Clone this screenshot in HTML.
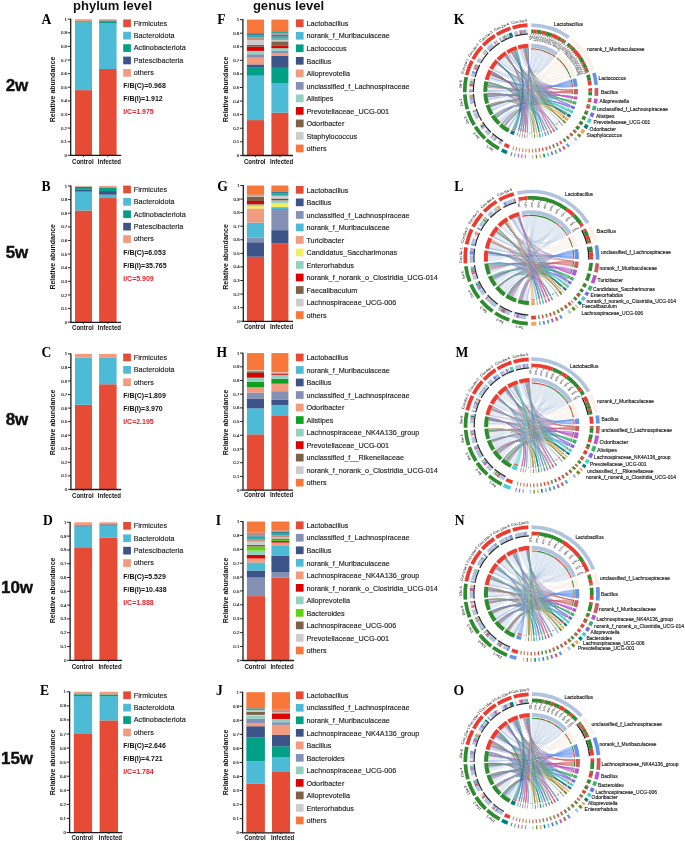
<!DOCTYPE html>
<html lang="en"><head><meta charset="utf-8"><title>Figure</title>
<style>html,body{margin:0;padding:0;background:#fff}svg{display:block;font-family:'Liberation Sans',Arial,sans-serif;fill:#111}text{white-space:pre}.s{font-family:'Liberation Serif','Times New Roman',serif}.t{font-size:2.9px;fill:#000}.k{stroke:#222;stroke-width:.14px}.w{stroke:#111;stroke-width:.4px}.rb path{fill-opacity:.5;stroke-opacity:.75;stroke-width:.2}.rb .c0{fill-opacity:.36;stroke-opacity:.6}.rb .c1{fill-opacity:.5;stroke-opacity:.7}.c0{fill:#B0C4DE;stroke:#B0C4DE}.c1{fill:#FAF0E6;stroke:#FAF0E6}.c2{fill:#6495ED;stroke:#6495ED}.c3{fill:#CD5C5C;stroke:#CD5C5C}.c4{fill:#BA55D3;stroke:#BA55D3}.c5{fill:#3CB371;stroke:#3CB371}.c6{fill:#7B68EE;stroke:#7B68EE}.c7{fill:#48D1CC;stroke:#48D1CC}.c8{fill:#008080;stroke:#008080}.c9{fill:#F4A460;stroke:#F4A460}.c10{fill:#6B8E23;stroke:#6B8E23}</style>
</head><body>
<svg width="685" height="841" viewBox="0 0 685 841">
<rect width="685" height="841" fill="#fff"/>
<text x="112.5" y="10.4" font-size="13" font-weight="bold" text-anchor="middle" textLength="79" lengthAdjust="spacingAndGlyphs">phylum level</text>
<text x="288.5" y="10.4" font-size="13" font-weight="bold" text-anchor="middle" textLength="71.2" lengthAdjust="spacingAndGlyphs">genus level</text>
<text x="17" y="91.1" font-size="17" class="w" font-weight="bold" text-anchor="middle">2w</text>
<text x="17" y="257.7" font-size="17" class="w" font-weight="bold" text-anchor="middle">5w</text>
<text x="17" y="425" font-size="17" class="w" font-weight="bold" text-anchor="middle">8w</text>
<text x="17" y="593" font-size="17" class="w" font-weight="bold" text-anchor="middle">10w</text>
<text x="17" y="763.5" font-size="17" class="w" font-weight="bold" text-anchor="middle">15w</text>
<text x="41.6" y="24.2" font-size="13.6" class="s" font-weight="bold" fill="#000">A</text>
<rect x="75" y="90.11" width="17" height="65.24" fill="#E64B35"/>
<rect x="75" y="22.47" width="17" height="67.69" fill="#4DBBD5"/>
<rect x="75" y="21.24" width="17" height="1.27" fill="#00A087"/>
<rect x="75" y="19.2" width="17" height="2.09" fill="#F39B7F"/>
<rect x="99.1" y="69.01" width="17.5" height="86.34" fill="#E64B35"/>
<rect x="99.1" y="23.42" width="17.5" height="45.64" fill="#4DBBD5"/>
<rect x="99.1" y="21.38" width="17.5" height="2.09" fill="#00A087"/>
<rect x="99.1" y="20.42" width="17.5" height="1" fill="#3C5488"/>
<rect x="99.1" y="19.2" width="17.5" height="1.27" fill="#F39B7F"/>
<path d="M70.7 18.8V155.4H121.2" fill="none" stroke="#1c1c1c" stroke-width="1.3"/>
<path d="M70.7 155.3h-3M70.7 141.69h-3M70.7 128.08h-3M70.7 114.47h-3M70.7 100.86h-3M70.7 87.25h-3M70.7 73.64h-3M70.7 60.03h-3M70.7 46.42h-3M70.7 32.81h-3M70.7 19.2h-3M83.5 155.3v1.6M107.85 155.3v1.6" fill="none" stroke="#1c1c1c" stroke-width="0.95"/>
<text x="67" y="156.85" font-size="4.3" class="k" fill="#222" text-anchor="end">0</text>
<text x="67" y="143.24" font-size="4.3" class="k" fill="#222" text-anchor="end">0.1</text>
<text x="67" y="129.63" font-size="4.3" class="k" fill="#222" text-anchor="end">0.2</text>
<text x="67" y="116.02" font-size="4.3" class="k" fill="#222" text-anchor="end">0.3</text>
<text x="67" y="102.41" font-size="4.3" class="k" fill="#222" text-anchor="end">0.4</text>
<text x="67" y="88.8" font-size="4.3" class="k" fill="#222" text-anchor="end">0.5</text>
<text x="67" y="75.19" font-size="4.3" class="k" fill="#222" text-anchor="end">0.6</text>
<text x="67" y="61.58" font-size="4.3" class="k" fill="#222" text-anchor="end">0.7</text>
<text x="67" y="47.97" font-size="4.3" class="k" fill="#222" text-anchor="end">0.8</text>
<text x="67" y="34.36" font-size="4.3" class="k" fill="#222" text-anchor="end">0.9</text>
<text x="67" y="20.75" font-size="4.3" class="k" fill="#222" text-anchor="end">1</text>
<text x="0" y="0" font-size="7" font-weight="bold" text-anchor="middle" textLength="65.6" lengthAdjust="spacingAndGlyphs" transform="translate(55.2 89.5) rotate(-90)">Relative abundance</text>
<text x="82.8" y="163.7" font-size="6.3" font-weight="bold" text-anchor="middle" textLength="21.6" lengthAdjust="spacingAndGlyphs">Control</text>
<text x="109.45" y="163.7" font-size="6.3" font-weight="bold" text-anchor="middle" textLength="23.2" lengthAdjust="spacingAndGlyphs">Infected</text>
<rect x="123.2" y="19.4" width="7.7" height="7.7" fill="#E64B35"/>
<text x="133.75" y="25.65" font-size="7.25" class="k" fill="#1a1a1a">Firmicutes</text>
<rect x="123.2" y="31.8" width="7.7" height="7.7" fill="#4DBBD5"/>
<text x="133.75" y="38.05" font-size="7.25" class="k" fill="#1a1a1a">Bacteroidota</text>
<rect x="123.2" y="44.2" width="7.7" height="7.7" fill="#00A087"/>
<text x="133.75" y="50.45" font-size="7.25" class="k" fill="#1a1a1a">Actinobacteriota</text>
<rect x="123.2" y="56.6" width="7.7" height="7.7" fill="#3C5488"/>
<text x="133.75" y="62.85" font-size="7.25" class="k" fill="#1a1a1a">Patescibacteria</text>
<rect x="123.2" y="69" width="7.7" height="7.7" fill="#F39B7F"/>
<text x="133.75" y="75.25" font-size="7.25" class="k" fill="#1a1a1a">others</text>
<text x="123.2" y="88.3" font-size="7" font-weight="bold">F/B(C)=0.968</text>
<text x="123.2" y="101.3" font-size="7" font-weight="bold">F/B(I)=1.912</text>
<text x="123.2" y="114.3" font-size="7" font-weight="bold" fill="#E8202A">I/C=1.975</text>
<text x="41.6" y="190.6" font-size="13.6" class="s" font-weight="bold" fill="#000">B</text>
<rect x="75" y="210.52" width="17" height="111.73" fill="#E64B35"/>
<rect x="75" y="191.58" width="17" height="18.98" fill="#4DBBD5"/>
<rect x="75" y="189.41" width="17" height="2.23" fill="#3C5488"/>
<rect x="75" y="186.6" width="17" height="2.86" fill="#00A087"/>
<rect x="75" y="186" width="17" height="0.65" fill="#F39B7F"/>
<rect x="99.1" y="198.05" width="17.5" height="124.2" fill="#E64B35"/>
<rect x="99.1" y="194.64" width="17.5" height="3.47" fill="#4DBBD5"/>
<rect x="99.1" y="191.04" width="17.5" height="3.65" fill="#3C5488"/>
<rect x="99.1" y="187.36" width="17.5" height="3.73" fill="#00A087"/>
<rect x="99.1" y="186" width="17.5" height="1.41" fill="#F39B7F"/>
<path d="M70.9 185.6V322.3H121.2" fill="none" stroke="#1c1c1c" stroke-width="1.3"/>
<path d="M70.9 322.2h-3M70.9 308.58h-3M70.9 294.96h-3M70.9 281.34h-3M70.9 267.72h-3M70.9 254.1h-3M70.9 240.48h-3M70.9 226.86h-3M70.9 213.24h-3M70.9 199.62h-3M70.9 186h-3M83.5 322.2v1.6M107.85 322.2v1.6" fill="none" stroke="#1c1c1c" stroke-width="0.95"/>
<text x="67.2" y="323.75" font-size="4.3" class="k" fill="#222" text-anchor="end">0</text>
<text x="67.2" y="310.13" font-size="4.3" class="k" fill="#222" text-anchor="end">0.1</text>
<text x="67.2" y="296.51" font-size="4.3" class="k" fill="#222" text-anchor="end">0.2</text>
<text x="67.2" y="282.89" font-size="4.3" class="k" fill="#222" text-anchor="end">0.3</text>
<text x="67.2" y="269.27" font-size="4.3" class="k" fill="#222" text-anchor="end">0.4</text>
<text x="67.2" y="255.65" font-size="4.3" class="k" fill="#222" text-anchor="end">0.5</text>
<text x="67.2" y="242.03" font-size="4.3" class="k" fill="#222" text-anchor="end">0.6</text>
<text x="67.2" y="228.41" font-size="4.3" class="k" fill="#222" text-anchor="end">0.7</text>
<text x="67.2" y="214.79" font-size="4.3" class="k" fill="#222" text-anchor="end">0.8</text>
<text x="67.2" y="201.17" font-size="4.3" class="k" fill="#222" text-anchor="end">0.9</text>
<text x="67.2" y="187.55" font-size="4.3" class="k" fill="#222" text-anchor="end">1</text>
<text x="0" y="0" font-size="7" font-weight="bold" text-anchor="middle" textLength="65.6" lengthAdjust="spacingAndGlyphs" transform="translate(55.2 256.8) rotate(-90)">Relative abundance</text>
<text x="82.8" y="329.6" font-size="6.3" font-weight="bold" text-anchor="middle" textLength="21.6" lengthAdjust="spacingAndGlyphs">Control</text>
<text x="109.45" y="329.6" font-size="6.3" font-weight="bold" text-anchor="middle" textLength="23.2" lengthAdjust="spacingAndGlyphs">Infected</text>
<rect x="123.2" y="185.6" width="7.7" height="7.7" fill="#E64B35"/>
<text x="133.75" y="191.85" font-size="7.25" class="k" fill="#1a1a1a">Firmicutes</text>
<rect x="123.2" y="198" width="7.7" height="7.7" fill="#4DBBD5"/>
<text x="133.75" y="204.25" font-size="7.25" class="k" fill="#1a1a1a">Bacteroidota</text>
<rect x="123.2" y="210.4" width="7.7" height="7.7" fill="#00A087"/>
<text x="133.75" y="216.65" font-size="7.25" class="k" fill="#1a1a1a">Actinobacteriota</text>
<rect x="123.2" y="222.8" width="7.7" height="7.7" fill="#3C5488"/>
<text x="133.75" y="229.05" font-size="7.25" class="k" fill="#1a1a1a">Patescibacteria</text>
<rect x="123.2" y="235.2" width="7.7" height="7.7" fill="#F39B7F"/>
<text x="133.75" y="241.45" font-size="7.25" class="k" fill="#1a1a1a">others</text>
<text x="123.2" y="254.5" font-size="7" font-weight="bold">F/B(C)=6.053</text>
<text x="123.2" y="267.5" font-size="7" font-weight="bold">F/B(I)=35.765</text>
<text x="123.2" y="280.5" font-size="7" font-weight="bold" fill="#E8202A">I/C=5.909</text>
<text x="41.6" y="357" font-size="13.6" class="s" font-weight="bold" fill="#000">C</text>
<rect x="75" y="404.71" width="17" height="84.74" fill="#E64B35"/>
<rect x="75" y="357.69" width="17" height="47.07" fill="#4DBBD5"/>
<rect x="75" y="353.9" width="17" height="3.84" fill="#F39B7F"/>
<rect x="99.1" y="384.25" width="17.5" height="105.2" fill="#E64B35"/>
<rect x="99.1" y="357.29" width="17.5" height="27.01" fill="#4DBBD5"/>
<rect x="99.1" y="353.9" width="17.5" height="3.44" fill="#F39B7F"/>
<path d="M70.9 353.5V489.5H121.2" fill="none" stroke="#1c1c1c" stroke-width="1.3"/>
<path d="M70.9 489.4h-3M70.9 475.85h-3M70.9 462.3h-3M70.9 448.75h-3M70.9 435.2h-3M70.9 421.65h-3M70.9 408.1h-3M70.9 394.55h-3M70.9 381h-3M70.9 367.45h-3M70.9 353.9h-3M83.5 489.4v1.6M107.85 489.4v1.6" fill="none" stroke="#1c1c1c" stroke-width="0.95"/>
<text x="67.2" y="490.95" font-size="4.3" class="k" fill="#222" text-anchor="end">0</text>
<text x="67.2" y="477.4" font-size="4.3" class="k" fill="#222" text-anchor="end">0.1</text>
<text x="67.2" y="463.85" font-size="4.3" class="k" fill="#222" text-anchor="end">0.2</text>
<text x="67.2" y="450.3" font-size="4.3" class="k" fill="#222" text-anchor="end">0.3</text>
<text x="67.2" y="436.75" font-size="4.3" class="k" fill="#222" text-anchor="end">0.4</text>
<text x="67.2" y="423.2" font-size="4.3" class="k" fill="#222" text-anchor="end">0.5</text>
<text x="67.2" y="409.65" font-size="4.3" class="k" fill="#222" text-anchor="end">0.6</text>
<text x="67.2" y="396.1" font-size="4.3" class="k" fill="#222" text-anchor="end">0.7</text>
<text x="67.2" y="382.55" font-size="4.3" class="k" fill="#222" text-anchor="end">0.8</text>
<text x="67.2" y="369" font-size="4.3" class="k" fill="#222" text-anchor="end">0.9</text>
<text x="67.2" y="355.45" font-size="4.3" class="k" fill="#222" text-anchor="end">1</text>
<text x="0" y="0" font-size="7" font-weight="bold" text-anchor="middle" textLength="65.6" lengthAdjust="spacingAndGlyphs" transform="translate(55.2 422.5) rotate(-90)">Relative abundance</text>
<text x="82.8" y="497.6" font-size="6.3" font-weight="bold" text-anchor="middle" textLength="21.6" lengthAdjust="spacingAndGlyphs">Control</text>
<text x="109.45" y="497.6" font-size="6.3" font-weight="bold" text-anchor="middle" textLength="23.2" lengthAdjust="spacingAndGlyphs">Infected</text>
<rect x="123.2" y="353.6" width="7.7" height="7.7" fill="#E64B35"/>
<text x="133.75" y="359.85" font-size="7.25" class="k" fill="#1a1a1a">Firmicutes</text>
<rect x="123.2" y="366" width="7.7" height="7.7" fill="#4DBBD5"/>
<text x="133.75" y="372.25" font-size="7.25" class="k" fill="#1a1a1a">Bacteroidota</text>
<rect x="123.2" y="378.4" width="7.7" height="7.7" fill="#F39B7F"/>
<text x="133.75" y="384.65" font-size="7.25" class="k" fill="#1a1a1a">others</text>
<text x="123.2" y="397.7" font-size="7" font-weight="bold">F/B(C)=1.809</text>
<text x="123.2" y="410.7" font-size="7" font-weight="bold">F/B(I)=3.970</text>
<text x="123.2" y="423.7" font-size="7" font-weight="bold" fill="#E8202A">I/C=2.195</text>
<text x="42.9" y="524.7" font-size="13.6" class="s" font-weight="bold" fill="#000">D</text>
<rect x="74.3" y="547.28" width="17.8" height="113.07" fill="#E64B35"/>
<rect x="74.3" y="526.3" width="17.8" height="21.03" fill="#4DBBD5"/>
<rect x="74.3" y="525.34" width="17.8" height="1.02" fill="#3C5488"/>
<rect x="74.3" y="522.3" width="17.8" height="3.09" fill="#F39B7F"/>
<rect x="99.4" y="537.76" width="18" height="122.59" fill="#E64B35"/>
<rect x="99.4" y="525.34" width="18" height="12.47" fill="#4DBBD5"/>
<rect x="99.4" y="524.3" width="18" height="1.09" fill="#3C5488"/>
<rect x="99.4" y="522.3" width="18" height="2.05" fill="#F39B7F"/>
<path d="M70.1 521.9V660.4H122" fill="none" stroke="#1c1c1c" stroke-width="1.3"/>
<path d="M70.1 660.3h-3M70.1 646.5h-3M70.1 632.7h-3M70.1 618.9h-3M70.1 605.1h-3M70.1 591.3h-3M70.1 577.5h-3M70.1 563.7h-3M70.1 549.9h-3M70.1 536.1h-3M70.1 522.3h-3M83.2 660.3v1.6M108.4 660.3v1.6" fill="none" stroke="#1c1c1c" stroke-width="0.95"/>
<text x="66.4" y="661.85" font-size="4.3" class="k" fill="#222" text-anchor="end">0</text>
<text x="66.4" y="648.05" font-size="4.3" class="k" fill="#222" text-anchor="end">0.1</text>
<text x="66.4" y="634.25" font-size="4.3" class="k" fill="#222" text-anchor="end">0.2</text>
<text x="66.4" y="620.45" font-size="4.3" class="k" fill="#222" text-anchor="end">0.3</text>
<text x="66.4" y="606.65" font-size="4.3" class="k" fill="#222" text-anchor="end">0.4</text>
<text x="66.4" y="592.85" font-size="4.3" class="k" fill="#222" text-anchor="end">0.5</text>
<text x="66.4" y="579.05" font-size="4.3" class="k" fill="#222" text-anchor="end">0.6</text>
<text x="66.4" y="565.25" font-size="4.3" class="k" fill="#222" text-anchor="end">0.7</text>
<text x="66.4" y="551.45" font-size="4.3" class="k" fill="#222" text-anchor="end">0.8</text>
<text x="66.4" y="537.65" font-size="4.3" class="k" fill="#222" text-anchor="end">0.9</text>
<text x="66.4" y="523.85" font-size="4.3" class="k" fill="#222" text-anchor="end">1</text>
<text x="0" y="0" font-size="7" font-weight="bold" text-anchor="middle" textLength="65.6" lengthAdjust="spacingAndGlyphs" transform="translate(55.2 590.4) rotate(-90)">Relative abundance</text>
<text x="82.5" y="668.7" font-size="6.3" font-weight="bold" text-anchor="middle" textLength="21.6" lengthAdjust="spacingAndGlyphs">Control</text>
<text x="110" y="668.7" font-size="6.3" font-weight="bold" text-anchor="middle" textLength="23.2" lengthAdjust="spacingAndGlyphs">Infected</text>
<rect x="123.2" y="522" width="7.7" height="7.7" fill="#E64B35"/>
<text x="133.75" y="528.25" font-size="7.25" class="k" fill="#1a1a1a">Firmicutes</text>
<rect x="123.2" y="534.4" width="7.7" height="7.7" fill="#4DBBD5"/>
<text x="133.75" y="540.65" font-size="7.25" class="k" fill="#1a1a1a">Bacteroidota</text>
<rect x="123.2" y="546.8" width="7.7" height="7.7" fill="#3C5488"/>
<text x="133.75" y="553.05" font-size="7.25" class="k" fill="#1a1a1a">Patescibacteria</text>
<rect x="123.2" y="559.2" width="7.7" height="7.7" fill="#F39B7F"/>
<text x="133.75" y="565.45" font-size="7.25" class="k" fill="#1a1a1a">others</text>
<text x="123.2" y="578.5" font-size="7" font-weight="bold">F/B(C)=5.529</text>
<text x="123.2" y="591.5" font-size="7" font-weight="bold">F/B(I)=10.438</text>
<text x="123.2" y="604.5" font-size="7" font-weight="bold" fill="#E8202A">I/C=1.888</text>
<text x="40" y="695.3" font-size="13.6" class="s" font-weight="bold" fill="#000">E</text>
<rect x="73.8" y="733.31" width="18.3" height="99.24" fill="#E64B35"/>
<rect x="73.8" y="696.02" width="18.3" height="37.34" fill="#4DBBD5"/>
<rect x="73.8" y="694.19" width="18.3" height="1.88" fill="#00A087"/>
<rect x="73.8" y="691.8" width="18.3" height="2.44" fill="#F39B7F"/>
<rect x="99.6" y="720.36" width="18.4" height="112.19" fill="#E64B35"/>
<rect x="99.6" y="696.44" width="18.4" height="23.97" fill="#4DBBD5"/>
<rect x="99.6" y="694.39" width="18.4" height="2.1" fill="#00A087"/>
<rect x="99.6" y="691.8" width="18.4" height="2.64" fill="#F39B7F"/>
<path d="M69.6 691.4V832.6H122.6" fill="none" stroke="#1c1c1c" stroke-width="1.3"/>
<path d="M69.6 832.5h-3M69.6 818.43h-3M69.6 804.36h-3M69.6 790.29h-3M69.6 776.22h-3M69.6 762.15h-3M69.6 748.08h-3M69.6 734.01h-3M69.6 719.94h-3M69.6 705.87h-3M69.6 691.8h-3M82.95 832.5v1.6M108.8 832.5v1.6" fill="none" stroke="#1c1c1c" stroke-width="0.95"/>
<text x="65.9" y="834.05" font-size="4.3" class="k" fill="#222" text-anchor="end">0</text>
<text x="65.9" y="819.98" font-size="4.3" class="k" fill="#222" text-anchor="end">0.1</text>
<text x="65.9" y="805.91" font-size="4.3" class="k" fill="#222" text-anchor="end">0.2</text>
<text x="65.9" y="791.84" font-size="4.3" class="k" fill="#222" text-anchor="end">0.3</text>
<text x="65.9" y="777.77" font-size="4.3" class="k" fill="#222" text-anchor="end">0.4</text>
<text x="65.9" y="763.7" font-size="4.3" class="k" fill="#222" text-anchor="end">0.5</text>
<text x="65.9" y="749.63" font-size="4.3" class="k" fill="#222" text-anchor="end">0.6</text>
<text x="65.9" y="735.56" font-size="4.3" class="k" fill="#222" text-anchor="end">0.7</text>
<text x="65.9" y="721.49" font-size="4.3" class="k" fill="#222" text-anchor="end">0.8</text>
<text x="65.9" y="707.42" font-size="4.3" class="k" fill="#222" text-anchor="end">0.9</text>
<text x="65.9" y="693.35" font-size="4.3" class="k" fill="#222" text-anchor="end">1</text>
<text x="0" y="0" font-size="7" font-weight="bold" text-anchor="middle" textLength="65.6" lengthAdjust="spacingAndGlyphs" transform="translate(55.2 762.5) rotate(-90)">Relative abundance</text>
<text x="82.25" y="839.8" font-size="6.3" font-weight="bold" text-anchor="middle" textLength="21.6" lengthAdjust="spacingAndGlyphs">Control</text>
<text x="110.4" y="839.8" font-size="6.3" font-weight="bold" text-anchor="middle" textLength="23.2" lengthAdjust="spacingAndGlyphs">Infected</text>
<rect x="123.2" y="691.4" width="7.7" height="7.7" fill="#E64B35"/>
<text x="133.75" y="697.65" font-size="7.25" class="k" fill="#1a1a1a">Firmicutes</text>
<rect x="123.2" y="703.8" width="7.7" height="7.7" fill="#4DBBD5"/>
<text x="133.75" y="710.05" font-size="7.25" class="k" fill="#1a1a1a">Bacteroidota</text>
<rect x="123.2" y="716.2" width="7.7" height="7.7" fill="#00A087"/>
<text x="133.75" y="722.45" font-size="7.25" class="k" fill="#1a1a1a">Actinobacteriota</text>
<rect x="123.2" y="728.6" width="7.7" height="7.7" fill="#F39B7F"/>
<text x="133.75" y="734.85" font-size="7.25" class="k" fill="#1a1a1a">others</text>
<text x="123.2" y="747.9" font-size="7" font-weight="bold">F/B(C)=2.646</text>
<text x="123.2" y="760.9" font-size="7" font-weight="bold">F/B(I)=4.721</text>
<text x="123.2" y="773.9" font-size="7" font-weight="bold" fill="#E8202A">I/C=1.784</text>
<text x="217.3" y="24.3" font-size="13.6" class="s" font-weight="bold" fill="#000">F</text>
<rect x="246.9" y="120.09" width="17.1" height="35.36" fill="#E64B35"/>
<rect x="246.9" y="75.69" width="17.1" height="44.46" fill="#4DBBD5"/>
<rect x="246.9" y="67.13" width="17.1" height="8.61" fill="#00A087"/>
<rect x="246.9" y="64.41" width="17.1" height="2.77" fill="#3C5488"/>
<rect x="246.9" y="57.62" width="17.1" height="6.84" fill="#F39B7F"/>
<rect x="246.9" y="54.23" width="17.1" height="3.44" fill="#8491B4"/>
<rect x="246.9" y="50.83" width="17.1" height="3.45" fill="#91D1C2"/>
<rect x="246.9" y="46.76" width="17.1" height="4.12" fill="#DC0000"/>
<rect x="246.9" y="44.72" width="17.1" height="2.09" fill="#7E6148"/>
<rect x="246.9" y="39.97" width="17.1" height="4.8" fill="#CCCCCC"/>
<rect x="246.9" y="37.53" width="17.1" height="2.49" fill="#C98F80"/>
<rect x="246.9" y="35.22" width="17.1" height="2.36" fill="#2FA9A4"/>
<rect x="246.9" y="33.18" width="17.1" height="2.09" fill="#2E7F98"/>
<rect x="246.9" y="19.6" width="17.1" height="13.63" fill="#F8773B"/>
<rect x="271.4" y="112.62" width="17" height="42.83" fill="#E64B35"/>
<rect x="271.4" y="83.43" width="17" height="29.25" fill="#4DBBD5"/>
<rect x="271.4" y="67.81" width="17" height="15.67" fill="#00A087"/>
<rect x="271.4" y="55.59" width="17" height="12.27" fill="#3C5488"/>
<rect x="271.4" y="53.55" width="17" height="2.09" fill="#F39B7F"/>
<rect x="271.4" y="50.83" width="17" height="2.77" fill="#8491B4"/>
<rect x="271.4" y="48.12" width="17" height="2.77" fill="#91D1C2"/>
<rect x="271.4" y="45.4" width="17" height="2.77" fill="#DC0000"/>
<rect x="271.4" y="41.33" width="17" height="4.12" fill="#7E6148"/>
<rect x="271.4" y="39.97" width="17" height="1.41" fill="#CCCCCC"/>
<rect x="271.4" y="38.61" width="17" height="1.41" fill="#C98F80"/>
<rect x="271.4" y="36.57" width="17" height="2.09" fill="#2FA9A4"/>
<rect x="271.4" y="34.81" width="17" height="1.82" fill="#2E7F98"/>
<rect x="271.4" y="33.18" width="17" height="1.68" fill="#B08A96"/>
<rect x="271.4" y="31.14" width="17" height="2.09" fill="#2FA9A4"/>
<rect x="271.4" y="19.6" width="17" height="11.59" fill="#F8773B"/>
<path d="M242.9 19.2V155.5H293" fill="none" stroke="#1c1c1c" stroke-width="1.3"/>
<path d="M242.9 155.4h-3M242.9 141.82h-3M242.9 128.24h-3M242.9 114.66h-3M242.9 101.08h-3M242.9 87.5h-3M242.9 73.92h-3M242.9 60.34h-3M242.9 46.76h-3M242.9 33.18h-3M242.9 19.6h-3M255.45 155.4v1.6M279.9 155.4v1.6" fill="none" stroke="#1c1c1c" stroke-width="0.95"/>
<text x="239.2" y="156.95" font-size="4.3" class="k" fill="#222" text-anchor="end">0</text>
<text x="239.2" y="143.37" font-size="4.3" class="k" fill="#222" text-anchor="end">0.1</text>
<text x="239.2" y="129.79" font-size="4.3" class="k" fill="#222" text-anchor="end">0.2</text>
<text x="239.2" y="116.21" font-size="4.3" class="k" fill="#222" text-anchor="end">0.3</text>
<text x="239.2" y="102.63" font-size="4.3" class="k" fill="#222" text-anchor="end">0.4</text>
<text x="239.2" y="89.05" font-size="4.3" class="k" fill="#222" text-anchor="end">0.5</text>
<text x="239.2" y="75.47" font-size="4.3" class="k" fill="#222" text-anchor="end">0.6</text>
<text x="239.2" y="61.89" font-size="4.3" class="k" fill="#222" text-anchor="end">0.7</text>
<text x="239.2" y="48.31" font-size="4.3" class="k" fill="#222" text-anchor="end">0.8</text>
<text x="239.2" y="34.73" font-size="4.3" class="k" fill="#222" text-anchor="end">0.9</text>
<text x="239.2" y="21.15" font-size="4.3" class="k" fill="#222" text-anchor="end">1</text>
<text x="0" y="0" font-size="7" font-weight="bold" text-anchor="middle" textLength="65.6" lengthAdjust="spacingAndGlyphs" transform="translate(228 89.5) rotate(-90)">Relative abundance</text>
<text x="254.75" y="163.8" font-size="6.3" font-weight="bold" text-anchor="middle" textLength="21.6" lengthAdjust="spacingAndGlyphs">Control</text>
<text x="281.5" y="163.8" font-size="6.3" font-weight="bold" text-anchor="middle" textLength="23.2" lengthAdjust="spacingAndGlyphs">Infected</text>
<rect x="295.9" y="19.4" width="7.7" height="7.7" fill="#E64B35"/>
<text x="306.45" y="25.95" font-size="7.25" class="k" fill="#1a1a1a">Lactobacillus</text>
<rect x="295.9" y="31.92" width="7.7" height="7.7" fill="#4DBBD5"/>
<text x="306.45" y="38.47" font-size="7.25" class="k" fill="#1a1a1a">norank_f_Muribaculaceae</text>
<rect x="295.9" y="44.44" width="7.7" height="7.7" fill="#00A087"/>
<text x="306.45" y="50.99" font-size="7.25" class="k" fill="#1a1a1a">Lactococcus</text>
<rect x="295.9" y="56.96" width="7.7" height="7.7" fill="#3C5488"/>
<text x="306.45" y="63.51" font-size="7.25" class="k" fill="#1a1a1a">Bacillus</text>
<rect x="295.9" y="69.48" width="7.7" height="7.7" fill="#F39B7F"/>
<text x="306.45" y="76.03" font-size="7.25" class="k" fill="#1a1a1a">Alloprevotella</text>
<rect x="295.9" y="82" width="7.7" height="7.7" fill="#8491B4"/>
<text x="306.45" y="88.55" font-size="7.25" class="k" fill="#1a1a1a">unclassified_f_Lachnospiraceae</text>
<rect x="295.9" y="94.52" width="7.7" height="7.7" fill="#91D1C2"/>
<text x="306.45" y="101.07" font-size="7.25" class="k" fill="#1a1a1a">Alistipes</text>
<rect x="295.9" y="107.04" width="7.7" height="7.7" fill="#DC0000"/>
<text x="306.45" y="113.59" font-size="7.25" class="k" fill="#1a1a1a">Prevotellaceae_UCG-001</text>
<rect x="295.9" y="119.56" width="7.7" height="7.7" fill="#7E6148"/>
<text x="306.45" y="126.11" font-size="7.25" class="k" fill="#1a1a1a">Odoribacter</text>
<rect x="295.9" y="132.08" width="7.7" height="7.7" fill="#CCCCCC"/>
<text x="306.45" y="138.63" font-size="7.25" class="k" fill="#1a1a1a">Staphylococcus</text>
<rect x="295.9" y="144.6" width="7.7" height="7.7" fill="#F8773B"/>
<text x="306.45" y="151.15" font-size="7.25" class="k" fill="#1a1a1a">others</text>
<text x="217.3" y="190.6" font-size="13.6" class="s" font-weight="bold" fill="#000">G</text>
<rect x="246.9" y="256.66" width="17.1" height="64.59" fill="#E64B35"/>
<rect x="246.9" y="242.22" width="17.1" height="14.49" fill="#3C5488"/>
<rect x="246.9" y="237.74" width="17.1" height="4.53" fill="#8491B4"/>
<rect x="246.9" y="222.55" width="17.1" height="15.25" fill="#4DBBD5"/>
<rect x="246.9" y="208.43" width="17.1" height="14.16" fill="#F39B7F"/>
<rect x="246.9" y="205.99" width="17.1" height="2.49" fill="#F2EE5E"/>
<rect x="246.9" y="204.23" width="17.1" height="1.81" fill="#91D1C2"/>
<rect x="246.9" y="200.97" width="17.1" height="3.31" fill="#DC0000"/>
<rect x="246.9" y="196.49" width="17.1" height="4.53" fill="#7E6148"/>
<rect x="246.9" y="195.54" width="17.1" height="1" fill="#CCCCCC"/>
<rect x="246.9" y="194.73" width="17.1" height="0.86" fill="#2FA9A4"/>
<rect x="246.9" y="185.5" width="17.1" height="9.28" fill="#F8773B"/>
<rect x="271.4" y="243.44" width="17" height="77.81" fill="#E64B35"/>
<rect x="271.4" y="230.15" width="17" height="13.35" fill="#3C5488"/>
<rect x="271.4" y="208.98" width="17" height="21.22" fill="#8491B4"/>
<rect x="271.4" y="207.08" width="17" height="1.95" fill="#4DBBD5"/>
<rect x="271.4" y="203.01" width="17" height="4.12" fill="#F2EE5E"/>
<rect x="271.4" y="200.16" width="17" height="2.9" fill="#91D1C2"/>
<rect x="271.4" y="199.07" width="17" height="1.14" fill="#DC0000"/>
<rect x="271.4" y="198.53" width="17" height="0.59" fill="#7E6148"/>
<rect x="271.4" y="195.95" width="17" height="2.63" fill="#CCCCCC"/>
<rect x="271.4" y="195" width="17" height="1" fill="#C98F80"/>
<rect x="271.4" y="192.96" width="17" height="2.09" fill="#2FA9A4"/>
<rect x="271.4" y="191.34" width="17" height="1.68" fill="#2E7F98"/>
<rect x="271.4" y="185.5" width="17" height="5.89" fill="#F8773B"/>
<path d="M243.3 185.1V321.3H293" fill="none" stroke="#1c1c1c" stroke-width="1.3"/>
<path d="M243.3 321.2h-3M243.3 307.63h-3M243.3 294.06h-3M243.3 280.49h-3M243.3 266.92h-3M243.3 253.35h-3M243.3 239.78h-3M243.3 226.21h-3M243.3 212.64h-3M243.3 199.07h-3M243.3 185.5h-3M255.45 321.2v1.6M279.9 321.2v1.6" fill="none" stroke="#1c1c1c" stroke-width="0.95"/>
<text x="239.6" y="322.75" font-size="4.3" class="k" fill="#222" text-anchor="end">0</text>
<text x="239.6" y="309.18" font-size="4.3" class="k" fill="#222" text-anchor="end">0.1</text>
<text x="239.6" y="295.61" font-size="4.3" class="k" fill="#222" text-anchor="end">0.2</text>
<text x="239.6" y="282.04" font-size="4.3" class="k" fill="#222" text-anchor="end">0.3</text>
<text x="239.6" y="268.47" font-size="4.3" class="k" fill="#222" text-anchor="end">0.4</text>
<text x="239.6" y="254.9" font-size="4.3" class="k" fill="#222" text-anchor="end">0.5</text>
<text x="239.6" y="241.33" font-size="4.3" class="k" fill="#222" text-anchor="end">0.6</text>
<text x="239.6" y="227.76" font-size="4.3" class="k" fill="#222" text-anchor="end">0.7</text>
<text x="239.6" y="214.19" font-size="4.3" class="k" fill="#222" text-anchor="end">0.8</text>
<text x="239.6" y="200.62" font-size="4.3" class="k" fill="#222" text-anchor="end">0.9</text>
<text x="239.6" y="187.05" font-size="4.3" class="k" fill="#222" text-anchor="end">1</text>
<text x="0" y="0" font-size="7" font-weight="bold" text-anchor="middle" textLength="65.6" lengthAdjust="spacingAndGlyphs" transform="translate(228 257) rotate(-90)">Relative abundance</text>
<text x="254.75" y="329.4" font-size="6.3" font-weight="bold" text-anchor="middle" textLength="21.6" lengthAdjust="spacingAndGlyphs">Control</text>
<text x="281.5" y="329.4" font-size="6.3" font-weight="bold" text-anchor="middle" textLength="23.2" lengthAdjust="spacingAndGlyphs">Infected</text>
<rect x="295.9" y="186" width="7.7" height="7.7" fill="#E64B35"/>
<text x="306.45" y="192.55" font-size="7.25" class="k" fill="#1a1a1a">Lactobacillus</text>
<rect x="295.9" y="198.52" width="7.7" height="7.7" fill="#3C5488"/>
<text x="306.45" y="205.07" font-size="7.25" class="k" fill="#1a1a1a">Bacillus</text>
<rect x="295.9" y="211.04" width="7.7" height="7.7" fill="#8491B4"/>
<text x="306.45" y="217.59" font-size="7.25" class="k" fill="#1a1a1a">unclassified_f_Lachnospiraceae</text>
<rect x="295.9" y="223.56" width="7.7" height="7.7" fill="#4DBBD5"/>
<text x="306.45" y="230.11" font-size="7.25" class="k" fill="#1a1a1a">norank_f_Muribaculaceae</text>
<rect x="295.9" y="236.08" width="7.7" height="7.7" fill="#F39B7F"/>
<text x="306.45" y="242.63" font-size="7.25" class="k" fill="#1a1a1a">Turicibacter</text>
<rect x="295.9" y="248.6" width="7.7" height="7.7" fill="#F2EE5E"/>
<text x="306.45" y="255.15" font-size="7.25" class="k" fill="#1a1a1a">Candidatus_Saccharimonas</text>
<rect x="295.9" y="261.12" width="7.7" height="7.7" fill="#91D1C2"/>
<text x="306.45" y="267.67" font-size="7.25" class="k" fill="#1a1a1a">Enterorhabdus</text>
<rect x="295.9" y="273.64" width="7.7" height="7.7" fill="#DC0000"/>
<text x="306.45" y="280.19" font-size="7.25" class="k" fill="#1a1a1a">norank_f_norank_o_Clostridia_UCG-014</text>
<rect x="295.9" y="286.16" width="7.7" height="7.7" fill="#7E6148"/>
<text x="306.45" y="292.71" font-size="7.25" class="k" fill="#1a1a1a">Faecalibaculum</text>
<rect x="295.9" y="298.68" width="7.7" height="7.7" fill="#CCCCCC"/>
<text x="306.45" y="305.23" font-size="7.25" class="k" fill="#1a1a1a">Lachnospiraceae_UCG-006</text>
<rect x="295.9" y="311.2" width="7.7" height="7.7" fill="#F8773B"/>
<text x="306.45" y="317.75" font-size="7.25" class="k" fill="#1a1a1a">others</text>
<text x="216.6" y="357" font-size="13.6" class="s" font-weight="bold" fill="#000">H</text>
<rect x="246.9" y="434.34" width="17.1" height="55.81" fill="#E64B35"/>
<rect x="246.9" y="408.31" width="17.1" height="26.08" fill="#4DBBD5"/>
<rect x="246.9" y="398.86" width="17.1" height="9.5" fill="#3C5488"/>
<rect x="246.9" y="392.56" width="17.1" height="6.35" fill="#8491B4"/>
<rect x="246.9" y="387.21" width="17.1" height="5.39" fill="#F39B7F"/>
<rect x="246.9" y="381.6" width="17.1" height="5.67" fill="#10A020"/>
<rect x="246.9" y="377.62" width="17.1" height="4.02" fill="#91D1C2"/>
<rect x="246.9" y="372.83" width="17.1" height="4.85" fill="#DC0000"/>
<rect x="246.9" y="371.18" width="17.1" height="1.69" fill="#7E6148"/>
<rect x="246.9" y="370.09" width="17.1" height="1.15" fill="#CCCCCC"/>
<rect x="246.9" y="353.1" width="17.1" height="17.04" fill="#F8773B"/>
<rect x="271.4" y="415.3" width="17" height="74.85" fill="#E64B35"/>
<rect x="271.4" y="404.89" width="17" height="10.46" fill="#4DBBD5"/>
<rect x="271.4" y="399.82" width="17" height="5.12" fill="#3C5488"/>
<rect x="271.4" y="391.19" width="17" height="8.68" fill="#8491B4"/>
<rect x="271.4" y="383.65" width="17" height="7.59" fill="#F39B7F"/>
<rect x="271.4" y="378.72" width="17" height="4.98" fill="#10A020"/>
<rect x="271.4" y="374.75" width="17" height="4.02" fill="#91D1C2"/>
<rect x="271.4" y="373.79" width="17" height="1.01" fill="#DC0000"/>
<rect x="271.4" y="373.24" width="17" height="0.6" fill="#7E6148"/>
<rect x="271.4" y="372.14" width="17" height="1.15" fill="#CCCCCC"/>
<rect x="271.4" y="353.1" width="17" height="19.09" fill="#F8773B"/>
<path d="M243 352.7V490.2H293" fill="none" stroke="#1c1c1c" stroke-width="1.3"/>
<path d="M243 490.1h-3M243 476.4h-3M243 462.7h-3M243 449h-3M243 435.3h-3M243 421.6h-3M243 407.9h-3M243 394.2h-3M243 380.5h-3M243 366.8h-3M243 353.1h-3M255.45 490.1v1.6M279.9 490.1v1.6" fill="none" stroke="#1c1c1c" stroke-width="0.95"/>
<text x="239.3" y="491.65" font-size="4.3" class="k" fill="#222" text-anchor="end">0</text>
<text x="239.3" y="477.95" font-size="4.3" class="k" fill="#222" text-anchor="end">0.1</text>
<text x="239.3" y="464.25" font-size="4.3" class="k" fill="#222" text-anchor="end">0.2</text>
<text x="239.3" y="450.55" font-size="4.3" class="k" fill="#222" text-anchor="end">0.3</text>
<text x="239.3" y="436.85" font-size="4.3" class="k" fill="#222" text-anchor="end">0.4</text>
<text x="239.3" y="423.15" font-size="4.3" class="k" fill="#222" text-anchor="end">0.5</text>
<text x="239.3" y="409.45" font-size="4.3" class="k" fill="#222" text-anchor="end">0.6</text>
<text x="239.3" y="395.75" font-size="4.3" class="k" fill="#222" text-anchor="end">0.7</text>
<text x="239.3" y="382.05" font-size="4.3" class="k" fill="#222" text-anchor="end">0.8</text>
<text x="239.3" y="368.35" font-size="4.3" class="k" fill="#222" text-anchor="end">0.9</text>
<text x="239.3" y="354.65" font-size="4.3" class="k" fill="#222" text-anchor="end">1</text>
<text x="0" y="0" font-size="7" font-weight="bold" text-anchor="middle" textLength="65.6" lengthAdjust="spacingAndGlyphs" transform="translate(228 422.5) rotate(-90)">Relative abundance</text>
<text x="254.75" y="497.4" font-size="6.3" font-weight="bold" text-anchor="middle" textLength="21.6" lengthAdjust="spacingAndGlyphs">Control</text>
<text x="281.5" y="497.4" font-size="6.3" font-weight="bold" text-anchor="middle" textLength="23.2" lengthAdjust="spacingAndGlyphs">Infected</text>
<rect x="295.9" y="353.6" width="7.7" height="7.7" fill="#E64B35"/>
<text x="306.45" y="360.15" font-size="7.25" class="k" fill="#1a1a1a">Lactobacillus</text>
<rect x="295.9" y="366.12" width="7.7" height="7.7" fill="#4DBBD5"/>
<text x="306.45" y="372.67" font-size="7.25" class="k" fill="#1a1a1a">norank_f_Muribaculaceae</text>
<rect x="295.9" y="378.64" width="7.7" height="7.7" fill="#3C5488"/>
<text x="306.45" y="385.19" font-size="7.25" class="k" fill="#1a1a1a">Bacillus</text>
<rect x="295.9" y="391.16" width="7.7" height="7.7" fill="#8491B4"/>
<text x="306.45" y="397.71" font-size="7.25" class="k" fill="#1a1a1a">unclassified_f_Lachnospiraceae</text>
<rect x="295.9" y="403.68" width="7.7" height="7.7" fill="#F39B7F"/>
<text x="306.45" y="410.23" font-size="7.25" class="k" fill="#1a1a1a">Odoribacter</text>
<rect x="295.9" y="416.2" width="7.7" height="7.7" fill="#10A020"/>
<text x="306.45" y="422.75" font-size="7.25" class="k" fill="#1a1a1a">Alistipes</text>
<rect x="295.9" y="428.72" width="7.7" height="7.7" fill="#91D1C2"/>
<text x="306.45" y="435.27" font-size="7.25" class="k" fill="#1a1a1a">Lachnospiraceae_NK4A136_group</text>
<rect x="295.9" y="441.24" width="7.7" height="7.7" fill="#DC0000"/>
<text x="306.45" y="447.79" font-size="7.25" class="k" fill="#1a1a1a">Prevotellaceae_UCG-001</text>
<rect x="295.9" y="453.76" width="7.7" height="7.7" fill="#7E6148"/>
<text x="306.45" y="460.31" font-size="7.25" class="k" fill="#1a1a1a">unclassified_f__Rikenellaceae</text>
<rect x="295.9" y="466.28" width="7.7" height="7.7" fill="#CCCCCC"/>
<text x="306.45" y="472.83" font-size="7.25" class="k" fill="#1a1a1a">norank_f_norank_o_Clostridia_UCG-014</text>
<rect x="295.9" y="478.8" width="7.7" height="7.7" fill="#F8773B"/>
<text x="306.45" y="485.35" font-size="7.25" class="k" fill="#1a1a1a">others</text>
<text x="215.8" y="525" font-size="13.6" class="s" font-weight="bold" fill="#000">I</text>
<rect x="246.9" y="596.09" width="18.1" height="64.36" fill="#E64B35"/>
<rect x="246.9" y="577.48" width="18.1" height="18.66" fill="#8491B4"/>
<rect x="246.9" y="570.53" width="18.1" height="6.99" fill="#3C5488"/>
<rect x="246.9" y="562.48" width="18.1" height="8.11" fill="#4DBBD5"/>
<rect x="246.9" y="558.45" width="18.1" height="4.08" fill="#F39B7F"/>
<rect x="246.9" y="554.84" width="18.1" height="3.66" fill="#DC0000"/>
<rect x="246.9" y="550.53" width="18.1" height="4.36" fill="#91D1C2"/>
<rect x="246.9" y="546.5" width="18.1" height="4.08" fill="#5FD40A"/>
<rect x="246.9" y="544.84" width="18.1" height="1.72" fill="#7E6148"/>
<rect x="246.9" y="541.5" width="18.1" height="3.38" fill="#CCCCCC"/>
<rect x="246.9" y="539.56" width="18.1" height="1.99" fill="#C98F80"/>
<rect x="246.9" y="536.5" width="18.1" height="3.11" fill="#2FA9A4"/>
<rect x="246.9" y="535.39" width="18.1" height="1.16" fill="#2E7F98"/>
<rect x="246.9" y="532.61" width="18.1" height="2.83" fill="#B08A96"/>
<rect x="246.9" y="521.5" width="18.1" height="11.16" fill="#F8773B"/>
<rect x="271.4" y="577.48" width="18" height="82.97" fill="#E64B35"/>
<rect x="271.4" y="572.06" width="18" height="5.47" fill="#8491B4"/>
<rect x="271.4" y="555.53" width="18" height="16.58" fill="#3C5488"/>
<rect x="271.4" y="545.95" width="18" height="9.63" fill="#4DBBD5"/>
<rect x="271.4" y="542.47" width="18" height="3.52" fill="#F39B7F"/>
<rect x="271.4" y="540.95" width="18" height="1.58" fill="#DC0000"/>
<rect x="271.4" y="539.83" width="18" height="1.16" fill="#5FD40A"/>
<rect x="271.4" y="538.45" width="18" height="1.44" fill="#7E6148"/>
<rect x="271.4" y="537.47" width="18" height="1.02" fill="#CCCCCC"/>
<rect x="271.4" y="535.39" width="18" height="2.13" fill="#C98F80"/>
<rect x="271.4" y="533.03" width="18" height="2.41" fill="#2FA9A4"/>
<rect x="271.4" y="531.5" width="18" height="1.58" fill="#2E7F98"/>
<rect x="271.4" y="530.53" width="18" height="1.02" fill="#B08A96"/>
<rect x="271.4" y="521.5" width="18" height="9.08" fill="#F8773B"/>
<path d="M243 521.1V660.5H294" fill="none" stroke="#1c1c1c" stroke-width="1.3"/>
<path d="M243 660.4h-3M243 646.51h-3M243 632.62h-3M243 618.73h-3M243 604.84h-3M243 590.95h-3M243 577.06h-3M243 563.17h-3M243 549.28h-3M243 535.39h-3M243 521.5h-3M255.95 660.4v1.6M280.4 660.4v1.6" fill="none" stroke="#1c1c1c" stroke-width="0.95"/>
<text x="239.3" y="661.95" font-size="4.3" class="k" fill="#222" text-anchor="end">0</text>
<text x="239.3" y="648.06" font-size="4.3" class="k" fill="#222" text-anchor="end">0.1</text>
<text x="239.3" y="634.17" font-size="4.3" class="k" fill="#222" text-anchor="end">0.2</text>
<text x="239.3" y="620.28" font-size="4.3" class="k" fill="#222" text-anchor="end">0.3</text>
<text x="239.3" y="606.39" font-size="4.3" class="k" fill="#222" text-anchor="end">0.4</text>
<text x="239.3" y="592.5" font-size="4.3" class="k" fill="#222" text-anchor="end">0.5</text>
<text x="239.3" y="578.61" font-size="4.3" class="k" fill="#222" text-anchor="end">0.6</text>
<text x="239.3" y="564.72" font-size="4.3" class="k" fill="#222" text-anchor="end">0.7</text>
<text x="239.3" y="550.83" font-size="4.3" class="k" fill="#222" text-anchor="end">0.8</text>
<text x="239.3" y="536.94" font-size="4.3" class="k" fill="#222" text-anchor="end">0.9</text>
<text x="239.3" y="523.05" font-size="4.3" class="k" fill="#222" text-anchor="end">1</text>
<text x="0" y="0" font-size="7" font-weight="bold" text-anchor="middle" textLength="65.6" lengthAdjust="spacingAndGlyphs" transform="translate(228 590.5) rotate(-90)">Relative abundance</text>
<text x="255.25" y="668.9" font-size="6.3" font-weight="bold" text-anchor="middle" textLength="21.6" lengthAdjust="spacingAndGlyphs">Control</text>
<text x="282" y="668.9" font-size="6.3" font-weight="bold" text-anchor="middle" textLength="23.2" lengthAdjust="spacingAndGlyphs">Infected</text>
<rect x="295.9" y="521.4" width="7.7" height="7.7" fill="#E64B35"/>
<text x="306.45" y="527.95" font-size="7.25" class="k" fill="#1a1a1a">Lactobacillus</text>
<rect x="295.9" y="533.92" width="7.7" height="7.7" fill="#8491B4"/>
<text x="306.45" y="540.47" font-size="7.25" class="k" fill="#1a1a1a">unclassified_f_Lachnospiraceae</text>
<rect x="295.9" y="546.44" width="7.7" height="7.7" fill="#3C5488"/>
<text x="306.45" y="552.99" font-size="7.25" class="k" fill="#1a1a1a">Bacillus</text>
<rect x="295.9" y="558.96" width="7.7" height="7.7" fill="#4DBBD5"/>
<text x="306.45" y="565.51" font-size="7.25" class="k" fill="#1a1a1a">norank_f_Muribaculaceae</text>
<rect x="295.9" y="571.48" width="7.7" height="7.7" fill="#F39B7F"/>
<text x="306.45" y="578.03" font-size="7.25" class="k" fill="#1a1a1a">Lachnospiraceae_NK4A136_group</text>
<rect x="295.9" y="584" width="7.7" height="7.7" fill="#DC0000"/>
<text x="306.45" y="590.55" font-size="7.25" class="k" fill="#1a1a1a">norank_f_norank_o_Clostridia_UCG-014</text>
<rect x="295.9" y="596.52" width="7.7" height="7.7" fill="#91D1C2"/>
<text x="306.45" y="603.07" font-size="7.25" class="k" fill="#1a1a1a">Alloprevotella</text>
<rect x="295.9" y="609.04" width="7.7" height="7.7" fill="#5FD40A"/>
<text x="306.45" y="615.59" font-size="7.25" class="k" fill="#1a1a1a">Bacteroides</text>
<rect x="295.9" y="621.56" width="7.7" height="7.7" fill="#7E6148"/>
<text x="306.45" y="628.11" font-size="7.25" class="k" fill="#1a1a1a">Lachnospiraceae_UCG-006</text>
<rect x="295.9" y="634.08" width="7.7" height="7.7" fill="#CCCCCC"/>
<text x="306.45" y="640.63" font-size="7.25" class="k" fill="#1a1a1a">Prevotellaceae_UCG-001</text>
<rect x="295.9" y="646.6" width="7.7" height="7.7" fill="#F8773B"/>
<text x="306.45" y="653.15" font-size="7.25" class="k" fill="#1a1a1a">others</text>
<text x="216" y="694.7" font-size="13.6" class="s" font-weight="bold" fill="#000">J</text>
<rect x="246.35" y="783.67" width="18.55" height="49.08" fill="#E64B35"/>
<rect x="246.35" y="761.26" width="18.55" height="22.46" fill="#4DBBD5"/>
<rect x="246.35" y="737.3" width="18.55" height="24.01" fill="#00A087"/>
<rect x="246.35" y="726.2" width="18.55" height="11.15" fill="#3C5488"/>
<rect x="246.35" y="723.25" width="18.55" height="3" fill="#F39B7F"/>
<rect x="246.35" y="718.61" width="18.55" height="4.69" fill="#8491B4"/>
<rect x="246.35" y="715.66" width="18.55" height="3" fill="#91D1C2"/>
<rect x="246.35" y="714.82" width="18.55" height="0.89" fill="#CCCCCC"/>
<rect x="246.35" y="711.59" width="18.55" height="3.28" fill="#7E6148"/>
<rect x="246.35" y="710.18" width="18.55" height="1.45" fill="#CCCCCC"/>
<rect x="246.35" y="708.22" width="18.55" height="2.02" fill="#2FA9A4"/>
<rect x="246.35" y="692.2" width="18.55" height="16.07" fill="#F8773B"/>
<rect x="272" y="771.3" width="18" height="61.45" fill="#E64B35"/>
<rect x="272" y="757.25" width="18" height="14.1" fill="#4DBBD5"/>
<rect x="272" y="746.29" width="18" height="11.01" fill="#00A087"/>
<rect x="272" y="734.77" width="18" height="11.57" fill="#3C5488"/>
<rect x="272" y="724.8" width="18" height="10.03" fill="#F39B7F"/>
<rect x="272" y="722.27" width="18" height="2.58" fill="#8491B4"/>
<rect x="272" y="718.89" width="18" height="3.42" fill="#91D1C2"/>
<rect x="272" y="713.28" width="18" height="5.67" fill="#DC0000"/>
<rect x="272" y="712.29" width="18" height="1.03" fill="#CCCCCC"/>
<rect x="272" y="709.2" width="18" height="3.14" fill="#C98F80"/>
<rect x="272" y="692.2" width="18" height="17.05" fill="#F8773B"/>
<path d="M242.6 691.8V832.8H294.6" fill="none" stroke="#1c1c1c" stroke-width="1.3"/>
<path d="M242.6 832.7h-3M242.6 818.65h-3M242.6 804.6h-3M242.6 790.55h-3M242.6 776.5h-3M242.6 762.45h-3M242.6 748.4h-3M242.6 734.35h-3M242.6 720.3h-3M242.6 706.25h-3M242.6 692.2h-3M255.62 832.7v1.6M281 832.7v1.6" fill="none" stroke="#1c1c1c" stroke-width="0.95"/>
<text x="238.9" y="834.25" font-size="4.3" class="k" fill="#222" text-anchor="end">0</text>
<text x="238.9" y="820.2" font-size="4.3" class="k" fill="#222" text-anchor="end">0.1</text>
<text x="238.9" y="806.15" font-size="4.3" class="k" fill="#222" text-anchor="end">0.2</text>
<text x="238.9" y="792.1" font-size="4.3" class="k" fill="#222" text-anchor="end">0.3</text>
<text x="238.9" y="778.05" font-size="4.3" class="k" fill="#222" text-anchor="end">0.4</text>
<text x="238.9" y="764" font-size="4.3" class="k" fill="#222" text-anchor="end">0.5</text>
<text x="238.9" y="749.95" font-size="4.3" class="k" fill="#222" text-anchor="end">0.6</text>
<text x="238.9" y="735.9" font-size="4.3" class="k" fill="#222" text-anchor="end">0.7</text>
<text x="238.9" y="721.85" font-size="4.3" class="k" fill="#222" text-anchor="end">0.8</text>
<text x="238.9" y="707.8" font-size="4.3" class="k" fill="#222" text-anchor="end">0.9</text>
<text x="238.9" y="693.75" font-size="4.3" class="k" fill="#222" text-anchor="end">1</text>
<text x="0" y="0" font-size="7" font-weight="bold" text-anchor="middle" textLength="65.6" lengthAdjust="spacingAndGlyphs" transform="translate(228 762.5) rotate(-90)">Relative abundance</text>
<text x="254.93" y="839.7" font-size="6.3" font-weight="bold" text-anchor="middle" textLength="21.6" lengthAdjust="spacingAndGlyphs">Control</text>
<text x="282.6" y="839.7" font-size="6.3" font-weight="bold" text-anchor="middle" textLength="23.2" lengthAdjust="spacingAndGlyphs">Infected</text>
<rect x="295.9" y="691.4" width="7.7" height="7.7" fill="#E64B35"/>
<text x="306.45" y="697.95" font-size="7.25" class="k" fill="#1a1a1a">Lactobacillus</text>
<rect x="295.9" y="703.92" width="7.7" height="7.7" fill="#4DBBD5"/>
<text x="306.45" y="710.47" font-size="7.25" class="k" fill="#1a1a1a">unclassified_f_Lachnospiraceae</text>
<rect x="295.9" y="716.44" width="7.7" height="7.7" fill="#00A087"/>
<text x="306.45" y="722.99" font-size="7.25" class="k" fill="#1a1a1a">norank_f_Muribaculaceae</text>
<rect x="295.9" y="728.96" width="7.7" height="7.7" fill="#3C5488"/>
<text x="306.45" y="735.51" font-size="7.25" class="k" fill="#1a1a1a">Lachnospiraceae_NK4A136_group</text>
<rect x="295.9" y="741.48" width="7.7" height="7.7" fill="#F39B7F"/>
<text x="306.45" y="748.03" font-size="7.25" class="k" fill="#1a1a1a">Bacillus</text>
<rect x="295.9" y="754" width="7.7" height="7.7" fill="#8491B4"/>
<text x="306.45" y="760.55" font-size="7.25" class="k" fill="#1a1a1a">Bacteroides</text>
<rect x="295.9" y="766.52" width="7.7" height="7.7" fill="#91D1C2"/>
<text x="306.45" y="773.07" font-size="7.25" class="k" fill="#1a1a1a">Lachnospiraceae_UCG-006</text>
<rect x="295.9" y="779.04" width="7.7" height="7.7" fill="#DC0000"/>
<text x="306.45" y="785.59" font-size="7.25" class="k" fill="#1a1a1a">Odoribacter</text>
<rect x="295.9" y="791.56" width="7.7" height="7.7" fill="#7E6148"/>
<text x="306.45" y="798.11" font-size="7.25" class="k" fill="#1a1a1a">Alloprevotella</text>
<rect x="295.9" y="804.08" width="7.7" height="7.7" fill="#CCCCCC"/>
<text x="306.45" y="810.63" font-size="7.25" class="k" fill="#1a1a1a">Enterorhabdus</text>
<rect x="295.9" y="816.6" width="7.7" height="7.7" fill="#F8773B"/>
<text x="306.45" y="823.15" font-size="7.25" class="k" fill="#1a1a1a">others</text>
<text x="453.8" y="24.1" font-size="13.6" class="s" font-weight="bold" fill="#000">K</text>
<g transform="translate(530.6 91)">
<g class="rb">
<path class="c0" d="M0.4 -41.4A41.4 41.4 0 0 1 1.7 -41.4Q0 0 -20.8 37.8A43.1 43.1 0 0 1 -22 37Q0 0 0.4 -41.4Z"/>
<path class="c0" d="M4.2 -41.2A41.4 41.4 0 0 1 7.4 -40.7Q0 0 -30.3 30.7A43.1 43.1 0 0 1 -32.4 28.4Q0 0 4.2 -41.2Z"/>
<path class="c0" d="M10.6 -40A41.4 41.4 0 0 1 14.9 -38.6Q0 0 -38.6 19.1A43.1 43.1 0 0 1 -40.1 15.9Q0 0 10.6 -40Z"/>
<path class="c0" d="M19.2 -36.7A41.4 41.4 0 0 1 20.9 -35.7Q0 0 -42.3 8.2A43.1 43.1 0 0 1 -42.6 6.2Q0 0 19.2 -36.7Z"/>
<path class="c0" d="M22 -35.1A41.4 41.4 0 0 1 23.1 -34.4Q0 0 -43.1 -0.4A43.1 43.1 0 0 1 -43.1 -1.7Q0 0 22 -35.1Z"/>
<path class="c0" d="M1.7 -41.4A41.4 41.4 0 0 1 4.2 -41.2Q0 0 -41.8 -10.4A43.1 43.1 0 0 1 -41.1 -12.9Q0 0 1.7 -41.4Z"/>
<path class="c0" d="M7.4 -40.7A41.4 41.4 0 0 1 10.6 -40Q0 0 -37.5 -21.3A43.1 43.1 0 0 1 -36.3 -23.2Q0 0 7.4 -40.7Z"/>
<path class="c0" d="M14.9 -38.6A41.4 41.4 0 0 1 19.2 -36.7Q0 0 -30.8 -30.1A43.1 43.1 0 0 1 -27.2 -33.5Q0 0 14.9 -38.6Z"/>
<path class="c0" d="M20.9 -35.7A41.4 41.4 0 0 1 22 -35.1Q0 0 -20.5 -37.9A43.1 43.1 0 0 1 -19.4 -38.5Q0 0 20.9 -35.7Z"/>
<path class="c0" d="M23.1 -34.4A41.4 41.4 0 0 1 24.1 -33.7Q0 0 -11.8 -41.4A43.1 43.1 0 0 1 -9.8 -42Q0 0 23.1 -34.4Z"/>
<path class="c1" d="M25.6 -32.5A41.4 41.4 0 0 1 27.5 -31Q0 0 -22.8 36.6A43.1 43.1 0 0 1 -25.1 35.1Q0 0 25.6 -32.5Z"/>
<path class="c1" d="M28.5 -30A41.4 41.4 0 0 1 30 -28.5Q0 0 -32.4 28.4A43.1 43.1 0 0 1 -33.7 26.8Q0 0 28.5 -30Z"/>
<path class="c1" d="M34.3 -23.2A41.4 41.4 0 0 1 36.3 -19.9Q0 0 -36.9 22.3A43.1 43.1 0 0 1 -38.4 19.6Q0 0 34.3 -23.2Z"/>
<path class="c1" d="M37 -18.7A41.4 41.4 0 0 1 38.1 -16.1Q0 0 -41.4 12A43.1 43.1 0 0 1 -42.1 9.1Q0 0 37 -18.7Z"/>
<path class="c1" d="M38.5 -15.1A41.4 41.4 0 0 1 39.1 -13.6Q0 0 -43.1 -1.7A43.1 43.1 0 0 1 -43 -3.3Q0 0 38.5 -15.1Z"/>
<path class="c1" d="M27.5 -31A41.4 41.4 0 0 1 28.5 -30Q0 0 -40.7 -14.1A43.1 43.1 0 0 1 -40.2 -15.5Q0 0 27.5 -31Z"/>
<path class="c1" d="M30 -28.5A41.4 41.4 0 0 1 34.3 -23.2Q0 0 -36.3 -23.2A43.1 43.1 0 0 1 -33.7 -26.9Q0 0 30 -28.5Z"/>
<path class="c1" d="M36.3 -19.9A41.4 41.4 0 0 1 37 -18.7Q0 0 -27.2 -33.5A43.1 43.1 0 0 1 -26 -34.4Q0 0 36.3 -19.9Z"/>
<path class="c1" d="M38.1 -16.1A41.4 41.4 0 0 1 38.5 -15.1Q0 0 -21.4 -37.4A43.1 43.1 0 0 1 -20.5 -37.9Q0 0 38.1 -16.1Z"/>
<path class="c1" d="M39.1 -13.6A41.4 41.4 0 0 1 39.4 -12.8Q0 0 -9.4 -42.1A43.1 43.1 0 0 1 -8 -42.4Q0 0 39.1 -13.6Z"/>
<path class="c2" d="M39.8 -11.3A41.4 41.4 0 0 1 40.1 -10.5Q0 0 -22 37A43.1 43.1 0 0 1 -22.8 36.6Q0 0 39.8 -11.3Z"/>
<path class="c2" d="M40.1 -10.5A41.4 41.4 0 0 1 40.2 -9.9Q0 0 -29.8 31.1A43.1 43.1 0 0 1 -30.3 30.7Q0 0 40.1 -10.5Z"/>
<path class="c2" d="M40.2 -9.9A41.4 41.4 0 0 1 40.4 -9.2Q0 0 -38.4 19.6A43.1 43.1 0 0 1 -38.6 19.1Q0 0 40.2 -9.9Z"/>
<path class="c2" d="M40.4 -9.2A41.4 41.4 0 0 1 40.6 -8.3Q0 0 -42.1 9.1A43.1 43.1 0 0 1 -42.3 8.2Q0 0 40.4 -9.2Z"/>
<path class="c2" d="M40.6 -8.3A41.4 41.4 0 0 1 40.8 -7.2Q0 0 -43.1 0.8A43.1 43.1 0 0 1 -43.1 -0.4Q0 0 40.6 -8.3Z"/>
<path class="c2" d="M40.8 -7.2A41.4 41.4 0 0 1 41 -6.1Q0 0 -41.1 -12.9A43.1 43.1 0 0 1 -40.7 -14.1Q0 0 40.8 -7.2Z"/>
<path class="c2" d="M41 -6.1A41.4 41.4 0 0 1 41.1 -5.4Q0 0 -37.7 -20.9A43.1 43.1 0 0 1 -37.5 -21.3Q0 0 41 -6.1Z"/>
<path class="c2" d="M41.1 -5.4A41.4 41.4 0 0 1 41.1 -5.1Q0 0 -31 -29.9A43.1 43.1 0 0 1 -30.8 -30.1Q0 0 41.1 -5.4Z"/>
<path class="c2" d="M41.1 -5.1A41.4 41.4 0 0 1 41.2 -4.2Q0 0 -22.2 -37A43.1 43.1 0 0 1 -21.4 -37.4Q0 0 41.1 -5.1Z"/>
<path class="c2" d="M41.2 -4.2A41.4 41.4 0 0 1 41.2 -3.9Q0 0 -9.8 -42A43.1 43.1 0 0 1 -9.4 -42.1Q0 0 41.2 -4.2Z"/>
<path class="c3" d="M41.4 0.3L41.4 0.4Q0 0 -25.1 35.1L-25.2 35Q0 0 41.4 0.3Z"/>
<path class="c3" d="M41.4 0.4A41.4 41.4 0 0 1 41.4 0.7Q0 0 -33.7 26.8A43.1 43.1 0 0 1 -33.9 26.6Q0 0 41.4 0.4Z"/>
<path class="c3" d="M41.4 0.7L41.4 0.9Q0 0 -40.1 15.9L-40.1 15.7Q0 0 41.4 0.7Z"/>
<path class="c3" d="M41.4 0.9A41.4 41.4 0 0 1 41.4 1.2Q0 0 -42.6 6.2A43.1 43.1 0 0 1 -42.7 5.9Q0 0 41.4 0.9Z"/>
<path class="c3" d="M41.4 1.2A41.4 41.4 0 0 1 41.3 3Q0 0 -43 -3.3A43.1 43.1 0 0 1 -42.8 -5.2Q0 0 41.4 1.2Z"/>
<path class="c3" d="M41.4 -1.8A41.4 41.4 0 0 1 41.4 -1.4Q0 0 -40.2 -15.5A43.1 43.1 0 0 1 -40.1 -15.9Q0 0 41.4 -1.8Z"/>
<path class="c3" d="M41.4 -1.4A41.4 41.4 0 0 1 41.4 -0.8Q0 0 -33.7 -26.9A43.1 43.1 0 0 1 -33.4 -27.3Q0 0 41.4 -1.4Z"/>
<path class="c3" d="M41.4 -0.8L41.4 -0.6Q0 0 -26 -34.4L-25.8 -34.5Q0 0 41.4 -0.8Z"/>
<path class="c3" d="M41.4 -0.6A41.4 41.4 0 0 1 41.4 -0.3Q0 0 -19.4 -38.5A43.1 43.1 0 0 1 -19.1 -38.6Q0 0 41.4 -0.6Z"/>
<path class="c3" d="M41.4 -0.3A41.4 41.4 0 0 1 41.4 0.3Q0 0 -8 -42.4A43.1 43.1 0 0 1 -7 -42.5Q0 0 41.4 -0.3Z"/>
<path class="c4" d="M41.1 4.9A41.4 41.4 0 0 1 41.1 5.2Q0 0 -25.2 35A43.1 43.1 0 0 1 -25.4 34.8Q0 0 41.1 4.9Z"/>
<path class="c4" d="M41.1 5.2A41.4 41.4 0 0 1 41.1 5.4Q0 0 -33.9 26.6A43.1 43.1 0 0 1 -34 26.4Q0 0 41.1 5.2Z"/>
<path class="c4" d="M41.1 5.4L41 5.5Q0 0 -40.1 15.7L-40.2 15.6Q0 0 41.1 5.4Z"/>
<path class="c4" d="M41 5.5A41.4 41.4 0 0 1 41 5.8Q0 0 -42.7 5.9A43.1 43.1 0 0 1 -42.7 5.6Q0 0 41 5.5Z"/>
<path class="c4" d="M41 5.8L41 5.9Q0 0 -42.8 -5.2L-42.8 -5.3Q0 0 41 5.8Z"/>
<path class="c4" d="M41 5.9A41.4 41.4 0 0 1 40.9 6.6Q0 0 -40.1 -15.9A43.1 43.1 0 0 1 -39.8 -16.6Q0 0 41 5.9Z"/>
<path class="c4" d="M40.9 6.6L40.8 6.8Q0 0 -33.4 -27.3L-33.3 -27.4Q0 0 40.9 6.6Z"/>
<path class="c4" d="M40.8 6.8A41.4 41.4 0 0 1 40.8 7.1Q0 0 -25.8 -34.5A43.1 43.1 0 0 1 -25.5 -34.7Q0 0 40.8 6.8Z"/>
<path class="c4" d="M40.8 7.1A41.4 41.4 0 0 1 40.7 7.4Q0 0 -19.1 -38.6A43.1 43.1 0 0 1 -18.9 -38.7Q0 0 40.8 7.1Z"/>
<path class="c4" d="M40.7 7.4A41.4 41.4 0 0 1 40.7 7.8Q0 0 -7 -42.5A43.1 43.1 0 0 1 -6.4 -42.6Q0 0 40.7 7.4Z"/>
<path class="c5" d="M40.3 9.3L40.3 9.5Q0 0 -25.4 34.8L-25.6 34.7Q0 0 40.3 9.3Z"/>
<path class="c5" d="M40.3 9.5L40.3 9.6Q0 0 -34 26.4L-34.1 26.4Q0 0 40.3 9.5Z"/>
<path class="c5" d="M40.3 9.6A41.4 41.4 0 0 1 40.2 9.8Q0 0 -40.2 15.6A43.1 43.1 0 0 1 -40.2 15.5Q0 0 40.3 9.6Z"/>
<path class="c5" d="M40.2 9.8L40.2 9.9Q0 0 -42.7 5.6L-42.8 5.5Q0 0 40.2 9.8Z"/>
<path class="c5" d="M40.2 9.9L40.2 10.1Q0 0 -42.8 -5.3L-42.8 -5.4Q0 0 40.2 9.9Z"/>
<path class="c5" d="M40.2 10.1A41.4 41.4 0 0 1 40.1 10.3Q0 0 -39.8 -16.6A43.1 43.1 0 0 1 -39.7 -16.8Q0 0 40.2 10.1Z"/>
<path class="c5" d="M40.1 10.3A41.4 41.4 0 0 1 40 10.7Q0 0 -33.3 -27.4A43.1 43.1 0 0 1 -33.1 -27.6Q0 0 40.1 10.3Z"/>
<path class="c5" d="M40 10.7A41.4 41.4 0 0 1 39.9 11.1Q0 0 -25.5 -34.7A43.1 43.1 0 0 1 -25.2 -35Q0 0 40 10.7Z"/>
<path class="c5" d="M39.9 11.1A41.4 41.4 0 0 1 39.7 11.9Q0 0 -18.9 -38.7A43.1 43.1 0 0 1 -18.3 -39Q0 0 39.9 11.1Z"/>
<path class="c5" d="M39.7 11.9A41.4 41.4 0 0 1 39.6 12.1Q0 0 -6.4 -42.6A43.1 43.1 0 0 1 -6 -42.7Q0 0 39.7 11.9Z"/>
<path class="c6" d="M38.8 14.5A41.4 41.4 0 0 1 38.6 14.9Q0 0 -25.6 34.7A43.1 43.1 0 0 1 -26 34.4Q0 0 38.8 14.5Z"/>
<path class="c6" d="M38.6 14.9A41.4 41.4 0 0 1 38.5 15.3Q0 0 -34.1 26.4A43.1 43.1 0 0 1 -34.3 26.1Q0 0 38.6 14.9Z"/>
<path class="c6" d="M38.5 15.3A41.4 41.4 0 0 1 38.3 15.6Q0 0 -40.2 15.5A43.1 43.1 0 0 1 -40.3 15.2Q0 0 38.5 15.3Z"/>
<path class="c6" d="M38.3 15.6A41.4 41.4 0 0 1 38.2 16Q0 0 -42.8 5.5A43.1 43.1 0 0 1 -42.8 5.1Q0 0 38.3 15.6Z"/>
<path class="c6" d="M38.2 16A41.4 41.4 0 0 1 38.1 16.2Q0 0 -42.8 -5.4A43.1 43.1 0 0 1 -42.7 -5.7Q0 0 38.2 16Z"/>
<path class="c6" d="M39.1 13.7L39 13.8Q0 0 -39.7 -16.8L-39.7 -16.9Q0 0 39.1 13.7Z"/>
<path class="c6" d="M39 13.8L39 13.8Q0 0 -33.1 -27.6L-33.1 -27.7Q0 0 39 13.8Z"/>
<path class="c6" d="M39 13.8L39 14Q0 0 -25.2 -35L-25 -35.1Q0 0 39 13.8Z"/>
<path class="c6" d="M39 14A41.4 41.4 0 0 1 38.9 14.3Q0 0 -18.3 -39A43.1 43.1 0 0 1 -18 -39.1Q0 0 39 14Z"/>
<path class="c6" d="M38.9 14.3A41.4 41.4 0 0 1 38.8 14.5Q0 0 -6 -42.7A43.1 43.1 0 0 1 -5.6 -42.7Q0 0 38.9 14.3Z"/>
<path class="c7" d="M37.5 17.5A41.4 41.4 0 0 1 37.3 17.9Q0 0 -26 34.4A43.1 43.1 0 0 1 -26.4 34.1Q0 0 37.5 17.5Z"/>
<path class="c7" d="M37.3 17.9A41.4 41.4 0 0 1 37.1 18.3Q0 0 -34.3 26.1A43.1 43.1 0 0 1 -34.6 25.7Q0 0 37.3 17.9Z"/>
<path class="c7" d="M37.1 18.3A41.4 41.4 0 0 1 37 18.6Q0 0 -40.3 15.2A43.1 43.1 0 0 1 -40.4 15Q0 0 37.1 18.3Z"/>
<path class="c7" d="M37 18.6A41.4 41.4 0 0 1 36.8 19Q0 0 -42.8 5.1A43.1 43.1 0 0 1 -42.9 4.6Q0 0 37 18.6Z"/>
<path class="c7" d="M36.8 19A41.4 41.4 0 0 1 36.4 19.7Q0 0 -42.7 -5.7A43.1 43.1 0 0 1 -42.6 -6.5Q0 0 36.8 19Z"/>
<path class="c7" d="M36.4 19.7L36.4 19.7Q0 0 -39.7 -16.9L-39.6 -16.9Q0 0 36.4 19.7Z"/>
<path class="c7" d="M36.4 19.7L36.4 19.7Q0 0 -33.1 -27.7L-33 -27.7Q0 0 36.4 19.7Z"/>
<path class="c7" d="M36.4 19.7L36.3 19.8Q0 0 -25 -35.1L-24.9 -35.2Q0 0 36.4 19.7Z"/>
<path class="c7" d="M36.3 19.8L36.3 19.9Q0 0 -18 -39.1L-18 -39.2Q0 0 36.3 19.8Z"/>
<path class="c7" d="M36.3 19.9L36.3 19.9Q0 0 -5.6 -42.7L-5.5 -42.7Q0 0 36.3 19.9Z"/>
<path class="c8" d="M35.6 21.2L35.5 21.3Q0 0 -26.4 34.1L-26.5 34Q0 0 35.6 21.2Z"/>
<path class="c8" d="M35.5 21.3A41.4 41.4 0 0 1 35 22.1Q0 0 -34.6 25.7A43.1 43.1 0 0 1 -35.1 25Q0 0 35.5 21.3Z"/>
<path class="c8" d="M35 22.1A41.4 41.4 0 0 1 34.7 22.6Q0 0 -40.4 15A43.1 43.1 0 0 1 -40.6 14.5Q0 0 35 22.1Z"/>
<path class="c8" d="M34.7 22.6A41.4 41.4 0 0 1 34.6 22.8Q0 0 -42.9 4.6A43.1 43.1 0 0 1 -42.9 4.3Q0 0 34.7 22.6Z"/>
<path class="c8" d="M34.6 22.8A41.4 41.4 0 0 1 34.4 23.1Q0 0 -42.6 -6.5A43.1 43.1 0 0 1 -42.6 -6.9Q0 0 34.6 22.8Z"/>
<path class="c8" d="M34.4 23.1L34.3 23.1Q0 0 -39.6 -16.9L-39.6 -17Q0 0 34.4 23.1Z"/>
<path class="c8" d="M34.3 23.1L34.3 23.2Q0 0 -33 -27.7L-33 -27.7Q0 0 34.3 23.1Z"/>
<path class="c8" d="M34.3 23.2L34.3 23.2Q0 0 -24.9 -35.2L-24.9 -35.2Q0 0 34.3 23.2Z"/>
<path class="c8" d="M34.3 23.2L34.3 23.3Q0 0 -18 -39.2L-17.9 -39.2Q0 0 34.3 23.2Z"/>
<path class="c8" d="M34.3 23.3L34.2 23.3Q0 0 -5.5 -42.7L-5.4 -42.8Q0 0 34.3 23.3Z"/>
<path class="c9" d="M33.3 24.6A41.4 41.4 0 0 1 33.1 24.9Q0 0 -26.5 34A43.1 43.1 0 0 1 -26.8 33.8Q0 0 33.3 24.6Z"/>
<path class="c9" d="M33.1 24.9A41.4 41.4 0 0 1 32.7 25.4Q0 0 -35.1 25A43.1 43.1 0 0 1 -35.5 24.5Q0 0 33.1 24.9Z"/>
<path class="c9" d="M32.7 25.4L32.6 25.6Q0 0 -40.6 14.5L-40.6 14.4Q0 0 32.7 25.4Z"/>
<path class="c9" d="M32.6 25.6A41.4 41.4 0 0 1 32.3 25.9Q0 0 -42.9 4.3A43.1 43.1 0 0 1 -42.9 3.8Q0 0 32.6 25.6Z"/>
<path class="c9" d="M32.3 25.9A41.4 41.4 0 0 1 31.9 26.4Q0 0 -42.6 -6.9A43.1 43.1 0 0 1 -42.5 -7.5Q0 0 32.3 25.9Z"/>
<path class="c9" d="M33.5 24.3L33.4 24.4Q0 0 -39.6 -17L-39.6 -17Q0 0 33.5 24.3Z"/>
<path class="c9" d="M33.4 24.4L33.4 24.4Q0 0 -33 -27.7L-33 -27.7Q0 0 33.4 24.4Z"/>
<path class="c9" d="M33.4 24.4L33.4 24.5Q0 0 -24.9 -35.2L-24.8 -35.2Q0 0 33.4 24.4Z"/>
<path class="c9" d="M33.4 24.5L33.3 24.5Q0 0 -17.9 -39.2L-17.9 -39.2Q0 0 33.4 24.5Z"/>
<path class="c9" d="M33.3 24.5L33.3 24.6Q0 0 -5.4 -42.8L-5.2 -42.8Q0 0 33.3 24.5Z"/>
<path class="c10" d="M31.1 27.3A41.4 41.4 0 0 1 31 27.5Q0 0 -35.5 24.5A43.1 43.1 0 0 1 -35.6 24.3Q0 0 31.1 27.3Z"/>
<path class="c10" d="M31 27.5A41.4 41.4 0 0 1 30.7 27.8Q0 0 -42.9 3.8A43.1 43.1 0 0 1 -43 3.5Q0 0 31 27.5Z"/>
<path class="c10" d="M30.7 27.8A41.4 41.4 0 0 1 30.5 28Q0 0 -39.6 -17A43.1 43.1 0 0 1 -39.5 -17.3Q0 0 30.7 27.8Z"/>
<path class="c10" d="M30.5 28A41.4 41.4 0 0 1 30.2 28.3Q0 0 -17.9 -39.2A43.1 43.1 0 0 1 -17.5 -39.4Q0 0 30.5 28Z"/>
<path class="c10" d="M30.2 28.3A41.4 41.4 0 0 1 30 28.6Q0 0 -5.2 -42.8A43.1 43.1 0 0 1 -4.6 -42.9Q0 0 30.2 28.3Z"/>
<path class="c0" d="M28.9 29.7A41.4 41.4 0 0 1 28.4 30.1Q0 0 -26.8 33.8A43.1 43.1 0 0 1 -27.3 33.4Q0 0 28.9 29.7Z"/>
<path class="c0" d="M28.4 30.1A41.4 41.4 0 0 1 28.2 30.3Q0 0 -35.6 24.3A43.1 43.1 0 0 1 -35.8 24Q0 0 28.4 30.1Z"/>
<path class="c0" d="M28.2 30.3A41.4 41.4 0 0 1 28 30.5Q0 0 -33 -27.7A43.1 43.1 0 0 1 -32.9 -27.8Q0 0 28.2 30.3Z"/>
<path class="c0" d="M28 30.5A41.4 41.4 0 0 1 27.7 30.8Q0 0 -17.5 -39.4A43.1 43.1 0 0 1 -17.1 -39.6Q0 0 28 30.5Z"/>
<path class="c1" d="M25.8 32.3A41.4 41.4 0 0 1 25.7 32.5Q0 0 -27.3 33.4A43.1 43.1 0 0 1 -27.5 33.2Q0 0 25.8 32.3Z"/>
<path class="c1" d="M25.7 32.5L25.6 32.6Q0 0 -35.8 24L-35.9 23.9Q0 0 25.7 32.5Z"/>
<path class="c1" d="M25.6 32.6A41.4 41.4 0 0 1 25.3 32.8Q0 0 -42.5 -7.5A43.1 43.1 0 0 1 -42.4 -7.8Q0 0 25.6 32.6Z"/>
<path class="c1" d="M26.5 31.8L26.3 32Q0 0 -32.9 -27.8L-32.8 -27.9Q0 0 26.5 31.8Z"/>
<path class="c1" d="M26.3 32A41.4 41.4 0 0 1 26.1 32.1Q0 0 -24.8 -35.2A43.1 43.1 0 0 1 -24.6 -35.4Q0 0 26.3 32Z"/>
<path class="c1" d="M26.1 32.1A41.4 41.4 0 0 1 25.8 32.3Q0 0 -17.1 -39.6A43.1 43.1 0 0 1 -16.8 -39.7Q0 0 26.1 32.1Z"/>
<path class="c2" d="M24 33.7A41.4 41.4 0 0 1 23.8 33.9Q0 0 -27.5 33.2A43.1 43.1 0 0 1 -27.7 33.1Q0 0 24 33.7Z"/>
<path class="c2" d="M23.8 33.9L23.7 34Q0 0 -35.9 23.9L-36 23.7Q0 0 23.8 33.9Z"/>
<path class="c2" d="M23.7 34A41.4 41.4 0 0 1 23.4 34.1Q0 0 -43 3.5A43.1 43.1 0 0 1 -43 3.2Q0 0 23.7 34Z"/>
<path class="c2" d="M23.4 34.1A41.4 41.4 0 0 1 23.2 34.3Q0 0 -42.4 -7.8A43.1 43.1 0 0 1 -42.3 -8Q0 0 23.4 34.1Z"/>
<path class="c2" d="M23.2 34.3A41.4 41.4 0 0 1 22.8 34.5Q0 0 -32.8 -27.9A43.1 43.1 0 0 1 -32.6 -28.1Q0 0 23.2 34.3Z"/>
<path class="c3" d="M21.5 35.4A41.4 41.4 0 0 1 21.2 35.6Q0 0 -40.6 14.4A43.1 43.1 0 0 1 -40.7 14.1Q0 0 21.5 35.4Z"/>
<path class="c3" d="M21.2 35.6A41.4 41.4 0 0 1 20.9 35.8Q0 0 -39.5 -17.3A43.1 43.1 0 0 1 -39.3 -17.7Q0 0 21.2 35.6Z"/>
<path class="c3" d="M20.9 35.8A41.4 41.4 0 0 1 20.6 35.9Q0 0 -24.6 -35.4A43.1 43.1 0 0 1 -24.3 -35.6Q0 0 20.9 35.8Z"/>
<path class="c3" d="M20.6 35.9L20.4 36Q0 0 -16.8 -39.7L-16.6 -39.8Q0 0 20.6 35.9Z"/>
<path class="c4" d="M18.2 37.2A41.4 41.4 0 0 1 17.9 37.3Q0 0 -27.7 33.1A43.1 43.1 0 0 1 -27.9 32.8Q0 0 18.2 37.2Z"/>
<path class="c4" d="M19 36.8A41.4 41.4 0 0 1 18.6 37Q0 0 -39.3 -17.7A43.1 43.1 0 0 1 -39.1 -18.1Q0 0 19 36.8Z"/>
<path class="c4" d="M18.6 37A41.4 41.4 0 0 1 18.4 37.1Q0 0 -24.3 -35.6A43.1 43.1 0 0 1 -24.1 -35.7Q0 0 18.6 37Z"/>
<path class="c4" d="M18.4 37.1A41.4 41.4 0 0 1 18.2 37.2Q0 0 -16.6 -39.8A43.1 43.1 0 0 1 -16.4 -39.8Q0 0 18.4 37.1Z"/>
<path class="c5" d="M16.4 38A41.4 41.4 0 0 1 16.1 38.1Q0 0 -27.9 32.8A43.1 43.1 0 0 1 -28.2 32.6Q0 0 16.4 38Z"/>
<path class="c5" d="M16.1 38.1A41.4 41.4 0 0 1 15.8 38.3Q0 0 -40.7 14.1A43.1 43.1 0 0 1 -40.8 13.8Q0 0 16.1 38.1Z"/>
<path class="c5" d="M15.8 38.3L15.7 38.3Q0 0 -42.3 -8L-42.3 -8.2Q0 0 15.8 38.3Z"/>
<path class="c5" d="M15.7 38.3A41.4 41.4 0 0 1 15.4 38.4Q0 0 -39.1 -18.1A43.1 43.1 0 0 1 -39 -18.4Q0 0 15.7 38.3Z"/>
<path class="c6" d="M13.9 39L13.8 39Q0 0 -36 23.7L-36 23.6Q0 0 13.9 39Z"/>
<path class="c6" d="M13.8 39A41.4 41.4 0 0 1 13.6 39.1Q0 0 -43 3.2A43.1 43.1 0 0 1 -43 2.9Q0 0 13.8 39Z"/>
<path class="c6" d="M13.6 39.1A41.4 41.4 0 0 1 13.3 39.2Q0 0 -39 -18.4A43.1 43.1 0 0 1 -38.9 -18.6Q0 0 13.6 39.1Z"/>
<path class="c6" d="M13.3 39.2A41.4 41.4 0 0 1 13.1 39.3Q0 0 -16.4 -39.8A43.1 43.1 0 0 1 -16.2 -39.9Q0 0 13.3 39.2Z"/>
<path class="c6" d="M13.1 39.3A41.4 41.4 0 0 1 12.9 39.3Q0 0 -4.6 -42.9A43.1 43.1 0 0 1 -4.2 -42.9Q0 0 13.1 39.3Z"/>
<path class="c7" d="M10.7 40A41.4 41.4 0 0 1 10.5 40.1Q0 0 -42.3 -8.2A43.1 43.1 0 0 1 -42.3 -8.5Q0 0 10.7 40Z"/>
<path class="c7" d="M11.4 39.8A41.4 41.4 0 0 1 11.2 39.9Q0 0 -32.6 -28.1A43.1 43.1 0 0 1 -32.5 -28.3Q0 0 11.4 39.8Z"/>
<path class="c7" d="M11.2 39.9A41.4 41.4 0 0 1 10.9 39.9Q0 0 -16.2 -39.9A43.1 43.1 0 0 1 -16 -40Q0 0 11.2 39.9Z"/>
<path class="c7" d="M10.9 39.9A41.4 41.4 0 0 1 10.7 40Q0 0 -4.2 -42.9A43.1 43.1 0 0 1 -3.8 -42.9Q0 0 10.9 39.9Z"/>
<path class="c8" d="M8.9 40.4L8.8 40.5Q0 0 -42.3 -8.5L-42.2 -8.6Q0 0 8.9 40.4Z"/>
<path class="c8" d="M8.8 40.5L8.6 40.5Q0 0 -38.9 -18.6L-38.8 -18.8Q0 0 8.8 40.5Z"/>
<path class="c8" d="M8.6 40.5L8.5 40.5Q0 0 -32.5 -28.3L-32.5 -28.3Q0 0 8.6 40.5Z"/>
<path class="c8" d="M8.5 40.5L8.3 40.6Q0 0 -24.1 -35.7L-24 -35.8Q0 0 8.5 40.5Z"/>
<path class="c8" d="M8.3 40.6L8.2 40.6Q0 0 -16 -40L-15.9 -40.1Q0 0 8.3 40.6Z"/>
<path class="c8" d="M8.2 40.6A41.4 41.4 0 0 1 8 40.6Q0 0 -3.8 -42.9A43.1 43.1 0 0 1 -3.6 -43Q0 0 8.2 40.6Z"/>
<path class="c9" d="M6.5 40.9A41.4 41.4 0 0 1 6.2 40.9Q0 0 -28.2 32.6A43.1 43.1 0 0 1 -28.5 32.4Q0 0 6.5 40.9Z"/>
<path class="c9" d="M6.2 40.9A41.4 41.4 0 0 1 6 41Q0 0 -43 2.9A43.1 43.1 0 0 1 -43 2.7Q0 0 6.2 40.9Z"/>
<path class="c9" d="M6 41A41.4 41.4 0 0 1 5.7 41Q0 0 -38.8 -18.8A43.1 43.1 0 0 1 -38.7 -19Q0 0 6 41Z"/>
<path class="c9" d="M5.7 41L5.6 41Q0 0 -24 -35.8L-23.9 -35.9Q0 0 5.7 41Z"/>
<path class="c10" d="M3.7 41.2A41.4 41.4 0 0 1 3.4 41.3Q0 0 -40.8 13.8A43.1 43.1 0 0 1 -40.9 13.6Q0 0 3.7 41.2Z"/>
<path class="c10" d="M3.4 41.3L3.3 41.3Q0 0 -42.2 -8.6L-42.2 -8.8Q0 0 3.4 41.3Z"/>
<path class="c10" d="M4 41.2A41.4 41.4 0 0 1 3.8 41.2Q0 0 -38.7 -19A43.1 43.1 0 0 1 -38.6 -19.2Q0 0 4 41.2Z"/>
<path class="c10" d="M3.8 41.2A41.4 41.4 0 0 1 3.7 41.2Q0 0 -3.6 -43A43.1 43.1 0 0 1 -3.3 -43Q0 0 3.8 41.2Z"/>
<path class="c0" d="M1.7 41.4L1.5 41.4Q0 0 -36 23.6L-36.1 23.5Q0 0 1.7 41.4Z"/>
<path class="c0" d="M1.5 41.4L1.5 41.4Q0 0 -40.9 13.6L-40.9 13.6Q0 0 1.5 41.4Z"/>
<path class="c0" d="M1.5 41.4L1.3 41.4Q0 0 -43 2.7L-43 2.5Q0 0 1.5 41.4Z"/>
<path class="c0" d="M1.3 41.4L1.2 41.4Q0 0 -38.6 -19.2L-38.5 -19.3Q0 0 1.3 41.4Z"/>
<path class="c0" d="M1.2 41.4L1.1 41.4Q0 0 -23.9 -35.9L-23.8 -36Q0 0 1.2 41.4Z"/>
<path class="c0" d="M1.1 41.4L1 41.4Q0 0 -15.9 -40.1L-15.8 -40.1Q0 0 1.1 41.4Z"/>
<path class="c0" d="M1 41.4L0.9 41.4Q0 0 -3.3 -43L-3.2 -43Q0 0 1 41.4Z"/>
<path class="c1" d="M-0.6 41.4L-0.8 41.4Q0 0 -28.5 32.4L-28.6 32.3Q0 0 -0.6 41.4Z"/>
<path class="c1" d="M-0.8 41.4L-0.9 41.4Q0 0 -40.9 13.6L-40.9 13.5Q0 0 -0.8 41.4Z"/>
<path class="c1" d="M-0.9 41.4L-1 41.4Q0 0 -23.8 -36L-23.7 -36Q0 0 -0.9 41.4Z"/>
<path class="c1" d="M-1 41.4L-1.1 41.4Q0 0 -15.8 -40.1L-15.7 -40.1Q0 0 -1 41.4Z"/>
<path class="c1" d="M-1.1 41.4A41.4 41.4 0 0 1 -1.3 41.4Q0 0 -3.2 -43A43.1 43.1 0 0 1 -2.9 -43Q0 0 -1.1 41.4Z"/>
<path class="c2" d="M-3.4 41.3L-3.5 41.3Q0 0 -43 2.5L-43 2.4Q0 0 -3.4 41.3Z"/>
<path class="c2" d="M-3.5 41.3L-3.6 41.2Q0 0 -42.2 -8.8L-42.2 -8.9Q0 0 -3.5 41.3Z"/>
<path class="c2" d="M-2.9 41.3L-3 41.3Q0 0 -38.5 -19.3L-38.5 -19.4Q0 0 -2.9 41.3Z"/>
<path class="c2" d="M-3 41.3L-3.1 41.3Q0 0 -32.5 -28.3L-32.4 -28.4Q0 0 -3 41.3Z"/>
<path class="c2" d="M-3.1 41.3L-3.3 41.3Q0 0 -15.7 -40.1L-15.6 -40.2Q0 0 -3.1 41.3Z"/>
<path class="c2" d="M-3.3 41.3L-3.4 41.3Q0 0 -2.9 -43L-2.7 -43Q0 0 -3.3 41.3Z"/>
<path class="c3" d="M-5.1 41.1L-5.3 41.1Q0 0 -28.6 32.3L-28.7 32.2Q0 0 -5.1 41.1Z"/>
<path class="c3" d="M-5.3 41.1L-5.3 41.1Q0 0 -40.9 13.5L-41 13.4Q0 0 -5.3 41.1Z"/>
<path class="c3" d="M-5.3 41.1L-5.4 41Q0 0 -42.2 -8.9L-42.1 -9Q0 0 -5.3 41.1Z"/>
<path class="c3" d="M-5.4 41L-5.6 41Q0 0 -38.5 -19.4L-38.4 -19.5Q0 0 -5.4 41Z"/>
<path class="c3" d="M-5.6 41L-5.7 41Q0 0 -23.7 -36L-23.6 -36.1Q0 0 -5.6 41Z"/>
<path class="c3" d="M-5.7 41L-5.8 41Q0 0 -2.7 -43L-2.5 -43Q0 0 -5.7 41Z"/>
<path class="c4" d="M-7.4 40.7L-7.5 40.7Q0 0 -28.7 32.2L-28.8 32.1Q0 0 -7.4 40.7Z"/>
<path class="c4" d="M-7.5 40.7L-7.6 40.7Q0 0 -41 13.4L-41 13.3Q0 0 -7.5 40.7Z"/>
<path class="c4" d="M-7.6 40.7L-7.7 40.7Q0 0 -43 2.4L-43 2.3Q0 0 -7.6 40.7Z"/>
<path class="c4" d="M-7.7 40.7L-7.8 40.7Q0 0 -38.4 -19.5L-38.4 -19.6Q0 0 -7.7 40.7Z"/>
<path class="c4" d="M-7.8 40.7L-7.9 40.6Q0 0 -23.6 -36.1L-23.5 -36.1Q0 0 -7.8 40.7Z"/>
<path class="c4" d="M-7.9 40.6L-8 40.6Q0 0 -2.5 -43L-2.3 -43Q0 0 -7.9 40.6Z"/>
<path class="c5" d="M-9.9 40.2L-10 40.2Q0 0 -28.8 32.1L-28.9 32Q0 0 -9.9 40.2Z"/>
<path class="c5" d="M-10 40.2L-10 40.2Q0 0 -41 13.3L-41 13.3Q0 0 -10 40.2Z"/>
<path class="c5" d="M-10 40.2L-10.1 40.1Q0 0 -43 2.3L-43 2.2Q0 0 -10 40.2Z"/>
<path class="c5" d="M-10.1 40.1L-10.2 40.1Q0 0 -42.1 -9L-42.1 -9.1Q0 0 -10.1 40.1Z"/>
<path class="c5" d="M-9.5 40.3L-9.7 40.3Q0 0 -32.4 -28.4L-32.4 -28.4Q0 0 -9.5 40.3Z"/>
<path class="c5" d="M-9.7 40.3L-9.8 40.2Q0 0 -23.5 -36.1L-23.4 -36.2Q0 0 -9.7 40.3Z"/>
<path class="c5" d="M-9.8 40.2L-9.9 40.2Q0 0 -2.3 -43L-2.2 -43Q0 0 -9.8 40.2Z"/>
<path class="c6" d="M-11.7 39.7L-11.8 39.7Q0 0 -36.1 23.5L-36.2 23.4Q0 0 -11.7 39.7Z"/>
<path class="c6" d="M-11.8 39.7L-11.9 39.7Q0 0 -43 2.2L-43 2.2Q0 0 -11.8 39.7Z"/>
<path class="c6" d="M-11.9 39.7L-11.9 39.6Q0 0 -38.4 -19.6L-38.3 -19.7Q0 0 -11.9 39.7Z"/>
<path class="c6" d="M-11.9 39.6L-12 39.6Q0 0 -32.4 -28.4L-32.3 -28.5Q0 0 -11.9 39.6Z"/>
<path class="c6" d="M-12 39.6L-12.1 39.6Q0 0 -23.4 -36.2L-23.3 -36.2Q0 0 -12 39.6Z"/>
<path class="c6" d="M-12.1 39.6L-12.3 39.5Q0 0 -15.6 -40.2L-15.5 -40.2Q0 0 -12.1 39.6Z"/>
<path class="c6" d="M-12.3 39.5L-12.3 39.5Q0 0 -2.2 -43L-2 -43.1Q0 0 -12.3 39.5Z"/>
<path class="c8" d="M-14.8 38.7A41.4 41.4 0 0 1 -15.7 38.3Q0 0 -32.3 -28.5A43.1 43.1 0 0 1 -31.9 -29Q0 0 -14.8 38.7Z"/>
<path class="c8" d="M-15.7 38.3A41.4 41.4 0 0 1 -18.1 37.2Q0 0 -15.5 -40.2A43.1 43.1 0 0 1 -13.1 -41.1Q0 0 -15.7 38.3Z"/>
</g>
<g fill="none">
<path d="M-31.72 57.7A65.85 65.85 0 0 1 -44.09 48.91M-45.6 47.5A65.85 65.85 0 0 1 -55.26 35.81M-56.36 34.05A65.85 65.85 0 0 1 -62.66 20.25M-63.26 18.27A65.85 65.85 0 0 1 -65.77 3.31M-65.84 1.24A65.85 65.85 0 0 1 -64.37 -13.86M0.62 -59.65A59.65 59.65 0 0 1 2.52 -59.6M6.1 -59.34A59.65 59.65 0 0 1 10.62 -58.7M15.34 -57.64A59.65 59.65 0 0 1 21.45 -55.66M27.64 -52.86A59.65 59.65 0 0 1 30.09 -51.5M31.72 -50.52A59.65 59.65 0 0 1 33.22 -49.54M36.89 -46.88A59.65 59.65 0 0 1 39.58 -44.62M41.09 -43.24A59.65 59.65 0 0 1 43.28 -41.05M49.41 -33.42A59.65 59.65 0 0 1 52.29 -28.7M53.24 -26.9A59.65 59.65 0 0 1 54.96 -23.19M55.54 -21.75A59.65 59.65 0 0 1 56.32 -19.64M57.4 -16.24A59.65 59.65 0 0 1 57.71 -15.1M57.71 -15.1A59.65 59.65 0 0 1 57.93 -14.23M57.93 -14.23A59.65 59.65 0 0 1 58.17 -13.2M58.17 -13.2A59.65 59.65 0 0 1 58.44 -11.96M58.44 -11.96A59.65 59.65 0 0 1 58.74 -10.39M59.65 0.45A59.65 59.65 0 0 1 59.65 0.63M59.65 0.63A59.65 59.65 0 0 1 59.64 1.05M59.64 1.05A59.65 59.65 0 0 1 59.64 1.32M59.64 1.32A59.65 59.65 0 0 1 59.62 1.8M59.62 1.8A59.65 59.65 0 0 1 59.49 4.37M59.23 7.06A59.65 59.65 0 0 1 59.19 7.43M59.19 7.43A59.65 59.65 0 0 1 59.15 7.74M59.15 7.74A59.65 59.65 0 0 1 59.12 7.91M59.12 7.91A59.65 59.65 0 0 1 59.07 8.31M59.07 8.31A59.65 59.65 0 0 1 59.04 8.5M58.12 13.42A59.65 59.65 0 0 1 58.06 13.68M58.06 13.68A59.65 59.65 0 0 1 58.03 13.82M58.03 13.82A59.65 59.65 0 0 1 57.96 14.12M57.96 14.12A59.65 59.65 0 0 1 57.9 14.33M57.9 14.33A59.65 59.65 0 0 1 57.86 14.49M55.89 20.85A59.65 59.65 0 0 1 55.66 21.45M55.66 21.45A59.65 59.65 0 0 1 55.45 21.98M55.45 21.98A59.65 59.65 0 0 1 55.25 22.49M55.25 22.49A59.65 59.65 0 0 1 55.04 22.98M55.04 22.98A59.65 59.65 0 0 1 54.91 23.31M54.06 25.21A59.65 59.65 0 0 1 53.78 25.79M53.78 25.79A59.65 59.65 0 0 1 53.51 26.35M53.51 26.35A59.65 59.65 0 0 1 53.31 26.77M53.31 26.77A59.65 59.65 0 0 1 53.01 27.34M53.01 27.34A59.65 59.65 0 0 1 52.49 28.33M51.24 30.54A59.65 59.65 0 0 1 51.14 30.7M51.14 30.7A59.65 59.65 0 0 1 50.47 31.79M50.47 31.79A59.65 59.65 0 0 1 49.99 32.55M49.99 32.55A59.65 59.65 0 0 1 49.78 32.86M49.78 32.86A59.65 59.65 0 0 1 49.5 33.28M47.94 35.49A59.65 59.65 0 0 1 47.66 35.86M47.66 35.86A59.65 59.65 0 0 1 47.09 36.61M47.09 36.61A59.65 59.65 0 0 1 46.91 36.84M46.91 36.84A59.65 59.65 0 0 1 46.48 37.38M46.48 37.38A59.65 59.65 0 0 1 45.96 38.02M44.88 39.29A59.65 59.65 0 0 1 44.6 39.61M44.6 39.61A59.65 59.65 0 0 1 44.26 39.99M41.57 42.78A59.65 59.65 0 0 1 40.95 43.38M40.95 43.38A59.65 59.65 0 0 1 40.63 43.68M37.24 46.6A59.65 59.65 0 0 1 37 46.78M37 46.78A59.65 59.65 0 0 1 36.81 46.93M36.81 46.93A59.65 59.65 0 0 1 36.43 47.23M34.59 48.6A59.65 59.65 0 0 1 34.32 48.79M34.32 48.79A59.65 59.65 0 0 1 34.12 48.93M34.12 48.93A59.65 59.65 0 0 1 33.75 49.19M33.75 49.19A59.65 59.65 0 0 1 33.46 49.38M30.99 50.97A59.65 59.65 0 0 1 30.51 51.25M26.2 53.59A59.65 59.65 0 0 1 25.78 53.79M23.7 54.74A59.65 59.65 0 0 1 23.2 54.95M23.2 54.95A59.65 59.65 0 0 1 22.77 55.13M22.77 55.13A59.65 59.65 0 0 1 22.56 55.22M20.05 56.18A59.65 59.65 0 0 1 19.84 56.25M19.84 56.25A59.65 59.65 0 0 1 19.54 56.36M15.44 57.62A59.65 59.65 0 0 1 15.07 57.72M12.84 58.25A59.65 59.65 0 0 1 12.66 58.29M9.31 58.92A59.65 59.65 0 0 1 8.92 58.98M8.92 58.98A59.65 59.65 0 0 1 8.58 59.03M5.3 59.41A59.65 59.65 0 0 1 4.97 59.44M4.97 59.44A59.65 59.65 0 0 1 4.7 59.46M2.41 59.6A59.65 59.65 0 0 1 2.2 59.61M2.2 59.61A59.65 59.65 0 0 1 2.1 59.61M2.1 59.61A59.65 59.65 0 0 1 1.91 59.62M-0.93 59.64A59.65 59.65 0 0 1 -1.12 59.64M-1.12 59.64A59.65 59.65 0 0 1 -1.35 59.63M-4.87 59.45A59.65 59.65 0 0 1 -5.02 59.44M-5.02 59.44A59.65 59.65 0 0 1 -5.13 59.43M-7.41 59.19A59.65 59.65 0 0 1 -7.57 59.17M-7.57 59.17A59.65 59.65 0 0 1 -7.67 59.15M-7.67 59.15A59.65 59.65 0 0 1 -7.84 59.13M-10.6 58.7A59.65 59.65 0 0 1 -10.81 58.66M-10.81 58.66A59.65 59.65 0 0 1 -11.01 58.63M-11.01 58.63A59.65 59.65 0 0 1 -11.12 58.6M-14.23 57.93A59.65 59.65 0 0 1 -14.34 57.9M-14.34 57.9A59.65 59.65 0 0 1 -14.45 57.87M-14.45 57.87A59.65 59.65 0 0 1 -14.58 57.84M-14.58 57.84A59.65 59.65 0 0 1 -14.67 57.82M-16.88 57.21A59.65 59.65 0 0 1 -17 57.18M-17 57.18A59.65 59.65 0 0 1 -17.11 57.14" stroke="#2E8B2E" stroke-width="3.7"/>
<path d="M-21.82 39.7A45.3 45.3 0 0 1 -30.33 33.65M-31.37 32.68A45.3 45.3 0 0 1 -38.02 24.63M-38.77 23.43A45.3 45.3 0 0 1 -43.1 13.93M-43.52 12.57A45.3 45.3 0 0 1 -45.24 2.28M-45.29 0.85A45.3 45.3 0 0 1 -44.29 -9.53" stroke="#2E8B2E" stroke-width="4"/>
<path d="M-28.74 52.27A59.65 59.65 0 0 1 -30.49 51.27M-37.03 46.77A59.65 59.65 0 0 1 -37.75 46.18M-41.91 42.44A59.65 59.65 0 0 1 -44.84 39.34M-49.3 33.58A59.65 59.65 0 0 1 -49.53 33.24M-53.47 26.44A59.65 59.65 0 0 1 -55.46 21.97M-58.56 11.37A59.65 59.65 0 0 1 -59.02 8.62M-59.65 -0.49A59.65 59.65 0 0 1 -59.61 -2.3M-57.89 -14.38A59.65 59.65 0 0 1 -56.9 -17.91M-51.86 -29.48A59.65 59.65 0 0 1 -50.25 -32.14M-42.66 -41.69A59.65 59.65 0 0 1 -37.59 -46.31M-28.41 -52.45A59.65 59.65 0 0 1 -26.88 -53.25M-24.24 -54.5A59.65 59.65 0 0 1 -23.65 -54.76M-16.37 -57.36A59.65 59.65 0 0 1 -13.61 -58.08M0.69 -65.85A65.85 65.85 0 0 1 38.33 -53.54M45.89 47.22A65.85 65.85 0 0 1 44.01 48.99M2.66 65.8A65.85 65.85 0 0 1 1.5 65.83" stroke="#B0C4DE" stroke-width="3.7"/>
<path d="M-30.49 51.27A59.65 59.65 0 0 1 -31.57 50.61M-38 45.98A59.65 59.65 0 0 1 -38.27 45.76M-41.31 43.03A59.65 59.65 0 0 1 -41.91 42.44M-53.11 27.16A59.65 59.65 0 0 1 -53.47 26.44M-58.3 12.61A59.65 59.65 0 0 1 -58.56 11.37M-59.45 4.83A59.65 59.65 0 0 1 -59.49 4.37M-59.64 1.12A59.65 59.65 0 0 1 -59.65 -0.49M-58.66 -10.8A59.65 59.65 0 0 1 -58.6 -11.14M-56.9 -17.91A59.65 59.65 0 0 1 -56.36 -19.54M-52.18 -28.9A59.65 59.65 0 0 1 -51.86 -29.48M-45.46 -38.62A59.65 59.65 0 0 1 -45.19 -38.94M-42.9 -41.44A59.65 59.65 0 0 1 -42.66 -41.69M-30.69 -51.15A59.65 59.65 0 0 1 -29.63 -51.77M-13.61 -58.08A59.65 59.65 0 0 1 -12.97 -58.22M-3.99 -59.52A59.65 59.65 0 0 1 -3.72 -59.53M63.36 -17.93A65.85 65.85 0 0 1 65.56 -6.2M38.18 53.65A65.85 65.85 0 0 1 36.34 54.91M-4.64 65.69A65.85 65.85 0 0 1 -5.67 65.61" stroke="#6495ED" stroke-width="3.7"/>
<path d="M-31.57 50.61A59.65 59.65 0 0 1 -34.69 48.53M-37.75 46.18A59.65 59.65 0 0 1 -38 45.98M-44.84 39.34A59.65 59.65 0 0 1 -46.69 37.13M-51.05 30.85A59.65 59.65 0 0 1 -53.11 27.16M-57.31 16.55A59.65 59.65 0 0 1 -58.3 12.61M-59.61 -2.3A59.65 59.65 0 0 1 -59.47 -4.57M-58.75 -10.31A59.65 59.65 0 0 1 -58.66 -10.8M-56.36 -19.54A59.65 59.65 0 0 1 -55.64 -21.51M-50.25 -32.14A59.65 59.65 0 0 1 -46.58 -37.27M-37.59 -46.31A59.65 59.65 0 0 1 -35.98 -47.58M-34.39 -48.74A59.65 59.65 0 0 1 -34.05 -48.98M-29.63 -51.77A59.65 59.65 0 0 1 -28.41 -52.45M-23.65 -54.76A59.65 59.65 0 0 1 -23.25 -54.93M-12.97 -58.22A59.65 59.65 0 0 1 -11.01 -58.62M-4.43 -59.49A59.65 59.65 0 0 1 -3.99 -59.52M40.72 -51.75A65.85 65.85 0 0 1 62.63 -20.35M42.09 50.64A65.85 65.85 0 0 1 40.22 52.14M-1.03 65.84A65.85 65.85 0 0 1 -2.11 65.82" stroke="#FAF0E6" stroke-width="3.7"/>
<path d="M-34.85 48.41A59.65 59.65 0 0 1 -35.16 48.18M-38.27 45.76A59.65 59.65 0 0 1 -38.65 45.43M-46.93 36.82A59.65 59.65 0 0 1 -47.11 36.59M-59.09 8.16A59.65 59.65 0 0 1 -59.14 7.76M-55.43 -22.04A59.65 59.65 0 0 1 -55.05 -22.97M-54.38 -24.51A59.65 59.65 0 0 1 -54.11 -25.1M-35.76 -47.75A59.65 59.65 0 0 1 -35.34 -48.06M-33.63 -49.27A59.65 59.65 0 0 1 -33.37 -49.44M-26.49 -53.44A59.65 59.65 0 0 1 -26.2 -53.59M-23.01 -55.03A59.65 59.65 0 0 1 -22.73 -55.15M-9.75 -58.85A59.65 59.65 0 0 1 -8.83 -58.99M65.39 7.8A65.85 65.85 0 0 1 64.68 12.34M30.19 58.52A65.85 65.85 0 0 1 28.46 59.38M-11.7 64.8A65.85 65.85 0 0 1 -12.72 64.61" stroke="#BA55D3" stroke-width="3.7"/>
<path d="M-35.16 48.18A59.65 59.65 0 0 1 -35.39 48.02M-38.65 45.43A59.65 59.65 0 0 1 -39.09 45.06M-56.38 19.47A59.65 59.65 0 0 1 -56.5 19.13M-55.05 -22.97A59.65 59.65 0 0 1 -54.93 -23.25M-54.11 -25.1A59.65 59.65 0 0 1 -53.94 -25.47M-46.1 -37.85A59.65 59.65 0 0 1 -45.82 -38.2M-35.34 -48.06A59.65 59.65 0 0 1 -34.86 -48.4M-26.2 -53.59A59.65 59.65 0 0 1 -25.29 -54.02M-8.83 -58.99A59.65 59.65 0 0 1 -8.26 -59.08M64.16 14.81A65.85 65.85 0 0 1 62.97 19.25M26.16 60.43A65.85 65.85 0 0 1 24.5 61.12M-15.19 64.07A65.85 65.85 0 0 1 -16.19 63.83" stroke="#3CB371" stroke-width="3.7"/>
<path d="M-35.39 48.02A59.65 59.65 0 0 1 -35.94 47.61M-47.19 36.48A59.65 59.65 0 0 1 -47.52 36.06M-55.67 21.44A59.65 59.65 0 0 1 -55.81 21.05M-59.17 7.55A59.65 59.65 0 0 1 -59.24 7.02M-59.49 4.37A59.65 59.65 0 0 1 -59.51 4.05M-59.17 -7.52A59.65 59.65 0 0 1 -59.13 -7.87M-53.94 -25.47A59.65 59.65 0 0 1 -53.79 -25.78M-25.29 -54.02A59.65 59.65 0 0 1 -24.95 -54.18M-22.73 -55.15A59.65 59.65 0 0 1 -22.47 -55.26M-8.26 -59.08A59.65 59.65 0 0 1 -7.78 -59.14M-6.31 -59.31A59.65 59.65 0 0 1 -5.8 -59.37M62.15 21.76A65.85 65.85 0 0 1 60.62 25.73M22.13 62.02A65.85 65.85 0 0 1 20.55 62.56M-18.63 63.16A65.85 65.85 0 0 1 -19.62 62.86" stroke="#7B68EE" stroke-width="3.7"/>
<path d="M-35.94 47.61A59.65 59.65 0 0 1 -36.49 47.19M-47.52 36.06A59.65 59.65 0 0 1 -47.86 35.6M-55.81 21.05A59.65 59.65 0 0 1 -55.94 20.72M-59.24 7.02A59.65 59.65 0 0 1 -59.31 6.38M-59.13 -7.87A59.65 59.65 0 0 1 -58.97 -8.98M-58.56 -11.36A59.65 59.65 0 0 1 -58.48 -11.73M-22.47 -55.26A59.65 59.65 0 0 1 -22.17 -55.38M-5.8 -59.37A59.65 59.65 0 0 1 -5.31 -59.41M59.68 27.83A65.85 65.85 0 0 1 57.7 31.72M18.14 63.3A65.85 65.85 0 0 1 16.64 63.71" stroke="#48D1CC" stroke-width="3.7"/>
<path d="M-36.64 47.07A59.65 59.65 0 0 1 -37.03 46.77M-39.09 45.06A59.65 59.65 0 0 1 -39.4 44.79M-48.57 34.63A59.65 59.65 0 0 1 -49.07 33.91M-59.35 6.01A59.65 59.65 0 0 1 -59.41 5.33M-59.51 4.05A59.65 59.65 0 0 1 -59.53 3.7M-58.89 -9.49A59.65 59.65 0 0 1 -58.75 -10.31M-53.7 -25.98A59.65 59.65 0 0 1 -53.56 -26.25M-7.42 -59.19A59.65 59.65 0 0 1 -7.16 -59.22M53.27 38.71A65.85 65.85 0 0 1 50.74 41.97M10.27 65.04A65.85 65.85 0 0 1 8.94 65.24" stroke="#F4A460" stroke-width="3.7"/>
<path d="M-27.56 50.12A57.2 57.2 0 0 1 -38.3 42.49M-39.61 41.26A57.2 57.2 0 0 1 -48 31.1M-48.96 29.58A57.2 57.2 0 0 1 -54.43 17.59M-54.95 15.87A57.2 57.2 0 0 1 -57.13 2.87M-57.19 1.08A57.2 57.2 0 0 1 -55.92 -12.04M-55.51 -13.79A57.2 57.2 0 0 1 -50.88 -26.13M-50.04 -27.71A57.2 57.2 0 0 1 -42.37 -38.43M-41.14 -39.74A57.2 57.2 0 0 1 -30.95 -48.1M-29.43 -49.05A57.2 57.2 0 0 1 -17.42 -54.48M-15.7 -55A57.2 57.2 0 0 1 -2.69 -57.14" stroke="#2a2a2a" stroke-width="1.2"/>
<path d="M-46.69 37.13A59.65 59.65 0 0 1 -46.93 36.82M-56.25 19.86A59.65 59.65 0 0 1 -56.38 19.47M-59.02 8.62A59.65 59.65 0 0 1 -59.09 8.16M-59.47 -4.57A59.65 59.65 0 0 1 -59.22 -7.16M-55.64 -21.51A59.65 59.65 0 0 1 -55.43 -22.04M-54.61 -24.01A59.65 59.65 0 0 1 -54.38 -24.51M-46.58 -37.27A59.65 59.65 0 0 1 -46.21 -37.72M-35.98 -47.58A59.65 59.65 0 0 1 -35.76 -47.75M-34.05 -48.98A59.65 59.65 0 0 1 -33.63 -49.27M-26.88 -53.25A59.65 59.65 0 0 1 -26.49 -53.44M-23.25 -54.93A59.65 59.65 0 0 1 -23.01 -55.03M-11.01 -58.62A59.65 59.65 0 0 1 -9.75 -58.85M-3.72 -59.53A59.65 59.65 0 0 1 -3.45 -59.55M65.79 -2.87A65.85 65.85 0 0 1 65.67 4.82M34.21 56.27A65.85 65.85 0 0 1 32.41 57.32M-8.18 65.34A65.85 65.85 0 0 1 -9.21 65.2" stroke="#CD5C5C" stroke-width="3.7"/>
<path d="M-47.86 35.6A59.65 59.65 0 0 1 -48.57 34.63M-55.94 20.72A59.65 59.65 0 0 1 -56.17 20.07M-59.31 6.38A59.65 59.65 0 0 1 -59.35 6.01M-58.97 -8.98A59.65 59.65 0 0 1 -58.89 -9.49M-44.74 -39.45A59.65 59.65 0 0 1 -44.18 -40.08M-21.49 -55.64A59.65 59.65 0 0 1 -18.17 -56.82M-5.31 -59.41A59.65 59.65 0 0 1 -4.95 -59.44M56.56 33.72A65.85 65.85 0 0 1 54.4 37.11M14.18 64.31A65.85 65.85 0 0 1 12.76 64.6M-23.6 61.48A65.85 65.85 0 0 1 -28.87 59.19" stroke="#008080" stroke-width="3.7"/>
<path d="M-49.07 33.91A59.65 59.65 0 0 1 -49.3 33.58M-59.41 5.33A59.65 59.65 0 0 1 -59.45 4.83M-58.45 -11.91A59.65 59.65 0 0 1 -58.39 -12.18M-54.8 -23.56A59.65 59.65 0 0 1 -54.61 -24.01M-53.56 -26.25A59.65 59.65 0 0 1 -53.43 -26.53M-24.71 -54.29A59.65 59.65 0 0 1 -24.24 -54.5M-7.16 -59.22A59.65 59.65 0 0 1 -6.31 -59.31M-4.95 -59.44A59.65 59.65 0 0 1 -4.6 -59.47M49.55 43.37A65.85 65.85 0 0 1 47.67 45.43M6.43 65.54A65.85 65.85 0 0 1 5.19 65.65" stroke="#6B8E23" stroke-width="3.7"/>
<path d="M-63.91 -15.87A65.85 65.85 0 0 1 -58.58 -30.08M-57.6 -31.9A65.85 65.85 0 0 1 -48.77 -44.24M-47.36 -45.75A65.85 65.85 0 0 1 -35.63 -55.38M-33.88 -56.47A65.85 65.85 0 0 1 -20.05 -62.72M-18.07 -63.32A65.85 65.85 0 0 1 -3.1 -65.78M2.52 -59.6A59.65 59.65 0 0 1 6.1 -59.34M10.62 -58.7A59.65 59.65 0 0 1 15.34 -57.64M21.45 -55.66A59.65 59.65 0 0 1 27.64 -52.86M30.09 -51.5A59.65 59.65 0 0 1 31.72 -50.52M33.22 -49.54A59.65 59.65 0 0 1 34.72 -48.5M39.58 -44.62A59.65 59.65 0 0 1 41.09 -43.24M43.28 -41.05A59.65 59.65 0 0 1 49.41 -33.42M52.29 -28.7A59.65 59.65 0 0 1 53.24 -26.9M54.96 -23.19A59.65 59.65 0 0 1 55.54 -21.75M56.32 -19.64A59.65 59.65 0 0 1 56.73 -18.43M58.74 -10.39A59.65 59.65 0 0 1 59.01 -8.74M59.01 -8.74A59.65 59.65 0 0 1 59.15 -7.72M59.15 -7.72A59.65 59.65 0 0 1 59.19 -7.37M59.19 -7.37A59.65 59.65 0 0 1 59.34 -6.03M59.34 -6.03A59.65 59.65 0 0 1 59.39 -5.61M59.59 -2.6A59.65 59.65 0 0 1 59.61 -2.05M59.61 -2.05A59.65 59.65 0 0 1 59.64 -1.14M59.64 -1.14A59.65 59.65 0 0 1 59.64 -0.86M59.64 -0.86A59.65 59.65 0 0 1 59.65 -0.38M59.65 -0.38A59.65 59.65 0 0 1 59.65 0.45M59.04 8.5A59.65 59.65 0 0 1 58.89 9.48M58.89 9.48A59.65 59.65 0 0 1 58.85 9.74M58.85 9.74A59.65 59.65 0 0 1 58.76 10.25M58.76 10.25A59.65 59.65 0 0 1 58.7 10.59M58.7 10.59A59.65 59.65 0 0 1 58.59 11.18M57.86 14.49A59.65 59.65 0 0 1 57.79 14.77M57.79 14.77A59.65 59.65 0 0 1 57.62 15.44M57.62 15.44A59.65 59.65 0 0 1 57.46 16.01M57.46 16.01A59.65 59.65 0 0 1 57.15 17.09M57.15 17.09A59.65 59.65 0 0 1 57.04 17.44M56.3 19.72A59.65 59.65 0 0 1 56.26 19.81M56.26 19.81A59.65 59.65 0 0 1 56.22 19.95M56.22 19.95A59.65 59.65 0 0 1 56.13 20.18M56.13 20.18A59.65 59.65 0 0 1 55.99 20.57M55.99 20.57A59.65 59.65 0 0 1 55.89 20.85M52.49 28.33A59.65 59.65 0 0 1 52.47 28.38M52.47 28.38A59.65 59.65 0 0 1 52.45 28.41M52.45 28.41A59.65 59.65 0 0 1 52.36 28.58M52.36 28.58A59.65 59.65 0 0 1 52.32 28.64M52.32 28.64A59.65 59.65 0 0 1 52.27 28.74M49.5 33.28A59.65 59.65 0 0 1 49.46 33.35M49.46 33.35A59.65 59.65 0 0 1 49.43 33.38M49.43 33.38A59.65 59.65 0 0 1 49.4 33.44M49.4 33.44A59.65 59.65 0 0 1 49.35 33.51M49.35 33.51A59.65 59.65 0 0 1 49.28 33.61M48.26 35.06A59.65 59.65 0 0 1 48.2 35.15M48.2 35.15A59.65 59.65 0 0 1 48.17 35.18M48.17 35.18A59.65 59.65 0 0 1 48.12 35.25M48.12 35.25A59.65 59.65 0 0 1 48.04 35.36M48.04 35.36A59.65 59.65 0 0 1 47.94 35.49M44.26 39.99A59.65 59.65 0 0 1 43.94 40.34M43.94 40.34A59.65 59.65 0 0 1 43.56 40.76M43.56 40.76A59.65 59.65 0 0 1 43.18 41.15M40.63 43.68A59.65 59.65 0 0 1 40.39 43.89M40.39 43.89A59.65 59.65 0 0 1 39.86 44.38M38.13 45.87A59.65 59.65 0 0 1 37.93 46.04M37.93 46.04A59.65 59.65 0 0 1 37.61 46.3M37.61 46.3A59.65 59.65 0 0 1 37.24 46.6M33.46 49.38A59.65 59.65 0 0 1 32.92 49.74M30.51 51.25A59.65 59.65 0 0 1 30.05 51.53M30.05 51.53A59.65 59.65 0 0 1 29.62 51.78M29.62 51.78A59.65 59.65 0 0 1 29.36 51.92M27.35 53.01A59.65 59.65 0 0 1 26.78 53.3M26.78 53.3A59.65 59.65 0 0 1 26.5 53.44M26.5 53.44A59.65 59.65 0 0 1 26.2 53.59M22.56 55.22A59.65 59.65 0 0 1 22.19 55.37M19.54 56.36A59.65 59.65 0 0 1 19.22 56.47M19.22 56.47A59.65 59.65 0 0 1 18.93 56.57M18.93 56.57A59.65 59.65 0 0 1 18.62 56.67M16.43 57.34A59.65 59.65 0 0 1 16.09 57.44M16.09 57.44A59.65 59.65 0 0 1 15.74 57.54M15.74 57.54A59.65 59.65 0 0 1 15.44 57.62M12.66 58.29A59.65 59.65 0 0 1 12.45 58.34M12.45 58.34A59.65 59.65 0 0 1 12.24 58.38M12.24 58.38A59.65 59.65 0 0 1 12.02 58.43M12.02 58.43A59.65 59.65 0 0 1 11.79 58.47M11.79 58.47A59.65 59.65 0 0 1 11.56 58.52M8.58 59.03A59.65 59.65 0 0 1 8.28 59.07M8.28 59.07A59.65 59.65 0 0 1 8.1 59.1M5.83 59.36A59.65 59.65 0 0 1 5.53 59.39M5.53 59.39A59.65 59.65 0 0 1 5.3 59.41M1.91 59.62A59.65 59.65 0 0 1 1.73 59.62M1.73 59.62A59.65 59.65 0 0 1 1.56 59.63M1.56 59.63A59.65 59.65 0 0 1 1.46 59.63M1.46 59.63A59.65 59.65 0 0 1 1.36 59.63M-1.35 59.63A59.65 59.65 0 0 1 -1.5 59.63M-1.5 59.63A59.65 59.65 0 0 1 -1.63 59.63M-1.63 59.63A59.65 59.65 0 0 1 -1.91 59.62M-4.2 59.5A59.65 59.65 0 0 1 -4.35 59.49M-4.35 59.49A59.65 59.65 0 0 1 -4.51 59.48M-4.51 59.48A59.65 59.65 0 0 1 -4.69 59.47M-4.69 59.47A59.65 59.65 0 0 1 -4.87 59.45M-7.84 59.13A59.65 59.65 0 0 1 -8.03 59.11M-8.03 59.11A59.65 59.65 0 0 1 -8.17 59.09M-8.17 59.09A59.65 59.65 0 0 1 -8.34 59.06M-11.12 58.6A59.65 59.65 0 0 1 -11.28 58.57M-11.28 58.57A59.65 59.65 0 0 1 -11.39 58.55M-11.39 58.55A59.65 59.65 0 0 1 -11.52 58.53M-13.76 58.04A59.65 59.65 0 0 1 -13.92 58M-13.92 58A59.65 59.65 0 0 1 -14.08 57.96M-14.08 57.96A59.65 59.65 0 0 1 -14.23 57.93M-17.11 57.14A59.65 59.65 0 0 1 -17.21 57.11M-17.21 57.11A59.65 59.65 0 0 1 -17.36 57.07M-17.36 57.07A59.65 59.65 0 0 1 -17.5 57.02M-17.5 57.02A59.65 59.65 0 0 1 -17.66 56.98M-17.66 56.98A59.65 59.65 0 0 1 -17.78 56.94M-21.38 55.69A59.65 59.65 0 0 1 -22.59 55.21M-22.59 55.21A59.65 59.65 0 0 1 -26.15 53.61" stroke="#EE3B2F" stroke-width="3.7"/>
<path d="M-43.96 -10.92A45.3 45.3 0 0 1 -40.3 -20.69M-39.63 -21.95A45.3 45.3 0 0 1 -33.55 -30.43M-32.58 -31.47A45.3 45.3 0 0 1 -24.51 -38.09M-23.3 -38.85A45.3 45.3 0 0 1 -13.8 -43.15M-12.43 -43.56A45.3 45.3 0 0 1 -2.13 -45.25" stroke="#EE3B2F" stroke-width="4"/>
<path d="M0.47 -45.3A45.3 45.3 0 0 1 26.37 -36.83M31.57 32.49A45.3 45.3 0 0 1 30.27 33.7M1.83 45.26A45.3 45.3 0 0 1 1.03 45.29" stroke="#B0C4DE" stroke-width="4"/>
<path d="M0.44 -42.15A42.15 42.15 0 0 1 1.78 -42.11M4.31 -41.93A42.15 42.15 0 0 1 7.51 -41.48M10.84 -40.73A42.15 42.15 0 0 1 15.16 -39.33M19.53 -37.35A42.15 42.15 0 0 1 21.26 -36.39M22.42 -35.7A42.15 42.15 0 0 1 23.48 -35.01M26.07 -33.12A42.15 42.15 0 0 1 27.97 -31.53M29.04 -30.55A42.15 42.15 0 0 1 30.58 -29.01M34.91 -23.62A42.15 42.15 0 0 1 36.95 -20.28M37.62 -19.01A42.15 42.15 0 0 1 38.84 -16.38M39.25 -15.37A42.15 42.15 0 0 1 39.8 -13.88M40.56 -11.48A42.15 42.15 0 0 1 40.78 -10.67M40.78 -10.67A42.15 42.15 0 0 1 40.93 -10.05M40.93 -10.05A42.15 42.15 0 0 1 41.1 -9.33M41.1 -9.33A42.15 42.15 0 0 1 41.29 -8.45M41.29 -8.45A42.15 42.15 0 0 1 41.51 -7.34M42.15 0.31A42.15 42.15 0 0 1 42.15 0.45M42.15 0.45A42.15 42.15 0 0 1 42.14 0.74M42.14 0.74A42.15 42.15 0 0 1 42.14 0.94M42.14 0.94A42.15 42.15 0 0 1 42.13 1.27M42.13 1.27A42.15 42.15 0 0 1 42.04 3.09M41.85 4.99A42.15 42.15 0 0 1 41.82 5.25M41.82 5.25A42.15 42.15 0 0 1 41.79 5.47M41.79 5.47A42.15 42.15 0 0 1 41.78 5.59M41.78 5.59A42.15 42.15 0 0 1 41.74 5.87M41.74 5.87A42.15 42.15 0 0 1 41.72 6.01M41.07 9.48A42.15 42.15 0 0 1 41.03 9.66M41.03 9.66A42.15 42.15 0 0 1 41 9.76M41 9.76A42.15 42.15 0 0 1 40.95 9.97M40.95 9.97A42.15 42.15 0 0 1 40.92 10.12M40.92 10.12A42.15 42.15 0 0 1 40.89 10.24M39.49 14.74A42.15 42.15 0 0 1 39.33 15.16M39.33 15.16A42.15 42.15 0 0 1 39.18 15.53M39.18 15.53A42.15 42.15 0 0 1 39.04 15.89M39.04 15.89A42.15 42.15 0 0 1 38.9 16.24M38.9 16.24A42.15 42.15 0 0 1 38.8 16.47M38.2 17.81A42.15 42.15 0 0 1 38.01 18.23M38.01 18.23A42.15 42.15 0 0 1 37.81 18.62M37.81 18.62A42.15 42.15 0 0 1 37.67 18.91M37.67 18.91A42.15 42.15 0 0 1 37.46 19.32M37.46 19.32A42.15 42.15 0 0 1 37.09 20.02M36.21 21.58A42.15 42.15 0 0 1 36.14 21.69M36.14 21.69A42.15 42.15 0 0 1 35.66 22.47M35.66 22.47A42.15 42.15 0 0 1 35.32 23M35.32 23A42.15 42.15 0 0 1 35.18 23.22M35.18 23.22A42.15 42.15 0 0 1 34.98 23.52M33.88 25.08A42.15 42.15 0 0 1 33.68 25.34M33.68 25.34A42.15 42.15 0 0 1 33.28 25.87M33.28 25.87A42.15 42.15 0 0 1 33.15 26.03M33.15 26.03A42.15 42.15 0 0 1 32.84 26.42M32.84 26.42A42.15 42.15 0 0 1 32.48 26.87M31.71 27.76A42.15 42.15 0 0 1 31.51 27.99M31.51 27.99A42.15 42.15 0 0 1 31.28 28.26M29.38 30.23A42.15 42.15 0 0 1 28.93 30.65M28.93 30.65A42.15 42.15 0 0 1 28.71 30.86M26.31 32.93A42.15 42.15 0 0 1 26.15 33.06M26.15 33.06A42.15 42.15 0 0 1 26.01 33.17M26.01 33.17A42.15 42.15 0 0 1 25.74 33.38M24.44 34.34A42.15 42.15 0 0 1 24.25 34.47M24.25 34.47A42.15 42.15 0 0 1 24.11 34.57M24.11 34.57A42.15 42.15 0 0 1 23.85 34.76M23.85 34.76A42.15 42.15 0 0 1 23.64 34.89M21.9 36.02A42.15 42.15 0 0 1 21.56 36.22M18.52 37.87A42.15 42.15 0 0 1 18.22 38.01M16.74 38.68A42.15 42.15 0 0 1 16.4 38.83M16.4 38.83A42.15 42.15 0 0 1 16.09 38.96M16.09 38.96A42.15 42.15 0 0 1 15.94 39.02M14.17 39.7A42.15 42.15 0 0 1 14.02 39.75M14.02 39.75A42.15 42.15 0 0 1 13.81 39.83M10.91 40.71A42.15 42.15 0 0 1 10.65 40.78M9.08 41.16A42.15 42.15 0 0 1 8.95 41.19M6.58 41.63A42.15 42.15 0 0 1 6.31 41.68M6.31 41.68A42.15 42.15 0 0 1 6.06 41.71M3.75 41.98A42.15 42.15 0 0 1 3.51 42M3.51 42A42.15 42.15 0 0 1 3.32 42.02M1.7 42.12A42.15 42.15 0 0 1 1.56 42.12M1.56 42.12A42.15 42.15 0 0 1 1.48 42.12M1.48 42.12A42.15 42.15 0 0 1 1.35 42.13M-0.66 42.14A42.15 42.15 0 0 1 -0.79 42.14M-0.79 42.14A42.15 42.15 0 0 1 -0.95 42.14M-3.44 42.01A42.15 42.15 0 0 1 -3.55 42M-3.55 42A42.15 42.15 0 0 1 -3.63 41.99M-5.24 41.82A42.15 42.15 0 0 1 -5.35 41.81M-5.35 41.81A42.15 42.15 0 0 1 -5.42 41.8M-5.42 41.8A42.15 42.15 0 0 1 -5.54 41.78M-7.49 41.48A42.15 42.15 0 0 1 -7.64 41.45M-7.64 41.45A42.15 42.15 0 0 1 -7.78 41.43M-7.78 41.43A42.15 42.15 0 0 1 -7.86 41.41M-10.06 40.93A42.15 42.15 0 0 1 -10.14 40.91M-10.14 40.91A42.15 42.15 0 0 1 -10.21 40.9M-10.21 40.9A42.15 42.15 0 0 1 -10.3 40.87M-10.3 40.87A42.15 42.15 0 0 1 -10.37 40.86M-11.93 40.43A42.15 42.15 0 0 1 -12.01 40.4M-12.01 40.4A42.15 42.15 0 0 1 -12.09 40.38" stroke="#2E8B2E" stroke-width="1.1"/>
<path d="M1.78 -42.11A42.15 42.15 0 0 1 4.31 -41.93M7.51 -41.48A42.15 42.15 0 0 1 10.84 -40.73M15.16 -39.33A42.15 42.15 0 0 1 19.53 -37.35M21.26 -36.39A42.15 42.15 0 0 1 22.42 -35.7M23.48 -35.01A42.15 42.15 0 0 1 24.54 -34.27M27.97 -31.53A42.15 42.15 0 0 1 29.04 -30.55M30.58 -29.01A42.15 42.15 0 0 1 34.91 -23.62M36.95 -20.28A42.15 42.15 0 0 1 37.62 -19.01M38.84 -16.38A42.15 42.15 0 0 1 39.25 -15.37M39.8 -13.88A42.15 42.15 0 0 1 40.09 -13.03M41.51 -7.34A42.15 42.15 0 0 1 41.7 -6.17M41.7 -6.17A42.15 42.15 0 0 1 41.8 -5.45M41.8 -5.45A42.15 42.15 0 0 1 41.83 -5.21M41.83 -5.21A42.15 42.15 0 0 1 41.93 -4.26M41.93 -4.26A42.15 42.15 0 0 1 41.96 -3.97M42.11 -1.84A42.15 42.15 0 0 1 42.13 -1.45M42.13 -1.45A42.15 42.15 0 0 1 42.14 -0.81M42.14 -0.81A42.15 42.15 0 0 1 42.15 -0.61M42.15 -0.61A42.15 42.15 0 0 1 42.15 -0.27M42.15 -0.27A42.15 42.15 0 0 1 42.15 0.31M41.72 6.01A42.15 42.15 0 0 1 41.61 6.7M41.61 6.7A42.15 42.15 0 0 1 41.58 6.88M41.58 6.88A42.15 42.15 0 0 1 41.52 7.24M41.52 7.24A42.15 42.15 0 0 1 41.48 7.48M41.48 7.48A42.15 42.15 0 0 1 41.4 7.9M40.89 10.24A42.15 42.15 0 0 1 40.84 10.44M40.84 10.44A42.15 42.15 0 0 1 40.71 10.91M40.71 10.91A42.15 42.15 0 0 1 40.6 11.31M40.6 11.31A42.15 42.15 0 0 1 40.38 12.07M40.38 12.07A42.15 42.15 0 0 1 40.31 12.32M39.78 13.93A42.15 42.15 0 0 1 39.76 14M39.76 14A42.15 42.15 0 0 1 39.72 14.1M39.72 14.1A42.15 42.15 0 0 1 39.66 14.26M39.66 14.26A42.15 42.15 0 0 1 39.57 14.53M39.57 14.53A42.15 42.15 0 0 1 39.49 14.74M37.09 20.02A42.15 42.15 0 0 1 37.07 20.05M37.07 20.05A42.15 42.15 0 0 1 37.06 20.08M37.06 20.08A42.15 42.15 0 0 1 37 20.19M37 20.19A42.15 42.15 0 0 1 36.97 20.24M36.97 20.24A42.15 42.15 0 0 1 36.94 20.31M34.98 23.52A42.15 42.15 0 0 1 34.95 23.56M34.95 23.56A42.15 42.15 0 0 1 34.93 23.59M34.93 23.59A42.15 42.15 0 0 1 34.91 23.63M34.91 23.63A42.15 42.15 0 0 1 34.87 23.68M34.87 23.68A42.15 42.15 0 0 1 34.82 23.75M34.1 24.78A42.15 42.15 0 0 1 34.06 24.84M34.06 24.84A42.15 42.15 0 0 1 34.04 24.86M34.04 24.86A42.15 42.15 0 0 1 34 24.91M34 24.91A42.15 42.15 0 0 1 33.95 24.99M33.95 24.99A42.15 42.15 0 0 1 33.88 25.08M31.28 28.26A42.15 42.15 0 0 1 31.05 28.5M31.05 28.5A42.15 42.15 0 0 1 30.78 28.8M30.78 28.8A42.15 42.15 0 0 1 30.51 29.08M28.71 30.86A42.15 42.15 0 0 1 28.54 31.02M28.54 31.02A42.15 42.15 0 0 1 28.17 31.36M26.94 32.41A42.15 42.15 0 0 1 26.8 32.53M26.8 32.53A42.15 42.15 0 0 1 26.57 32.72M26.57 32.72A42.15 42.15 0 0 1 26.31 32.93M23.64 34.89A42.15 42.15 0 0 1 23.26 35.15M21.56 36.22A42.15 42.15 0 0 1 21.24 36.41M21.24 36.41A42.15 42.15 0 0 1 20.93 36.59M20.93 36.59A42.15 42.15 0 0 1 20.75 36.69M19.32 37.46A42.15 42.15 0 0 1 18.92 37.66M18.92 37.66A42.15 42.15 0 0 1 18.73 37.76M18.73 37.76A42.15 42.15 0 0 1 18.52 37.87M15.94 39.02A42.15 42.15 0 0 1 15.68 39.12M13.81 39.83A42.15 42.15 0 0 1 13.58 39.9M13.58 39.9A42.15 42.15 0 0 1 13.38 39.97M13.38 39.97A42.15 42.15 0 0 1 13.16 40.04M11.61 40.52A42.15 42.15 0 0 1 11.37 40.59M11.37 40.59A42.15 42.15 0 0 1 11.12 40.66M11.12 40.66A42.15 42.15 0 0 1 10.91 40.71M8.95 41.19A42.15 42.15 0 0 1 8.8 41.22M8.8 41.22A42.15 42.15 0 0 1 8.65 41.25M8.65 41.25A42.15 42.15 0 0 1 8.49 41.29M8.49 41.29A42.15 42.15 0 0 1 8.33 41.32M8.33 41.32A42.15 42.15 0 0 1 8.17 41.35M6.06 41.71A42.15 42.15 0 0 1 5.85 41.74M5.85 41.74A42.15 42.15 0 0 1 5.72 41.76M4.12 41.95A42.15 42.15 0 0 1 3.91 41.97M3.91 41.97A42.15 42.15 0 0 1 3.75 41.98M1.35 42.13A42.15 42.15 0 0 1 1.22 42.13M1.22 42.13A42.15 42.15 0 0 1 1.1 42.14M1.1 42.14A42.15 42.15 0 0 1 1.03 42.14M1.03 42.14A42.15 42.15 0 0 1 0.96 42.14M-0.95 42.14A42.15 42.15 0 0 1 -1.06 42.14M-1.06 42.14A42.15 42.15 0 0 1 -1.15 42.13M-1.15 42.13A42.15 42.15 0 0 1 -1.35 42.13M-2.97 42.05A42.15 42.15 0 0 1 -3.07 42.04M-3.07 42.04A42.15 42.15 0 0 1 -3.19 42.03M-3.19 42.03A42.15 42.15 0 0 1 -3.31 42.02M-3.31 42.02A42.15 42.15 0 0 1 -3.44 42.01M-5.54 41.78A42.15 42.15 0 0 1 -5.68 41.77M-5.68 41.77A42.15 42.15 0 0 1 -5.77 41.75M-5.77 41.75A42.15 42.15 0 0 1 -5.89 41.74M-7.86 41.41A42.15 42.15 0 0 1 -7.97 41.39M-7.97 41.39A42.15 42.15 0 0 1 -8.05 41.37M-8.05 41.37A42.15 42.15 0 0 1 -8.14 41.36M-9.72 41.01A42.15 42.15 0 0 1 -9.83 40.99M-9.83 40.99A42.15 42.15 0 0 1 -9.95 40.96M-9.95 40.96A42.15 42.15 0 0 1 -10.06 40.93M-12.09 40.38A42.15 42.15 0 0 1 -12.16 40.36M-12.16 40.36A42.15 42.15 0 0 1 -12.27 40.33M-12.27 40.33A42.15 42.15 0 0 1 -12.37 40.29M-12.37 40.29A42.15 42.15 0 0 1 -12.48 40.26M-12.48 40.26A42.15 42.15 0 0 1 -12.56 40.24M-15.11 39.35A42.15 42.15 0 0 1 -15.96 39.01M-15.96 39.01A42.15 42.15 0 0 1 -18.48 37.88" stroke="#EE3B2F" stroke-width="1.1"/>
<path d="M28.01 -35.6A45.3 45.3 0 0 1 43.08 -14M28.96 34.84A45.3 45.3 0 0 1 27.67 35.87M-0.71 45.29A45.3 45.3 0 0 1 -1.45 45.28" stroke="#FAF0E6" stroke-width="4"/>
<path d="M43.59 -12.33A45.3 45.3 0 0 1 45.1 -4.26M26.27 36.91A45.3 45.3 0 0 1 25 37.78M-3.19 45.19A45.3 45.3 0 0 1 -3.9 45.13" stroke="#6495ED" stroke-width="4"/>
<path d="M45.26 -1.98A45.3 45.3 0 0 1 45.18 3.32M23.53 38.71A45.3 45.3 0 0 1 22.3 39.43M-5.63 44.95A45.3 45.3 0 0 1 -6.33 44.86" stroke="#CD5C5C" stroke-width="4"/>
<path d="M44.98 5.36A45.3 45.3 0 0 1 44.5 8.49M20.77 40.26A45.3 45.3 0 0 1 19.58 40.85M-8.05 44.58A45.3 45.3 0 0 1 -8.75 44.45" stroke="#BA55D3" stroke-width="4"/>
<path d="M44.14 10.19A45.3 45.3 0 0 1 43.32 13.24M18 41.57A45.3 45.3 0 0 1 16.85 42.05M-10.45 44.08A45.3 45.3 0 0 1 -11.14 43.91" stroke="#3CB371" stroke-width="4"/>
<path d="M42.75 14.97A45.3 45.3 0 0 1 41.7 17.7M15.23 42.66A45.3 45.3 0 0 1 14.14 43.04M-12.82 43.45A45.3 45.3 0 0 1 -13.5 43.24" stroke="#7B68EE" stroke-width="4"/>
<path d="M41.06 19.14A45.3 45.3 0 0 1 39.7 21.82M12.48 43.55A45.3 45.3 0 0 1 11.44 43.83" stroke="#48D1CC" stroke-width="4"/>
<path d="M38.91 23.2A45.3 45.3 0 0 1 37.42 25.53M9.75 44.24A45.3 45.3 0 0 1 8.78 44.44M-16.23 42.29A45.3 45.3 0 0 1 -19.86 40.72" stroke="#008080" stroke-width="4"/>
<path d="M36.65 26.63A45.3 45.3 0 0 1 34.9 28.88M7.07 44.75A45.3 45.3 0 0 1 6.15 44.88" stroke="#F4A460" stroke-width="4"/>
<path d="M34.08 29.84A45.3 45.3 0 0 1 32.8 31.25M4.42 45.08A45.3 45.3 0 0 1 3.57 45.16" stroke="#6B8E23" stroke-width="4"/>
<path d="M0.6 -57.6L0.6 -56.5M2.9 -57.5L2.9 -56.4M5.3 -57.4L5.2 -56.3M7.6 -57.1L7.5 -56M9.9 -56.7L9.7 -55.7M12.2 -56.3L12 -55.2M14.5 -55.7L14.2 -54.7M16.8 -55.1L16.5 -54.1M19 -54.4L18.6 -53.3M21.2 -53.6L20.8 -52.5M23.4 -52.6L22.9 -51.6M25.5 -51.7L25 -50.7M27.6 -50.6L27 -49.6M29.6 -49.4L29 -48.5M31.6 -48.2L31 -47.2M33.5 -46.8L32.9 -45.9M35.6 -45.3L34.9 -44.4M37.4 -43.8L36.7 -43M39.1 -42.3L38.3 -41.5M40.7 -40.8L39.9 -40M42.3 -39.1L41.5 -38.4M43.8 -37.4L42.9 -36.7M45.2 -35.7L44.4 -35M46.6 -33.9L45.7 -33.2M47.9 -32L47 -31.4M49.1 -30.1L48.2 -29.5M50.2 -28.2L49.3 -27.6M51.3 -26.2L50.3 -25.7M52.3 -24.1L51.3 -23.7M53.2 -22L52.2 -21.6M54 -19.9L53 -19.6M54.8 -17.8L53.7 -17.5" stroke="#111" stroke-width="0.7"/>
</g>
<g class="t">
<text text-anchor="end" transform="translate(0.6 -55.8) rotate(-89.4)">0%</text>
<text text-anchor="end" transform="translate(2.9 -55.7) rotate(-87.1)">7%</text>
<text text-anchor="end" transform="translate(5.1 -55.6) rotate(-84.7)">13%</text>
<text text-anchor="end" transform="translate(7.4 -55.3) rotate(-82.4)">20%</text>
<text text-anchor="end" transform="translate(9.6 -55) rotate(-80.1)">27%</text>
<text text-anchor="end" transform="translate(11.9 -54.5) rotate(-77.7)">33%</text>
<text text-anchor="end" transform="translate(14.1 -54) rotate(-75.4)">40%</text>
<text text-anchor="end" transform="translate(16.3 -53.4) rotate(-73.1)">47%</text>
<text text-anchor="end" transform="translate(18.4 -52.7) rotate(-70.7)">53%</text>
<text text-anchor="end" transform="translate(20.5 -51.9) rotate(-68.4)">60%</text>
<text text-anchor="end" transform="translate(22.6 -51) rotate(-66.1)">67%</text>
<text text-anchor="end" transform="translate(24.7 -50) rotate(-63.7)">73%</text>
<text text-anchor="end" transform="translate(26.7 -49) rotate(-61.4)">80%</text>
<text text-anchor="end" transform="translate(28.7 -47.9) rotate(-59.1)">87%</text>
<text text-anchor="end" transform="translate(30.6 -46.7) rotate(-56.7)">93%</text>
<text text-anchor="end" transform="translate(32.5 -45.4) rotate(-54.4)">100%</text>
<text text-anchor="end" transform="translate(34.5 -43.9) rotate(-51.8)">0%</text>
<text text-anchor="end" transform="translate(36.2 -42.5) rotate(-49.5)">7%</text>
<text text-anchor="end" transform="translate(37.8 -41) rotate(-47.3)">13%</text>
<text text-anchor="end" transform="translate(39.4 -39.5) rotate(-45)">20%</text>
<text text-anchor="end" transform="translate(41 -37.9) rotate(-42.8)">27%</text>
<text text-anchor="end" transform="translate(42.4 -36.3) rotate(-40.5)">33%</text>
<text text-anchor="end" transform="translate(43.8 -34.6) rotate(-38.3)">40%</text>
<text text-anchor="end" transform="translate(45.1 -32.8) rotate(-36)">47%</text>
<text text-anchor="end" transform="translate(46.4 -31) rotate(-33.8)">53%</text>
<text text-anchor="end" transform="translate(47.6 -29.2) rotate(-31.5)">60%</text>
<text text-anchor="end" transform="translate(48.7 -27.3) rotate(-29.3)">67%</text>
<text text-anchor="end" transform="translate(49.7 -25.3) rotate(-27)">73%</text>
<text text-anchor="end" transform="translate(50.7 -23.4) rotate(-24.8)">80%</text>
<text text-anchor="end" transform="translate(51.5 -21.4) rotate(-22.5)">87%</text>
<text text-anchor="end" transform="translate(52.3 -19.3) rotate(-20.3)">93%</text>
<text text-anchor="end" transform="translate(53.1 -17.2) rotate(-18)">100%</text>
<text text-anchor="middle" font-size="3.7" transform="translate(-40 56.3) rotate(-144.6)">2w-1</text>
<text text-anchor="middle" font-size="3.7" transform="translate(-53.3 44) rotate(-129.6)">2w-2</text>
<text text-anchor="middle" font-size="3.7" transform="translate(-62.9 28.7) rotate(-114.5)">2w-3</text>
<text text-anchor="middle" font-size="3.7" transform="translate(-68.2 11.4) rotate(-99.5)">2w-4</text>
<text text-anchor="middle" font-size="3.7" transform="translate(-68.8 -6.7) rotate(-84.5)">2w-5</text>
<text text-anchor="middle" font-size="3.7" transform="translate(-64.7 -24.3) rotate(-69.4)">Con-2w-1</text>
<text text-anchor="middle" font-size="3.7" transform="translate(-56.2 -40.2) rotate(-54.4)">Con-2w-2</text>
<text text-anchor="middle" font-size="3.7" transform="translate(-43.8 -53.4) rotate(-39.4)">Con-2w-3</text>
<text text-anchor="middle" font-size="3.7" transform="translate(-28.5 -63) rotate(-24.3)">Con-2w-4</text>
<text text-anchor="middle" font-size="3.7" transform="translate(-11.2 -68.2) rotate(-9.3)">Con-2w-5</text>
</g>
</g>
<text x="554" y="26.01" font-size="5.02" class="k" textLength="29" lengthAdjust="spacingAndGlyphs">Lactobacillus</text>
<text x="587" y="51.2" font-size="5.01" class="k" textLength="57.6" lengthAdjust="spacingAndGlyphs">norank_f_Muribaculaceae</text>
<text x="598.4" y="79.79" font-size="4.97" class="k" textLength="27.6" lengthAdjust="spacingAndGlyphs">Lactococcus</text>
<text x="601" y="94.18" font-size="4.93" class="k" textLength="17" lengthAdjust="spacingAndGlyphs">Bacillus</text>
<text x="599.4" y="103.38" font-size="4.93" class="k" textLength="29.6" lengthAdjust="spacingAndGlyphs">Alloprevotella</text>
<text x="597" y="110.6" font-size="4.99" class="k" textLength="71" lengthAdjust="spacingAndGlyphs">unclassified_f_Lachnospiraceae</text>
<text x="596" y="117.8" font-size="5" class="k" textLength="18.6" lengthAdjust="spacingAndGlyphs">Alistipes</text>
<text x="593.6" y="123.79" font-size="4.98" class="k" textLength="56.8" lengthAdjust="spacingAndGlyphs">Prevotellaceae_UCG-001</text>
<text x="589.6" y="130.82" font-size="5.05" class="k" textLength="26.4" lengthAdjust="spacingAndGlyphs">Odoribacter</text>
<text x="586.6" y="137.42" font-size="5.05" class="k" textLength="35.4" lengthAdjust="spacingAndGlyphs">Staphylococcus</text>
<text x="454.2" y="190.9" font-size="13.6" class="s" font-weight="bold" fill="#000">L</text>
<g transform="translate(531.4 257.7)">
<g class="rb">
<path class="c0" d="M-2.7 -41.5A41.6 41.6 0 0 1 1.4 -41.6Q0 0 -5 43A43.3 43.3 0 0 1 -8.8 42.4Q0 0 -2.7 -41.5Z"/>
<path class="c0" d="M1.4 -41.6A41.6 41.6 0 0 1 4.2 -41.4Q0 0 -15.6 40.4A43.3 43.3 0 0 1 -18.4 39.2Q0 0 1.4 -41.6Z"/>
<path class="c0" d="M4.2 -41.4A41.6 41.6 0 0 1 24.6 -33.5Q0 0 -25.6 34.9A43.3 43.3 0 0 1 -31.9 29.3Q0 0 4.2 -41.4Z"/>
<path class="c0" d="M29.3 -29.5A41.6 41.6 0 0 1 32 -26.5Q0 0 -34.3 26.5A43.3 43.3 0 0 1 -36.6 23.1Q0 0 29.3 -29.5Z"/>
<path class="c0" d="M32 -26.5A41.6 41.6 0 0 1 34.1 -23.8Q0 0 -40.3 15.7A43.3 43.3 0 0 1 -41.3 12.9Q0 0 32 -26.5Z"/>
<path class="c0" d="M-8.9 -40.6A41.6 41.6 0 0 1 -5 -41.3Q0 0 -43.1 3.7A43.3 43.3 0 0 1 -43.2 -1.7Q0 0 -8.9 -40.6Z"/>
<path class="c0" d="M-5 -41.3A41.6 41.6 0 0 1 -2.7 -41.5Q0 0 -42.1 -10A43.3 43.3 0 0 1 -41.1 -13.6Q0 0 -5 -41.3Z"/>
<path class="c0" d="M24.6 -33.5A41.6 41.6 0 0 1 26.2 -32.3Q0 0 -36.8 -22.8A43.3 43.3 0 0 1 -35 -25.5Q0 0 24.6 -33.5Z"/>
<path class="c0" d="M26.2 -32.3A41.6 41.6 0 0 1 29.3 -29.5Q0 0 -30.9 -30.3A43.3 43.3 0 0 1 -28.2 -32.9Q0 0 26.2 -32.3Z"/>
<path class="c0" d="M34.1 -23.8A41.6 41.6 0 0 1 35.4 -21.8Q0 0 -18.1 -39.3A43.3 43.3 0 0 1 -13.7 -41Q0 0 34.1 -23.8Z"/>
<path class="c1" d="M37.3 -18.4A41.6 41.6 0 0 1 38.1 -16.6Q0 0 -2.3 43.2A43.3 43.3 0 0 1 -4.2 43.1Q0 0 37.3 -18.4Z"/>
<path class="c1" d="M38.1 -16.6A41.6 41.6 0 0 1 38.6 -15.6Q0 0 -14.5 40.8A43.3 43.3 0 0 1 -15.6 40.4Q0 0 38.1 -16.6Z"/>
<path class="c1" d="M38.6 -15.6A41.6 41.6 0 0 1 38.7 -15.1Q0 0 -25.5 35A43.3 43.3 0 0 1 -25.6 34.9Q0 0 38.6 -15.6Z"/>
<path class="c1" d="M39.8 -12.1A41.6 41.6 0 0 1 39.9 -11.5Q0 0 -36.6 23.1A43.3 43.3 0 0 1 -36.9 22.6Q0 0 39.8 -12.1Z"/>
<path class="c1" d="M39.9 -11.5A41.6 41.6 0 0 1 40.1 -10.8Q0 0 -41.4 12.5A43.3 43.3 0 0 1 -41.6 11.9Q0 0 39.9 -11.5Z"/>
<path class="c1" d="M36.5 -19.8A41.6 41.6 0 0 1 36.7 -19.5Q0 0 -43.2 -1.7A43.3 43.3 0 0 1 -43.2 -2.2Q0 0 36.5 -19.8Z"/>
<path class="c1" d="M36.7 -19.5A41.6 41.6 0 0 1 37.3 -18.4Q0 0 -41.1 -13.6A43.3 43.3 0 0 1 -40.4 -15.4Q0 0 36.7 -19.5Z"/>
<path class="c1" d="M38.7 -15.1A41.6 41.6 0 0 1 39.1 -14.2Q0 0 -37.6 -21.4A43.3 43.3 0 0 1 -36.8 -22.8Q0 0 38.7 -15.1Z"/>
<path class="c1" d="M39.1 -14.2A41.6 41.6 0 0 1 39.8 -12.1Q0 0 -28.2 -32.9A43.3 43.3 0 0 1 -26.6 -34.1Q0 0 39.1 -14.2Z"/>
<path class="c1" d="M40.1 -10.8A41.6 41.6 0 0 1 40.3 -10.1Q0 0 -21.1 -37.8A43.3 43.3 0 0 1 -19.8 -38.5Q0 0 40.1 -10.8Z"/>
<path class="c2" d="M40.9 -7.7A41.6 41.6 0 0 1 41 -6.9Q0 0 -4.2 43.1A43.3 43.3 0 0 1 -5 43Q0 0 40.9 -7.7Z"/>
<path class="c2" d="M41 -6.9A41.6 41.6 0 0 1 41.2 -5.9Q0 0 -18.4 39.2A43.3 43.3 0 0 1 -19.4 38.7Q0 0 41 -6.9Z"/>
<path class="c2" d="M41.2 -5.9A41.6 41.6 0 0 1 41.2 -5.6Q0 0 -25.4 35.1A43.3 43.3 0 0 1 -25.5 35Q0 0 41.2 -5.9Z"/>
<path class="c2" d="M41.2 -5.6A41.6 41.6 0 0 1 41.4 -4.1Q0 0 -36.9 22.6A43.3 43.3 0 0 1 -37.7 21.2Q0 0 41.2 -5.6Z"/>
<path class="c2" d="M41.4 -4.1A41.6 41.6 0 0 1 41.4 -3.6Q0 0 -41.3 12.9A43.3 43.3 0 0 1 -41.4 12.5Q0 0 41.4 -4.1Z"/>
<path class="c2" d="M41.4 -3.6A41.6 41.6 0 0 1 41.5 -1.7Q0 0 -43.2 -2.2A43.3 43.3 0 0 1 -43 -4.8Q0 0 41.4 -3.6Z"/>
<path class="c2" d="M41.5 -1.7A41.6 41.6 0 0 1 41.6 -0.9Q0 0 -42.4 -8.7A43.3 43.3 0 0 1 -42.1 -10Q0 0 41.5 -1.7Z"/>
<path class="c2" d="M41.6 -0.9A41.6 41.6 0 0 1 41.6 -0.1Q0 0 -38.2 -20.3A43.3 43.3 0 0 1 -37.6 -21.4Q0 0 41.6 -0.9Z"/>
<path class="c2" d="M41.6 -0.1A41.6 41.6 0 0 1 41.6 0.3Q0 0 -26.6 -34.1A43.3 43.3 0 0 1 -26.3 -34.4Q0 0 41.6 -0.1Z"/>
<path class="c2" d="M41.6 0.3A41.6 41.6 0 0 1 41.6 1.2Q0 0 -19.8 -38.5A43.3 43.3 0 0 1 -18.1 -39.3Q0 0 41.6 0.3Z"/>
<path class="c3" d="M41.4 3.5A41.6 41.6 0 0 1 41.4 4Q0 0 -8.8 42.4A43.3 43.3 0 0 1 -9.3 42.3Q0 0 41.4 3.5Z"/>
<path class="c3" d="M41.4 4A41.6 41.6 0 0 1 41.2 5.7Q0 0 -19.4 38.7A43.3 43.3 0 0 1 -21.1 37.8Q0 0 41.4 4Z"/>
<path class="c3" d="M41.2 5.7A41.6 41.6 0 0 1 40.9 7.3Q0 0 -31.9 29.3A43.3 43.3 0 0 1 -32.3 28.8Q0 0 41.2 5.7Z"/>
<path class="c3" d="M40.9 7.3A41.6 41.6 0 0 1 40.8 7.8Q0 0 -37.7 21.2A43.3 43.3 0 0 1 -38 20.7Q0 0 40.9 7.3Z"/>
<path class="c3" d="M40.8 7.8A41.6 41.6 0 0 1 40.6 9.1Q0 0 -41.6 11.9A43.3 43.3 0 0 1 -41.9 10.7Q0 0 40.8 7.8Z"/>
<path class="c3" d="M41.4 3.5L41.4 3.5Q0 0 -43 -4.8L-43 -4.8Q0 0 41.4 3.5Z"/>
<path class="c3" d="M41.4 3.5L41.4 3.5Q0 0 -40.4 -15.4L-40.4 -15.4Q0 0 41.4 3.5Z"/>
<path class="c3" d="M41.4 3.5L41.4 3.5Q0 0 -35 -25.5L-35 -25.5Q0 0 41.4 3.5Z"/>
<path class="c3" d="M41.4 3.5L41.4 3.5Q0 0 -26.3 -34.4L-26.3 -34.4Q0 0 41.4 3.5Z"/>
<path class="c3" d="M41.4 3.5L41.4 3.5Q0 0 -13.7 -41L-13.7 -41.1Q0 0 41.4 3.5Z"/>
<path class="c4" d="M40.1 11A41.6 41.6 0 0 1 39.7 12.3Q0 0 -9.3 42.3A43.3 43.3 0 0 1 -10.5 42Q0 0 40.1 11Z"/>
<path class="c4" d="M39.7 12.3A41.6 41.6 0 0 1 39.5 12.8Q0 0 -21.1 37.8A43.3 43.3 0 0 1 -21.6 37.5Q0 0 39.7 12.3Z"/>
<path class="c4" d="M39.5 12.8A41.6 41.6 0 0 1 39.2 13.8Q0 0 -32.3 28.8A43.3 43.3 0 0 1 -32.6 28.5Q0 0 39.5 12.8Z"/>
<path class="c4" d="M39.2 13.8A41.6 41.6 0 0 1 39 14.3Q0 0 -38 20.7A43.3 43.3 0 0 1 -38.2 20.3Q0 0 39.2 13.8Z"/>
<path class="c4" d="M39 14.3A41.6 41.6 0 0 1 38.4 15.9Q0 0 -41.9 10.7A43.3 43.3 0 0 1 -42.3 9.3Q0 0 39 14.3Z"/>
<path class="c4" d="M38.4 15.9L38.4 15.9Q0 0 -43 -4.8L-43 -4.9Q0 0 38.4 15.9Z"/>
<path class="c4" d="M38.4 15.9L38.4 15.9Q0 0 -40.4 -15.4L-40.4 -15.4Q0 0 38.4 15.9Z"/>
<path class="c4" d="M38.4 15.9L38.4 15.9Q0 0 -35 -25.5L-35 -25.5Q0 0 38.4 15.9Z"/>
<path class="c4" d="M38.4 15.9L38.4 16Q0 0 -26.3 -34.4L-26.3 -34.4Q0 0 38.4 15.9Z"/>
<path class="c4" d="M38.4 16L38.4 16Q0 0 -13.7 -41.1L-13.7 -41.1Q0 0 38.4 16Z"/>
<path class="c5" d="M37.6 17.8L37.5 18Q0 0 -10.5 42L-10.7 41.9Q0 0 37.6 17.8Z"/>
<path class="c5" d="M37.5 18A41.6 41.6 0 0 1 37.3 18.3Q0 0 -21.6 37.5A43.3 43.3 0 0 1 -21.9 37.3Q0 0 37.5 18Z"/>
<path class="c5" d="M37.3 18.3A41.6 41.6 0 0 1 37.2 18.5Q0 0 -32.6 28.5A43.3 43.3 0 0 1 -32.6 28.5Q0 0 37.3 18.3Z"/>
<path class="c5" d="M37.2 18.5L37.1 18.7Q0 0 -38.2 20.3L-38.3 20.1Q0 0 37.2 18.5Z"/>
<path class="c5" d="M37.1 18.7A41.6 41.6 0 0 1 36.3 20.2Q0 0 -42.3 9.3A43.3 43.3 0 0 1 -42.6 7.8Q0 0 37.1 18.7Z"/>
<path class="c5" d="M36.3 20.2L36.3 20.3Q0 0 -43 -4.9L-43 -5Q0 0 36.3 20.2Z"/>
<path class="c5" d="M36.3 20.3L36.3 20.3Q0 0 -40.4 -15.4L-40.4 -15.5Q0 0 36.3 20.3Z"/>
<path class="c5" d="M36.3 20.3L36.2 20.4Q0 0 -35 -25.5L-34.9 -25.6Q0 0 36.3 20.3Z"/>
<path class="c5" d="M36.2 20.4L36.2 20.4Q0 0 -26.3 -34.4L-26.3 -34.4Q0 0 36.2 20.4Z"/>
<path class="c5" d="M36.2 20.4L36.2 20.5Q0 0 -13.7 -41.1L-13.5 -41.1Q0 0 36.2 20.4Z"/>
<path class="c6" d="M35.3 21.9A41.6 41.6 0 0 1 35.2 22.2Q0 0 -10.7 41.9A43.3 43.3 0 0 1 -11 41.9Q0 0 35.3 21.9Z"/>
<path class="c6" d="M35.2 22.2A41.6 41.6 0 0 1 35 22.5Q0 0 -21.9 37.3A43.3 43.3 0 0 1 -22.2 37.2Q0 0 35.2 22.2Z"/>
<path class="c6" d="M35 22.5A41.6 41.6 0 0 1 34.7 22.9Q0 0 -32.6 28.5A43.3 43.3 0 0 1 -32.7 28.3Q0 0 35 22.5Z"/>
<path class="c6" d="M34.7 22.9A41.6 41.6 0 0 1 34.4 23.3Q0 0 -38.3 20.1A43.3 43.3 0 0 1 -38.6 19.6Q0 0 34.7 22.9Z"/>
<path class="c6" d="M34.4 23.3A41.6 41.6 0 0 1 34.2 23.6Q0 0 -42.6 7.8A43.3 43.3 0 0 1 -42.6 7.5Q0 0 34.4 23.3Z"/>
<path class="c6" d="M35.5 21.7L35.5 21.7Q0 0 -43 -5L-43 -5.1Q0 0 35.5 21.7Z"/>
<path class="c6" d="M35.5 21.7L35.4 21.7Q0 0 -40.4 -15.5L-40.4 -15.5Q0 0 35.5 21.7Z"/>
<path class="c6" d="M35.4 21.7L35.4 21.8Q0 0 -34.9 -25.6L-34.9 -25.6Q0 0 35.4 21.7Z"/>
<path class="c6" d="M35.4 21.8L35.4 21.8Q0 0 -26.3 -34.4L-26.2 -34.5Q0 0 35.4 21.8Z"/>
<path class="c6" d="M35.4 21.8L35.3 21.9Q0 0 -13.5 -41.1L-13.4 -41.1Q0 0 35.4 21.8Z"/>
<path class="c7" d="M33.4 24.7L33.3 24.8Q0 0 -11 41.9L-11.1 41.8Q0 0 33.4 24.7Z"/>
<path class="c7" d="M33.3 24.8A41.6 41.6 0 0 1 33.2 25.1Q0 0 -22.2 37.2A43.3 43.3 0 0 1 -22.5 37Q0 0 33.3 24.8Z"/>
<path class="c7" d="M33.2 25.1A41.6 41.6 0 0 1 33 25.3Q0 0 -32.7 28.3A43.3 43.3 0 0 1 -32.8 28.2Q0 0 33.2 25.1Z"/>
<path class="c7" d="M33 25.3A41.6 41.6 0 0 1 32.8 25.5Q0 0 -38.6 19.6A43.3 43.3 0 0 1 -38.7 19.4Q0 0 33 25.3Z"/>
<path class="c7" d="M32.8 25.5A41.6 41.6 0 0 1 32.6 25.7Q0 0 -42.6 7.5A43.3 43.3 0 0 1 -42.7 7.2Q0 0 32.8 25.5Z"/>
<path class="c7" d="M32.6 25.7A41.6 41.6 0 0 1 32.5 25.9Q0 0 -43 -5.1A43.3 43.3 0 0 1 -43 -5.3Q0 0 32.6 25.7Z"/>
<path class="c7" d="M32.5 25.9L32.5 26Q0 0 -40.4 -15.5L-40.3 -15.7Q0 0 32.5 25.9Z"/>
<path class="c7" d="M32.5 26A41.6 41.6 0 0 1 32.2 26.3Q0 0 -34.9 -25.6A43.3 43.3 0 0 1 -34.5 -26.1Q0 0 32.5 26Z"/>
<path class="c7" d="M32.2 26.3A41.6 41.6 0 0 1 32 26.5Q0 0 -26.2 -34.5A43.3 43.3 0 0 1 -25.9 -34.7Q0 0 32.2 26.3Z"/>
<path class="c7" d="M32 26.5A41.6 41.6 0 0 1 31.9 26.7Q0 0 -13.4 -41.1A43.3 43.3 0 0 1 -13.1 -41.2Q0 0 32 26.5Z"/>
<path class="c8" d="M31 27.7L30.9 27.8Q0 0 -11.1 41.8L-11.3 41.8Q0 0 31 27.7Z"/>
<path class="c8" d="M30.9 27.8L30.8 27.9Q0 0 -22.5 37L-22.6 36.9Q0 0 30.9 27.8Z"/>
<path class="c8" d="M30.8 27.9A41.6 41.6 0 0 1 30.7 28.1Q0 0 -32.8 28.2A43.3 43.3 0 0 1 -32.9 28.2Q0 0 30.8 27.9Z"/>
<path class="c8" d="M30.7 28.1A41.6 41.6 0 0 1 30.2 28.6Q0 0 -38.7 19.4A43.3 43.3 0 0 1 -39 18.7Q0 0 30.7 28.1Z"/>
<path class="c8" d="M30.2 28.6A41.6 41.6 0 0 1 30 28.8Q0 0 -42.7 7.2A43.3 43.3 0 0 1 -42.7 7Q0 0 30.2 28.6Z"/>
<path class="c8" d="M30 28.8L29.9 28.8Q0 0 -43 -5.3L-42.9 -5.4Q0 0 30 28.8Z"/>
<path class="c8" d="M29.9 28.8L29.9 28.9Q0 0 -40.3 -15.7L-40.3 -15.8Q0 0 29.9 28.8Z"/>
<path class="c8" d="M29.9 28.9L29.8 29Q0 0 -34.5 -26.1L-34.5 -26.2Q0 0 29.9 28.9Z"/>
<path class="c8" d="M29.8 29L29.8 29Q0 0 -25.9 -34.7L-25.9 -34.7Q0 0 29.8 29Z"/>
<path class="c8" d="M29.8 29A41.6 41.6 0 0 1 29.7 29.1Q0 0 -13.1 -41.2A43.3 43.3 0 0 1 -12.9 -41.3Q0 0 29.8 29Z"/>
<path class="c9" d="M28 30.7L28 30.7Q0 0 -11.3 41.8L-11.3 41.8Q0 0 28 30.7Z"/>
<path class="c9" d="M28 30.7L28 30.7Q0 0 -22.6 36.9L-22.6 36.9Q0 0 28 30.7Z"/>
<path class="c9" d="M28 30.7L28 30.7Q0 0 -32.9 28.2L-32.9 28.2Q0 0 28 30.7Z"/>
<path class="c9" d="M28 30.7L28 30.7Q0 0 -39 18.7L-39 18.7Q0 0 28 30.7Z"/>
<path class="c9" d="M28 30.7L28 30.7Q0 0 -42.7 7L-42.7 7Q0 0 28 30.7Z"/>
<path class="c9" d="M28.6 30.2L28.5 30.3Q0 0 -42.9 -5.4L-42.9 -5.5Q0 0 28.6 30.2Z"/>
<path class="c9" d="M28.5 30.3A41.6 41.6 0 0 1 28.4 30.4Q0 0 -40.3 -15.8A43.3 43.3 0 0 1 -40.2 -16.1Q0 0 28.5 30.3Z"/>
<path class="c9" d="M28.4 30.4A41.6 41.6 0 0 1 28.2 30.5Q0 0 -34.5 -26.2A43.3 43.3 0 0 1 -34.2 -26.5Q0 0 28.4 30.4Z"/>
<path class="c9" d="M28.2 30.5L28.1 30.6Q0 0 -25.9 -34.7L-25.8 -34.7Q0 0 28.2 30.5Z"/>
<path class="c9" d="M28.1 30.6A41.6 41.6 0 0 1 28 30.7Q0 0 -12.9 -41.3A43.3 43.3 0 0 1 -12.6 -41.4Q0 0 28.1 30.6Z"/>
<path class="c10" d="M27.2 31.5A41.6 41.6 0 0 1 26.9 31.7Q0 0 -22.6 36.9A43.3 43.3 0 0 1 -22.9 36.7Q0 0 27.2 31.5Z"/>
<path class="c10" d="M26.9 31.7A41.6 41.6 0 0 1 26.6 31.9Q0 0 -39 18.7A43.3 43.3 0 0 1 -39.2 18.4Q0 0 26.9 31.7Z"/>
<path class="c10" d="M26.6 31.9A41.6 41.6 0 0 1 26.4 32.2Q0 0 -42.9 -5.5A43.3 43.3 0 0 1 -42.9 -6Q0 0 26.6 31.9Z"/>
<path class="c10" d="M26.4 32.2A41.6 41.6 0 0 1 25.8 32.6Q0 0 -34.2 -26.5A43.3 43.3 0 0 1 -33.5 -27.4Q0 0 26.4 32.2Z"/>
<path class="c0" d="M24.5 33.6A41.6 41.6 0 0 1 24.3 33.8Q0 0 -11.3 41.8A43.3 43.3 0 0 1 -11.6 41.7Q0 0 24.5 33.6Z"/>
<path class="c0" d="M24.3 33.8A41.6 41.6 0 0 1 24.1 33.9Q0 0 -22.9 36.7A43.3 43.3 0 0 1 -23.1 36.6Q0 0 24.3 33.8Z"/>
<path class="c0" d="M24.1 33.9A41.6 41.6 0 0 1 23.8 34.1Q0 0 -39.2 18.4A43.3 43.3 0 0 1 -39.3 18.1Q0 0 24.1 33.9Z"/>
<path class="c0" d="M23.8 34.1A41.6 41.6 0 0 1 23.6 34.2Q0 0 -42.7 7A43.3 43.3 0 0 1 -42.8 6.7Q0 0 23.8 34.1Z"/>
<path class="c0" d="M23.6 34.2A41.6 41.6 0 0 1 23.2 34.5Q0 0 -25.8 -34.7A43.3 43.3 0 0 1 -25.5 -35Q0 0 23.6 34.2Z"/>
<path class="c1" d="M21.3 35.7L21.2 35.8Q0 0 -11.6 41.7L-11.8 41.6Q0 0 21.3 35.7Z"/>
<path class="c1" d="M21.2 35.8A41.6 41.6 0 0 1 20.9 35.9Q0 0 -39.3 18.1A43.3 43.3 0 0 1 -39.4 17.8Q0 0 21.2 35.8Z"/>
<path class="c1" d="M20.9 35.9A41.6 41.6 0 0 1 20.6 36.1Q0 0 -42.8 6.7A43.3 43.3 0 0 1 -42.8 6.4Q0 0 20.9 35.9Z"/>
<path class="c1" d="M21.9 35.4A41.6 41.6 0 0 1 21.6 35.5Q0 0 -40.2 -16.1A43.3 43.3 0 0 1 -40 -16.6Q0 0 21.9 35.4Z"/>
<path class="c1" d="M21.6 35.5A41.6 41.6 0 0 1 21.3 35.7Q0 0 -33.5 -27.4A43.3 43.3 0 0 1 -33.2 -27.7Q0 0 21.6 35.5Z"/>
<path class="c2" d="M19.2 36.9L19 37Q0 0 -11.8 41.6L-11.9 41.6Q0 0 19.2 36.9Z"/>
<path class="c2" d="M19 37A41.6 41.6 0 0 1 18.7 37.1Q0 0 -23.1 36.6A43.3 43.3 0 0 1 -23.4 36.4Q0 0 19 37Z"/>
<path class="c2" d="M18.7 37.1L18.6 37.2Q0 0 -32.9 28.2L-32.9 28.1Q0 0 18.7 37.1Z"/>
<path class="c2" d="M18.6 37.2L18.5 37.2Q0 0 -39.4 17.8L-39.5 17.7Q0 0 18.6 37.2Z"/>
<path class="c2" d="M18.5 37.2A41.6 41.6 0 0 1 18.3 37.3Q0 0 -42.8 6.4A43.3 43.3 0 0 1 -42.8 6.2Q0 0 18.5 37.2Z"/>
<path class="c2" d="M18.3 37.3L18.2 37.4Q0 0 -42.9 -6L-42.8 -6.2Q0 0 18.3 37.3Z"/>
<path class="c2" d="M18.2 37.4A41.6 41.6 0 0 1 17.9 37.5Q0 0 -33.2 -27.7A43.3 43.3 0 0 1 -32.9 -28.1Q0 0 18.2 37.4Z"/>
<path class="c3" d="M16.4 38.2A41.6 41.6 0 0 1 16.2 38.3Q0 0 -11.9 41.6A43.3 43.3 0 0 1 -12.2 41.5Q0 0 16.4 38.2Z"/>
<path class="c3" d="M16.2 38.3L16.1 38.3Q0 0 -23.4 36.4L-23.5 36.4Q0 0 16.2 38.3Z"/>
<path class="c3" d="M16.1 38.3L16 38.4Q0 0 -32.9 28.1L-32.9 28.1Q0 0 16.1 38.3Z"/>
<path class="c3" d="M16 38.4A41.6 41.6 0 0 1 15.7 38.5Q0 0 -32.9 -28.1A43.3 43.3 0 0 1 -32.6 -28.5Q0 0 16 38.4Z"/>
<path class="c3" d="M15.7 38.5A41.6 41.6 0 0 1 15.5 38.6Q0 0 -25.5 -35A43.3 43.3 0 0 1 -25.3 -35.1Q0 0 15.7 38.5Z"/>
<path class="c3" d="M15.5 38.6A41.6 41.6 0 0 1 15.2 38.7Q0 0 -12.6 -41.4A43.3 43.3 0 0 1 -12.1 -41.6Q0 0 15.5 38.6Z"/>
<path class="c4" d="M12.9 39.5A41.6 41.6 0 0 1 12.7 39.6Q0 0 -12.2 41.5A43.3 43.3 0 0 1 -12.4 41.5Q0 0 12.9 39.5Z"/>
<path class="c4" d="M12.7 39.6L12.6 39.6Q0 0 -42.8 6.2L-42.9 6.1Q0 0 12.7 39.6Z"/>
<path class="c4" d="M13.7 39.2A41.6 41.6 0 0 1 13.6 39.3Q0 0 -42.8 -6.2A43.3 43.3 0 0 1 -42.8 -6.4Q0 0 13.7 39.2Z"/>
<path class="c4" d="M13.6 39.3A41.6 41.6 0 0 1 13.3 39.4Q0 0 -40 -16.6A43.3 43.3 0 0 1 -39.8 -17Q0 0 13.6 39.3Z"/>
<path class="c4" d="M13.3 39.4A41.6 41.6 0 0 1 13.1 39.5Q0 0 -25.3 -35.1A43.3 43.3 0 0 1 -25.1 -35.2Q0 0 13.3 39.4Z"/>
<path class="c4" d="M13.1 39.5A41.6 41.6 0 0 1 12.9 39.5Q0 0 -12.1 -41.6A43.3 43.3 0 0 1 -11.7 -41.7Q0 0 13.1 39.5Z"/>
<path class="c5" d="M11 40.1A41.6 41.6 0 0 1 10.8 40.1Q0 0 -23.5 36.4A43.3 43.3 0 0 1 -23.7 36.2Q0 0 11 40.1Z"/>
<path class="c5" d="M10.8 40.1L10.7 40.2Q0 0 -32.9 28.1L-33 28Q0 0 10.8 40.1Z"/>
<path class="c5" d="M10.7 40.2A41.6 41.6 0 0 1 10.5 40.2Q0 0 -39.5 17.7A43.3 43.3 0 0 1 -39.6 17.5Q0 0 10.7 40.2Z"/>
<path class="c5" d="M10.5 40.2L10.3 40.3Q0 0 -42.9 6.1L-42.9 5.9Q0 0 10.5 40.2Z"/>
<path class="c5" d="M10.3 40.3A41.6 41.6 0 0 1 10.1 40.3Q0 0 -32.6 -28.5A43.3 43.3 0 0 1 -32.4 -28.7Q0 0 10.3 40.3Z"/>
<path class="c5" d="M10.1 40.3L9.9 40.4Q0 0 -25.1 -35.2L-25 -35.3Q0 0 10.1 40.3Z"/>
<path class="c6" d="M8.4 40.7L8.3 40.7Q0 0 -23.7 36.2L-23.8 36.2Q0 0 8.4 40.7Z"/>
<path class="c6" d="M8.3 40.7L8.2 40.8Q0 0 -42.9 5.9L-42.9 5.8Q0 0 8.3 40.7Z"/>
<path class="c6" d="M8.2 40.8A41.6 41.6 0 0 1 8 40.8Q0 0 -42.8 -6.4A43.3 43.3 0 0 1 -42.8 -6.6Q0 0 8.2 40.8Z"/>
<path class="c6" d="M8 40.8A41.6 41.6 0 0 1 7.8 40.8Q0 0 -39.8 -17A43.3 43.3 0 0 1 -39.7 -17.3Q0 0 8 40.8Z"/>
<path class="c6" d="M7.8 40.8L7.7 40.9Q0 0 -32.4 -28.7L-32.3 -28.8Q0 0 7.8 40.8Z"/>
<path class="c6" d="M7.7 40.9L7.5 40.9Q0 0 -25 -35.3L-24.8 -35.4Q0 0 7.7 40.9Z"/>
<path class="c6" d="M7.5 40.9A41.6 41.6 0 0 1 7.4 40.9Q0 0 -11.7 -41.7A43.3 43.3 0 0 1 -11.5 -41.7Q0 0 7.5 40.9Z"/>
<path class="c7" d="M5.5 41.2A41.6 41.6 0 0 1 5.2 41.2Q0 0 -12.4 41.5A43.3 43.3 0 0 1 -12.6 41.4Q0 0 5.5 41.2Z"/>
<path class="c7" d="M5.2 41.2A41.6 41.6 0 0 1 5 41.3Q0 0 -33 28A43.3 43.3 0 0 1 -33 28Q0 0 5.2 41.2Z"/>
<path class="c7" d="M5 41.3L4.8 41.3Q0 0 -42.9 5.8L-42.9 5.6Q0 0 5 41.3Z"/>
<path class="c7" d="M5.8 41.2L5.7 41.2Q0 0 -42.8 -6.6L-42.8 -6.7Q0 0 5.8 41.2Z"/>
<path class="c7" d="M5.7 41.2A41.6 41.6 0 0 1 5.5 41.2Q0 0 -24.8 -35.4A43.3 43.3 0 0 1 -24.7 -35.6Q0 0 5.7 41.2Z"/>
<path class="c9" d="M3.1 41.5A41.6 41.6 0 0 1 2.3 41.5Q0 0 -39.7 -17.3A43.3 43.3 0 0 1 -39.1 -18.5Q0 0 3.1 41.5Z"/>
<path class="c9" d="M2.3 41.5A41.6 41.6 0 0 1 -0.1 41.6Q0 0 -24.7 -35.6A43.3 43.3 0 0 1 -22.8 -36.8Q0 0 2.3 41.5Z"/>
</g>
<g fill="none">
<path d="M-3.58 66.03A66.13 66.13 0 0 1 -19.23 63.27M-22.08 62.33A66.13 66.13 0 0 1 -36.32 55.26M-38.79 53.55A66.13 66.13 0 0 1 -50.46 42.74M-52.34 40.41A66.13 66.13 0 0 1 -60.48 26.75M-61.63 23.98A66.13 66.13 0 0 1 -65.57 8.57M-3.88 -59.78A59.9 59.9 0 0 1 2.02 -59.87M2.02 -59.87A59.9 59.9 0 0 1 6.09 -59.59M6.09 -59.59A59.9 59.9 0 0 1 35.4 -48.32M42.17 -42.54A59.9 59.9 0 0 1 46.17 -38.17M46.17 -38.17A59.9 59.9 0 0 1 49.15 -34.24M53.71 -26.53A59.9 59.9 0 0 1 54.92 -23.91M54.92 -23.91A59.9 59.9 0 0 1 55.54 -22.43M55.54 -22.43A59.9 59.9 0 0 1 55.78 -21.82M57.31 -17.44A59.9 59.9 0 0 1 57.55 -16.62M57.55 -16.62A59.9 59.9 0 0 1 57.85 -15.56M58.86 -11.12A59.9 59.9 0 0 1 59.08 -9.88M59.08 -9.88A59.9 59.9 0 0 1 59.29 -8.52M59.29 -8.52A59.9 59.9 0 0 1 59.36 -8.02M59.36 -8.02A59.9 59.9 0 0 1 59.61 -5.87M59.61 -5.87A59.9 59.9 0 0 1 59.67 -5.24M59.68 5.09A59.9 59.9 0 0 1 59.62 5.8M59.62 5.8A59.9 59.9 0 0 1 59.33 8.27M59.33 8.27A59.9 59.9 0 0 1 58.98 10.45M58.98 10.45A59.9 59.9 0 0 1 58.83 11.26M58.83 11.26A59.9 59.9 0 0 1 58.44 13.17M57.78 15.81A59.9 59.9 0 0 1 57.22 17.72M57.22 17.72A59.9 59.9 0 0 1 56.98 18.48M56.98 18.48A59.9 59.9 0 0 1 56.5 19.91M56.5 19.91A59.9 59.9 0 0 1 56.23 20.65M56.23 20.65A59.9 59.9 0 0 1 55.36 22.88M54.11 25.69A59.9 59.9 0 0 1 53.98 25.96M53.98 25.96A59.9 59.9 0 0 1 53.79 26.36M53.79 26.36A59.9 59.9 0 0 1 53.62 26.7M53.62 26.7A59.9 59.9 0 0 1 53.49 26.96M53.49 26.96A59.9 59.9 0 0 1 52.32 29.17M50.93 31.53A59.9 59.9 0 0 1 50.67 31.95M50.67 31.95A59.9 59.9 0 0 1 50.4 32.37M50.4 32.37A59.9 59.9 0 0 1 50.02 32.95M50.02 32.95A59.9 59.9 0 0 1 49.58 33.61M49.58 33.61A59.9 59.9 0 0 1 49.31 34.01M48.15 35.63A59.9 59.9 0 0 1 48.04 35.79M48.04 35.79A59.9 59.9 0 0 1 47.8 36.11M47.8 36.11A59.9 59.9 0 0 1 47.55 36.43M47.55 36.43A59.9 59.9 0 0 1 47.33 36.72M47.33 36.72A59.9 59.9 0 0 1 47.04 37.09M44.72 39.85A59.9 59.9 0 0 1 44.56 40.03M44.56 40.03A59.9 59.9 0 0 1 44.42 40.19M44.42 40.19A59.9 59.9 0 0 1 44.16 40.47M44.16 40.47A59.9 59.9 0 0 1 43.45 41.24M43.45 41.24A59.9 59.9 0 0 1 43.17 41.53M40.41 44.22A59.9 59.9 0 0 1 40.41 44.22M40.41 44.22A59.9 59.9 0 0 1 40.41 44.22M40.41 44.22A59.9 59.9 0 0 1 40.4 44.23M40.4 44.23A59.9 59.9 0 0 1 40.4 44.23M40.4 44.23A59.9 59.9 0 0 1 40.39 44.23M39.14 45.35A59.9 59.9 0 0 1 38.8 45.64M38.8 45.64A59.9 59.9 0 0 1 38.4 45.98M35.36 48.35A59.9 59.9 0 0 1 34.94 48.65M34.94 48.65A59.9 59.9 0 0 1 34.71 48.82M34.71 48.82A59.9 59.9 0 0 1 34.32 49.09M34.32 49.09A59.9 59.9 0 0 1 33.98 49.33M30.7 51.43A59.9 59.9 0 0 1 30.47 51.57M30.47 51.57A59.9 59.9 0 0 1 30.17 51.75M30.17 51.75A59.9 59.9 0 0 1 29.63 52.06M27.61 53.16A59.9 59.9 0 0 1 27.38 53.28M27.38 53.28A59.9 59.9 0 0 1 26.98 53.48M26.98 53.48A59.9 59.9 0 0 1 26.84 53.55M26.84 53.55A59.9 59.9 0 0 1 26.65 53.65M26.65 53.65A59.9 59.9 0 0 1 26.36 53.79M23.69 55.02A59.9 59.9 0 0 1 23.38 55.15M23.38 55.15A59.9 59.9 0 0 1 23.21 55.22M23.21 55.22A59.9 59.9 0 0 1 23.01 55.31M18.62 56.94A59.9 59.9 0 0 1 18.29 57.04M18.29 57.04A59.9 59.9 0 0 1 18.12 57.1M15.91 57.75A59.9 59.9 0 0 1 15.58 57.84M15.58 57.84A59.9 59.9 0 0 1 15.43 57.88M15.43 57.88A59.9 59.9 0 0 1 15.13 57.96M15.13 57.96A59.9 59.9 0 0 1 14.9 58.02M12.09 58.67A59.9 59.9 0 0 1 11.96 58.7M11.96 58.7A59.9 59.9 0 0 1 11.74 58.74M7.89 59.38A59.9 59.9 0 0 1 7.53 59.43M7.53 59.43A59.9 59.9 0 0 1 7.21 59.47M7.21 59.47A59.9 59.9 0 0 1 6.92 59.5" stroke="#2E8B2E" stroke-width="3.72"/>
<path d="M-2.46 45.42A45.49 45.49 0 0 1 -13.23 43.52M-15.19 42.88A45.49 45.49 0 0 1 -24.99 38.01M-26.69 36.84A45.49 45.49 0 0 1 -34.71 29.41M-36.01 27.8A45.49 45.49 0 0 1 -41.6 18.4M-42.4 16.5A45.49 45.49 0 0 1 -45.11 5.9" stroke="#2E8B2E" stroke-width="4.02"/>
<path d="M-3.24 59.81A59.9 59.9 0 0 1 -5.83 59.62M-20.01 56.46A59.9 59.9 0 0 1 -21.59 55.88M-50.7 31.91A59.9 59.9 0 0 1 -51.13 31.21M-54.44 25A59.9 59.9 0 0 1 -54.58 24.69M-57.35 17.31A59.9 59.9 0 0 1 -57.61 16.42M-59.17 9.33A59.9 59.9 0 0 1 -59.25 8.81M-59.86 -2.33A59.9 59.9 0 0 1 -59.82 -3.08M-56.89 -18.76A59.9 59.9 0 0 1 -55.98 -21.32M-55.6 -22.29A59.9 59.9 0 0 1 -55.31 -23.01M-52.1 -29.56A59.9 59.9 0 0 1 -50.9 -31.58M-46.4 -37.88A59.9 59.9 0 0 1 -45.97 -38.4M-38.98 -45.49A59.9 59.9 0 0 1 -36.86 -47.21M-29.23 -52.28A59.9 59.9 0 0 1 -27.36 -53.29M58.11 -31.55A66.13 66.13 0 0 1 64.16 -16M34.78 56.24A66.13 66.13 0 0 1 32.71 57.47" stroke="#FAF0E6" stroke-width="3.72"/>
<path d="M-5.83 59.62A59.9 59.9 0 0 1 -6.95 59.5M-25.52 54.19A59.9 59.9 0 0 1 -26.83 53.56M-31.93 50.68A59.9 59.9 0 0 1 -32.32 50.43M-51.13 31.21A59.9 59.9 0 0 1 -52.19 29.4M-57.19 17.81A59.9 59.9 0 0 1 -57.35 17.31M-59.25 8.81A59.9 59.9 0 0 1 -59.29 8.54M-59.82 -3.08A59.9 59.9 0 0 1 -59.53 -6.68M-59.33 -8.27A59.9 59.9 0 0 1 -59.29 -8.53M-58.69 -12A59.9 59.9 0 0 1 -58.29 -13.8M-52.9 -28.09A59.9 59.9 0 0 1 -52.1 -29.56M-45.97 -38.4A59.9 59.9 0 0 1 -45.54 -38.91M-36.86 -47.21A59.9 59.9 0 0 1 -36.39 -47.58M-27.36 -53.29A59.9 59.9 0 0 1 -25.11 -54.38M64.98 -12.28A66.13 66.13 0 0 1 66.1 1.96M30.47 58.69A66.13 66.13 0 0 1 28.47 59.69" stroke="#6495ED" stroke-width="3.72"/>
<path d="M-6.95 59.5A59.9 59.9 0 0 1 -12.19 58.65M-15.63 57.83A59.9 59.9 0 0 1 -16.08 57.7M-21.59 55.88A59.9 59.9 0 0 1 -25.52 54.19M-31.67 50.84A59.9 59.9 0 0 1 -31.93 50.68M-35.48 48.26A59.9 59.9 0 0 1 -44.14 40.49M-47.41 36.61A59.9 59.9 0 0 1 -50.7 31.91M-54.24 25.42A59.9 59.9 0 0 1 -54.44 25M-55.83 21.72A59.9 59.9 0 0 1 -57.19 17.81M-59.11 9.68A59.9 59.9 0 0 1 -59.17 9.33M-59.69 5.06A59.9 59.9 0 0 1 -59.86 -2.33M-58.29 -13.8A59.9 59.9 0 0 1 -56.89 -18.76M-50.9 -31.58A59.9 59.9 0 0 1 -48.41 -35.28M-42.81 -41.9A59.9 59.9 0 0 1 -38.98 -45.49M-35.73 -48.08A59.9 59.9 0 0 1 -35.27 -48.42M-25.11 -54.38A59.9 59.9 0 0 1 -19 -56.81M-14.09 -64.61A66.13 66.13 0 0 1 56.32 -34.65M39.04 53.37A66.13 66.13 0 0 1 36.91 54.87" stroke="#B0C4DE" stroke-width="3.72"/>
<path d="M-12.19 58.65A59.9 59.9 0 0 1 -12.81 58.52M-16.53 57.58A59.9 59.9 0 0 1 -16.82 57.49M-26.83 53.56A59.9 59.9 0 0 1 -29.14 52.34M-44.14 40.49A59.9 59.9 0 0 1 -44.68 39.89M-52.19 29.4A59.9 59.9 0 0 1 -52.58 28.71M-57.61 16.42A59.9 59.9 0 0 1 -58.04 14.83M-45.54 -38.91A59.9 59.9 0 0 1 -45.1 -39.42M-35.27 -48.42A59.9 59.9 0 0 1 -35.05 -48.58M-17.5 -57.29A59.9 59.9 0 0 1 -16.76 -57.51M65.9 5.53A66.13 66.13 0 0 1 64.51 14.54M26.15 60.74A66.13 66.13 0 0 1 24.22 61.53" stroke="#CD5C5C" stroke-width="3.72"/>
<path d="M-12.81 58.52A59.9 59.9 0 0 1 -14.56 58.11M-16.82 57.49A59.9 59.9 0 0 1 -17.12 57.4M-29.14 52.34A59.9 59.9 0 0 1 -29.87 51.92M-44.68 39.89A59.9 59.9 0 0 1 -45.05 39.48M-52.58 28.71A59.9 59.9 0 0 1 -52.94 28.04M-58.04 14.83A59.9 59.9 0 0 1 -58.5 12.87M-59.29 -8.53A59.9 59.9 0 0 1 -59.25 -8.83M-55.31 -23.01A59.9 59.9 0 0 1 -55.08 -23.54M-35.05 -48.58A59.9 59.9 0 0 1 -34.8 -48.76M-16.76 -57.51A59.9 59.9 0 0 1 -16.25 -57.66M63.78 17.45A66.13 66.13 0 0 1 61.05 25.41M21.84 62.42A66.13 66.13 0 0 1 20 63.03" stroke="#BA55D3" stroke-width="3.72"/>
<path d="M-14.56 58.11A59.9 59.9 0 0 1 -14.81 58.04M-29.87 51.92A59.9 59.9 0 0 1 -30.27 51.69M-32.49 50.32A59.9 59.9 0 0 1 -32.79 50.13M-52.94 28.04A59.9 59.9 0 0 1 -53.06 27.79M-54.66 24.51A59.9 59.9 0 0 1 -54.78 24.23M-58.5 12.87A59.9 59.9 0 0 1 -58.92 10.81M-45.1 -39.42A59.9 59.9 0 0 1 -44.79 -39.77M59.74 28.36A66.13 66.13 0 0 1 57.55 32.56M17.57 63.75A66.13 66.13 0 0 1 15.82 64.21" stroke="#3CB371" stroke-width="3.72"/>
<path d="M-14.81 58.04A59.9 59.9 0 0 1 -15.25 57.93M-30.27 51.69A59.9 59.9 0 0 1 -30.72 51.43M-53.06 27.79A59.9 59.9 0 0 1 -53.41 27.11M-58.92 10.81A59.9 59.9 0 0 1 -58.99 10.41M-59.25 -8.83A59.9 59.9 0 0 1 -59.2 -9.16M-55.08 -23.54A59.9 59.9 0 0 1 -54.89 -23.99M-16.25 -57.66A59.9 59.9 0 0 1 -15.91 -57.75M56.44 34.45A66.13 66.13 0 0 1 54.43 37.55M13.34 64.77A66.13 66.13 0 0 1 11.7 65.09" stroke="#7B68EE" stroke-width="3.72"/>
<path d="M-17.12 57.4A59.9 59.9 0 0 1 -17.42 57.31M-30.72 51.43A59.9 59.9 0 0 1 -31.08 51.21M-53.41 27.11A59.9 59.9 0 0 1 -53.58 26.79M-58.99 10.41A59.9 59.9 0 0 1 -59.06 10.02M-59.49 -7A59.9 59.9 0 0 1 -59.45 -7.35M-48.26 -35.48A59.9 59.9 0 0 1 -47.76 -36.15M-36.25 -47.69A59.9 59.9 0 0 1 -35.87 -47.98M-34.39 -49.05A59.9 59.9 0 0 1 -34.16 -49.21M-18.59 -56.95A59.9 59.9 0 0 1 -18.15 -57.08M53.16 39.33A66.13 66.13 0 0 1 50.73 42.42M9.19 65.49A66.13 66.13 0 0 1 7.64 65.69" stroke="#48D1CC" stroke-width="3.72"/>
<path d="M-3.11 57.36A57.44 57.44 0 0 1 -16.71 54.96M-19.18 54.14A57.44 57.44 0 0 1 -31.55 48M-33.7 46.52A57.44 57.44 0 0 1 -43.83 37.13M-45.47 35.1A57.44 57.44 0 0 1 -52.53 23.24M-53.53 20.83A57.44 57.44 0 0 1 -56.96 7.45M-57.24 4.86A57.44 57.44 0 0 1 -56.74 -8.95M-56.28 -11.51A57.44 57.44 0 0 1 -51.9 -24.61M-50.73 -26.94A57.44 57.44 0 0 1 -42.83 -38.27M-41.05 -40.18A57.44 57.44 0 0 1 -30.28 -48.81M-28.03 -50.14A57.44 57.44 0 0 1 -15.25 -55.38" stroke="#2a2a2a" stroke-width="1.2"/>
<path d="M-31.27 51.09A59.9 59.9 0 0 1 -31.67 50.84M-54.03 25.87A59.9 59.9 0 0 1 -54.24 25.42M-59.42 -7.56A59.9 59.9 0 0 1 -59.33 -8.27M-47.36 -36.68A59.9 59.9 0 0 1 -46.4 -37.88M43.21 50.06A66.13 66.13 0 0 1 41.06 51.84" stroke="#6B8E23" stroke-width="3.72"/>
<path d="M-53.58 26.79A59.9 59.9 0 0 1 -54.02 25.88M-59.06 10.02A59.9 59.9 0 0 1 -59.11 9.68M-18.15 -57.08A59.9 59.9 0 0 1 -17.86 -57.18M49.37 43.99A66.13 66.13 0 0 1 47.25 46.27" stroke="#008080" stroke-width="3.72"/>
<path d="M-65.89 5.59A66.13 66.13 0 0 1 -65.32 -10.3M-64.79 -13.25A66.13 66.13 0 0 1 -59.75 -28.33M-58.4 -31.01A66.13 66.13 0 0 1 -49.31 -44.06M-47.26 -46.25A66.13 66.13 0 0 1 -34.86 -56.2M-32.27 -57.72A66.13 66.13 0 0 1 -17.56 -63.75M-12.76 -58.53A59.9 59.9 0 0 1 -7.15 -59.47M-7.15 -59.47A59.9 59.9 0 0 1 -3.88 -59.78M35.4 -48.32A59.9 59.9 0 0 1 37.71 -46.54M37.71 -46.54A59.9 59.9 0 0 1 42.17 -42.54M49.15 -34.24A59.9 59.9 0 0 1 51.02 -31.39M52.64 -28.58A59.9 59.9 0 0 1 52.92 -28.07M52.92 -28.07A59.9 59.9 0 0 1 53.71 -26.53M55.78 -21.82A59.9 59.9 0 0 1 56.32 -20.39M56.32 -20.39A59.9 59.9 0 0 1 57.31 -17.44M57.85 -15.56A59.9 59.9 0 0 1 58.12 -14.49M59.67 -5.24A59.9 59.9 0 0 1 59.85 -2.47M59.85 -2.47A59.9 59.9 0 0 1 59.89 -1.29M59.89 -1.29A59.9 59.9 0 0 1 59.9 -0.2M59.9 -0.2A59.9 59.9 0 0 1 59.9 0.48M59.9 0.48A59.9 59.9 0 0 1 59.88 1.78M59.69 5.01A59.9 59.9 0 0 1 59.69 5.04M59.69 5.04A59.9 59.9 0 0 1 59.69 5.05M59.69 5.05A59.9 59.9 0 0 1 59.69 5.06M59.69 5.06A59.9 59.9 0 0 1 59.69 5.08M59.69 5.08A59.9 59.9 0 0 1 59.68 5.09M55.36 22.88A59.9 59.9 0 0 1 55.34 22.92M55.34 22.92A59.9 59.9 0 0 1 55.33 22.94M55.33 22.94A59.9 59.9 0 0 1 55.33 22.96M55.33 22.96A59.9 59.9 0 0 1 55.31 23M55.31 23A59.9 59.9 0 0 1 55.3 23.02M52.32 29.17A59.9 59.9 0 0 1 52.25 29.29M52.25 29.29A59.9 59.9 0 0 1 52.24 29.32M52.24 29.32A59.9 59.9 0 0 1 52.2 29.39M52.2 29.39A59.9 59.9 0 0 1 52.19 29.4M52.19 29.4A59.9 59.9 0 0 1 52.14 29.5M51.13 31.21A59.9 59.9 0 0 1 51.1 31.25M51.1 31.25A59.9 59.9 0 0 1 51.07 31.31M51.07 31.31A59.9 59.9 0 0 1 51.04 31.36M51.04 31.36A59.9 59.9 0 0 1 50.97 31.46M50.97 31.46A59.9 59.9 0 0 1 50.93 31.53M47.04 37.09A59.9 59.9 0 0 1 46.87 37.3M46.87 37.3A59.9 59.9 0 0 1 46.79 37.4M46.79 37.4A59.9 59.9 0 0 1 46.45 37.83M46.45 37.83A59.9 59.9 0 0 1 46.11 38.24M46.11 38.24A59.9 59.9 0 0 1 45.95 38.42M43.17 41.53A59.9 59.9 0 0 1 43.13 41.57M43.13 41.57A59.9 59.9 0 0 1 43.03 41.67M43.03 41.67A59.9 59.9 0 0 1 42.97 41.74M42.97 41.74A59.9 59.9 0 0 1 42.91 41.8M42.91 41.8A59.9 59.9 0 0 1 42.8 41.91M41.16 43.52A59.9 59.9 0 0 1 41.08 43.6M41.08 43.6A59.9 59.9 0 0 1 40.89 43.77M40.89 43.77A59.9 59.9 0 0 1 40.64 44.01M40.64 44.01A59.9 59.9 0 0 1 40.56 44.08M40.56 44.08A59.9 59.9 0 0 1 40.41 44.22M38.4 45.98A59.9 59.9 0 0 1 37.97 46.33M37.97 46.33A59.9 59.9 0 0 1 37.19 46.96M33.98 49.33A59.9 59.9 0 0 1 33.44 49.7M31.51 50.95A59.9 59.9 0 0 1 31.08 51.21M31.08 51.21A59.9 59.9 0 0 1 30.7 51.43M26.36 53.79A59.9 59.9 0 0 1 26.18 53.88M26.18 53.88A59.9 59.9 0 0 1 25.79 54.07M23.01 55.31A59.9 59.9 0 0 1 22.6 55.48M22.6 55.48A59.9 59.9 0 0 1 22.31 55.59M22.31 55.59A59.9 59.9 0 0 1 21.94 55.74M19.79 56.54A59.9 59.9 0 0 1 19.57 56.61M19.57 56.61A59.9 59.9 0 0 1 19.22 56.73M19.22 56.73A59.9 59.9 0 0 1 18.88 56.85M18.88 56.85A59.9 59.9 0 0 1 18.62 56.94M14.9 58.02A59.9 59.9 0 0 1 14.6 58.09M14.6 58.09A59.9 59.9 0 0 1 14.33 58.16M11.74 58.74A59.9 59.9 0 0 1 11.49 58.79M11.49 58.79A59.9 59.9 0 0 1 11.18 58.85M11.18 58.85A59.9 59.9 0 0 1 11.06 58.87M11.06 58.87A59.9 59.9 0 0 1 10.77 58.92M10.77 58.92A59.9 59.9 0 0 1 10.59 58.96M8.32 59.32A59.9 59.9 0 0 1 8.2 59.34M8.2 59.34A59.9 59.9 0 0 1 7.89 59.38M4.49 59.73A59.9 59.9 0 0 1 3.32 59.81M3.32 59.81A59.9 59.9 0 0 1 -0.21 59.9" stroke="#EE3B2F" stroke-width="3.72"/>
<path d="M-45.33 3.85A45.49 45.49 0 0 1 -44.94 -7.09M-44.57 -9.12A45.49 45.49 0 0 1 -41.1 -19.49M-40.18 -21.34A45.49 45.49 0 0 1 -33.92 -30.31M-32.51 -31.82A45.49 45.49 0 0 1 -23.98 -38.66M-22.2 -39.71A45.49 45.49 0 0 1 -12.08 -43.86" stroke="#EE3B2F" stroke-width="4.02"/>
<path d="M-55.74 -21.93A59.9 59.9 0 0 1 -55.6 -22.29M-54.89 -23.99A59.9 59.9 0 0 1 -54.12 -25.67M-47.68 -36.26A59.9 59.9 0 0 1 -47.36 -36.68M-34.16 -49.21A59.9 59.9 0 0 1 -31.57 -50.9M-17.86 -57.18A59.9 59.9 0 0 1 -17.5 -57.29M45.44 48.05A66.13 66.13 0 0 1 44.59 48.83M4.96 65.94A66.13 66.13 0 0 1 -0.23 66.13" stroke="#F4A460" stroke-width="3.72"/>
<path d="M-9.69 -44.45A45.49 45.49 0 0 1 38.75 -23.84M26.86 36.72A45.49 45.49 0 0 1 25.39 37.74" stroke="#B0C4DE" stroke-width="4.02"/>
<path d="M-9.02 -41.36A42.33 42.33 0 0 1 -5.05 -42.03M-5.05 -42.03A42.33 42.33 0 0 1 -2.74 -42.24M25.02 -34.14A42.33 42.33 0 0 1 26.65 -32.89M26.65 -32.89A42.33 42.33 0 0 1 29.8 -30.06M34.73 -24.2A42.33 42.33 0 0 1 36.05 -22.18M37.2 -20.2A42.33 42.33 0 0 1 37.39 -19.84M37.39 -19.84A42.33 42.33 0 0 1 37.95 -18.75M39.42 -15.42A42.33 42.33 0 0 1 39.8 -14.41M39.8 -14.41A42.33 42.33 0 0 1 40.49 -12.32M40.88 -10.99A42.33 42.33 0 0 1 41.07 -10.24M42.17 -3.7A42.33 42.33 0 0 1 42.29 -1.74M42.29 -1.74A42.33 42.33 0 0 1 42.32 -0.91M42.32 -0.91A42.33 42.33 0 0 1 42.33 -0.14M42.33 -0.14A42.33 42.33 0 0 1 42.33 0.34M42.33 0.34A42.33 42.33 0 0 1 42.31 1.26M42.18 3.54A42.33 42.33 0 0 1 42.18 3.56M42.18 3.56A42.33 42.33 0 0 1 42.18 3.57M42.18 3.57A42.33 42.33 0 0 1 42.18 3.57M42.18 3.57A42.33 42.33 0 0 1 42.18 3.59M42.18 3.59A42.33 42.33 0 0 1 42.17 3.6M39.12 16.17A42.33 42.33 0 0 1 39.11 16.2M39.11 16.2A42.33 42.33 0 0 1 39.1 16.21M39.1 16.21A42.33 42.33 0 0 1 39.1 16.22M39.1 16.22A42.33 42.33 0 0 1 39.08 16.25M39.08 16.25A42.33 42.33 0 0 1 39.08 16.27M36.97 20.61A42.33 42.33 0 0 1 36.92 20.69M36.92 20.69A42.33 42.33 0 0 1 36.91 20.72M36.91 20.72A42.33 42.33 0 0 1 36.88 20.77M36.88 20.77A42.33 42.33 0 0 1 36.88 20.78M36.88 20.78A42.33 42.33 0 0 1 36.84 20.84M36.13 22.05A42.33 42.33 0 0 1 36.11 22.08M36.11 22.08A42.33 42.33 0 0 1 36.09 22.12M36.09 22.12A42.33 42.33 0 0 1 36.06 22.16M36.06 22.16A42.33 42.33 0 0 1 36.02 22.23M36.02 22.23A42.33 42.33 0 0 1 35.99 22.28M33.24 26.21A42.33 42.33 0 0 1 33.12 26.36M33.12 26.36A42.33 42.33 0 0 1 33.06 26.43M33.06 26.43A42.33 42.33 0 0 1 32.82 26.73M32.82 26.73A42.33 42.33 0 0 1 32.58 27.02M32.58 27.02A42.33 42.33 0 0 1 32.47 27.15M30.51 29.34A42.33 42.33 0 0 1 30.48 29.37M30.48 29.37A42.33 42.33 0 0 1 30.41 29.45M30.41 29.45A42.33 42.33 0 0 1 30.36 29.49M30.36 29.49A42.33 42.33 0 0 1 30.32 29.54M30.32 29.54A42.33 42.33 0 0 1 30.24 29.62M29.08 30.75A42.33 42.33 0 0 1 29.02 30.81M29.02 30.81A42.33 42.33 0 0 1 28.9 30.93M28.9 30.93A42.33 42.33 0 0 1 28.72 31.1M28.72 31.1A42.33 42.33 0 0 1 28.66 31.15M28.66 31.15A42.33 42.33 0 0 1 28.56 31.24M27.13 32.49A42.33 42.33 0 0 1 26.83 32.74M26.83 32.74A42.33 42.33 0 0 1 26.28 33.18M24.01 34.86A42.33 42.33 0 0 1 23.63 35.12M22.26 36A42.33 42.33 0 0 1 21.96 36.18M21.96 36.18A42.33 42.33 0 0 1 21.7 36.34M18.63 38.01A42.33 42.33 0 0 1 18.5 38.07M18.5 38.07A42.33 42.33 0 0 1 18.22 38.21M16.26 39.08A42.33 42.33 0 0 1 15.97 39.2M15.97 39.2A42.33 42.33 0 0 1 15.77 39.28M15.77 39.28A42.33 42.33 0 0 1 15.51 39.39M13.98 39.95A42.33 42.33 0 0 1 13.83 40.01M13.83 40.01A42.33 42.33 0 0 1 13.58 40.09M13.58 40.09A42.33 42.33 0 0 1 13.34 40.17M13.34 40.17A42.33 42.33 0 0 1 13.16 40.23M10.53 41A42.33 42.33 0 0 1 10.32 41.05M10.32 41.05A42.33 42.33 0 0 1 10.13 41.1M8.3 41.51A42.33 42.33 0 0 1 8.12 41.54M8.12 41.54A42.33 42.33 0 0 1 7.9 41.58M7.9 41.58A42.33 42.33 0 0 1 7.82 41.6M7.82 41.6A42.33 42.33 0 0 1 7.61 41.64M7.61 41.64A42.33 42.33 0 0 1 7.49 41.66M5.88 41.92A42.33 42.33 0 0 1 5.79 41.93M5.79 41.93A42.33 42.33 0 0 1 5.57 41.96M3.17 42.21A42.33 42.33 0 0 1 2.34 42.26M2.34 42.26A42.33 42.33 0 0 1 -0.15 42.33" stroke="#EE3B2F" stroke-width="1.1"/>
<path d="M-2.74 -42.24A42.33 42.33 0 0 1 1.43 -42.3M1.43 -42.3A42.33 42.33 0 0 1 4.3 -42.11M4.3 -42.11A42.33 42.33 0 0 1 25.02 -34.14M29.8 -30.06A42.33 42.33 0 0 1 32.62 -26.97M32.62 -26.97A42.33 42.33 0 0 1 34.73 -24.2M37.95 -18.75A42.33 42.33 0 0 1 38.81 -16.89M38.81 -16.89A42.33 42.33 0 0 1 39.25 -15.85M39.25 -15.85A42.33 42.33 0 0 1 39.42 -15.42M40.49 -12.32A42.33 42.33 0 0 1 40.67 -11.75M40.67 -11.75A42.33 42.33 0 0 1 40.88 -10.99M41.59 -7.86A42.33 42.33 0 0 1 41.75 -6.98M41.75 -6.98A42.33 42.33 0 0 1 41.9 -6.02M41.9 -6.02A42.33 42.33 0 0 1 41.95 -5.67M41.95 -5.67A42.33 42.33 0 0 1 42.12 -4.15M42.12 -4.15A42.33 42.33 0 0 1 42.17 -3.7M42.17 3.6A42.33 42.33 0 0 1 42.13 4.1M42.13 4.1A42.33 42.33 0 0 1 41.92 5.84M41.92 5.84A42.33 42.33 0 0 1 41.68 7.38M41.68 7.38A42.33 42.33 0 0 1 41.57 7.95M41.57 7.95A42.33 42.33 0 0 1 41.29 9.31M40.83 11.17A42.33 42.33 0 0 1 40.43 12.52M40.43 12.52A42.33 42.33 0 0 1 40.26 13.06M40.26 13.06A42.33 42.33 0 0 1 39.92 14.07M39.92 14.07A42.33 42.33 0 0 1 39.73 14.59M39.73 14.59A42.33 42.33 0 0 1 39.12 16.17M38.24 18.16A42.33 42.33 0 0 1 38.15 18.34M38.15 18.34A42.33 42.33 0 0 1 38.01 18.63M38.01 18.63A42.33 42.33 0 0 1 37.89 18.87M37.89 18.87A42.33 42.33 0 0 1 37.8 19.05M37.8 19.05A42.33 42.33 0 0 1 36.97 20.61M35.99 22.28A42.33 42.33 0 0 1 35.8 22.58M35.8 22.58A42.33 42.33 0 0 1 35.62 22.87M35.62 22.87A42.33 42.33 0 0 1 35.35 23.29M35.35 23.29A42.33 42.33 0 0 1 35.04 23.75M35.04 23.75A42.33 42.33 0 0 1 34.84 24.04M34.03 25.18A42.33 42.33 0 0 1 33.94 25.29M33.94 25.29A42.33 42.33 0 0 1 33.77 25.51M33.77 25.51A42.33 42.33 0 0 1 33.6 25.74M33.6 25.74A42.33 42.33 0 0 1 33.44 25.95M33.44 25.95A42.33 42.33 0 0 1 33.24 26.21M31.6 28.16A42.33 42.33 0 0 1 31.49 28.29M31.49 28.29A42.33 42.33 0 0 1 31.39 28.4M31.39 28.4A42.33 42.33 0 0 1 31.21 28.6M31.21 28.6A42.33 42.33 0 0 1 30.7 29.14M30.7 29.14A42.33 42.33 0 0 1 30.51 29.34M28.56 31.24A42.33 42.33 0 0 1 28.56 31.24M28.56 31.24A42.33 42.33 0 0 1 28.55 31.25M28.55 31.25A42.33 42.33 0 0 1 28.55 31.25M28.55 31.25A42.33 42.33 0 0 1 28.54 31.26M28.54 31.26A42.33 42.33 0 0 1 28.54 31.26M27.66 32.04A42.33 42.33 0 0 1 27.42 32.25M27.42 32.25A42.33 42.33 0 0 1 27.13 32.49M24.99 34.16A42.33 42.33 0 0 1 24.69 34.38M24.69 34.38A42.33 42.33 0 0 1 24.53 34.5M24.53 34.5A42.33 42.33 0 0 1 24.25 34.69M24.25 34.69A42.33 42.33 0 0 1 24.01 34.86M21.7 36.34A42.33 42.33 0 0 1 21.53 36.44M21.53 36.44A42.33 42.33 0 0 1 21.32 36.57M21.32 36.57A42.33 42.33 0 0 1 20.93 36.79M19.51 37.57A42.33 42.33 0 0 1 19.35 37.65M19.35 37.65A42.33 42.33 0 0 1 19.07 37.79M19.07 37.79A42.33 42.33 0 0 1 18.97 37.84M18.97 37.84A42.33 42.33 0 0 1 18.83 37.91M18.83 37.91A42.33 42.33 0 0 1 18.63 38.01M16.74 38.88A42.33 42.33 0 0 1 16.52 38.97M16.52 38.97A42.33 42.33 0 0 1 16.4 39.02M16.4 39.02A42.33 42.33 0 0 1 16.26 39.08M13.16 40.23A42.33 42.33 0 0 1 12.92 40.31M12.92 40.31A42.33 42.33 0 0 1 12.8 40.35M11.24 40.81A42.33 42.33 0 0 1 11.01 40.87M11.01 40.87A42.33 42.33 0 0 1 10.9 40.9M10.9 40.9A42.33 42.33 0 0 1 10.69 40.96M10.69 40.96A42.33 42.33 0 0 1 10.53 41M8.54 41.46A42.33 42.33 0 0 1 8.45 41.48M8.45 41.48A42.33 42.33 0 0 1 8.3 41.51M5.57 41.96A42.33 42.33 0 0 1 5.32 41.99M5.32 41.99A42.33 42.33 0 0 1 5.1 42.02M5.1 42.02A42.33 42.33 0 0 1 4.89 42.04" stroke="#2E8B2E" stroke-width="1.1"/>
<path d="M39.98 -21.71A45.49 45.49 0 0 1 44.14 -11.01M23.93 38.69A45.49 45.49 0 0 1 22.5 39.54" stroke="#FAF0E6" stroke-width="4.02"/>
<path d="M44.7 -8.45A45.49 45.49 0 0 1 45.47 1.35M20.96 40.37A45.49 45.49 0 0 1 19.58 41.06" stroke="#6495ED" stroke-width="4.02"/>
<path d="M45.33 3.81A45.49 45.49 0 0 1 44.38 10M17.99 41.78A45.49 45.49 0 0 1 16.66 42.33" stroke="#CD5C5C" stroke-width="4.02"/>
<path d="M43.88 12A45.49 45.49 0 0 1 42 17.48M15.03 42.94A45.49 45.49 0 0 1 13.76 43.36" stroke="#BA55D3" stroke-width="4.02"/>
<path d="M41.09 19.51A45.49 45.49 0 0 1 39.59 22.4M12.09 43.86A45.49 45.49 0 0 1 10.88 44.17" stroke="#3CB371" stroke-width="4.02"/>
<path d="M38.83 23.7A45.49 45.49 0 0 1 37.45 25.83M9.18 44.56A45.49 45.49 0 0 1 8.05 44.77" stroke="#7B68EE" stroke-width="4.02"/>
<path d="M36.57 27.06A45.49 45.49 0 0 1 34.9 29.18M6.32 45.05A45.49 45.49 0 0 1 5.26 45.19" stroke="#48D1CC" stroke-width="4.02"/>
<path d="M33.97 30.26A45.49 45.49 0 0 1 32.5 31.83" stroke="#008080" stroke-width="4.02"/>
<path d="M31.26 33.05A45.49 45.49 0 0 1 30.67 33.59M3.41 45.36A45.49 45.49 0 0 1 -0.16 45.49" stroke="#F4A460" stroke-width="4.02"/>
<path d="M29.72 34.44A45.49 45.49 0 0 1 28.25 35.66" stroke="#6B8E23" stroke-width="4.02"/>
<path d="M50.39 -27.36A57.34 57.34 0 0 1 55.64 -13.87M56.34 -10.65A57.34 57.34 0 0 1 57.32 1.7" stroke="#222" stroke-width="1.21"/>
<path d="M-12.3 -56.5L-12.1 -55.4M-5.3 -57.6L-5.2 -56.5M1.9 -57.8L1.8 -56.7M9 -57.1L8.8 -56.1M15.9 -55.6L15.6 -54.5M22.6 -53.2L22.2 -52.2M29 -50L28.5 -49.1M35 -46.1L34.3 -45.2M40.4 -41.4L39.6 -40.6M45.2 -36.1L44.3 -35.5M49.3 -30.3L48.3 -29.7" stroke="#111" stroke-width="0.7"/>
</g>
<g class="t">
<text text-anchor="end" transform="translate(-11.9 -54.7) rotate(-102.3)">0%</text>
<text text-anchor="end" transform="translate(-5.1 -55.8) rotate(-95.2)">10%</text>
<text text-anchor="end" transform="translate(1.8 -56) rotate(-88.2)">20%</text>
<text text-anchor="end" transform="translate(8.7 -55.4) rotate(-81.1)">30%</text>
<text text-anchor="end" transform="translate(15.4 -53.9) rotate(-74)">40%</text>
<text text-anchor="end" transform="translate(21.9 -51.6) rotate(-67)">50%</text>
<text text-anchor="end" transform="translate(28.1 -48.5) rotate(-59.9)">60%</text>
<text text-anchor="end" transform="translate(33.9 -44.6) rotate(-52.8)">70%</text>
<text text-anchor="end" transform="translate(39.1 -40.1) rotate(-45.7)">80%</text>
<text text-anchor="end" transform="translate(43.8 -35) rotate(-38.7)">90%</text>
<text text-anchor="end" transform="translate(47.7 -29.4) rotate(-31.6)">100%</text>
<text text-anchor="end" font-size="0.9" transform="translate(50.8 -27.6) rotate(-28.5)">0%</text>
<text text-anchor="end" font-size="0.9" transform="translate(52.2 -25) rotate(-25.6)">20%</text>
<text text-anchor="end" font-size="0.9" transform="translate(53.4 -22.3) rotate(-22.7)">40%</text>
<text text-anchor="end" font-size="0.9" transform="translate(54.4 -19.6) rotate(-19.8)">60%</text>
<text text-anchor="end" font-size="0.9" transform="translate(55.3 -16.8) rotate(-16.9)">80%</text>
<text text-anchor="end" font-size="0.9" transform="translate(56.1 -14) rotate(-14)">100%</text>
<text text-anchor="end" font-size="0.9" transform="translate(56.8 -10.7) rotate(-10.7)">0%</text>
<text text-anchor="end" font-size="0.9" transform="translate(57.2 -8.3) rotate(-8.2)">20%</text>
<text text-anchor="end" font-size="0.9" transform="translate(57.6 -5.8) rotate(-5.7)">40%</text>
<text text-anchor="end" font-size="0.9" transform="translate(57.7 -3.3) rotate(-3.3)">60%</text>
<text text-anchor="end" font-size="0.9" transform="translate(57.8 -0.8) rotate(-0.8)">80%</text>
<text text-anchor="end" font-size="0.9" transform="translate(57.8 1.7) rotate(1.7)">100%</text>
<text text-anchor="middle" font-size="3.7" transform="translate(-12.1 68.3) rotate(-170)">5w-1</text>
<text text-anchor="middle" font-size="3.7" transform="translate(-30.9 62.1) rotate(-153.6)">5w-2</text>
<text text-anchor="middle" font-size="3.7" transform="translate(-47.2 50.9) rotate(-137.2)">5w-3</text>
<text text-anchor="middle" font-size="3.7" transform="translate(-59.6 35.5) rotate(-120.8)">5w-4</text>
<text text-anchor="middle" font-size="3.7" transform="translate(-67.2 17.2) rotate(-104.4)">5w-5</text>
<text text-anchor="middle" font-size="3.7" transform="translate(-69.3 -2.5) rotate(-87.9)">Con-5w-1</text>
<text text-anchor="middle" font-size="3.7" transform="translate(-65.8 -22) rotate(-71.5)">Con-5w-2</text>
<text text-anchor="middle" font-size="3.7" transform="translate(-56.9 -39.7) rotate(-55.1)">Con-5w-3</text>
<text text-anchor="middle" font-size="3.7" transform="translate(-43.4 -54.1) rotate(-38.7)">Con-5w-4</text>
<text text-anchor="middle" font-size="3.7" transform="translate(-26.3 -64.2) rotate(-22.3)">Con-5w-5</text>
</g>
</g>
<text x="565" y="196.34" font-size="4.84" class="k" textLength="28" lengthAdjust="spacingAndGlyphs">Lactobacillus</text>
<text x="596.6" y="232.63" font-size="5.63" class="k" textLength="19.4" lengthAdjust="spacingAndGlyphs">Bacillus</text>
<text x="601" y="254.37" font-size="4.92" class="k" textLength="70" lengthAdjust="spacingAndGlyphs">unclassified_f_Lachnospiraceae</text>
<text x="599.6" y="269.8" font-size="4.99" class="k" textLength="57.4" lengthAdjust="spacingAndGlyphs">norank_f_Muribaculaceae</text>
<text x="597.6" y="282.16" font-size="4.9" class="k" textLength="25.4" lengthAdjust="spacingAndGlyphs">Turicibacter</text>
<text x="593" y="291.18" font-size="4.96" class="k" textLength="62" lengthAdjust="spacingAndGlyphs">Candidatus_Saccharimonas</text>
<text x="590.4" y="297.19" font-size="4.97" class="k" textLength="32.6" lengthAdjust="spacingAndGlyphs">Enterorhabdus</text>
<text x="586.6" y="302.78" font-size="4.93" class="k" textLength="89.4" lengthAdjust="spacingAndGlyphs">norank_f_norank_o_Clostridia_UCG-014</text>
<text x="582" y="308.4" font-size="5" class="k" textLength="35" lengthAdjust="spacingAndGlyphs">Faecalibaculum</text>
<text x="581.6" y="314.78" font-size="4.95" class="k" textLength="61.4" lengthAdjust="spacingAndGlyphs">Lachnospiraceae_UCG-006</text>
<text x="455.5" y="356.8" font-size="13.6" class="s" font-weight="bold" fill="#000">M</text>
<g transform="translate(531.75 425.4)">
<g class="rb">
<path class="c0" d="M14.5 -39A41.6 41.6 0 0 1 17.2 -37.9Q0 0 -19.7 38.6A43.3 43.3 0 0 1 -22.7 36.9Q0 0 14.5 -39Z"/>
<path class="c0" d="M17.2 -37.9A41.6 41.6 0 0 1 21 -35.9Q0 0 -29.1 32.1A43.3 43.3 0 0 1 -32 29.3Q0 0 17.2 -37.9Z"/>
<path class="c0" d="M24.2 -33.9A41.6 41.6 0 0 1 29.6 -29.3Q0 0 -36.6 23.2A43.3 43.3 0 0 1 -39.5 17.8Q0 0 24.2 -33.9Z"/>
<path class="c0" d="M29.6 -29.3A41.6 41.6 0 0 1 32.2 -26.3Q0 0 -41.4 12.8A43.3 43.3 0 0 1 -42.5 8.5Q0 0 29.6 -29.3Z"/>
<path class="c0" d="M34.1 -23.8A41.6 41.6 0 0 1 35.8 -21.2Q0 0 -43.3 -1.5A43.3 43.3 0 0 1 -43.1 -4.8Q0 0 34.1 -23.8Z"/>
<path class="c0" d="M-0.3 -41.6A41.6 41.6 0 0 1 2 -41.6Q0 0 -41.6 -12A43.3 43.3 0 0 1 -40.5 -15.3Q0 0 -0.3 -41.6Z"/>
<path class="c0" d="M2 -41.6A41.6 41.6 0 0 1 9.9 -40.4Q0 0 -37.6 -21.6A43.3 43.3 0 0 1 -34.5 -26.2Q0 0 2 -41.6Z"/>
<path class="c0" d="M9.9 -40.4A41.6 41.6 0 0 1 14.5 -39Q0 0 -31.4 -29.9A43.3 43.3 0 0 1 -28.6 -32.5Q0 0 9.9 -40.4Z"/>
<path class="c0" d="M21 -35.9A41.6 41.6 0 0 1 24.2 -33.9Q0 0 -21.8 -37.4A43.3 43.3 0 0 1 -19.4 -38.7Q0 0 21 -35.9Z"/>
<path class="c0" d="M32.2 -26.3A41.6 41.6 0 0 1 34.1 -23.8Q0 0 -11.9 -41.7A43.3 43.3 0 0 1 -8.6 -42.5Q0 0 32.2 -26.3Z"/>
<path class="c1" d="M38.4 -16A41.6 41.6 0 0 1 38.5 -15.7Q0 0 -22.7 36.9A43.3 43.3 0 0 1 -23.1 36.7Q0 0 38.4 -16Z"/>
<path class="c1" d="M38.5 -15.7A41.6 41.6 0 0 1 39 -14.5Q0 0 -32 29.3A43.3 43.3 0 0 1 -32.8 28.3Q0 0 38.5 -15.7Z"/>
<path class="c1" d="M39.4 -13.5A41.6 41.6 0 0 1 39.6 -12.8Q0 0 -39.5 17.8A43.3 43.3 0 0 1 -39.8 17.2Q0 0 39.4 -13.5Z"/>
<path class="c1" d="M39.6 -12.8A41.6 41.6 0 0 1 40 -11.6Q0 0 -42.5 8.5A43.3 43.3 0 0 1 -42.7 7.2Q0 0 39.6 -12.8Z"/>
<path class="c1" d="M40.3 -10.3A41.6 41.6 0 0 1 40.9 -7.6Q0 0 -43.3 1.6A43.3 43.3 0 0 1 -43.3 -1.5Q0 0 40.3 -10.3Z"/>
<path class="c1" d="M36.6 -19.9A41.6 41.6 0 0 1 37.1 -19Q0 0 -42 -10.6A43.3 43.3 0 0 1 -41.6 -12Q0 0 36.6 -19.9Z"/>
<path class="c1" d="M37.1 -19A41.6 41.6 0 0 1 37.6 -17.9Q0 0 -38 -20.9A43.3 43.3 0 0 1 -37.6 -21.6Q0 0 37.1 -19Z"/>
<path class="c1" d="M37.6 -17.9A41.6 41.6 0 0 1 38.4 -16Q0 0 -28.6 -32.5A43.3 43.3 0 0 1 -27.3 -33.6Q0 0 37.6 -17.9Z"/>
<path class="c1" d="M39 -14.5A41.6 41.6 0 0 1 39.4 -13.5Q0 0 -19.4 -38.7A43.3 43.3 0 0 1 -18.7 -39.1Q0 0 39 -14.5Z"/>
<path class="c1" d="M40 -11.6A41.6 41.6 0 0 1 40.3 -10.3Q0 0 -8 -42.6A43.3 43.3 0 0 1 -6.6 -42.8Q0 0 40 -11.6Z"/>
<path class="c2" d="M41.2 -6.2L41.2 -6.2Q0 0 -23.1 36.7L-23.1 36.7Q0 0 41.2 -6.2Z"/>
<path class="c2" d="M41.2 -6.2L41.2 -6.2Q0 0 -32.8 28.3L-32.8 28.3Q0 0 41.2 -6.2Z"/>
<path class="c2" d="M41.2 -6.2L41.2 -6.1Q0 0 -36.5 23.3L-36.6 23.2Q0 0 41.2 -6.2Z"/>
<path class="c2" d="M41.2 -6.1L41.2 -6Q0 0 -41.4 12.9L-41.4 12.8Q0 0 41.2 -6.1Z"/>
<path class="c2" d="M41.2 -6L41.2 -5.9Q0 0 -43.3 -1.5L-43.3 -1.5Q0 0 41.2 -6Z"/>
<path class="c2" d="M41.2 -5.9A41.6 41.6 0 0 1 41.3 -5.4Q0 0 -42.2 -9.9A43.3 43.3 0 0 1 -42 -10.6Q0 0 41.2 -5.9Z"/>
<path class="c2" d="M41.3 -5.4A41.6 41.6 0 0 1 41.3 -5Q0 0 -38.1 -20.6A43.3 43.3 0 0 1 -38 -20.9Q0 0 41.3 -5.4Z"/>
<path class="c2" d="M41.3 -5A41.6 41.6 0 0 1 41.5 -2.6Q0 0 -27.3 -33.6A43.3 43.3 0 0 1 -25.9 -34.8Q0 0 41.3 -5Z"/>
<path class="c2" d="M41.5 -2.6A41.6 41.6 0 0 1 41.6 -1.7Q0 0 -22.4 -37.1A43.3 43.3 0 0 1 -21.8 -37.4Q0 0 41.5 -2.6Z"/>
<path class="c2" d="M41.6 -1.7A41.6 41.6 0 0 1 41.6 -1.2Q0 0 -8.6 -42.5A43.3 43.3 0 0 1 -8 -42.6Q0 0 41.6 -1.7Z"/>
<path class="c3" d="M41.6 1.6A41.6 41.6 0 0 1 41.5 2.7Q0 0 -23.1 36.7A43.3 43.3 0 0 1 -24.2 35.9Q0 0 41.6 1.6Z"/>
<path class="c3" d="M41.5 2.7A41.6 41.6 0 0 1 41.5 3Q0 0 -32.8 28.3A43.3 43.3 0 0 1 -33 28.1Q0 0 41.5 2.7Z"/>
<path class="c3" d="M41.5 3A41.6 41.6 0 0 1 41.4 3.8Q0 0 -39.8 17.2A43.3 43.3 0 0 1 -40 16.6Q0 0 41.5 3Z"/>
<path class="c3" d="M41.4 3.8A41.6 41.6 0 0 1 41.4 4.5Q0 0 -42.7 7.2A43.3 43.3 0 0 1 -42.9 6.3Q0 0 41.4 3.8Z"/>
<path class="c3" d="M41.4 4.5A41.6 41.6 0 0 1 41.3 5.1Q0 0 -43.1 -4.8A43.3 43.3 0 0 1 -43 -5.4Q0 0 41.4 4.5Z"/>
<path class="c3" d="M41.6 0.4A41.6 41.6 0 0 1 41.6 0.7Q0 0 -40.5 -15.3A43.3 43.3 0 0 1 -40.4 -15.6Q0 0 41.6 0.4Z"/>
<path class="c3" d="M41.6 0.7A41.6 41.6 0 0 1 41.6 1Q0 0 -34.5 -26.2A43.3 43.3 0 0 1 -34.4 -26.4Q0 0 41.6 0.7Z"/>
<path class="c3" d="M41.6 1L41.6 1.2Q0 0 -25.9 -34.8L-25.8 -34.8Q0 0 41.6 1Z"/>
<path class="c3" d="M41.6 1.2L41.6 1.3Q0 0 -18.7 -39.1L-18.6 -39.1Q0 0 41.6 1.2Z"/>
<path class="c3" d="M41.6 1.3A41.6 41.6 0 0 1 41.6 1.6Q0 0 -6.6 -42.8A43.3 43.3 0 0 1 -6.3 -42.9Q0 0 41.6 1.3Z"/>
<path class="c4" d="M41.1 6.4A41.6 41.6 0 0 1 41 6.9Q0 0 -24.2 35.9A43.3 43.3 0 0 1 -24.8 35.5Q0 0 41.1 6.4Z"/>
<path class="c4" d="M41 6.9A41.6 41.6 0 0 1 40.8 8.3Q0 0 -33 28.1A43.3 43.3 0 0 1 -33.8 27.1Q0 0 41 6.9Z"/>
<path class="c4" d="M40.8 8.3A41.6 41.6 0 0 1 40.7 8.9Q0 0 -40 16.6A43.3 43.3 0 0 1 -40.2 16.1Q0 0 40.8 8.3Z"/>
<path class="c4" d="M40.7 8.9A41.6 41.6 0 0 1 40.6 9.3Q0 0 -42.9 6.3A43.3 43.3 0 0 1 -42.9 5.8Q0 0 40.7 8.9Z"/>
<path class="c4" d="M40.6 9.3A41.6 41.6 0 0 1 40.5 9.5Q0 0 -43 -5.4A43.3 43.3 0 0 1 -43 -5.6Q0 0 40.6 9.3Z"/>
<path class="c4" d="M40.5 9.5A41.6 41.6 0 0 1 40.4 9.9Q0 0 -40.4 -15.6A43.3 43.3 0 0 1 -40.2 -16.2Q0 0 40.5 9.5Z"/>
<path class="c4" d="M40.4 9.9A41.6 41.6 0 0 1 40.3 10.3Q0 0 -34.4 -26.4A43.3 43.3 0 0 1 -34.2 -26.6Q0 0 40.4 9.9Z"/>
<path class="c4" d="M40.3 10.3A41.6 41.6 0 0 1 40.2 10.8Q0 0 -25.8 -34.8A43.3 43.3 0 0 1 -25.5 -35.1Q0 0 40.3 10.3Z"/>
<path class="c4" d="M40.2 10.8A41.6 41.6 0 0 1 40.1 11.2Q0 0 -18.6 -39.1A43.3 43.3 0 0 1 -18.3 -39.3Q0 0 40.2 10.8Z"/>
<path class="c4" d="M40.1 11.2A41.6 41.6 0 0 1 39.9 11.7Q0 0 -6.3 -42.9A43.3 43.3 0 0 1 -5.8 -42.9Q0 0 40.1 11.2Z"/>
<path class="c5" d="M39.5 13A41.6 41.6 0 0 1 39.4 13.5Q0 0 -24.8 35.5A43.3 43.3 0 0 1 -25.4 35.1Q0 0 39.5 13Z"/>
<path class="c5" d="M39.4 13.5A41.6 41.6 0 0 1 39.1 14.1Q0 0 -33.8 27.1A43.3 43.3 0 0 1 -34.2 26.6Q0 0 39.4 13.5Z"/>
<path class="c5" d="M39.1 14.1A41.6 41.6 0 0 1 39 14.5Q0 0 -40.2 16.1A43.3 43.3 0 0 1 -40.3 15.8Q0 0 39.1 14.1Z"/>
<path class="c5" d="M39 14.5A41.6 41.6 0 0 1 38.9 14.7Q0 0 -42.9 5.8A43.3 43.3 0 0 1 -43 5.5Q0 0 39 14.5Z"/>
<path class="c5" d="M38.9 14.7A41.6 41.6 0 0 1 38.8 15Q0 0 -43 -5.6A43.3 43.3 0 0 1 -42.9 -6Q0 0 38.9 14.7Z"/>
<path class="c5" d="M38.8 15A41.6 41.6 0 0 1 38.7 15.3Q0 0 -40.2 -16.2A43.3 43.3 0 0 1 -40 -16.6Q0 0 38.8 15Z"/>
<path class="c5" d="M38.7 15.3L38.7 15.4Q0 0 -34.2 -26.6L-34.2 -26.7Q0 0 38.7 15.3Z"/>
<path class="c5" d="M38.7 15.4A41.6 41.6 0 0 1 38.6 15.6Q0 0 -25.5 -35.1A43.3 43.3 0 0 1 -25.3 -35.2Q0 0 38.7 15.4Z"/>
<path class="c5" d="M38.6 15.6A41.6 41.6 0 0 1 38.5 15.9Q0 0 -18.3 -39.3A43.3 43.3 0 0 1 -18.2 -39.3Q0 0 38.6 15.6Z"/>
<path class="c5" d="M38.5 15.9A41.6 41.6 0 0 1 38.3 16.2Q0 0 -5.8 -42.9A43.3 43.3 0 0 1 -5.4 -43Q0 0 38.5 15.9Z"/>
<path class="c6" d="M36.6 19.8L36.5 19.9Q0 0 -25.4 35.1L-25.4 35.1Q0 0 36.6 19.8Z"/>
<path class="c6" d="M36.5 19.9L36.5 20Q0 0 -34.2 26.6L-34.3 26.5Q0 0 36.5 19.9Z"/>
<path class="c6" d="M36.5 20L36.5 20Q0 0 -40.3 15.8L-40.4 15.8Q0 0 36.5 20Z"/>
<path class="c6" d="M36.5 20L36.4 20.1Q0 0 -43 5.5L-43 5.4Q0 0 36.5 20Z"/>
<path class="c6" d="M36.4 20.1L36.4 20.2Q0 0 -42.9 -6L-42.9 -6Q0 0 36.4 20.1Z"/>
<path class="c6" d="M37.8 17.5A41.6 41.6 0 0 1 37.6 17.8Q0 0 -40 -16.6A43.3 43.3 0 0 1 -39.9 -17Q0 0 37.8 17.5Z"/>
<path class="c6" d="M37.6 17.8A41.6 41.6 0 0 1 37.5 18.1Q0 0 -34.2 -26.7A43.3 43.3 0 0 1 -34 -26.9Q0 0 37.6 17.8Z"/>
<path class="c6" d="M37.5 18.1A41.6 41.6 0 0 1 37.4 18.3Q0 0 -25.3 -35.2A43.3 43.3 0 0 1 -25.1 -35.3Q0 0 37.5 18.1Z"/>
<path class="c6" d="M37.4 18.3A41.6 41.6 0 0 1 36.8 19.5Q0 0 -18.2 -39.3A43.3 43.3 0 0 1 -17.3 -39.7Q0 0 37.4 18.3Z"/>
<path class="c6" d="M36.8 19.5A41.6 41.6 0 0 1 36.6 19.8Q0 0 -5.4 -43A43.3 43.3 0 0 1 -5 -43Q0 0 36.8 19.5Z"/>
<path class="c7" d="M35.6 21.6L35.5 21.7Q0 0 -25.4 35.1L-25.5 35Q0 0 35.6 21.6Z"/>
<path class="c7" d="M35.5 21.7L35.4 21.8Q0 0 -34.3 26.5L-34.4 26.4Q0 0 35.5 21.7Z"/>
<path class="c7" d="M35.4 21.8L35.3 22Q0 0 -40.4 15.8L-40.4 15.6Q0 0 35.4 21.8Z"/>
<path class="c7" d="M35.3 22L35.2 22.1Q0 0 -43 5.4L-43 5.2Q0 0 35.3 22Z"/>
<path class="c7" d="M35.2 22.1L35.2 22.2Q0 0 -42.9 -6L-42.9 -6.1Q0 0 35.2 22.1Z"/>
<path class="c7" d="M35.2 22.2A41.6 41.6 0 0 1 35.1 22.4Q0 0 -39.9 -17A43.3 43.3 0 0 1 -39.7 -17.3Q0 0 35.2 22.2Z"/>
<path class="c7" d="M35.1 22.4A41.6 41.6 0 0 1 34.9 22.6Q0 0 -34 -26.9A43.3 43.3 0 0 1 -33.9 -27Q0 0 35.1 22.4Z"/>
<path class="c7" d="M34.9 22.6A41.6 41.6 0 0 1 34.7 23Q0 0 -25.1 -35.3A43.3 43.3 0 0 1 -24.8 -35.5Q0 0 34.9 22.6Z"/>
<path class="c7" d="M34.7 23A41.6 41.6 0 0 1 34.5 23.3Q0 0 -17.3 -39.7A43.3 43.3 0 0 1 -17.1 -39.8Q0 0 34.7 23Z"/>
<path class="c7" d="M34.5 23.3A41.6 41.6 0 0 1 34.3 23.6Q0 0 -5 -43A43.3 43.3 0 0 1 -4.5 -43.1Q0 0 34.5 23.3Z"/>
<path class="c8" d="M33.5 24.6L33.5 24.8Q0 0 -25.5 35L-25.7 34.9Q0 0 33.5 24.6Z"/>
<path class="c8" d="M33.5 24.8A41.6 41.6 0 0 1 33.2 25.1Q0 0 -34.4 26.4A43.3 43.3 0 0 1 -34.6 26.1Q0 0 33.5 24.8Z"/>
<path class="c8" d="M33.2 25.1A41.6 41.6 0 0 1 33 25.4Q0 0 -40.4 15.6A43.3 43.3 0 0 1 -40.6 15.3Q0 0 33.2 25.1Z"/>
<path class="c8" d="M33 25.4L32.9 25.5Q0 0 -43 5.2L-43 5Q0 0 33 25.4Z"/>
<path class="c8" d="M32.9 25.5A41.6 41.6 0 0 1 32.4 26.1Q0 0 -42.9 -6.1A43.3 43.3 0 0 1 -42.8 -6.9Q0 0 32.9 25.5Z"/>
<path class="c8" d="M32.4 26.1L32.4 26.1Q0 0 -39.7 -17.3L-39.7 -17.3Q0 0 32.4 26.1Z"/>
<path class="c8" d="M32.4 26.1L32.4 26.1Q0 0 -33.9 -27L-33.9 -27Q0 0 32.4 26.1Z"/>
<path class="c8" d="M32.4 26.1L32.4 26.2Q0 0 -24.8 -35.5L-24.8 -35.5Q0 0 32.4 26.1Z"/>
<path class="c8" d="M32.4 26.2L32.4 26.2Q0 0 -17.1 -39.8L-17.1 -39.8Q0 0 32.4 26.2Z"/>
<path class="c8" d="M32.4 26.2L32.3 26.2Q0 0 -4.5 -43.1L-4.5 -43.1Q0 0 32.4 26.2Z"/>
<path class="c9" d="M30.8 28L30.8 28Q0 0 -25.7 34.9L-25.7 34.9Q0 0 30.8 28Z"/>
<path class="c9" d="M30.8 28L30.8 28Q0 0 -34.6 26.1L-34.6 26.1Q0 0 30.8 28Z"/>
<path class="c9" d="M30.8 28L30.7 28.1Q0 0 -40.6 15.3L-40.6 15.1Q0 0 30.8 28Z"/>
<path class="c9" d="M30.7 28.1L30.6 28.2Q0 0 -43 5L-43 5Q0 0 30.7 28.1Z"/>
<path class="c9" d="M30.6 28.2L30.6 28.2Q0 0 -42.8 -6.9L-42.8 -6.9Q0 0 30.6 28.2Z"/>
<path class="c9" d="M31.4 27.3A41.6 41.6 0 0 1 31.3 27.5Q0 0 -39.7 -17.3A43.3 43.3 0 0 1 -39.6 -17.6Q0 0 31.4 27.3Z"/>
<path class="c9" d="M31.3 27.5A41.6 41.6 0 0 1 31 27.8Q0 0 -33.9 -27A43.3 43.3 0 0 1 -33.7 -27.2Q0 0 31.3 27.5Z"/>
<path class="c9" d="M31 27.8L31 27.8Q0 0 -24.8 -35.5L-24.8 -35.6Q0 0 31 27.8Z"/>
<path class="c9" d="M31 27.8L30.9 27.9Q0 0 -17.1 -39.8L-17 -39.8Q0 0 31 27.8Z"/>
<path class="c9" d="M30.9 27.9L30.8 28Q0 0 -4.5 -43.1L-4.4 -43.1Q0 0 30.9 27.9Z"/>
<path class="c10" d="M29.8 29A41.6 41.6 0 0 1 29.4 29.4Q0 0 -25.7 34.9A43.3 43.3 0 0 1 -26.3 34.5Q0 0 29.8 29Z"/>
<path class="c10" d="M29.4 29.4A41.6 41.6 0 0 1 29 29.9Q0 0 -43 5A43.3 43.3 0 0 1 -43.1 4.3Q0 0 29.4 29.4Z"/>
<path class="c10" d="M29 29.9A41.6 41.6 0 0 1 28.8 30.1Q0 0 -24.8 -35.6A43.3 43.3 0 0 1 -24.6 -35.7Q0 0 29 29.9Z"/>
<path class="c10" d="M28.8 30.1A41.6 41.6 0 0 1 28.6 30.2Q0 0 -4.4 -43.1A43.3 43.3 0 0 1 -4.1 -43.1Q0 0 28.8 30.1Z"/>
<path class="c0" d="M27.4 31.3A41.6 41.6 0 0 1 27.1 31.6Q0 0 -26.3 34.5A43.3 43.3 0 0 1 -26.7 34.2Q0 0 27.4 31.3Z"/>
<path class="c0" d="M27.1 31.6A41.6 41.6 0 0 1 26.8 31.9Q0 0 -34.6 26.1A43.3 43.3 0 0 1 -34.8 25.8Q0 0 27.1 31.6Z"/>
<path class="c0" d="M26.8 31.9A41.6 41.6 0 0 1 26.5 32.1Q0 0 -43.1 4.3A43.3 43.3 0 0 1 -43.1 3.9Q0 0 26.8 31.9Z"/>
<path class="c0" d="M26.5 32.1A41.6 41.6 0 0 1 26.4 32.2Q0 0 -39.6 -17.6A43.3 43.3 0 0 1 -39.5 -17.8Q0 0 26.5 32.1Z"/>
<path class="c0" d="M26.4 32.2A41.6 41.6 0 0 1 26.2 32.4Q0 0 -17 -39.8A43.3 43.3 0 0 1 -16.8 -39.9Q0 0 26.4 32.2Z"/>
<path class="c1" d="M24.2 33.8A41.6 41.6 0 0 1 24 34Q0 0 -26.7 34.2A43.3 43.3 0 0 1 -26.9 34Q0 0 24.2 33.8Z"/>
<path class="c1" d="M24 34L23.9 34.1Q0 0 -34.8 25.8L-34.9 25.7Q0 0 24 34Z"/>
<path class="c1" d="M23.9 34.1L23.8 34.1Q0 0 -40.6 15.1L-40.6 15Q0 0 23.9 34.1Z"/>
<path class="c1" d="M23.8 34.1L23.7 34.2Q0 0 -43.1 3.9L-43.2 3.7Q0 0 23.8 34.1Z"/>
<path class="c1" d="M24.9 33.4A41.6 41.6 0 0 1 24.7 33.5Q0 0 -39.5 -17.8A43.3 43.3 0 0 1 -39.3 -18.2Q0 0 24.9 33.4Z"/>
<path class="c1" d="M24.7 33.5A41.6 41.6 0 0 1 24.5 33.7Q0 0 -16.8 -39.9A43.3 43.3 0 0 1 -16.6 -40Q0 0 24.7 33.5Z"/>
<path class="c1" d="M24.5 33.7A41.6 41.6 0 0 1 24.2 33.8Q0 0 -4.1 -43.1A43.3 43.3 0 0 1 -3.8 -43.2Q0 0 24.5 33.7Z"/>
<path class="c2" d="M22.3 35.1A41.6 41.6 0 0 1 22.1 35.3Q0 0 -26.9 34A43.3 43.3 0 0 1 -27.2 33.7Q0 0 22.3 35.1Z"/>
<path class="c2" d="M22.1 35.3A41.6 41.6 0 0 1 21.7 35.5Q0 0 -33.7 -27.2A43.3 43.3 0 0 1 -33.5 -27.5Q0 0 22.1 35.3Z"/>
<path class="c2" d="M21.7 35.5A41.6 41.6 0 0 1 21.4 35.7Q0 0 -24.6 -35.7A43.3 43.3 0 0 1 -24.3 -35.8Q0 0 21.7 35.5Z"/>
<path class="c2" d="M21.4 35.7A41.6 41.6 0 0 1 21.1 35.9Q0 0 -3.8 -43.2A43.3 43.3 0 0 1 -3.5 -43.2Q0 0 21.4 35.7Z"/>
<path class="c3" d="M19.7 36.6A41.6 41.6 0 0 1 19.4 36.8Q0 0 -39.3 -18.2A43.3 43.3 0 0 1 -39.1 -18.7Q0 0 19.7 36.6Z"/>
<path class="c3" d="M19.4 36.8A41.6 41.6 0 0 1 19.1 37Q0 0 -33.5 -27.5A43.3 43.3 0 0 1 -33.4 -27.6Q0 0 19.4 36.8Z"/>
<path class="c3" d="M19.1 37A41.6 41.6 0 0 1 18.8 37.1Q0 0 -24.3 -35.8A43.3 43.3 0 0 1 -24.2 -36Q0 0 19.1 37Z"/>
<path class="c3" d="M18.8 37.1A41.6 41.6 0 0 1 18.6 37.3Q0 0 -16.6 -40A43.3 43.3 0 0 1 -16.4 -40.1Q0 0 18.8 37.1Z"/>
<path class="c4" d="M16.9 38A41.6 41.6 0 0 1 16.6 38.2Q0 0 -34.9 25.7A43.3 43.3 0 0 1 -35.1 25.4Q0 0 16.9 38Z"/>
<path class="c4" d="M16.6 38.2A41.6 41.6 0 0 1 16.4 38.3Q0 0 -40.6 15A43.3 43.3 0 0 1 -40.7 14.8Q0 0 16.6 38.2Z"/>
<path class="c4" d="M16.4 38.3A41.6 41.6 0 0 1 16.1 38.4Q0 0 -43.2 3.7A43.3 43.3 0 0 1 -43.2 3.5Q0 0 16.4 38.3Z"/>
<path class="c4" d="M16.1 38.4L16 38.4Q0 0 -42.8 -6.9L-42.7 -7.1Q0 0 16.1 38.4Z"/>
<path class="c4" d="M17.1 37.9A41.6 41.6 0 0 1 16.9 38Q0 0 -3.5 -43.2A43.3 43.3 0 0 1 -3.2 -43.2Q0 0 17.1 37.9Z"/>
<path class="c5" d="M14.5 39A41.6 41.6 0 0 1 14.3 39.1Q0 0 -27.2 33.7A43.3 43.3 0 0 1 -27.4 33.6Q0 0 14.5 39Z"/>
<path class="c5" d="M14.3 39.1A41.6 41.6 0 0 1 14 39.2Q0 0 -35.1 25.4A43.3 43.3 0 0 1 -35.3 25.2Q0 0 14.3 39.1Z"/>
<path class="c5" d="M14 39.2L13.8 39.3Q0 0 -24.2 -36L-24 -36Q0 0 14 39.2Z"/>
<path class="c5" d="M13.8 39.3L13.6 39.3Q0 0 -16.4 -40.1L-16.3 -40.2Q0 0 13.8 39.3Z"/>
<path class="c5" d="M13.6 39.3A41.6 41.6 0 0 1 13.4 39.4Q0 0 -3.2 -43.2A43.3 43.3 0 0 1 -3 -43.2Q0 0 13.6 39.3Z"/>
<path class="c6" d="M11.9 39.9L11.8 39.9Q0 0 -42.7 -7.1L-42.7 -7.3Q0 0 11.9 39.9Z"/>
<path class="c6" d="M11.8 39.9A41.6 41.6 0 0 1 11.5 40Q0 0 -33.4 -27.6A43.3 43.3 0 0 1 -33.3 -27.8Q0 0 11.8 39.9Z"/>
<path class="c6" d="M11.5 40A41.6 41.6 0 0 1 11.3 40.1Q0 0 -24 -36A43.3 43.3 0 0 1 -23.9 -36.2Q0 0 11.5 40Z"/>
<path class="c6" d="M11.3 40.1A41.6 41.6 0 0 1 10.9 40.2Q0 0 -3 -43.2A43.3 43.3 0 0 1 -2.5 -43.3Q0 0 11.3 40.1Z"/>
<path class="c7" d="M8.5 40.7L8.4 40.8Q0 0 -27.4 33.6L-27.5 33.5Q0 0 8.5 40.7Z"/>
<path class="c7" d="M9.4 40.6A41.6 41.6 0 0 1 9.1 40.6Q0 0 -39.1 -18.7A43.3 43.3 0 0 1 -38.9 -19.1Q0 0 9.4 40.6Z"/>
<path class="c7" d="M9.1 40.6A41.6 41.6 0 0 1 8.8 40.7Q0 0 -33.3 -27.8A43.3 43.3 0 0 1 -33.2 -27.9Q0 0 9.1 40.6Z"/>
<path class="c7" d="M8.8 40.7L8.7 40.7Q0 0 -16.3 -40.2L-16.2 -40.2Q0 0 8.8 40.7Z"/>
<path class="c7" d="M8.7 40.7L8.5 40.7Q0 0 -2.5 -43.3L-2.4 -43.3Q0 0 8.7 40.7Z"/>
<path class="c8" d="M6.8 41.1L6.7 41.1Q0 0 -27.5 33.5L-27.6 33.4Q0 0 6.8 41.1Z"/>
<path class="c8" d="M6.7 41.1L6.6 41.1Q0 0 -35.3 25.2L-35.3 25.1Q0 0 6.7 41.1Z"/>
<path class="c8" d="M6.6 41.1L6.4 41.1Q0 0 -40.7 14.8L-40.7 14.7Q0 0 6.6 41.1Z"/>
<path class="c8" d="M6.4 41.1L6.3 41.1Q0 0 -43.2 3.5L-43.2 3.4Q0 0 6.4 41.1Z"/>
<path class="c8" d="M6.3 41.1L6.2 41.2Q0 0 -42.7 -7.3L-42.7 -7.4Q0 0 6.3 41.1Z"/>
<path class="c8" d="M6.2 41.2L6 41.2Q0 0 -16.2 -40.2L-16.1 -40.2Q0 0 6.2 41.2Z"/>
<path class="c8" d="M6 41.2L5.9 41.2Q0 0 -2.4 -43.3L-2.2 -43.3Q0 0 6 41.2Z"/>
<path class="c9" d="M4.3 41.4L4.2 41.4Q0 0 -35.3 25.1L-35.4 25Q0 0 4.3 41.4Z"/>
<path class="c9" d="M4.2 41.4L4.1 41.4Q0 0 -43.2 3.4L-43.2 3.2Q0 0 4.2 41.4Z"/>
<path class="c9" d="M4.1 41.4L4 41.4Q0 0 -42.7 -7.4L-42.7 -7.6Q0 0 4.1 41.4Z"/>
<path class="c9" d="M4 41.4L3.8 41.4Q0 0 -33.2 -27.9L-33.1 -28Q0 0 4 41.4Z"/>
<path class="c9" d="M3.8 41.4L3.6 41.5Q0 0 -16.1 -40.2L-16 -40.3Q0 0 3.8 41.4Z"/>
<path class="c9" d="M3.6 41.5L3.5 41.5Q0 0 -2.2 -43.3L-2.1 -43.3Q0 0 3.6 41.5Z"/>
<path class="c10" d="M1.8 41.6L1.7 41.6Q0 0 -27.6 33.4L-27.7 33.3Q0 0 1.8 41.6Z"/>
<path class="c10" d="M1.7 41.6A41.6 41.6 0 0 1 1.4 41.6Q0 0 -35.4 25A43.3 43.3 0 0 1 -35.5 24.8Q0 0 1.7 41.6Z"/>
<path class="c10" d="M1.4 41.6A41.6 41.6 0 0 1 1.2 41.6Q0 0 -40.7 14.7A43.3 43.3 0 0 1 -40.8 14.6Q0 0 1.4 41.6Z"/>
<path class="c10" d="M1.2 41.6L1.1 41.6Q0 0 -43.2 3.2L-43.2 3.1Q0 0 1.2 41.6Z"/>
<path class="c10" d="M1.9 41.6L1.8 41.6Q0 0 -16 -40.3L-15.9 -40.3Q0 0 1.9 41.6Z"/>
<path class="c0" d="M-0.5 41.6L-0.7 41.6Q0 0 -40.8 14.6L-40.9 14.4Q0 0 -0.5 41.6Z"/>
<path class="c0" d="M-0.7 41.6L-0.9 41.6Q0 0 -42.7 -7.6L-42.6 -7.8Q0 0 -0.7 41.6Z"/>
<path class="c0" d="M-0.9 41.6L-1 41.6Q0 0 -33.1 -28L-33 -28.1Q0 0 -0.9 41.6Z"/>
<path class="c0" d="M-1 41.6L-1.1 41.6Q0 0 -15.9 -40.3L-15.8 -40.3Q0 0 -1 41.6Z"/>
<path class="c0" d="M-1.1 41.6L-1.2 41.6Q0 0 -2.1 -43.3L-2 -43.3Q0 0 -1.1 41.6Z"/>
<path class="c1" d="M-2.8 41.5L-2.9 41.5Q0 0 -27.7 33.3L-27.8 33.2Q0 0 -2.8 41.5Z"/>
<path class="c1" d="M-2.9 41.5L-3 41.5Q0 0 -35.5 24.8L-35.6 24.7Q0 0 -2.9 41.5Z"/>
<path class="c1" d="M-3 41.5L-3.1 41.5Q0 0 -40.9 14.4L-40.9 14.3Q0 0 -3 41.5Z"/>
<path class="c1" d="M-3.1 41.5L-3.2 41.5Q0 0 -43.2 3.1L-43.2 3Q0 0 -3.1 41.5Z"/>
<path class="c1" d="M-3.2 41.5L-3.3 41.5Q0 0 -42.6 -7.8L-42.6 -7.9Q0 0 -3.2 41.5Z"/>
<path class="c1" d="M-3.3 41.5L-3.4 41.5Q0 0 -23.9 -36.2L-23.8 -36.2Q0 0 -3.3 41.5Z"/>
<path class="c1" d="M-3.4 41.5L-3.5 41.5Q0 0 -15.8 -40.3L-15.8 -40.4Q0 0 -3.4 41.5Z"/>
<path class="c2" d="M-5.4 41.3L-5.5 41.3Q0 0 -40.9 14.3L-40.9 14.3Q0 0 -5.4 41.3Z"/>
<path class="c2" d="M-5.5 41.3A41.6 41.6 0 0 1 -5.7 41.2Q0 0 -42.6 -7.9A43.3 43.3 0 0 1 -42.5 -8.2Q0 0 -5.5 41.3Z"/>
<path class="c2" d="M-5.1 41.3L-5.2 41.3Q0 0 -23.8 -36.2L-23.7 -36.3Q0 0 -5.1 41.3Z"/>
<path class="c2" d="M-5.2 41.3L-5.4 41.3Q0 0 -15.8 -40.4L-15.7 -40.4Q0 0 -5.2 41.3Z"/>
<path class="c3" d="M-7.3 41L-7.5 40.9Q0 0 -27.8 33.2L-27.9 33.1Q0 0 -7.3 41Z"/>
<path class="c3" d="M-7.5 40.9L-7.6 40.9Q0 0 -35.6 24.7L-35.7 24.6Q0 0 -7.5 40.9Z"/>
<path class="c3" d="M-7.6 40.9L-7.7 40.9Q0 0 -42.5 -8.2L-42.5 -8.3Q0 0 -7.6 40.9Z"/>
<path class="c3" d="M-7.7 40.9L-7.8 40.9Q0 0 -33 -28.1L-32.9 -28.1Q0 0 -7.7 40.9Z"/>
<path class="c3" d="M-7.8 40.9L-8 40.8Q0 0 -23.7 -36.3L-23.6 -36.3Q0 0 -7.8 40.9Z"/>
<path class="c4" d="M-9.5 40.5L-9.6 40.5Q0 0 -27.9 33.1L-28 33Q0 0 -9.5 40.5Z"/>
<path class="c4" d="M-9.6 40.5L-9.8 40.5Q0 0 -35.7 24.6L-35.7 24.5Q0 0 -9.6 40.5Z"/>
<path class="c4" d="M-9.8 40.5L-9.9 40.4Q0 0 -42.5 -8.3L-42.5 -8.5Q0 0 -9.8 40.5Z"/>
<path class="c4" d="M-9.9 40.4A41.6 41.6 0 0 1 -10.1 40.4Q0 0 -38.9 -19.1A43.3 43.3 0 0 1 -38.8 -19.3Q0 0 -9.9 40.4Z"/>
<path class="c4" d="M-10.1 40.4L-10.2 40.4Q0 0 -32.9 -28.1L-32.9 -28.2Q0 0 -10.1 40.4Z"/>
<path class="c7" d="M-13.3 39.4A41.6 41.6 0 0 1 -14.5 39Q0 0 -32.9 -28.2A43.3 43.3 0 0 1 -32.3 -28.8Q0 0 -13.3 39.4Z"/>
<path class="c7" d="M-14.5 39A41.6 41.6 0 0 1 -17.7 37.7Q0 0 -15.7 -40.4A43.3 43.3 0 0 1 -13.3 -41.2Q0 0 -14.5 39Z"/>
</g>
<g fill="none">
<path d="M-30.05 58.98A66.2 66.2 0 0 1 -42.84 50.46M-44.49 49.02A66.2 66.2 0 0 1 -54.59 37.44M-55.81 35.61A66.2 66.2 0 0 1 -62.51 21.78M-63.2 19.7A66.2 66.2 0 0 1 -66.04 4.59M-66.15 2.4A66.2 66.2 0 0 1 -64.93 -12.91M20.95 -56.18A59.96 59.96 0 0 1 24.85 -54.57M24.85 -54.57A59.96 59.96 0 0 1 30.27 -51.76M34.87 -48.78A59.96 59.96 0 0 1 42.64 -42.16M42.64 -42.16A59.96 59.96 0 0 1 46.44 -37.94M49.2 -34.28A59.96 59.96 0 0 1 51.56 -30.61M55.35 -23.07A59.96 59.96 0 0 1 55.52 -22.64M55.52 -22.64A59.96 59.96 0 0 1 56.2 -20.9M56.74 -19.39A59.96 59.96 0 0 1 57.08 -18.37M57.08 -18.37A59.96 59.96 0 0 1 57.59 -16.71M58.1 -14.84A59.96 59.96 0 0 1 58.96 -10.93M59.29 -8.97A59.96 59.96 0 0 1 59.3 -8.92M59.3 -8.92A59.96 59.96 0 0 1 59.3 -8.89M59.3 -8.89A59.96 59.96 0 0 1 59.32 -8.76M59.32 -8.76A59.96 59.96 0 0 1 59.34 -8.61M59.34 -8.61A59.96 59.96 0 0 1 59.35 -8.55M59.92 2.26A59.96 59.96 0 0 1 59.84 3.87M59.84 3.87A59.96 59.96 0 0 1 59.81 4.32M59.81 4.32A59.96 59.96 0 0 1 59.72 5.42M59.72 5.42A59.96 59.96 0 0 1 59.61 6.52M59.61 6.52A59.96 59.96 0 0 1 59.52 7.31M59.26 9.17A59.96 59.96 0 0 1 59.12 10.01M59.12 10.01A59.96 59.96 0 0 1 58.76 11.95M58.76 11.95A59.96 59.96 0 0 1 58.59 12.77M58.59 12.77A59.96 59.96 0 0 1 58.45 13.41M58.45 13.41A59.96 59.96 0 0 1 58.37 13.73M56.96 18.73A59.96 59.96 0 0 1 56.72 19.46M56.72 19.46A59.96 59.96 0 0 1 56.39 20.38M56.39 20.38A59.96 59.96 0 0 1 56.22 20.85M56.22 20.85A59.96 59.96 0 0 1 56.08 21.24M56.08 21.24A59.96 59.96 0 0 1 55.93 21.63M52.71 28.59A59.96 59.96 0 0 1 52.65 28.7M52.65 28.7A59.96 59.96 0 0 1 52.6 28.8M52.6 28.8A59.96 59.96 0 0 1 52.55 28.88M52.55 28.88A59.96 59.96 0 0 1 52.5 28.98M52.5 28.98A59.96 59.96 0 0 1 52.45 29.07M51.24 31.15A59.96 59.96 0 0 1 51.18 31.24M51.18 31.24A59.96 59.96 0 0 1 51.06 31.44M51.06 31.44A59.96 59.96 0 0 1 50.91 31.68M50.91 31.68A59.96 59.96 0 0 1 50.79 31.88M50.79 31.88A59.96 59.96 0 0 1 50.73 31.98M48.33 35.5A59.96 59.96 0 0 1 48.2 35.68M48.2 35.68A59.96 59.96 0 0 1 47.88 36.1M47.88 36.1A59.96 59.96 0 0 1 47.52 36.57M47.52 36.57A59.96 59.96 0 0 1 47.36 36.79M47.36 36.79A59.96 59.96 0 0 1 46.69 37.63M44.39 40.31A59.96 59.96 0 0 1 44.36 40.34M44.36 40.34A59.96 59.96 0 0 1 44.34 40.37M44.34 40.37A59.96 59.96 0 0 1 44.2 40.52M44.2 40.52A59.96 59.96 0 0 1 44.16 40.57M44.16 40.57A59.96 59.96 0 0 1 44.14 40.59M42.99 41.81A59.96 59.96 0 0 1 42.39 42.41M42.39 42.41A59.96 59.96 0 0 1 41.76 43.04M39.48 45.13A59.96 59.96 0 0 1 39.03 45.52M39.03 45.52A59.96 59.96 0 0 1 38.56 45.92M38.56 45.92A59.96 59.96 0 0 1 38.22 46.2M34.93 48.74A59.96 59.96 0 0 1 34.62 48.96M34.62 48.96A59.96 59.96 0 0 1 34.45 49.08M34.45 49.08A59.96 59.96 0 0 1 34.3 49.19M34.3 49.19A59.96 59.96 0 0 1 34.09 49.33M32.17 50.61A59.96 59.96 0 0 1 31.82 50.83M24.3 54.82A59.96 59.96 0 0 1 23.89 55M23.89 55A59.96 59.96 0 0 1 23.56 55.14M23.56 55.14A59.96 59.96 0 0 1 23.25 55.27M23.25 55.27A59.96 59.96 0 0 1 23.05 55.36M20.91 56.2A59.96 59.96 0 0 1 20.63 56.3M20.63 56.3A59.96 59.96 0 0 1 20.18 56.47M17.17 57.45A59.96 59.96 0 0 1 16.93 57.52M12.28 58.69A59.96 59.96 0 0 1 12.09 58.73M9.83 59.15A59.96 59.96 0 0 1 9.63 59.19M9.63 59.19A59.96 59.96 0 0 1 9.44 59.22M9.44 59.22A59.96 59.96 0 0 1 9.25 59.25M9.25 59.25A59.96 59.96 0 0 1 9.1 59.27M9.1 59.27A59.96 59.96 0 0 1 8.9 59.3M6.24 59.64A59.96 59.96 0 0 1 6.11 59.65M6.11 59.65A59.96 59.96 0 0 1 5.97 59.67M5.97 59.67A59.96 59.96 0 0 1 5.77 59.69M2.58 59.91A59.96 59.96 0 0 1 2.39 59.92M2.39 59.92A59.96 59.96 0 0 1 2.06 59.93M2.06 59.93A59.96 59.96 0 0 1 1.76 59.94M1.76 59.94A59.96 59.96 0 0 1 1.59 59.94M-0.72 59.96A59.96 59.96 0 0 1 -0.98 59.96M-0.98 59.96A59.96 59.96 0 0 1 -1.24 59.95M-4.07 59.83A59.96 59.96 0 0 1 -4.16 59.82M-4.16 59.82A59.96 59.96 0 0 1 -4.35 59.81M-4.35 59.81A59.96 59.96 0 0 1 -4.47 59.8M-4.47 59.8A59.96 59.96 0 0 1 -4.61 59.79M-4.61 59.79A59.96 59.96 0 0 1 -4.76 59.78M-7.77 59.46A59.96 59.96 0 0 1 -7.9 59.44M-7.9 59.44A59.96 59.96 0 0 1 -8.28 59.39M-10.55 59.03A59.96 59.96 0 0 1 -10.75 58.99M-10.75 58.99A59.96 59.96 0 0 1 -10.98 58.95M-10.98 58.95A59.96 59.96 0 0 1 -11.13 58.92M-13.73 58.37A59.96 59.96 0 0 1 -13.9 58.33M-13.9 58.33A59.96 59.96 0 0 1 -14.08 58.29M-14.08 58.29A59.96 59.96 0 0 1 -14.28 58.24" stroke="#2E8B2E" stroke-width="3.72"/>
<path d="M-20.67 40.58A45.54 45.54 0 0 1 -29.47 34.72M-30.61 33.72A45.54 45.54 0 0 1 -37.56 25.75M-38.39 24.49A45.54 45.54 0 0 1 -43 14.98M-43.48 13.55A45.54 45.54 0 0 1 -45.43 3.16M-45.51 1.65A45.54 45.54 0 0 1 -44.66 -8.88" stroke="#2E8B2E" stroke-width="4.02"/>
<path d="M-27.22 53.43A59.96 59.96 0 0 1 -31.48 51.03M-36.34 47.7A59.96 59.96 0 0 1 -36.88 47.28M-40.3 44.4A59.96 59.96 0 0 1 -44.24 40.48M-47.85 36.14A59.96 59.96 0 0 1 -48.19 35.69M-50.61 32.16A59.96 59.96 0 0 1 -54.69 24.6M-57.3 17.68A59.96 59.96 0 0 1 -58.8 11.75M-59.67 5.91A59.96 59.96 0 0 1 -59.72 5.44M-59.93 -2.09A59.96 59.96 0 0 1 -59.6 -6.65M-59.04 -10.52A59.96 59.96 0 0 1 -58.99 -10.78M-57.6 -16.67A59.96 59.96 0 0 1 -56.11 -21.16M-54.77 -24.41A59.96 59.96 0 0 1 -54.65 -24.68M-52.01 -29.84A59.96 59.96 0 0 1 -47.77 -36.25M-43.42 -41.36A59.96 59.96 0 0 1 -39.59 -45.04M-30.21 -51.8A59.96 59.96 0 0 1 -26.9 -53.59M-23.56 -55.14A59.96 59.96 0 0 1 -23.25 -55.27M-16.46 -57.66A59.96 59.96 0 0 1 -11.84 -58.78M-0.46 -66.2A66.2 66.2 0 0 1 56.92 -33.8M43.59 49.82A66.2 66.2 0 0 1 41.6 51.49M-0.79 66.19A66.2 66.2 0 0 1 -1.96 66.17" stroke="#B0C4DE" stroke-width="3.72"/>
<path d="M-31.48 51.03A59.96 59.96 0 0 1 -31.94 50.75M-36.88 47.28A59.96 59.96 0 0 1 -37.23 47.01M-44.24 40.48A59.96 59.96 0 0 1 -45.37 39.21M-54.69 24.6A59.96 59.96 0 0 1 -55.05 23.78M-58.8 11.75A59.96 59.96 0 0 1 -59.14 9.91M-59.72 5.44A59.96 59.96 0 0 1 -59.74 5.16M-59.93 2.18A59.96 59.96 0 0 1 -59.93 -2.02M-58.15 -14.64A59.96 59.96 0 0 1 -57.6 -16.67M-54.65 -24.68A59.96 59.96 0 0 1 -54.43 -25.16M-52.56 -28.87A59.96 59.96 0 0 1 -52.01 -29.84M-39.59 -45.04A59.96 59.96 0 0 1 -37.84 -46.51M-26.9 -53.59A59.96 59.96 0 0 1 -25.91 -54.08M-23.25 -55.27A59.96 59.96 0 0 1 -23 -55.38M-11.08 -58.93A59.96 59.96 0 0 1 -9.11 -59.27M-5.68 -59.7A59.96 59.96 0 0 1 -5.28 -59.73M58.18 -31.59A66.2 66.2 0 0 1 65.09 -12.06M39.59 53.05A66.2 66.2 0 0 1 37.63 54.46M-4.5 66.04A66.2 66.2 0 0 1 -5.58 65.96" stroke="#FAF0E6" stroke-width="3.72"/>
<path d="M-31.98 50.72A59.96 59.96 0 0 1 -33.56 49.7M-45.38 39.19A59.96 59.96 0 0 1 -45.65 38.88M-55.05 23.78A59.96 59.96 0 0 1 -55.41 22.92M-59.14 9.91A59.96 59.96 0 0 1 -59.32 8.75M-59.6 -6.65A59.96 59.96 0 0 1 -59.5 -7.47M-56.11 -21.16A59.96 59.96 0 0 1 -55.93 -21.63M-54.43 -25.16A59.96 59.96 0 0 1 -54.06 -25.95M-47.77 -36.25A59.96 59.96 0 0 1 -47.59 -36.49M-46.38 -38A59.96 59.96 0 0 1 -46.19 -38.24M-33.68 -49.61A59.96 59.96 0 0 1 -33.45 -49.77M-23 -55.38A59.96 59.96 0 0 1 -22.71 -55.5M-9.11 -59.27A59.96 59.96 0 0 1 -8.71 -59.33M66.19 0.69A66.2 66.2 0 0 1 65.7 8.07M31.38 58.29A66.2 66.2 0 0 1 29.52 59.25M-11.65 65.16A66.2 66.2 0 0 1 -12.67 64.97" stroke="#CD5C5C" stroke-width="3.72"/>
<path d="M-33.56 49.7A59.96 59.96 0 0 1 -34.36 49.14M-45.65 38.88A59.96 59.96 0 0 1 -46.8 37.5M-48.31 35.53A59.96 59.96 0 0 1 -48.55 35.2M-55.41 22.92A59.96 59.96 0 0 1 -55.68 22.27M-56.23 20.82A59.96 59.96 0 0 1 -56.34 20.54M-59.32 8.75A59.96 59.96 0 0 1 -59.42 8.05M-59.74 5.16A59.96 59.96 0 0 1 -59.77 4.81M-59.5 -7.47A59.96 59.96 0 0 1 -59.45 -7.82M-55.93 -21.63A59.96 59.96 0 0 1 -55.62 -22.41M-53.81 -26.46A59.96 59.96 0 0 1 -53.67 -26.74M-47.59 -36.49A59.96 59.96 0 0 1 -47.35 -36.8M-35.66 -48.21A59.96 59.96 0 0 1 -35.25 -48.51M-25.79 -54.14A59.96 59.96 0 0 1 -25.38 -54.33M-8.71 -59.33A59.96 59.96 0 0 1 -7.98 -59.43M-4.83 -59.77A59.96 59.96 0 0 1 -4.42 -59.8M65.42 10.13A66.2 66.2 0 0 1 63.54 18.58M27.23 60.34A66.2 66.2 0 0 1 25.45 61.11M-15.16 64.44A66.2 66.2 0 0 1 -16.17 64.19" stroke="#BA55D3" stroke-width="3.72"/>
<path d="M-34.36 49.14A59.96 59.96 0 0 1 -35.09 48.62M-37.61 46.7A59.96 59.96 0 0 1 -37.88 46.49M-46.8 37.5A59.96 59.96 0 0 1 -47.35 36.8M-48.55 35.2A59.96 59.96 0 0 1 -48.8 34.85M-55.68 22.27A59.96 59.96 0 0 1 -55.83 21.89M-59.42 8.05A59.96 59.96 0 0 1 -59.48 7.6M-59.45 -7.82A59.96 59.96 0 0 1 -59.39 -8.25M-55.62 -22.41A59.96 59.96 0 0 1 -55.37 -23.01M-25.38 -54.33A59.96 59.96 0 0 1 -25.14 -54.44M-7.98 -59.43A59.96 59.96 0 0 1 -7.46 -59.5M-4.42 -59.8A59.96 59.96 0 0 1 -4.1 -59.82M62.89 20.68A66.2 66.2 0 0 1 60.98 25.76M23.08 62.04A66.2 66.2 0 0 1 21.38 62.65" stroke="#3CB371" stroke-width="3.72"/>
<path d="M-35.55 48.29A59.96 59.96 0 0 1 -36.34 47.7M-48.97 34.61A59.96 59.96 0 0 1 -49.14 34.36M-59.57 6.87A59.96 59.96 0 0 1 -59.67 5.91M-34.26 -49.22A59.96 59.96 0 0 1 -34.02 -49.38M-6.1 -59.65A59.96 59.96 0 0 1 -5.68 -59.7M47.46 46.15A66.2 66.2 0 0 1 45.47 48.11M3.01 66.13A66.2 66.2 0 0 1 1.75 66.17" stroke="#6B8E23" stroke-width="3.72"/>
<path d="M-37.23 47.01A59.96 59.96 0 0 1 -37.61 46.7M-58.96 -10.93A59.96 59.96 0 0 1 -58.88 -11.33M-58.39 -13.64A59.96 59.96 0 0 1 -58.15 -14.64M-52.76 -28.5A59.96 59.96 0 0 1 -52.56 -28.87M-46.66 -37.67A59.96 59.96 0 0 1 -46.38 -38M-37.84 -46.51A59.96 59.96 0 0 1 -35.8 -48.11M-34.02 -49.38A59.96 59.96 0 0 1 -33.68 -49.61M-31.03 -51.31A59.96 59.96 0 0 1 -30.21 -51.8M-11.84 -58.78A59.96 59.96 0 0 1 -11.08 -58.93M-5.28 -59.73A59.96 59.96 0 0 1 -4.83 -59.77M65.45 -9.9A66.2 66.2 0 0 1 66.17 -1.85M35.51 55.87A66.2 66.2 0 0 1 33.59 57.04M-8.11 65.7A66.2 66.2 0 0 1 -9.14 65.56" stroke="#6495ED" stroke-width="3.72"/>
<path d="M-26.11 51.23A57.5 57.5 0 0 1 -37.21 43.84M-38.65 42.58A57.5 57.5 0 0 1 -47.42 32.52M-48.47 30.93A57.5 57.5 0 0 1 -54.3 18.92M-54.9 17.11A57.5 57.5 0 0 1 -57.36 3.99M-57.46 2.09A57.5 57.5 0 0 1 -56.4 -11.22M-55.99 -13.08A57.5 57.5 0 0 1 -51.47 -25.64M-50.59 -27.33A57.5 57.5 0 0 1 -42.93 -38.26M-41.63 -39.66A57.5 57.5 0 0 1 -31.37 -48.19M-29.75 -49.21A57.5 57.5 0 0 1 -17.61 -54.74M-15.78 -55.29A57.5 57.5 0 0 1 -2.61 -57.44" stroke="#2a2a2a" stroke-width="1.2"/>
<path d="M-47.54 36.55A59.96 59.96 0 0 1 -47.83 36.16M-55.94 21.6A59.96 59.96 0 0 1 -56.12 21.13M-59.53 7.22A59.96 59.96 0 0 1 -59.56 6.93M-59.36 -8.47A59.96 59.96 0 0 1 -59.19 -9.58M53.35 39.19A66.2 66.2 0 0 1 51.44 41.66M10.85 65.3A66.2 66.2 0 0 1 9.41 65.52" stroke="#008080" stroke-width="3.72"/>
<path d="M-59.15 -9.84A59.96 59.96 0 0 1 -59.11 -10.1M-55.37 -23.01A59.96 59.96 0 0 1 -55.17 -23.49M-47.28 -36.88A59.96 59.96 0 0 1 -47.05 -37.17M-35.05 -48.66A59.96 59.96 0 0 1 -34.8 -48.83M-33.27 -49.89A59.96 59.96 0 0 1 -33.04 -50.04M-25.14 -54.44A59.96 59.96 0 0 1 -23.98 -54.96M-7.46 -59.5A59.96 59.96 0 0 1 -6.86 -59.57M-4.1 -59.82A59.96 59.96 0 0 1 -3.51 -59.86M60.04 27.87A66.2 66.2 0 0 1 57.9 32.09M18.96 63.42A66.2 66.2 0 0 1 17.34 63.89" stroke="#7B68EE" stroke-width="3.72"/>
<path d="M-64.46 -15.06A66.2 66.2 0 0 1 -59.25 -29.52M-58.24 -31.46A66.2 66.2 0 0 1 -49.42 -44.05M-47.93 -45.66A66.2 66.2 0 0 1 -36.11 -55.48M-34.25 -56.65A66.2 66.2 0 0 1 -20.27 -63.02M-18.17 -63.66A66.2 66.2 0 0 1 -3 -66.13M-0.42 -59.96A59.96 59.96 0 0 1 2.9 -59.89M2.9 -59.89A59.96 59.96 0 0 1 14.23 -58.25M14.23 -58.25A59.96 59.96 0 0 1 20.95 -56.18M30.27 -51.76A59.96 59.96 0 0 1 34.87 -48.78M46.44 -37.94A59.96 59.96 0 0 1 49.2 -34.28M52.7 -28.61A59.96 59.96 0 0 1 53.38 -27.31M53.38 -27.31A59.96 59.96 0 0 1 54.12 -25.83M54.12 -25.83A59.96 59.96 0 0 1 55.35 -23.07M56.2 -20.9A59.96 59.96 0 0 1 56.74 -19.39M57.59 -16.71A59.96 59.96 0 0 1 58.1 -14.84M59.35 -8.55A59.96 59.96 0 0 1 59.45 -7.83M59.45 -7.83A59.96 59.96 0 0 1 59.53 -7.21M59.53 -7.21A59.96 59.96 0 0 1 59.84 -3.79M59.84 -3.79A59.96 59.96 0 0 1 59.92 -2.42M59.92 -2.42A59.96 59.96 0 0 1 59.94 -1.67M59.96 0.63A59.96 59.96 0 0 1 59.96 0.99M59.96 0.99A59.96 59.96 0 0 1 59.95 1.44M59.95 1.44A59.96 59.96 0 0 1 59.94 1.68M59.94 1.68A59.96 59.96 0 0 1 59.94 1.87M59.94 1.87A59.96 59.96 0 0 1 59.92 2.26M58.37 13.73A59.96 59.96 0 0 1 58.23 14.3M58.23 14.3A59.96 59.96 0 0 1 58.09 14.87M58.09 14.87A59.96 59.96 0 0 1 57.92 15.52M57.92 15.52A59.96 59.96 0 0 1 57.75 16.15M57.75 16.15A59.96 59.96 0 0 1 57.55 16.83M55.93 21.63A59.96 59.96 0 0 1 55.76 22.05M55.76 22.05A59.96 59.96 0 0 1 55.7 22.2M55.7 22.2A59.96 59.96 0 0 1 55.58 22.51M55.58 22.51A59.96 59.96 0 0 1 55.43 22.87M55.43 22.87A59.96 59.96 0 0 1 55.24 23.33M54.39 25.25A59.96 59.96 0 0 1 54.24 25.57M54.24 25.57A59.96 59.96 0 0 1 54 26.07M54 26.07A59.96 59.96 0 0 1 53.82 26.43M53.82 26.43A59.96 59.96 0 0 1 52.98 28.08M52.98 28.08A59.96 59.96 0 0 1 52.71 28.59M50.73 31.98A59.96 59.96 0 0 1 50.53 32.29M50.53 32.29A59.96 59.96 0 0 1 50.33 32.59M50.33 32.59A59.96 59.96 0 0 1 49.94 33.2M49.94 33.2A59.96 59.96 0 0 1 49.71 33.54M49.71 33.54A59.96 59.96 0 0 1 49.36 34.05M46.69 37.63A59.96 59.96 0 0 1 46.68 37.64M46.68 37.64A59.96 59.96 0 0 1 46.66 37.66M46.66 37.66A59.96 59.96 0 0 1 46.64 37.69M46.64 37.69A59.96 59.96 0 0 1 46.61 37.72M46.61 37.72A59.96 59.96 0 0 1 46.6 37.74M45.26 39.34A59.96 59.96 0 0 1 45.05 39.57M45.05 39.57A59.96 59.96 0 0 1 44.68 39.99M44.68 39.99A59.96 59.96 0 0 1 44.6 40.09M44.6 40.09A59.96 59.96 0 0 1 44.46 40.24M44.46 40.24A59.96 59.96 0 0 1 44.39 40.31M41.76 43.04A59.96 59.96 0 0 1 41.48 43.3M41.48 43.3A59.96 59.96 0 0 1 41.19 43.58M38.22 46.2A59.96 59.96 0 0 1 38.06 46.34M38.06 46.34A59.96 59.96 0 0 1 37.68 46.65M35.86 48.06A59.96 59.96 0 0 1 35.57 48.28M35.57 48.28A59.96 59.96 0 0 1 35.24 48.51M35.24 48.51A59.96 59.96 0 0 1 34.93 48.74M31.82 50.83A59.96 59.96 0 0 1 31.27 51.17M31.27 51.17A59.96 59.96 0 0 1 30.81 51.45M30.81 51.45A59.96 59.96 0 0 1 30.43 51.67M28.43 52.8A59.96 59.96 0 0 1 27.89 53.09M27.89 53.09A59.96 59.96 0 0 1 27.48 53.3M27.48 53.3A59.96 59.96 0 0 1 27.15 53.47M27.15 53.47A59.96 59.96 0 0 1 26.75 53.67M24.67 54.66A59.96 59.96 0 0 1 24.3 54.82M20.18 56.47A59.96 59.96 0 0 1 19.91 56.56M19.91 56.56A59.96 59.96 0 0 1 19.66 56.65M19.66 56.65A59.96 59.96 0 0 1 19.37 56.75M16.93 57.52A59.96 59.96 0 0 1 16.61 57.62M16.61 57.62A59.96 59.96 0 0 1 16.26 57.72M16.26 57.72A59.96 59.96 0 0 1 15.71 57.87M13.48 58.43A59.96 59.96 0 0 1 13.08 58.52M13.08 58.52A59.96 59.96 0 0 1 12.72 58.6M12.72 58.6A59.96 59.96 0 0 1 12.48 58.65M12.48 58.65A59.96 59.96 0 0 1 12.28 58.69M8.9 59.3A59.96 59.96 0 0 1 8.7 59.33M8.7 59.33A59.96 59.96 0 0 1 8.53 59.36M5.77 59.69A59.96 59.96 0 0 1 5.49 59.71M5.49 59.71A59.96 59.96 0 0 1 5.22 59.74M5.22 59.74A59.96 59.96 0 0 1 5.02 59.75M2.73 59.9A59.96 59.96 0 0 1 2.58 59.91M-1.24 59.95A59.96 59.96 0 0 1 -1.48 59.95M-1.48 59.95A59.96 59.96 0 0 1 -1.59 59.94M-1.59 59.94A59.96 59.96 0 0 1 -1.77 59.94M-4.76 59.78A59.96 59.96 0 0 1 -4.88 59.77M-4.88 59.77A59.96 59.96 0 0 1 -5.06 59.75M-7.35 59.51A59.96 59.96 0 0 1 -7.56 59.49M-7.56 59.49A59.96 59.96 0 0 1 -7.77 59.46M-11.13 58.92A59.96 59.96 0 0 1 -11.3 58.89M-11.3 58.89A59.96 59.96 0 0 1 -11.48 58.86M-14.28 58.24A59.96 59.96 0 0 1 -14.49 58.19M-14.49 58.19A59.96 59.96 0 0 1 -14.65 58.15M-19.23 56.8A59.96 59.96 0 0 1 -20.83 56.23M-20.83 56.23A59.96 59.96 0 0 1 -25.53 54.26" stroke="#EE3B2F" stroke-width="3.72"/>
<path d="M-44.34 -10.36A45.54 45.54 0 0 1 -40.76 -20.31M-40.07 -21.65A45.54 45.54 0 0 1 -34 -30.3M-32.97 -31.41A45.54 45.54 0 0 1 -24.84 -38.17M-23.56 -38.97A45.54 45.54 0 0 1 -13.94 -43.35M-12.5 -43.79A45.54 45.54 0 0 1 -2.07 -45.49" stroke="#EE3B2F" stroke-width="4.02"/>
<path d="M-55.17 -23.49A59.96 59.96 0 0 1 -54.96 -23.98M-54.06 -25.95A59.96 59.96 0 0 1 -53.81 -26.46M-45.52 -39.04A59.96 59.96 0 0 1 -44.76 -39.9M-34.8 -48.83A59.96 59.96 0 0 1 -34.35 -49.15M-23.98 -54.96A59.96 59.96 0 0 1 -23.73 -55.07M-21.67 -55.91A59.96 59.96 0 0 1 -18.36 -57.08M-6.86 -59.57A59.96 59.96 0 0 1 -6.22 -59.64M56.56 34.39A66.2 66.2 0 0 1 54.49 37.59M14.88 64.5A66.2 66.2 0 0 1 13.35 64.84M-21.22 62.7A66.2 66.2 0 0 1 -28.19 59.9" stroke="#48D1CC" stroke-width="3.72"/>
<path d="M-54.95 -24A59.96 59.96 0 0 1 -54.77 -24.41M-46.89 -37.38A59.96 59.96 0 0 1 -46.66 -37.67M49.96 43.43A66.2 66.2 0 0 1 48.73 44.81M6.89 65.84A66.2 66.2 0 0 1 5.55 65.96" stroke="#F4A460" stroke-width="3.72"/>
<path d="M-0.32 -45.54A45.54 45.54 0 0 1 39.16 -23.25M29.99 34.27A45.54 45.54 0 0 1 28.62 35.42M-0.54 45.54A45.54 45.54 0 0 1 -1.35 45.52" stroke="#B0C4DE" stroke-width="4.02"/>
<path d="M-0.3 -42.37A42.37 42.37 0 0 1 2.05 -42.32M2.05 -42.32A42.37 42.37 0 0 1 10.05 -41.16M10.05 -41.16A42.37 42.37 0 0 1 14.81 -39.7M21.39 -36.58A42.37 42.37 0 0 1 24.64 -34.47M32.82 -26.81A42.37 42.37 0 0 1 34.76 -24.22M37.24 -20.22A42.37 42.37 0 0 1 37.72 -19.3M37.72 -19.3A42.37 42.37 0 0 1 38.24 -18.25M38.24 -18.25A42.37 42.37 0 0 1 39.11 -16.3M39.71 -14.77A42.37 42.37 0 0 1 40.1 -13.7M40.69 -11.81A42.37 42.37 0 0 1 41.05 -10.49M41.94 -6.04A42.37 42.37 0 0 1 42.01 -5.53M42.01 -5.53A42.37 42.37 0 0 1 42.07 -5.09M42.07 -5.09A42.37 42.37 0 0 1 42.29 -2.68M42.29 -2.68A42.37 42.37 0 0 1 42.34 -1.71M42.34 -1.71A42.37 42.37 0 0 1 42.36 -1.18M42.37 0.44A42.37 42.37 0 0 1 42.37 0.7M42.37 0.7A42.37 42.37 0 0 1 42.36 1.02M42.36 1.02A42.37 42.37 0 0 1 42.36 1.18M42.36 1.18A42.37 42.37 0 0 1 42.35 1.32M42.35 1.32A42.37 42.37 0 0 1 42.34 1.59M41.25 9.7A42.37 42.37 0 0 1 41.15 10.11M41.15 10.11A42.37 42.37 0 0 1 41.05 10.51M41.05 10.51A42.37 42.37 0 0 1 40.93 10.96M40.93 10.96A42.37 42.37 0 0 1 40.81 11.41M40.81 11.41A42.37 42.37 0 0 1 40.67 11.89M39.52 15.28A42.37 42.37 0 0 1 39.4 15.58M39.4 15.58A42.37 42.37 0 0 1 39.36 15.69M39.36 15.69A42.37 42.37 0 0 1 39.27 15.91M39.27 15.91A42.37 42.37 0 0 1 39.17 16.16M39.17 16.16A42.37 42.37 0 0 1 39.03 16.49M38.43 17.84A42.37 42.37 0 0 1 38.33 18.07M38.33 18.07A42.37 42.37 0 0 1 38.16 18.42M38.16 18.42A42.37 42.37 0 0 1 38.03 18.68M38.03 18.68A42.37 42.37 0 0 1 37.44 19.84M37.44 19.84A42.37 42.37 0 0 1 37.25 20.2M35.84 22.6A42.37 42.37 0 0 1 35.7 22.82M35.7 22.82A42.37 42.37 0 0 1 35.57 23.03M35.57 23.03A42.37 42.37 0 0 1 35.29 23.46M35.29 23.46A42.37 42.37 0 0 1 35.12 23.7M35.12 23.7A42.37 42.37 0 0 1 34.88 24.06M32.99 26.59A42.37 42.37 0 0 1 32.98 26.6M32.98 26.6A42.37 42.37 0 0 1 32.97 26.61M32.97 26.61A42.37 42.37 0 0 1 32.96 26.63M32.96 26.63A42.37 42.37 0 0 1 32.94 26.66M32.94 26.66A42.37 42.37 0 0 1 32.93 26.67M31.98 27.8A42.37 42.37 0 0 1 31.83 27.96M31.83 27.96A42.37 42.37 0 0 1 31.57 28.26M31.57 28.26A42.37 42.37 0 0 1 31.51 28.33M31.51 28.33A42.37 42.37 0 0 1 31.41 28.43M31.41 28.43A42.37 42.37 0 0 1 31.37 28.49M29.51 30.41A42.37 42.37 0 0 1 29.31 30.6M29.31 30.6A42.37 42.37 0 0 1 29.1 30.8M27.01 32.65A42.37 42.37 0 0 1 26.89 32.74M26.89 32.74A42.37 42.37 0 0 1 26.63 32.96M25.34 33.96A42.37 42.37 0 0 1 25.13 34.11M25.13 34.11A42.37 42.37 0 0 1 24.9 34.28M24.9 34.28A42.37 42.37 0 0 1 24.68 34.44M22.48 35.92A42.37 42.37 0 0 1 22.1 36.16M22.1 36.16A42.37 42.37 0 0 1 21.77 36.35M21.77 36.35A42.37 42.37 0 0 1 21.5 36.51M20.09 37.31A42.37 42.37 0 0 1 19.7 37.51M19.7 37.51A42.37 42.37 0 0 1 19.42 37.66M19.42 37.66A42.37 42.37 0 0 1 19.18 37.78M19.18 37.78A42.37 42.37 0 0 1 18.9 37.92M17.43 38.62A42.37 42.37 0 0 1 17.17 38.74M14.26 39.9A42.37 42.37 0 0 1 14.07 39.97M14.07 39.97A42.37 42.37 0 0 1 13.89 40.03M13.89 40.03A42.37 42.37 0 0 1 13.68 40.1M11.96 40.65A42.37 42.37 0 0 1 11.74 40.71M11.74 40.71A42.37 42.37 0 0 1 11.49 40.79M11.49 40.79A42.37 42.37 0 0 1 11.1 40.89M9.52 41.29A42.37 42.37 0 0 1 9.24 41.35M9.24 41.35A42.37 42.37 0 0 1 8.99 41.41M8.99 41.41A42.37 42.37 0 0 1 8.82 41.44M8.82 41.44A42.37 42.37 0 0 1 8.68 41.47M6.29 41.9A42.37 42.37 0 0 1 6.15 41.92M6.15 41.92A42.37 42.37 0 0 1 6.03 41.94M4.08 42.18A42.37 42.37 0 0 1 3.88 42.19M3.88 42.19A42.37 42.37 0 0 1 3.69 42.21M3.69 42.21A42.37 42.37 0 0 1 3.55 42.22M1.93 42.33A42.37 42.37 0 0 1 1.82 42.33M-0.87 42.36A42.37 42.37 0 0 1 -1.05 42.36M-1.05 42.36A42.37 42.37 0 0 1 -1.12 42.36M-1.12 42.36A42.37 42.37 0 0 1 -1.25 42.35M-3.36 42.24A42.37 42.37 0 0 1 -3.44 42.23M-3.44 42.23A42.37 42.37 0 0 1 -3.57 42.22M-5.19 42.05A42.37 42.37 0 0 1 -5.34 42.03M-5.34 42.03A42.37 42.37 0 0 1 -5.49 42.02M-7.86 41.64A42.37 42.37 0 0 1 -7.98 41.61M-7.98 41.61A42.37 42.37 0 0 1 -8.11 41.59M-10.09 41.15A42.37 42.37 0 0 1 -10.24 41.12M-10.24 41.12A42.37 42.37 0 0 1 -10.35 41.09M-13.59 40.14A42.37 42.37 0 0 1 -14.72 39.73M-14.72 39.73A42.37 42.37 0 0 1 -18.04 38.34" stroke="#EE3B2F" stroke-width="1.11"/>
<path d="M14.81 -39.7A42.37 42.37 0 0 1 17.56 -38.56M17.56 -38.56A42.37 42.37 0 0 1 21.39 -36.58M24.64 -34.47A42.37 42.37 0 0 1 30.13 -29.79M30.13 -29.79A42.37 42.37 0 0 1 32.82 -26.81M34.76 -24.22A42.37 42.37 0 0 1 36.43 -21.63M39.11 -16.3A42.37 42.37 0 0 1 39.24 -16M39.24 -16A42.37 42.37 0 0 1 39.71 -14.77M40.1 -13.7A42.37 42.37 0 0 1 40.33 -12.98M40.33 -12.98A42.37 42.37 0 0 1 40.69 -11.81M41.05 -10.49A42.37 42.37 0 0 1 41.66 -7.72M41.9 -6.34A42.37 42.37 0 0 1 41.9 -6.3M41.9 -6.3A42.37 42.37 0 0 1 41.9 -6.28M41.9 -6.28A42.37 42.37 0 0 1 41.92 -6.19M41.92 -6.19A42.37 42.37 0 0 1 41.93 -6.08M41.93 -6.08A42.37 42.37 0 0 1 41.94 -6.04M42.34 1.59A42.37 42.37 0 0 1 42.28 2.74M42.28 2.74A42.37 42.37 0 0 1 42.26 3.05M42.26 3.05A42.37 42.37 0 0 1 42.2 3.83M42.2 3.83A42.37 42.37 0 0 1 42.12 4.6M42.12 4.6A42.37 42.37 0 0 1 42.06 5.16M41.87 6.48A42.37 42.37 0 0 1 41.78 7.07M41.78 7.07A42.37 42.37 0 0 1 41.52 8.45M41.52 8.45A42.37 42.37 0 0 1 41.4 9.02M41.4 9.02A42.37 42.37 0 0 1 41.3 9.48M41.3 9.48A42.37 42.37 0 0 1 41.25 9.7M40.25 13.23A42.37 42.37 0 0 1 40.08 13.75M40.08 13.75A42.37 42.37 0 0 1 39.85 14.4M39.85 14.4A42.37 42.37 0 0 1 39.73 14.73M39.73 14.73A42.37 42.37 0 0 1 39.63 15.01M39.63 15.01A42.37 42.37 0 0 1 39.52 15.28M37.25 20.2A42.37 42.37 0 0 1 37.21 20.28M37.21 20.28A42.37 42.37 0 0 1 37.17 20.35M37.17 20.35A42.37 42.37 0 0 1 37.14 20.4M37.14 20.4A42.37 42.37 0 0 1 37.1 20.48M37.1 20.48A42.37 42.37 0 0 1 37.06 20.54M36.21 22.01A42.37 42.37 0 0 1 36.17 22.08M36.17 22.08A42.37 42.37 0 0 1 36.08 22.22M36.08 22.22A42.37 42.37 0 0 1 35.98 22.39M35.98 22.39A42.37 42.37 0 0 1 35.89 22.53M35.89 22.53A42.37 42.37 0 0 1 35.84 22.6M34.15 25.08A42.37 42.37 0 0 1 34.06 25.21M34.06 25.21A42.37 42.37 0 0 1 33.83 25.51M33.83 25.51A42.37 42.37 0 0 1 33.58 25.84M33.58 25.84A42.37 42.37 0 0 1 33.46 25.99M33.46 25.99A42.37 42.37 0 0 1 32.99 26.59M31.37 28.49A42.37 42.37 0 0 1 31.35 28.51M31.35 28.51A42.37 42.37 0 0 1 31.33 28.53M31.33 28.53A42.37 42.37 0 0 1 31.23 28.63M31.23 28.63A42.37 42.37 0 0 1 31.2 28.67M31.2 28.67A42.37 42.37 0 0 1 31.19 28.68M30.38 29.54A42.37 42.37 0 0 1 29.95 29.97M29.95 29.97A42.37 42.37 0 0 1 29.51 30.41M27.9 31.89A42.37 42.37 0 0 1 27.58 32.17M27.58 32.17A42.37 42.37 0 0 1 27.25 32.45M27.25 32.45A42.37 42.37 0 0 1 27.01 32.65M24.68 34.44A42.37 42.37 0 0 1 24.46 34.6M24.46 34.6A42.37 42.37 0 0 1 24.34 34.68M24.34 34.68A42.37 42.37 0 0 1 24.24 34.76M24.24 34.76A42.37 42.37 0 0 1 24.09 34.86M22.73 35.76A42.37 42.37 0 0 1 22.48 35.92M17.17 38.74A42.37 42.37 0 0 1 16.88 38.86M16.88 38.86A42.37 42.37 0 0 1 16.65 38.97M16.65 38.97A42.37 42.37 0 0 1 16.43 39.06M16.43 39.06A42.37 42.37 0 0 1 16.29 39.12M14.77 39.71A42.37 42.37 0 0 1 14.58 39.79M14.58 39.79A42.37 42.37 0 0 1 14.26 39.9M12.13 40.6A42.37 42.37 0 0 1 11.96 40.65M8.68 41.47A42.37 42.37 0 0 1 8.54 41.5M6.95 41.8A42.37 42.37 0 0 1 6.81 41.82M6.81 41.82A42.37 42.37 0 0 1 6.67 41.84M6.67 41.84A42.37 42.37 0 0 1 6.54 41.87M6.54 41.87A42.37 42.37 0 0 1 6.43 41.88M6.43 41.88A42.37 42.37 0 0 1 6.29 41.9M4.41 42.14A42.37 42.37 0 0 1 4.32 42.15M4.32 42.15A42.37 42.37 0 0 1 4.22 42.16M4.22 42.16A42.37 42.37 0 0 1 4.08 42.18M1.82 42.33A42.37 42.37 0 0 1 1.69 42.34M1.69 42.34A42.37 42.37 0 0 1 1.46 42.35M1.46 42.35A42.37 42.37 0 0 1 1.24 42.35M1.24 42.35A42.37 42.37 0 0 1 1.12 42.36M-0.51 42.37A42.37 42.37 0 0 1 -0.7 42.37M-0.7 42.37A42.37 42.37 0 0 1 -0.87 42.36M-2.88 42.27A42.37 42.37 0 0 1 -2.94 42.27M-2.94 42.27A42.37 42.37 0 0 1 -3.07 42.26M-3.07 42.26A42.37 42.37 0 0 1 -3.16 42.25M-3.16 42.25A42.37 42.37 0 0 1 -3.25 42.25M-3.25 42.25A42.37 42.37 0 0 1 -3.36 42.24M-5.49 42.02A42.37 42.37 0 0 1 -5.58 42M-5.58 42A42.37 42.37 0 0 1 -5.85 41.97M-7.46 41.71A42.37 42.37 0 0 1 -7.6 41.69M-7.6 41.69A42.37 42.37 0 0 1 -7.76 41.66M-7.76 41.66A42.37 42.37 0 0 1 -7.86 41.64M-9.7 41.25A42.37 42.37 0 0 1 -9.82 41.22M-9.82 41.22A42.37 42.37 0 0 1 -9.95 41.19M-9.95 41.19A42.37 42.37 0 0 1 -10.09 41.15" stroke="#2E8B2E" stroke-width="1.11"/>
<path d="M40.02 -21.73A45.54 45.54 0 0 1 44.78 -8.3M27.24 36.5A45.54 45.54 0 0 1 25.89 37.47M-3.09 45.43A45.54 45.54 0 0 1 -3.84 45.38" stroke="#FAF0E6" stroke-width="4.02"/>
<path d="M45.03 -6.81A45.54 45.54 0 0 1 45.52 -1.27M24.43 38.43A45.54 45.54 0 0 1 23.11 39.24M-5.58 45.2A45.54 45.54 0 0 1 -6.29 45.1" stroke="#6495ED" stroke-width="4.02"/>
<path d="M45.54 0.48A45.54 45.54 0 0 1 45.2 5.55M21.59 40.1A45.54 45.54 0 0 1 20.31 40.76M-8.01 44.83A45.54 45.54 0 0 1 -8.72 44.7" stroke="#CD5C5C" stroke-width="4.02"/>
<path d="M45 6.97A45.54 45.54 0 0 1 43.71 12.78M18.73 41.51A45.54 45.54 0 0 1 17.5 42.04M-10.43 44.33A45.54 45.54 0 0 1 -11.12 44.16" stroke="#BA55D3" stroke-width="4.02"/>
<path d="M43.26 14.22A45.54 45.54 0 0 1 41.95 17.72M15.88 42.68A45.54 45.54 0 0 1 14.71 43.1" stroke="#3CB371" stroke-width="4.02"/>
<path d="M41.31 19.17A45.54 45.54 0 0 1 39.83 22.08M13.04 43.63A45.54 45.54 0 0 1 11.93 43.95" stroke="#7B68EE" stroke-width="4.02"/>
<path d="M38.91 23.66A45.54 45.54 0 0 1 37.48 25.86M10.23 44.37A45.54 45.54 0 0 1 9.18 44.6M-14.6 43.13A45.54 45.54 0 0 1 -19.39 41.2" stroke="#48D1CC" stroke-width="4.02"/>
<path d="M36.7 26.96A45.54 45.54 0 0 1 35.39 28.66M7.46 44.92A45.54 45.54 0 0 1 6.48 45.08" stroke="#008080" stroke-width="4.02"/>
<path d="M34.37 29.88A45.54 45.54 0 0 1 33.52 30.82M4.74 45.29A45.54 45.54 0 0 1 3.81 45.38" stroke="#F4A460" stroke-width="4.02"/>
<path d="M32.65 31.75A45.54 45.54 0 0 1 31.28 33.1M2.07 45.49A45.54 45.54 0 0 1 1.21 45.52" stroke="#6B8E23" stroke-width="4.02"/>
<path d="M50.45 -27.39A57.4 57.4 0 0 1 56.44 -10.46" stroke="#222" stroke-width="1.21"/>
<path d="M-0.4 -57.9L-0.4 -56.8M5.6 -57.6L5.5 -56.5M11.6 -56.7L11.4 -55.6M17.4 -55.2L17.1 -54.2M23.1 -53.1L22.6 -52.1M28.5 -50.4L27.9 -49.5M33.6 -47.2L32.9 -46.3M38.3 -43.4L37.6 -42.6M42.6 -39.2L41.8 -38.5M46.4 -34.6L45.6 -33.9M49.8 -29.6L48.8 -29" stroke="#111" stroke-width="0.7"/>
</g>
<g class="t">
<text text-anchor="end" transform="translate(-0.4 -56.1) rotate(-90.4)">0%</text>
<text text-anchor="end" transform="translate(5.4 -55.8) rotate(-84.4)">10%</text>
<text text-anchor="end" transform="translate(11.2 -55) rotate(-78.5)">20%</text>
<text text-anchor="end" transform="translate(16.9 -53.5) rotate(-72.5)">30%</text>
<text text-anchor="end" transform="translate(22.3 -51.4) rotate(-66.5)">40%</text>
<text text-anchor="end" transform="translate(27.6 -48.8) rotate(-60.5)">50%</text>
<text text-anchor="end" transform="translate(32.5 -45.7) rotate(-54.6)">60%</text>
<text text-anchor="end" transform="translate(37.1 -42.1) rotate(-48.6)">70%</text>
<text text-anchor="end" transform="translate(41.3 -38) rotate(-42.6)">80%</text>
<text text-anchor="end" transform="translate(45 -33.5) rotate(-36.7)">90%</text>
<text text-anchor="end" transform="translate(48.2 -28.6) rotate(-30.7)">100%</text>
<text text-anchor="end" font-size="0.9" transform="translate(50.9 -27.6) rotate(-28.5)">0%</text>
<text text-anchor="end" font-size="0.9" transform="translate(52.5 -24.4) rotate(-24.9)">20%</text>
<text text-anchor="end" font-size="0.9" transform="translate(53.9 -21) rotate(-21.3)">40%</text>
<text text-anchor="end" font-size="0.9" transform="translate(55.2 -17.6) rotate(-17.7)">60%</text>
<text text-anchor="end" font-size="0.9" transform="translate(56.2 -14.1) rotate(-14.1)">80%</text>
<text text-anchor="end" font-size="0.9" transform="translate(56.9 -10.6) rotate(-10.5)">100%</text>
<text text-anchor="middle" font-size="3.7" transform="translate(-38.5 57.8) rotate(-146.3)">8w-1</text>
<text text-anchor="middle" font-size="3.7" transform="translate(-52.3 45.7) rotate(-131.1)">8w-2</text>
<text text-anchor="middle" font-size="3.7" transform="translate(-62.5 30.3) rotate(-115.9)">8w-3</text>
<text text-anchor="middle" font-size="3.7" transform="translate(-68.3 12.8) rotate(-100.6)">8w-4</text>
<text text-anchor="middle" font-size="3.7" transform="translate(-69.2 -5.6) rotate(-85.4)">8w-5</text>
<text text-anchor="middle" font-size="3.7" transform="translate(-65.4 -23.5) rotate(-70.2)">Con-8w-1</text>
<text text-anchor="middle" font-size="3.7" transform="translate(-56.9 -39.9) rotate(-55)">Con-8w-2</text>
<text text-anchor="middle" font-size="3.7" transform="translate(-44.4 -53.4) rotate(-39.7)">Con-8w-3</text>
<text text-anchor="middle" font-size="3.7" transform="translate(-28.8 -63.2) rotate(-24.5)">Con-8w-4</text>
<text text-anchor="middle" font-size="3.7" transform="translate(-11.2 -68.6) rotate(-9.3)">Con-8w-5</text>
</g>
</g>
<text x="570" y="367.97" font-size="4.91" class="k" textLength="28.4" lengthAdjust="spacingAndGlyphs">Lactobacillus</text>
<text x="597" y="402.78" font-size="4.95" class="k" textLength="57" lengthAdjust="spacingAndGlyphs">norank_f_Muribaculaceae</text>
<text x="601.6" y="420.76" font-size="4.88" class="k" textLength="16.8" lengthAdjust="spacingAndGlyphs">Bacillus</text>
<text x="601.6" y="432.18" font-size="4.95" class="k" textLength="70.4" lengthAdjust="spacingAndGlyphs">unclassified_f_Lachnospiraceae</text>
<text x="599.6" y="443.98" font-size="5.51" class="k" textLength="28.8" lengthAdjust="spacingAndGlyphs">Odoribacter</text>
<text x="597" y="452.33" font-size="5.37" class="k" textLength="20" lengthAdjust="spacingAndGlyphs">Alistipes</text>
<text x="594" y="459.17" font-size="4.91" class="k" textLength="76.4" lengthAdjust="spacingAndGlyphs">Lachnospiraceae_NK4A136_group</text>
<text x="590" y="466.38" font-size="4.95" class="k" textLength="56.4" lengthAdjust="spacingAndGlyphs">Prevotellaceae_UCG-001</text>
<text x="587" y="472.78" font-size="4.95" class="k" textLength="66.6" lengthAdjust="spacingAndGlyphs">unclassified_f__Rikenellaceae</text>
<text x="586" y="479.19" font-size="4.97" class="k" textLength="90" lengthAdjust="spacingAndGlyphs">norank_f_norank_o_Clostridia_UCG-014</text>
<text x="454.8" y="524.5" font-size="13.6" class="s" font-weight="bold" fill="#000">N</text>
<g transform="translate(531.6 593.5)">
<g class="rb">
<path class="c0" d="M5 -41.5A41.8 41.8 0 0 1 7.4 -41.1Q0 0 -17.7 39.7A43.5 43.5 0 0 1 -20.3 38.4Q0 0 5 -41.5Z"/>
<path class="c0" d="M7.4 -41.1A41.8 41.8 0 0 1 13.5 -39.5Q0 0 -26.5 34.5A43.5 43.5 0 0 1 -30.3 31.2Q0 0 7.4 -41.1Z"/>
<path class="c0" d="M13.5 -39.5A41.8 41.8 0 0 1 18.5 -37.4Q0 0 -35.5 25.1A43.5 43.5 0 0 1 -38.3 20.6Q0 0 13.5 -39.5Z"/>
<path class="c0" d="M18.5 -37.4A41.8 41.8 0 0 1 21.5 -35.8Q0 0 -40.6 15.6A43.5 43.5 0 0 1 -41.9 11.5Q0 0 18.5 -37.4Z"/>
<path class="c0" d="M33 -25.6A41.8 41.8 0 0 1 35.5 -21.9Q0 0 -43.4 2.9A43.5 43.5 0 0 1 -43.4 -1.9Q0 0 33 -25.6Z"/>
<path class="c0" d="M0 -41.8A41.8 41.8 0 0 1 5 -41.5Q0 0 -42.5 -9.3A43.5 43.5 0 0 1 -41.1 -14.2Q0 0 0 -41.8Z"/>
<path class="c0" d="M21.5 -35.8A41.8 41.8 0 0 1 25.3 -33.2Q0 0 -38 -21.1A43.5 43.5 0 0 1 -35.7 -24.8Q0 0 21.5 -35.8Z"/>
<path class="c0" d="M25.3 -33.2A41.8 41.8 0 0 1 28.8 -30.2Q0 0 -31.3 -30.2A43.5 43.5 0 0 1 -26.9 -34.1Q0 0 25.3 -33.2Z"/>
<path class="c0" d="M28.8 -30.2A41.8 41.8 0 0 1 33 -25.6Q0 0 -23.2 -36.7A43.5 43.5 0 0 1 -19.6 -38.8Q0 0 28.8 -30.2Z"/>
<path class="c0" d="M35.5 -21.9A41.8 41.8 0 0 1 38.9 -15.2Q0 0 -12 -41.8A43.5 43.5 0 0 1 -5.5 -43.1Q0 0 35.5 -21.9Z"/>
<path class="c1" d="M39.8 -12.7A41.8 41.8 0 0 1 40.2 -11.3Q0 0 -20.3 38.4A43.5 43.5 0 0 1 -21.8 37.6Q0 0 39.8 -12.7Z"/>
<path class="c1" d="M40.2 -11.3A41.8 41.8 0 0 1 40.3 -10.8Q0 0 -30.3 31.2A43.5 43.5 0 0 1 -30.6 30.8Q0 0 40.2 -11.3Z"/>
<path class="c1" d="M40.3 -10.8A41.8 41.8 0 0 1 40.4 -10.4Q0 0 -38.3 20.6A43.5 43.5 0 0 1 -38.5 20.2Q0 0 40.3 -10.8Z"/>
<path class="c1" d="M40.4 -10.4A41.8 41.8 0 0 1 40.6 -9.5Q0 0 -41.9 11.5A43.5 43.5 0 0 1 -42.2 10.4Q0 0 40.4 -10.4Z"/>
<path class="c1" d="M41.2 -6.6A41.8 41.8 0 0 1 41.3 -6.1Q0 0 -43.3 4A43.5 43.5 0 0 1 -43.3 3.4Q0 0 41.2 -6.6Z"/>
<path class="c1" d="M39.7 -13A41.8 41.8 0 0 1 39.8 -12.7Q0 0 -42.5 -8.9A43.5 43.5 0 0 1 -42.5 -9.3Q0 0 39.7 -13Z"/>
<path class="c1" d="M40.6 -9.5A41.8 41.8 0 0 1 41 -8Q0 0 -39 -19.2A43.5 43.5 0 0 1 -38.3 -20.5Q0 0 40.6 -9.5Z"/>
<path class="c1" d="M41 -8A41.8 41.8 0 0 1 41.1 -7.1Q0 0 -32.3 -29.1A43.5 43.5 0 0 1 -31.5 -30Q0 0 41 -8Z"/>
<path class="c1" d="M41.1 -7.1A41.8 41.8 0 0 1 41.2 -6.6Q0 0 -19.6 -38.8A43.5 43.5 0 0 1 -19.3 -39Q0 0 41.1 -7.1Z"/>
<path class="c1" d="M41.3 -6.1A41.8 41.8 0 0 1 41.4 -5.6Q0 0 -12.4 -41.7A43.5 43.5 0 0 1 -12 -41.8Q0 0 41.3 -6.1Z"/>
<path class="c2" d="M41.6 -4A41.8 41.8 0 0 1 41.7 -2.6Q0 0 -16.1 40.4A43.5 43.5 0 0 1 -17.7 39.7Q0 0 41.6 -4Z"/>
<path class="c2" d="M41.7 -2.6A41.8 41.8 0 0 1 41.7 -1Q0 0 -30.6 30.8A43.5 43.5 0 0 1 -31.5 29.9Q0 0 41.7 -2.6Z"/>
<path class="c2" d="M41.7 -1A41.8 41.8 0 0 1 41.8 0.2Q0 0 -34.8 26A43.5 43.5 0 0 1 -35.5 25.1Q0 0 41.7 -1Z"/>
<path class="c2" d="M41.8 0.2A41.8 41.8 0 0 1 41.7 0.6Q0 0 -42.2 10.4A43.5 43.5 0 0 1 -42.3 9.8Q0 0 41.8 0.2Z"/>
<path class="c2" d="M41.7 0.6A41.8 41.8 0 0 1 41.7 1.1Q0 0 -43.3 3.4A43.5 43.5 0 0 1 -43.4 2.9Q0 0 41.7 0.6Z"/>
<path class="c2" d="M41.7 1.1A41.8 41.8 0 0 1 41.7 2.1Q0 0 -42.7 -7.9A43.5 43.5 0 0 1 -42.5 -8.9Q0 0 41.7 1.1Z"/>
<path class="c2" d="M41.7 2.1A41.8 41.8 0 0 1 41.7 2.8Q0 0 -38.3 -20.5A43.5 43.5 0 0 1 -38 -21.1Q0 0 41.7 2.1Z"/>
<path class="c2" d="M41.7 2.8A41.8 41.8 0 0 1 41.6 2.9Q0 0 -31.5 -30A43.5 43.5 0 0 1 -31.3 -30.2Q0 0 41.7 2.8Z"/>
<path class="c2" d="M41.6 2.9A41.8 41.8 0 0 1 41.6 3.7Q0 0 -19.3 -39A43.5 43.5 0 0 1 -18.8 -39.2Q0 0 41.6 2.9Z"/>
<path class="c2" d="M41.6 3.7A41.8 41.8 0 0 1 41.5 4.4Q0 0 -5.5 -43.1A43.5 43.5 0 0 1 -4.9 -43.2Q0 0 41.6 3.7Z"/>
<path class="c3" d="M41.1 7.4A41.8 41.8 0 0 1 40.9 8.6Q0 0 -21.8 37.6A43.5 43.5 0 0 1 -23.1 36.8Q0 0 41.1 7.4Z"/>
<path class="c3" d="M40.9 8.6A41.8 41.8 0 0 1 40.5 10Q0 0 -31.5 29.9A43.5 43.5 0 0 1 -32.3 29.1Q0 0 40.9 8.6Z"/>
<path class="c3" d="M40.5 10A41.8 41.8 0 0 1 40.3 10.8Q0 0 -38.5 20.2A43.5 43.5 0 0 1 -38.8 19.5Q0 0 40.5 10Z"/>
<path class="c3" d="M40.3 10.8A41.8 41.8 0 0 1 40.2 11.2Q0 0 -42.3 9.8A43.5 43.5 0 0 1 -42.5 9.2Q0 0 40.3 10.8Z"/>
<path class="c3" d="M40.2 11.2A41.8 41.8 0 0 1 39.9 12.3Q0 0 -43.4 -1.9A43.5 43.5 0 0 1 -43.4 -3.1Q0 0 40.2 11.2Z"/>
<path class="c3" d="M41.3 6.1A41.8 41.8 0 0 1 41.2 6.5Q0 0 -41.1 -14.2A43.5 43.5 0 0 1 -41 -14.6Q0 0 41.3 6.1Z"/>
<path class="c3" d="M41.2 6.5A41.8 41.8 0 0 1 41.2 6.7Q0 0 -35.7 -24.8A43.5 43.5 0 0 1 -35.5 -25Q0 0 41.2 6.5Z"/>
<path class="c3" d="M41.2 6.7L41.2 6.9Q0 0 -26.9 -34.1L-26.7 -34.3Q0 0 41.2 6.7Z"/>
<path class="c3" d="M41.2 6.9A41.8 41.8 0 0 1 41.1 7.1Q0 0 -18.8 -39.2A43.5 43.5 0 0 1 -18.7 -39.2Q0 0 41.2 6.9Z"/>
<path class="c3" d="M41.1 7.1A41.8 41.8 0 0 1 41.1 7.4Q0 0 -4.9 -43.2A43.5 43.5 0 0 1 -4.7 -43.2Q0 0 41.1 7.1Z"/>
<path class="c4" d="M39.5 13.7A41.8 41.8 0 0 1 39.4 13.9Q0 0 -23.1 36.8A43.5 43.5 0 0 1 -23.3 36.7Q0 0 39.5 13.7Z"/>
<path class="c4" d="M39.4 13.9A41.8 41.8 0 0 1 39.3 14.1Q0 0 -32.3 29.1A43.5 43.5 0 0 1 -32.5 28.9Q0 0 39.4 13.9Z"/>
<path class="c4" d="M39.3 14.1A41.8 41.8 0 0 1 39.2 14.4Q0 0 -38.8 19.5A43.5 43.5 0 0 1 -39 19.3Q0 0 39.3 14.1Z"/>
<path class="c4" d="M39.2 14.4A41.8 41.8 0 0 1 39 14.9Q0 0 -42.5 9.2A43.5 43.5 0 0 1 -42.6 8.6Q0 0 39.2 14.4Z"/>
<path class="c4" d="M39 14.9A41.8 41.8 0 0 1 38.7 15.6Q0 0 -43.4 -3.1A43.5 43.5 0 0 1 -43.3 -4Q0 0 39 14.9Z"/>
<path class="c4" d="M38.7 15.6L38.7 15.8Q0 0 -41 -14.6L-40.9 -14.7Q0 0 38.7 15.6Z"/>
<path class="c4" d="M38.7 15.8L38.6 15.8Q0 0 -35.5 -25L-35.5 -25.1Q0 0 38.7 15.8Z"/>
<path class="c4" d="M38.6 15.8L38.6 15.9Q0 0 -26.7 -34.3L-26.7 -34.3Q0 0 38.6 15.8Z"/>
<path class="c4" d="M38.6 15.9A41.8 41.8 0 0 1 38.5 16.2Q0 0 -18.7 -39.2A43.5 43.5 0 0 1 -18.5 -39.3Q0 0 38.6 15.9Z"/>
<path class="c4" d="M38.5 16.2L38.4 16.3Q0 0 -4.7 -43.2L-4.6 -43.2Q0 0 38.5 16.2Z"/>
<path class="c5" d="M37.8 17.6A41.8 41.8 0 0 1 37.7 17.8Q0 0 -23.3 36.7A43.5 43.5 0 0 1 -23.5 36.5Q0 0 37.8 17.6Z"/>
<path class="c5" d="M37.7 17.8A41.8 41.8 0 0 1 37.6 18.1Q0 0 -32.5 28.9A43.5 43.5 0 0 1 -32.6 28.8Q0 0 37.7 17.8Z"/>
<path class="c5" d="M37.6 18.1A41.8 41.8 0 0 1 37.4 18.5Q0 0 -39 19.3A43.5 43.5 0 0 1 -39.1 18.9Q0 0 37.6 18.1Z"/>
<path class="c5" d="M37.4 18.5A41.8 41.8 0 0 1 37.4 18.6Q0 0 -42.6 8.6A43.5 43.5 0 0 1 -42.7 8.4Q0 0 37.4 18.5Z"/>
<path class="c5" d="M37.4 18.6L37.3 18.7Q0 0 -43.3 -4L-43.3 -4.1Q0 0 37.4 18.6Z"/>
<path class="c5" d="M37.3 18.7L37.2 18.9Q0 0 -40.9 -14.7L-40.8 -14.9Q0 0 37.3 18.7Z"/>
<path class="c5" d="M37.2 18.9A41.8 41.8 0 0 1 37 19.3Q0 0 -35.5 -25.1A43.5 43.5 0 0 1 -35.3 -25.4Q0 0 37.2 18.9Z"/>
<path class="c5" d="M37 19.3A41.8 41.8 0 0 1 36.9 19.5Q0 0 -26.7 -34.3A43.5 43.5 0 0 1 -26.4 -34.5Q0 0 37 19.3Z"/>
<path class="c5" d="M36.9 19.5A41.8 41.8 0 0 1 36.8 19.8Q0 0 -18.5 -39.3A43.5 43.5 0 0 1 -18.3 -39.4Q0 0 36.9 19.5Z"/>
<path class="c5" d="M36.8 19.8A41.8 41.8 0 0 1 36.6 20.1Q0 0 -4.6 -43.2A43.5 43.5 0 0 1 -4.3 -43.3Q0 0 36.8 19.8Z"/>
<path class="c6" d="M34.7 23.2L34.6 23.3Q0 0 -23.5 36.5L-23.7 36.5Q0 0 34.7 23.2Z"/>
<path class="c6" d="M34.6 23.3L34.6 23.3Q0 0 -32.6 28.8L-32.6 28.7Q0 0 34.6 23.3Z"/>
<path class="c6" d="M34.6 23.3L34.6 23.4Q0 0 -39.1 18.9L-39.2 18.8Q0 0 34.6 23.3Z"/>
<path class="c6" d="M34.6 23.4L34.6 23.4Q0 0 -42.7 8.4L-42.7 8.3Q0 0 34.6 23.4Z"/>
<path class="c6" d="M34.6 23.4L34.5 23.5Q0 0 -43.3 -4.1L-43.3 -4.2Q0 0 34.6 23.4Z"/>
<path class="c6" d="M35.9 21.3A41.8 41.8 0 0 1 35.8 21.6Q0 0 -40.8 -14.9A43.5 43.5 0 0 1 -40.7 -15.1Q0 0 35.9 21.3Z"/>
<path class="c6" d="M35.8 21.6A41.8 41.8 0 0 1 35.6 21.8Q0 0 -35.3 -25.4A43.5 43.5 0 0 1 -35.1 -25.6Q0 0 35.8 21.6Z"/>
<path class="c6" d="M35.6 21.8A41.8 41.8 0 0 1 35.4 22.2Q0 0 -26.4 -34.5A43.5 43.5 0 0 1 -25.9 -34.9Q0 0 35.6 21.8Z"/>
<path class="c6" d="M35.4 22.2A41.8 41.8 0 0 1 35 22.8Q0 0 -18.3 -39.4A43.5 43.5 0 0 1 -17.9 -39.6Q0 0 35.4 22.2Z"/>
<path class="c6" d="M35 22.8A41.8 41.8 0 0 1 34.7 23.2Q0 0 -4.3 -43.3A43.5 43.5 0 0 1 -3.9 -43.3Q0 0 35 22.8Z"/>
<path class="c7" d="M33.6 24.7L33.6 24.7Q0 0 -23.7 36.5L-23.7 36.4Q0 0 33.6 24.7Z"/>
<path class="c7" d="M33.6 24.7L33.6 24.8Q0 0 -32.6 28.7L-32.7 28.7Q0 0 33.6 24.7Z"/>
<path class="c7" d="M33.6 24.8L33.6 24.8Q0 0 -39.2 18.8L-39.2 18.8Q0 0 33.6 24.8Z"/>
<path class="c7" d="M33.6 24.8L33.5 24.9Q0 0 -42.7 8.3L-42.7 8.3Q0 0 33.6 24.8Z"/>
<path class="c7" d="M33.5 24.9L33.5 24.9Q0 0 -43.3 -4.2L-43.3 -4.2Q0 0 33.5 24.9Z"/>
<path class="c7" d="M33.5 24.9A41.8 41.8 0 0 1 33.1 25.5Q0 0 -40.7 -15.1A43.5 43.5 0 0 1 -40.5 -15.9Q0 0 33.5 24.9Z"/>
<path class="c7" d="M33.1 25.5A41.8 41.8 0 0 1 32.9 25.7Q0 0 -35.1 -25.6A43.5 43.5 0 0 1 -35 -25.8Q0 0 33.1 25.5Z"/>
<path class="c7" d="M32.9 25.7A41.8 41.8 0 0 1 32.8 25.9Q0 0 -25.9 -34.9A43.5 43.5 0 0 1 -25.6 -35.1Q0 0 32.9 25.7Z"/>
<path class="c7" d="M32.8 25.9A41.8 41.8 0 0 1 32.4 26.3Q0 0 -17.9 -39.6A43.5 43.5 0 0 1 -17.6 -39.8Q0 0 32.8 25.9Z"/>
<path class="c7" d="M32.4 26.3L32.3 26.4Q0 0 -3.9 -43.3L-3.8 -43.3Q0 0 32.4 26.3Z"/>
<path class="c8" d="M31.4 27.5A41.8 41.8 0 0 1 31.1 27.9Q0 0 -23.7 36.4A43.5 43.5 0 0 1 -24.2 36.1Q0 0 31.4 27.5Z"/>
<path class="c8" d="M31.1 27.9L31 28Q0 0 -32.7 28.7L-32.7 28.6Q0 0 31.1 27.9Z"/>
<path class="c8" d="M31 28L30.9 28.1Q0 0 -39.2 18.8L-39.3 18.7Q0 0 31 28Z"/>
<path class="c8" d="M30.9 28.1L30.9 28.1Q0 0 -42.7 8.3L-42.7 8.2Q0 0 30.9 28.1Z"/>
<path class="c8" d="M30.9 28.1L30.8 28.2Q0 0 -43.3 -4.2L-43.2 -4.4Q0 0 30.9 28.1Z"/>
<path class="c8" d="M30.8 28.2L30.7 28.3Q0 0 -40.5 -15.9L-40.4 -16Q0 0 30.8 28.2Z"/>
<path class="c8" d="M30.7 28.3L30.5 28.5Q0 0 -35 -25.8L-34.8 -26Q0 0 30.7 28.3Z"/>
<path class="c8" d="M30.5 28.5A41.8 41.8 0 0 1 30.4 28.6Q0 0 -25.6 -35.1A43.5 43.5 0 0 1 -25.4 -35.2Q0 0 30.5 28.5Z"/>
<path class="c8" d="M30.4 28.6A41.8 41.8 0 0 1 30.2 28.8Q0 0 -17.6 -39.8A43.5 43.5 0 0 1 -17.4 -39.8Q0 0 30.4 28.6Z"/>
<path class="c8" d="M30.2 28.8A41.8 41.8 0 0 1 30 29Q0 0 -3.8 -43.3A43.5 43.5 0 0 1 -3.5 -43.3Q0 0 30.2 28.8Z"/>
<path class="c9" d="M28.8 30.2L28.8 30.2Q0 0 -24.2 36.1L-24.3 36.1Q0 0 28.8 30.2Z"/>
<path class="c9" d="M28.8 30.2L28.7 30.4Q0 0 -32.7 28.6L-32.8 28.5Q0 0 28.8 30.2Z"/>
<path class="c9" d="M28.7 30.4A41.8 41.8 0 0 1 28.4 30.6Q0 0 -39.3 18.7A43.5 43.5 0 0 1 -39.4 18.3Q0 0 28.7 30.4Z"/>
<path class="c9" d="M28.4 30.6A41.8 41.8 0 0 1 28.1 30.8Q0 0 -42.7 8.2A43.5 43.5 0 0 1 -42.8 7.8Q0 0 28.4 30.6Z"/>
<path class="c9" d="M28.1 30.8A41.8 41.8 0 0 1 27.7 31.2Q0 0 -43.2 -4.4A43.5 43.5 0 0 1 -43.2 -5Q0 0 28.1 30.8Z"/>
<path class="c9" d="M29 30L29 30.1Q0 0 -40.4 -16L-40.4 -16Q0 0 29 30Z"/>
<path class="c9" d="M29 30.1L28.9 30.1Q0 0 -34.8 -26L-34.8 -26Q0 0 29 30.1Z"/>
<path class="c9" d="M28.9 30.1L28.9 30.2Q0 0 -25.4 -35.2L-25.4 -35.3Q0 0 28.9 30.1Z"/>
<path class="c9" d="M28.9 30.2L28.9 30.2Q0 0 -17.4 -39.8L-17.4 -39.8Q0 0 28.9 30.2Z"/>
<path class="c9" d="M28.9 30.2L28.8 30.2Q0 0 -3.5 -43.3L-3.5 -43.3Q0 0 28.9 30.2Z"/>
<path class="c10" d="M26.8 32A41.8 41.8 0 0 1 26.4 32.3Q0 0 -39.4 18.3A43.5 43.5 0 0 1 -39.6 17.8Q0 0 26.8 32Z"/>
<path class="c10" d="M26.4 32.3A41.8 41.8 0 0 1 26.1 32.6Q0 0 -43.2 -5A43.5 43.5 0 0 1 -43.1 -5.5Q0 0 26.4 32.3Z"/>
<path class="c10" d="M26.1 32.6A41.8 41.8 0 0 1 25.7 32.9Q0 0 -40.4 -16A43.5 43.5 0 0 1 -40.2 -16.5Q0 0 26.1 32.6Z"/>
<path class="c10" d="M25.7 32.9A41.8 41.8 0 0 1 25.5 33.1Q0 0 -3.5 -43.3A43.5 43.5 0 0 1 -3.3 -43.3Q0 0 25.7 32.9Z"/>
<path class="c0" d="M24.2 34L24 34.2Q0 0 -32.8 28.5L-32.9 28.4Q0 0 24.2 34Z"/>
<path class="c0" d="M24 34.2A41.8 41.8 0 0 1 23.8 34.3Q0 0 -42.8 7.8A43.5 43.5 0 0 1 -42.8 7.5Q0 0 24 34.2Z"/>
<path class="c0" d="M23.8 34.3A41.8 41.8 0 0 1 23.6 34.4Q0 0 -43.1 -5.5A43.5 43.5 0 0 1 -43.1 -5.8Q0 0 23.8 34.3Z"/>
<path class="c0" d="M23.6 34.4A41.8 41.8 0 0 1 23.4 34.6Q0 0 -40.2 -16.5A43.5 43.5 0 0 1 -40.1 -16.8Q0 0 23.6 34.4Z"/>
<path class="c0" d="M23.4 34.6A41.8 41.8 0 0 1 23.2 34.7Q0 0 -34.8 -26A43.5 43.5 0 0 1 -34.6 -26.3Q0 0 23.4 34.6Z"/>
<path class="c0" d="M23.2 34.7L23 34.8Q0 0 -17.4 -39.8L-17.2 -39.9Q0 0 23.2 34.7Z"/>
<path class="c0" d="M23 34.8A41.8 41.8 0 0 1 22.8 35Q0 0 -3.3 -43.3A43.5 43.5 0 0 1 -3.1 -43.4Q0 0 23 34.8Z"/>
<path class="c1" d="M20.7 36.2A41.8 41.8 0 0 1 20.4 36.4Q0 0 -32.9 28.4A43.5 43.5 0 0 1 -33.1 28.2Q0 0 20.7 36.2Z"/>
<path class="c1" d="M20.4 36.4A41.8 41.8 0 0 1 20.1 36.6Q0 0 -42.8 7.5A43.5 43.5 0 0 1 -42.9 7.1Q0 0 20.4 36.4Z"/>
<path class="c1" d="M21.5 35.8A41.8 41.8 0 0 1 21.1 36Q0 0 -34.6 -26.3A43.5 43.5 0 0 1 -34.4 -26.5Q0 0 21.5 35.8Z"/>
<path class="c1" d="M21.1 36A41.8 41.8 0 0 1 20.7 36.2Q0 0 -17.2 -39.9A43.5 43.5 0 0 1 -17 -40Q0 0 21.1 36Z"/>
<path class="c2" d="M18.7 37.3A41.8 41.8 0 0 1 18.5 37.4Q0 0 -24.3 36.1A43.5 43.5 0 0 1 -24.5 35.9Q0 0 18.7 37.3Z"/>
<path class="c2" d="M18.5 37.4L18.4 37.5Q0 0 -39.6 17.8L-39.7 17.7Q0 0 18.5 37.4Z"/>
<path class="c2" d="M18.4 37.5A41.8 41.8 0 0 1 18.1 37.6Q0 0 -42.9 7.1A43.5 43.5 0 0 1 -42.9 6.8Q0 0 18.4 37.5Z"/>
<path class="c2" d="M18.1 37.6A41.8 41.8 0 0 1 17.8 37.8Q0 0 -40.1 -16.8A43.5 43.5 0 0 1 -40 -17.1Q0 0 18.1 37.6Z"/>
<path class="c2" d="M17.8 37.8A41.8 41.8 0 0 1 17.4 37.9Q0 0 -17 -40A43.5 43.5 0 0 1 -16.7 -40.1Q0 0 17.8 37.8Z"/>
<path class="c3" d="M16 38.6A41.8 41.8 0 0 1 15.6 38.7Q0 0 -33.1 28.2A43.5 43.5 0 0 1 -33.3 28Q0 0 16 38.6Z"/>
<path class="c3" d="M15.6 38.7A41.8 41.8 0 0 1 15.4 38.8Q0 0 -42.9 6.8A43.5 43.5 0 0 1 -43 6.4Q0 0 15.6 38.7Z"/>
<path class="c3" d="M15.4 38.8A41.8 41.8 0 0 1 14.9 39Q0 0 -16.7 -40.1A43.5 43.5 0 0 1 -16.4 -40.2Q0 0 15.4 38.8Z"/>
<path class="c3" d="M14.9 39L14.7 39.1Q0 0 -3.1 -43.4L-2.9 -43.4Q0 0 14.9 39Z"/>
<path class="c4" d="M12.8 39.8A41.8 41.8 0 0 1 12.5 39.8Q0 0 -33.3 28A43.5 43.5 0 0 1 -33.4 27.8Q0 0 12.8 39.8Z"/>
<path class="c4" d="M12.5 39.8A41.8 41.8 0 0 1 12.2 39.9Q0 0 -39.7 17.7A43.5 43.5 0 0 1 -39.8 17.4Q0 0 12.5 39.8Z"/>
<path class="c4" d="M12.2 39.9L12.1 40Q0 0 -43.1 -5.8L-43.1 -5.9Q0 0 12.2 39.9Z"/>
<path class="c4" d="M13.2 39.6L13.1 39.7Q0 0 -40 -17.1L-39.9 -17.3Q0 0 13.2 39.6Z"/>
<path class="c4" d="M13.1 39.7L12.9 39.7Q0 0 -34.4 -26.5L-34.3 -26.7Q0 0 13.1 39.7Z"/>
<path class="c4" d="M12.9 39.7L12.8 39.8Q0 0 -2.9 -43.4L-2.8 -43.4Q0 0 12.9 39.7Z"/>
<path class="c5" d="M10.5 40.4A41.8 41.8 0 0 1 10.2 40.5Q0 0 -33.4 27.8A43.5 43.5 0 0 1 -33.6 27.6Q0 0 10.5 40.4Z"/>
<path class="c5" d="M10.2 40.5A41.8 41.8 0 0 1 10 40.5Q0 0 -39.8 17.4A43.5 43.5 0 0 1 -39.9 17.2Q0 0 10.2 40.5Z"/>
<path class="c5" d="M10 40.5L9.8 40.6Q0 0 -34.3 -26.7L-34.2 -26.8Q0 0 10 40.5Z"/>
<path class="c5" d="M9.8 40.6A41.8 41.8 0 0 1 9.6 40.6Q0 0 -25.4 -35.3A43.5 43.5 0 0 1 -25.2 -35.4Q0 0 9.8 40.6Z"/>
<path class="c5" d="M9.6 40.6L9.4 40.7Q0 0 -2.8 -43.4L-2.6 -43.4Q0 0 9.6 40.6Z"/>
<path class="c6" d="M7.9 41L7.7 41Q0 0 -33.6 27.6L-33.7 27.5Q0 0 7.9 41Z"/>
<path class="c6" d="M7.7 41A41.8 41.8 0 0 1 7.5 41.1Q0 0 -39.9 17.2A43.5 43.5 0 0 1 -40 17Q0 0 7.7 41Z"/>
<path class="c6" d="M7.5 41.1A41.8 41.8 0 0 1 7.2 41.1Q0 0 -43 6.4A43.5 43.5 0 0 1 -43 6.1Q0 0 7.5 41.1Z"/>
<path class="c6" d="M7.2 41.1L7.1 41.1Q0 0 -43.1 -5.9L-43 -6Q0 0 7.2 41.1Z"/>
<path class="c6" d="M7.1 41.1L6.9 41.2Q0 0 -34.2 -26.8L-34.1 -26.9Q0 0 7.1 41.1Z"/>
<path class="c6" d="M6.9 41.2L6.8 41.2Q0 0 -16.4 -40.2L-16.3 -40.3Q0 0 6.9 41.2Z"/>
<path class="c7" d="M4.4 41.5L4.2 41.5Q0 0 -43 6.1L-43.1 5.9Q0 0 4.4 41.5Z"/>
<path class="c7" d="M5.2 41.4A41.8 41.8 0 0 1 5 41.5Q0 0 -39.9 -17.3A43.5 43.5 0 0 1 -39.8 -17.5Q0 0 5.2 41.4Z"/>
<path class="c7" d="M5 41.5L4.9 41.5Q0 0 -34.1 -26.9L-34 -27Q0 0 5 41.5Z"/>
<path class="c7" d="M4.9 41.5A41.8 41.8 0 0 1 4.7 41.5Q0 0 -25.2 -35.4A43.5 43.5 0 0 1 -24.9 -35.6Q0 0 4.9 41.5Z"/>
<path class="c7" d="M4.7 41.5L4.5 41.5Q0 0 -16.3 -40.3L-16.2 -40.3Q0 0 4.7 41.5Z"/>
<path class="c7" d="M4.5 41.5L4.4 41.5Q0 0 -2.6 -43.4L-2.5 -43.4Q0 0 4.5 41.5Z"/>
<path class="c8" d="M2.6 41.7L2.5 41.7Q0 0 -24.5 35.9L-24.6 35.8Q0 0 2.6 41.7Z"/>
<path class="c8" d="M2.5 41.7A41.8 41.8 0 0 1 2.3 41.7Q0 0 -33.7 27.5A43.5 43.5 0 0 1 -33.8 27.3Q0 0 2.5 41.7Z"/>
<path class="c8" d="M2.3 41.7A41.8 41.8 0 0 1 2.1 41.7Q0 0 -43.1 5.9A43.5 43.5 0 0 1 -43.1 5.7Q0 0 2.3 41.7Z"/>
<path class="c8" d="M2.1 41.7L1.9 41.7Q0 0 -39.8 -17.5L-39.7 -17.7Q0 0 2.1 41.7Z"/>
<path class="c8" d="M1.9 41.7L1.7 41.7Q0 0 -2.5 -43.4L-2.4 -43.4Q0 0 1.9 41.7Z"/>
<path class="c9" d="M0.1 41.8A41.8 41.8 0 0 1 -0.1 41.8Q0 0 -24.6 35.8A43.5 43.5 0 0 1 -24.8 35.7Q0 0 0.1 41.8Z"/>
<path class="c9" d="M-0.1 41.8L-0.2 41.8Q0 0 -43.1 5.7L-43.1 5.5Q0 0 -0.1 41.8Z"/>
<path class="c9" d="M-0.2 41.8A41.8 41.8 0 0 1 -0.5 41.7Q0 0 -43 -6A43.5 43.5 0 0 1 -43 -6.3Q0 0 -0.2 41.8Z"/>
<path class="c9" d="M-0.5 41.7A41.8 41.8 0 0 1 -0.7 41.7Q0 0 -16.2 -40.3A43.5 43.5 0 0 1 -16.1 -40.4Q0 0 -0.5 41.7Z"/>
<path class="c10" d="M-2.9 41.7L-3 41.6Q0 0 -24.8 35.7L-24.9 35.6Q0 0 -2.9 41.7Z"/>
<path class="c10" d="M-3 41.6L-3.1 41.6Q0 0 -43 -6.3L-43 -6.4Q0 0 -3 41.6Z"/>
<path class="c10" d="M-2.3 41.7L-2.5 41.7Q0 0 -34 -27L-34 -27.1Q0 0 -2.3 41.7Z"/>
<path class="c10" d="M-2.5 41.7L-2.6 41.7Q0 0 -24.9 -35.6L-24.8 -35.7Q0 0 -2.5 41.7Z"/>
<path class="c10" d="M-2.6 41.7L-2.7 41.7Q0 0 -16.1 -40.4L-16 -40.4Q0 0 -2.6 41.7Z"/>
<path class="c10" d="M-2.7 41.7L-2.9 41.7Q0 0 -2.4 -43.4L-2.3 -43.4Q0 0 -2.7 41.7Z"/>
<path class="c0" d="M-4.7 41.5L-4.9 41.5Q0 0 -24.9 35.6L-25.1 35.5Q0 0 -4.7 41.5Z"/>
<path class="c0" d="M-4.9 41.5L-5 41.5Q0 0 -39.7 -17.7L-39.7 -17.8Q0 0 -4.9 41.5Z"/>
<path class="c0" d="M-5 41.5L-5.1 41.4Q0 0 -24.8 -35.7L-24.7 -35.8Q0 0 -5 41.5Z"/>
<path class="c0" d="M-5.1 41.4L-5.3 41.4Q0 0 -16 -40.4L-15.9 -40.5Q0 0 -5.1 41.4Z"/>
<path class="c0" d="M-5.3 41.4L-5.4 41.4Q0 0 -2.3 -43.4L-2.1 -43.4Q0 0 -5.3 41.4Z"/>
<path class="c1" d="M-7 41.2L-7.2 41.1Q0 0 -25.1 35.5L-25.3 35.4Q0 0 -7 41.2Z"/>
<path class="c1" d="M-7.2 41.1L-7.4 41.1Q0 0 -33.8 27.3L-33.9 27.2Q0 0 -7.2 41.1Z"/>
<path class="c1" d="M-7.4 41.1L-7.5 41.1Q0 0 -39.7 -17.8L-39.6 -17.8Q0 0 -7.4 41.1Z"/>
<path class="c1" d="M-7.5 41.1A41.8 41.8 0 0 1 -7.7 41Q0 0 -24.7 -35.8A43.5 43.5 0 0 1 -24.5 -35.9Q0 0 -7.5 41.1Z"/>
<path class="c2" d="M-9.5 40.6A41.8 41.8 0 0 1 -10.6 40.4Q0 0 -34 -27.1A43.5 43.5 0 0 1 -33.3 -27.9Q0 0 -9.5 40.6Z"/>
<path class="c2" d="M-10.6 40.4A41.8 41.8 0 0 1 -13.7 39.4Q0 0 -15.9 -40.5A43.5 43.5 0 0 1 -13.8 -41.2Q0 0 -10.6 40.4Z"/>
</g>
<g fill="none">
<path d="M-24.66 61.66A66.41 66.41 0 0 1 -38.6 54.03M-40.46 52.65A66.41 66.41 0 0 1 -51.81 41.54M-53.23 39.7A66.41 66.41 0 0 1 -61.14 25.93M-62 23.78A66.41 66.41 0 0 1 -65.88 8.37M-66.13 6.06A66.41 66.41 0 0 1 -65.68 -9.82M7.16 -59.73A60.15 60.15 0 0 1 10.65 -59.2M10.65 -59.2A60.15 60.15 0 0 1 19.48 -56.91M19.48 -56.91A60.15 60.15 0 0 1 26.71 -53.9M26.71 -53.9A60.15 60.15 0 0 1 30.96 -51.57M47.54 -36.86A60.15 60.15 0 0 1 51.19 -31.59M57.31 -18.27A60.15 60.15 0 0 1 57.89 -16.33M57.89 -16.33A60.15 60.15 0 0 1 58.11 -15.54M58.11 -15.54A60.15 60.15 0 0 1 58.26 -14.98M58.26 -14.98A60.15 60.15 0 0 1 58.56 -13.74M59.4 -9.5A60.15 60.15 0 0 1 59.51 -8.78M59.88 -5.77A60.15 60.15 0 0 1 60.03 -3.77M60.03 -3.77A60.15 60.15 0 0 1 60.14 -1.45M60.14 -1.45A60.15 60.15 0 0 1 60.15 0.23M60.15 0.23A60.15 60.15 0 0 1 60.15 0.88M60.15 0.88A60.15 60.15 0 0 1 60.13 1.52M59.21 10.59A60.15 60.15 0 0 1 58.87 12.35M58.87 12.35A60.15 60.15 0 0 1 58.4 14.42M58.4 14.42A60.15 60.15 0 0 1 58.12 15.5M58.12 15.5A60.15 60.15 0 0 1 57.93 16.2M57.93 16.2A60.15 60.15 0 0 1 57.49 17.69M56.84 19.68A60.15 60.15 0 0 1 56.73 19.99M56.73 19.99A60.15 60.15 0 0 1 56.61 20.34M56.61 20.34A60.15 60.15 0 0 1 56.46 20.76M56.46 20.76A60.15 60.15 0 0 1 56.22 21.41M56.22 21.41A60.15 60.15 0 0 1 55.78 22.51M54.52 25.42A60.15 60.15 0 0 1 54.38 25.71M54.38 25.71A60.15 60.15 0 0 1 54.23 26.02M54.23 26.02A60.15 60.15 0 0 1 53.95 26.59M53.95 26.59A60.15 60.15 0 0 1 53.83 26.84M53.83 26.84A60.15 60.15 0 0 1 53.76 26.99M50.02 33.42A60.15 60.15 0 0 1 49.91 33.58M49.91 33.58A60.15 60.15 0 0 1 49.87 33.63M49.87 33.63A60.15 60.15 0 0 1 49.84 33.69M49.84 33.69A60.15 60.15 0 0 1 49.8 33.74M49.8 33.74A60.15 60.15 0 0 1 49.75 33.81M48.48 35.61A60.15 60.15 0 0 1 48.45 35.65M48.45 35.65A60.15 60.15 0 0 1 48.38 35.74M48.38 35.74A60.15 60.15 0 0 1 48.35 35.79M48.35 35.79A60.15 60.15 0 0 1 48.32 35.83M48.32 35.83A60.15 60.15 0 0 1 48.29 35.87M45.26 39.62A60.15 60.15 0 0 1 44.78 40.16M44.78 40.16A60.15 60.15 0 0 1 44.66 40.3M44.66 40.3A60.15 60.15 0 0 1 44.51 40.46M44.51 40.46A60.15 60.15 0 0 1 44.47 40.51M44.47 40.51A60.15 60.15 0 0 1 44.36 40.63M41.56 43.49A60.15 60.15 0 0 1 41.48 43.56M41.48 43.56A60.15 60.15 0 0 1 41.29 43.74M41.29 43.74A60.15 60.15 0 0 1 40.88 44.12M40.88 44.12A60.15 60.15 0 0 1 40.54 44.44M40.54 44.44A60.15 60.15 0 0 1 39.94 44.98M38.67 46.08A60.15 60.15 0 0 1 38.06 46.58M38.06 46.58A60.15 60.15 0 0 1 37.59 46.96M34.83 49.04A60.15 60.15 0 0 1 34.6 49.21M34.6 49.21A60.15 60.15 0 0 1 34.35 49.38M34.35 49.38A60.15 60.15 0 0 1 34 49.62M29.87 52.21A60.15 60.15 0 0 1 29.43 52.46M29.43 52.46A60.15 60.15 0 0 1 29.02 52.69M26.97 53.77A60.15 60.15 0 0 1 26.69 53.91M26.69 53.91A60.15 60.15 0 0 1 26.47 54.01M26.47 54.01A60.15 60.15 0 0 1 26.12 54.19M23.02 55.58A60.15 60.15 0 0 1 22.55 55.77M22.55 55.77A60.15 60.15 0 0 1 22.14 55.93M18.38 57.27A60.15 60.15 0 0 1 18.03 57.39M18.03 57.39A60.15 60.15 0 0 1 17.56 57.53M17.56 57.53A60.15 60.15 0 0 1 17.39 57.58M15.17 58.21A60.15 60.15 0 0 1 14.74 58.32M14.74 58.32A60.15 60.15 0 0 1 14.36 58.41M11.31 59.08A60.15 60.15 0 0 1 11.06 59.13M11.06 59.13A60.15 60.15 0 0 1 10.76 59.18M10.76 59.18A60.15 60.15 0 0 1 10.41 59.25M10.41 59.25A60.15 60.15 0 0 1 10.23 59.28M6.3 59.82A60.15 60.15 0 0 1 6.11 59.84M3.81 60.03A60.15 60.15 0 0 1 3.66 60.04M3.66 60.04A60.15 60.15 0 0 1 3.25 60.07M3.25 60.07A60.15 60.15 0 0 1 2.98 60.08M0.18 60.15A60.15 60.15 0 0 1 -0.08 60.15M-0.08 60.15A60.15 60.15 0 0 1 -0.3 60.15M-0.3 60.15A60.15 60.15 0 0 1 -0.68 60.15M-4.13 60.01A60.15 60.15 0 0 1 -4.35 60M-4.35 60A60.15 60.15 0 0 1 -4.49 59.99M-6.79 59.77A60.15 60.15 0 0 1 -7.03 59.74M-10.13 59.29A60.15 60.15 0 0 1 -10.38 59.25M-10.38 59.25A60.15 60.15 0 0 1 -10.67 59.2" stroke="#2E8B2E" stroke-width="3.73"/>
<path d="M-16.96 42.42A45.68 45.68 0 0 1 -26.55 37.17M-27.83 36.22A45.68 45.68 0 0 1 -35.64 28.57M-36.62 27.31A45.68 45.68 0 0 1 -42.06 17.83M-42.65 16.36A45.68 45.68 0 0 1 -45.32 5.76M-45.49 4.17A45.68 45.68 0 0 1 -45.18 -6.75" stroke="#2E8B2E" stroke-width="4.03"/>
<path d="M-22.34 55.85A60.15 60.15 0 0 1 -24.47 54.95M-33.6 49.89A60.15 60.15 0 0 1 -33.9 49.69M-42.39 42.68A60.15 60.15 0 0 1 -43.63 41.41M-48.22 35.97A60.15 60.15 0 0 1 -49.14 34.69M-58.41 14.38A60.15 60.15 0 0 1 -58.59 13.61M-59.34 9.85A60.15 60.15 0 0 1 -59.42 9.38M-59.97 4.73A60.15 60.15 0 0 1 -60.02 4.06M-59.15 -10.96A60.15 60.15 0 0 1 -58.86 -12.38M-55.51 -23.19A60.15 60.15 0 0 1 -55.31 -23.66M-53.02 -28.41A60.15 60.15 0 0 1 -52.6 -29.19M-47 -37.54A60.15 60.15 0 0 1 -46.09 -38.65M-43.54 -41.51A60.15 60.15 0 0 1 -43.32 -41.74M-26.68 -53.91A60.15 60.15 0 0 1 -26.08 -54.21M-23.46 -55.39A60.15 60.15 0 0 1 -23.13 -55.53M-21.97 -56A60.15 60.15 0 0 1 -19.13 -57.03M-7.67 -59.66A60.15 60.15 0 0 1 -6.83 -59.76M66.1 -6.36A66.41 66.41 0 0 1 66.04 6.94M29.78 59.36A66.41 66.41 0 0 1 27.75 60.33M-15.16 64.65A66.41 66.41 0 0 1 -21.84 62.71" stroke="#6495ED" stroke-width="3.73"/>
<path d="M-24.47 54.95A60.15 60.15 0 0 1 -28.14 53.17M-34.51 49.27A60.15 60.15 0 0 1 -34.73 49.12M-36.65 47.7A60.15 60.15 0 0 1 -41.94 43.12M-49.14 34.69A60.15 60.15 0 0 1 -53 28.45M-56.17 21.54A60.15 60.15 0 0 1 -58.01 15.9M-59.18 10.8A60.15 60.15 0 0 1 -59.24 10.43M-60.02 4.06A60.15 60.15 0 0 1 -60.09 -2.69M-59.68 -7.55A60.15 60.15 0 0 1 -59.62 -7.98M-58.75 -12.91A60.15 60.15 0 0 1 -56.85 -19.67M-55.65 -22.85A60.15 60.15 0 0 1 -55.51 -23.19M-52.6 -29.19A60.15 60.15 0 0 1 -49.39 -34.33M-48.16 -36.05A60.15 60.15 0 0 1 -47.94 -36.33M-43.32 -41.74A60.15 60.15 0 0 1 -37.22 -47.26M-32.13 -50.86A60.15 60.15 0 0 1 -27.08 -53.71M-16.55 -57.83A60.15 60.15 0 0 1 -7.67 -59.66M0 -66.41A66.41 66.41 0 0 1 61.87 -24.12M38.45 54.14A66.41 66.41 0 0 1 36.3 55.61M-7.5 65.98A66.41 66.41 0 0 1 -8.66 65.84" stroke="#B0C4DE" stroke-width="3.73"/>
<path d="M-28.14 53.17A60.15 60.15 0 0 1 -30.18 52.04M-34.73 49.12A60.15 60.15 0 0 1 -34.97 48.95M-41.94 43.12A60.15 60.15 0 0 1 -42.39 42.68M-45.56 39.28A60.15 60.15 0 0 1 -45.81 38.98M-53 28.45A60.15 60.15 0 0 1 -53.25 27.97M-58.01 15.9A60.15 60.15 0 0 1 -58.41 14.38M-59.24 10.43A60.15 60.15 0 0 1 -59.34 9.85M-59.9 5.49A60.15 60.15 0 0 1 -59.97 4.73M-58.86 -12.38A60.15 60.15 0 0 1 -58.75 -12.91M-53.95 -26.6A60.15 60.15 0 0 1 -53.02 -28.41M-47.94 -36.33A60.15 60.15 0 0 1 -47.65 -36.72M-44.72 -40.23A60.15 60.15 0 0 1 -43.54 -41.51M-34.2 -49.48A60.15 60.15 0 0 1 -33.88 -49.7M-27.08 -53.71A60.15 60.15 0 0 1 -26.68 -53.91M-23.86 -55.22A60.15 60.15 0 0 1 -23.46 -55.39M-17.12 -57.66A60.15 60.15 0 0 1 -16.55 -57.83M63.08 -20.74A66.41 66.41 0 0 1 65.81 -8.9M34.14 56.96A66.41 66.41 0 0 1 32.03 58.17M-11.18 65.46A66.41 66.41 0 0 1 -12.26 65.26" stroke="#FAF0E6" stroke-width="3.73"/>
<path d="M-30.18 52.04A60.15 60.15 0 0 1 -31.95 50.97M-43.63 41.41A60.15 60.15 0 0 1 -44.74 40.21M-45.81 38.98A60.15 60.15 0 0 1 -46.06 38.69M-53.25 27.97A60.15 60.15 0 0 1 -53.73 27.04M-58.59 13.61A60.15 60.15 0 0 1 -58.79 12.74M-59.42 9.38A60.15 60.15 0 0 1 -59.5 8.84M-60.09 -2.69A60.15 60.15 0 0 1 -60 -4.32M-56.85 -19.67A60.15 60.15 0 0 1 -56.68 -20.15M-49.39 -34.33A60.15 60.15 0 0 1 -49.19 -34.63M-23.13 -55.53A60.15 60.15 0 0 1 -22.72 -55.7M-6.83 -59.76A60.15 60.15 0 0 1 -6.56 -59.79M65.69 9.7A66.41 66.41 0 0 1 63.47 19.53M25.41 61.35A66.41 66.41 0 0 1 23.46 62.12" stroke="#CD5C5C" stroke-width="3.73"/>
<path d="M-31.95 50.97A60.15 60.15 0 0 1 -32.27 50.77M-44.74 40.21A60.15 60.15 0 0 1 -44.92 40M-46.06 38.69A60.15 60.15 0 0 1 -46.25 38.47M-53.73 27.04A60.15 60.15 0 0 1 -53.92 26.67M-54.94 24.5A60.15 60.15 0 0 1 -55.13 24.08M-58.79 12.74A60.15 60.15 0 0 1 -58.96 11.91M-60 -4.32A60.15 60.15 0 0 1 -59.9 -5.57M-25.87 -54.31A60.15 60.15 0 0 1 -25.61 -54.43M62.75 21.73A66.41 66.41 0 0 1 61.13 25.95M21.06 62.98A66.41 66.41 0 0 1 19.2 63.57" stroke="#BA55D3" stroke-width="3.73"/>
<path d="M-32.27 50.77A60.15 60.15 0 0 1 -32.58 50.57M-44.92 40A60.15 60.15 0 0 1 -45.1 39.8M-46.25 38.47A60.15 60.15 0 0 1 -46.46 38.2M-53.92 26.67A60.15 60.15 0 0 1 -54.18 26.13M-55.13 24.08A60.15 60.15 0 0 1 -55.27 23.75M-58.96 11.91A60.15 60.15 0 0 1 -59.03 11.58M-49.14 -34.69A60.15 60.15 0 0 1 -48.79 -35.19M-36.91 -47.5A60.15 60.15 0 0 1 -36.52 -47.8M-35.11 -48.84A60.15 60.15 0 0 1 -34.83 -49.05M-25.61 -54.43A60.15 60.15 0 0 1 -25.36 -54.55M-6.39 -59.81A60.15 60.15 0 0 1 -5.96 -59.86M60.18 28.06A66.41 66.41 0 0 1 58.19 31.99M16.75 64.26A66.41 66.41 0 0 1 14.99 64.69" stroke="#3CB371" stroke-width="3.73"/>
<path d="M-32.8 50.42A60.15 60.15 0 0 1 -33.5 49.96M-46.59 38.05A60.15 60.15 0 0 1 -46.79 37.81M-59.6 8.17A60.15 60.15 0 0 1 -59.64 7.85M-35.47 -48.58A60.15 60.15 0 0 1 -35.2 -48.78M-24.3 -55.03A60.15 60.15 0 0 1 -24.04 -55.14M-5.2 -59.93A60.15 60.15 0 0 1 -4.9 -59.95M49.96 43.74A66.41 66.41 0 0 1 47.77 46.13M4.21 66.27A66.41 66.41 0 0 1 2.75 66.35" stroke="#008080" stroke-width="3.73"/>
<path d="M-34.05 49.59A60.15 60.15 0 0 1 -34.3 49.41M-54.32 25.84A60.15 60.15 0 0 1 -54.54 25.37M-59.07 11.36A60.15 60.15 0 0 1 -59.18 10.8M-59.64 7.85A60.15 60.15 0 0 1 -59.67 7.58M-59.85 -6.06A60.15 60.15 0 0 1 -59.76 -6.91M-59.57 -8.35A60.15 60.15 0 0 1 -59.51 -8.74M46.13 47.77A66.41 66.41 0 0 1 44.09 49.66M0.2 66.41A66.41 66.41 0 0 1 -1.15 66.4" stroke="#F4A460" stroke-width="3.73"/>
<path d="M-21.42 53.56A57.68 57.68 0 0 1 -33.53 46.94M-35.15 45.74A57.68 57.68 0 0 1 -45 36.08M-46.24 34.49A57.68 57.68 0 0 1 -53.11 22.52M-53.86 20.65A57.68 57.68 0 0 1 -57.22 7.27M-57.44 5.27A57.68 57.68 0 0 1 -57.05 -8.53M-56.72 -10.51A57.68 57.68 0 0 1 -52.6 -23.68M-51.74 -25.5A57.68 57.68 0 0 1 -44.2 -37.06M-42.88 -38.58A57.68 57.68 0 0 1 -32.49 -47.66M-30.81 -48.77A57.68 57.68 0 0 1 -18.34 -54.69M-16.42 -55.3A57.68 57.68 0 0 1 -2.82 -57.61" stroke="#2a2a2a" stroke-width="1.2"/>
<path d="M-54.54 25.37A60.15 60.15 0 0 1 -54.85 24.7M-59.76 -6.91A60.15 60.15 0 0 1 -59.68 -7.55M-55.91 -22.2A60.15 60.15 0 0 1 -55.65 -22.85M-4.88 -59.95A60.15 60.15 0 0 1 -4.52 -59.98M42.68 50.87A66.41 66.41 0 0 1 40.5 52.63M-3.7 66.3A66.41 66.41 0 0 1 -4.96 66.22" stroke="#6B8E23" stroke-width="3.73"/>
<path d="M-55.27 23.75A60.15 60.15 0 0 1 -55.38 23.48M-59.5 8.84A60.15 60.15 0 0 1 -59.56 8.4M-56.52 -20.58A60.15 60.15 0 0 1 -56.39 -20.95M-48.79 -35.19A60.15 60.15 0 0 1 -48.57 -35.49M-36.52 -47.8A60.15 60.15 0 0 1 -35.84 -48.31M-25.36 -54.55A60.15 60.15 0 0 1 -24.78 -54.81M-5.96 -59.86A60.15 60.15 0 0 1 -5.36 -59.91M57.1 33.9A66.41 66.41 0 0 1 54.92 37.33M12.49 65.22A66.41 66.41 0 0 1 10.83 65.52" stroke="#7B68EE" stroke-width="3.73"/>
<path d="M-65.29 -12.1A66.41 66.41 0 0 1 -60.55 -27.26M-59.56 -29.36A66.41 66.41 0 0 1 -50.88 -42.67M-49.36 -44.42A66.41 66.41 0 0 1 -37.4 -54.87M-35.46 -56.14A66.41 66.41 0 0 1 -21.11 -62.96M-18.9 -63.66A66.41 66.41 0 0 1 -3.24 -66.33M0 -60.15A60.15 60.15 0 0 1 7.16 -59.73M30.96 -51.57A60.15 60.15 0 0 1 36.45 -47.85M36.45 -47.85A60.15 60.15 0 0 1 41.47 -43.57M41.47 -43.57A60.15 60.15 0 0 1 47.54 -36.86M51.19 -31.59A60.15 60.15 0 0 1 56.04 -21.85M57.14 -18.79A60.15 60.15 0 0 1 57.31 -18.27M58.56 -13.74A60.15 60.15 0 0 1 59.03 -11.56M59.03 -11.56A60.15 60.15 0 0 1 59.28 -10.2M59.28 -10.2A60.15 60.15 0 0 1 59.4 -9.5M59.51 -8.78A60.15 60.15 0 0 1 59.61 -8.06M60.13 1.52A60.15 60.15 0 0 1 60.08 3M60.08 3A60.15 60.15 0 0 1 60.02 3.98M60.02 3.98A60.15 60.15 0 0 1 60 4.24M60 4.24A60.15 60.15 0 0 1 59.92 5.27M59.92 5.27A60.15 60.15 0 0 1 59.82 6.29M59.51 8.79A60.15 60.15 0 0 1 59.43 9.3M59.43 9.3A60.15 60.15 0 0 1 59.37 9.7M59.37 9.7A60.15 60.15 0 0 1 59.33 9.9M59.33 9.9A60.15 60.15 0 0 1 59.27 10.27M59.27 10.27A60.15 60.15 0 0 1 59.21 10.59M55.78 22.51A60.15 60.15 0 0 1 55.69 22.73M55.69 22.73A60.15 60.15 0 0 1 55.66 22.81M55.66 22.81A60.15 60.15 0 0 1 55.62 22.91M55.62 22.91A60.15 60.15 0 0 1 55.45 23.31M55.45 23.31A60.15 60.15 0 0 1 55.37 23.5M53.76 26.99A60.15 60.15 0 0 1 53.65 27.2M53.65 27.2A60.15 60.15 0 0 1 53.35 27.79M53.35 27.79A60.15 60.15 0 0 1 53.16 28.14M53.16 28.14A60.15 60.15 0 0 1 52.96 28.53M52.96 28.53A60.15 60.15 0 0 1 52.71 28.98M51.72 30.71A60.15 60.15 0 0 1 51.52 31.05M51.52 31.05A60.15 60.15 0 0 1 51.31 31.4M51.31 31.4A60.15 60.15 0 0 1 50.95 31.98M50.95 31.98A60.15 60.15 0 0 1 50.41 32.82M50.41 32.82A60.15 60.15 0 0 1 50.02 33.42M48.29 35.87A60.15 60.15 0 0 1 47.64 36.73M47.64 36.73A60.15 60.15 0 0 1 47.41 37.02M47.41 37.02A60.15 60.15 0 0 1 47.19 37.31M47.19 37.31A60.15 60.15 0 0 1 46.67 37.95M46.67 37.95A60.15 60.15 0 0 1 46.55 38.1M44.36 40.63A60.15 60.15 0 0 1 44.19 40.81M44.19 40.81A60.15 60.15 0 0 1 44 41.01M44 41.01A60.15 60.15 0 0 1 43.82 41.21M43.82 41.21A60.15 60.15 0 0 1 43.52 41.53M43.52 41.53A60.15 60.15 0 0 1 43.27 41.79M41.79 43.27A60.15 60.15 0 0 1 41.75 43.31M41.75 43.31A60.15 60.15 0 0 1 41.67 43.39M41.67 43.39A60.15 60.15 0 0 1 41.6 43.45M41.6 43.45A60.15 60.15 0 0 1 41.58 43.47M41.58 43.47A60.15 60.15 0 0 1 41.56 43.49M37.59 46.96A60.15 60.15 0 0 1 37.03 47.4M37.03 47.4A60.15 60.15 0 0 1 36.69 47.67M34 49.62A60.15 60.15 0 0 1 33.69 49.83M33.69 49.83A60.15 60.15 0 0 1 33.37 50.05M33.37 50.05A60.15 60.15 0 0 1 33.14 50.2M33.14 50.2A60.15 60.15 0 0 1 32.88 50.37M30.92 51.6A60.15 60.15 0 0 1 30.46 51.87M30.46 51.87A60.15 60.15 0 0 1 29.87 52.21M26.12 54.19A60.15 60.15 0 0 1 25.65 54.41M25.65 54.41A60.15 60.15 0 0 1 25.13 54.65M22.14 55.93A60.15 60.15 0 0 1 21.5 56.18M21.5 56.18A60.15 60.15 0 0 1 21.25 56.27M19.08 57.05A60.15 60.15 0 0 1 18.83 57.13M18.83 57.13A60.15 60.15 0 0 1 18.6 57.2M18.6 57.2A60.15 60.15 0 0 1 18.38 57.27M14.36 58.41A60.15 60.15 0 0 1 14.09 58.48M14.09 58.48A60.15 60.15 0 0 1 13.82 58.55M13.82 58.55A60.15 60.15 0 0 1 13.57 58.6M10.23 59.28A60.15 60.15 0 0 1 9.99 59.32M9.99 59.32A60.15 60.15 0 0 1 9.81 59.35M7.53 59.68A60.15 60.15 0 0 1 7.18 59.72M7.18 59.72A60.15 60.15 0 0 1 7.01 59.74M7.01 59.74A60.15 60.15 0 0 1 6.71 59.78M6.71 59.78A60.15 60.15 0 0 1 6.45 59.81M6.45 59.81A60.15 60.15 0 0 1 6.3 59.82M2.98 60.08A60.15 60.15 0 0 1 2.71 60.09M2.71 60.09A60.15 60.15 0 0 1 2.49 60.1M-0.68 60.15A60.15 60.15 0 0 1 -1.04 60.14M-3.35 60.06A60.15 60.15 0 0 1 -3.55 60.05M-3.55 60.05A60.15 60.15 0 0 1 -3.69 60.04M-3.69 60.04A60.15 60.15 0 0 1 -3.94 60.02M-3.94 60.02A60.15 60.15 0 0 1 -4.13 60.01M-7.03 59.74A60.15 60.15 0 0 1 -7.19 59.72M-7.19 59.72A60.15 60.15 0 0 1 -7.37 59.7M-7.37 59.7A60.15 60.15 0 0 1 -7.58 59.67M-7.58 59.67A60.15 60.15 0 0 1 -7.85 59.64M-10.67 59.2A60.15 60.15 0 0 1 -10.79 59.18M-10.79 59.18A60.15 60.15 0 0 1 -11.1 59.12M-13.74 58.56A60.15 60.15 0 0 1 -15.26 58.18M-15.26 58.18A60.15 60.15 0 0 1 -19.78 56.81" stroke="#EE3B2F" stroke-width="3.73"/>
<path d="M-44.92 -8.32A45.68 45.68 0 0 1 -41.65 -18.76M-40.97 -20.2A45.68 45.68 0 0 1 -35 -29.35M-33.96 -30.56A45.68 45.68 0 0 1 -25.73 -37.75M-24.4 -38.62A45.68 45.68 0 0 1 -14.53 -43.31M-13.01 -43.79A45.68 45.68 0 0 1 -2.23 -45.63" stroke="#EE3B2F" stroke-width="4.03"/>
<path d="M-56.39 -20.95A60.15 60.15 0 0 1 -56.01 -21.94M-55.2 -23.89A60.15 60.15 0 0 1 -55.07 -24.2M-48.57 -35.49A60.15 60.15 0 0 1 -48.37 -35.76M-35.84 -48.31A60.15 60.15 0 0 1 -35.47 -48.58M-34.83 -49.05A60.15 60.15 0 0 1 -34.53 -49.26M-24.78 -54.81A60.15 60.15 0 0 1 -24.3 -55.03M53.52 39.31A66.41 66.41 0 0 1 51.39 42.06M8.31 65.88A66.41 66.41 0 0 1 6.75 66.06" stroke="#48D1CC" stroke-width="3.73"/>
<path d="M0 -45.68A45.68 45.68 0 0 1 42.56 -16.59M26.45 37.25A45.68 45.68 0 0 1 24.97 38.25M-5.16 45.39A45.68 45.68 0 0 1 -5.96 45.29" stroke="#B0C4DE" stroke-width="4.03"/>
<path d="M0 -42.51A42.51 42.51 0 0 1 5.06 -42.2M21.88 -36.44A42.51 42.51 0 0 1 25.76 -33.81M25.76 -33.81A42.51 42.51 0 0 1 29.3 -30.79M29.3 -30.79A42.51 42.51 0 0 1 33.59 -26.05M36.17 -22.32A42.51 42.51 0 0 1 39.6 -15.44M40.38 -13.28A42.51 42.51 0 0 1 40.5 -12.91M41.38 -9.71A42.51 42.51 0 0 1 41.71 -8.17M41.71 -8.17A42.51 42.51 0 0 1 41.89 -7.21M41.89 -7.21A42.51 42.51 0 0 1 41.97 -6.71M42.05 -6.2A42.51 42.51 0 0 1 42.12 -5.7M42.49 1.07A42.51 42.51 0 0 1 42.45 2.12M42.45 2.12A42.51 42.51 0 0 1 42.41 2.81M42.41 2.81A42.51 42.51 0 0 1 42.4 2.99M42.4 2.99A42.51 42.51 0 0 1 42.34 3.72M42.34 3.72A42.51 42.51 0 0 1 42.27 4.44M42.05 6.21A42.51 42.51 0 0 1 41.99 6.57M41.99 6.57A42.51 42.51 0 0 1 41.95 6.85M41.95 6.85A42.51 42.51 0 0 1 41.93 7M41.93 7A42.51 42.51 0 0 1 41.88 7.25M41.88 7.25A42.51 42.51 0 0 1 41.84 7.48M39.42 15.91A42.51 42.51 0 0 1 39.35 16.06M39.35 16.06A42.51 42.51 0 0 1 39.33 16.12M39.33 16.12A42.51 42.51 0 0 1 39.3 16.19M39.3 16.19A42.51 42.51 0 0 1 39.18 16.47M39.18 16.47A42.51 42.51 0 0 1 39.13 16.61M37.99 19.07A42.51 42.51 0 0 1 37.91 19.22M37.91 19.22A42.51 42.51 0 0 1 37.7 19.64M37.7 19.64A42.51 42.51 0 0 1 37.57 19.89M37.57 19.89A42.51 42.51 0 0 1 37.42 20.16M37.42 20.16A42.51 42.51 0 0 1 37.25 20.48M36.55 21.7A42.51 42.51 0 0 1 36.4 21.94M36.4 21.94A42.51 42.51 0 0 1 36.26 22.19M36.26 22.19A42.51 42.51 0 0 1 36 22.6M36 22.6A42.51 42.51 0 0 1 35.62 23.19M35.62 23.19A42.51 42.51 0 0 1 35.34 23.62M34.12 25.35A42.51 42.51 0 0 1 33.66 25.96M33.66 25.96A42.51 42.51 0 0 1 33.5 26.16M33.5 26.16A42.51 42.51 0 0 1 33.34 26.36M33.34 26.36A42.51 42.51 0 0 1 32.98 26.81M32.98 26.81A42.51 42.51 0 0 1 32.89 26.92M31.34 28.71A42.51 42.51 0 0 1 31.23 28.84M31.23 28.84A42.51 42.51 0 0 1 31.09 28.98M31.09 28.98A42.51 42.51 0 0 1 30.96 29.12M30.96 29.12A42.51 42.51 0 0 1 30.75 29.35M30.75 29.35A42.51 42.51 0 0 1 30.58 29.53M29.53 30.58A42.51 42.51 0 0 1 29.5 30.6M29.5 30.6A42.51 42.51 0 0 1 29.44 30.66M29.44 30.66A42.51 42.51 0 0 1 29.4 30.7M29.4 30.7A42.51 42.51 0 0 1 29.38 30.72M29.38 30.72A42.51 42.51 0 0 1 29.37 30.73M26.56 33.18A42.51 42.51 0 0 1 26.17 33.5M26.17 33.5A42.51 42.51 0 0 1 25.92 33.68M24.03 35.06A42.51 42.51 0 0 1 23.81 35.21M23.81 35.21A42.51 42.51 0 0 1 23.58 35.37M23.58 35.37A42.51 42.51 0 0 1 23.42 35.47M23.42 35.47A42.51 42.51 0 0 1 23.23 35.59M21.85 36.46A42.51 42.51 0 0 1 21.53 36.65M21.53 36.65A42.51 42.51 0 0 1 21.11 36.89M18.46 38.29A42.51 42.51 0 0 1 18.12 38.45M18.12 38.45A42.51 42.51 0 0 1 17.76 38.62M15.64 39.52A42.51 42.51 0 0 1 15.2 39.7M15.2 39.7A42.51 42.51 0 0 1 15.02 39.76M13.48 40.31A42.51 42.51 0 0 1 13.3 40.37M13.3 40.37A42.51 42.51 0 0 1 13.15 40.42M13.15 40.42A42.51 42.51 0 0 1 12.99 40.47M10.15 41.28A42.51 42.51 0 0 1 9.96 41.32M9.96 41.32A42.51 42.51 0 0 1 9.76 41.37M9.76 41.37A42.51 42.51 0 0 1 9.59 41.41M7.23 41.89A42.51 42.51 0 0 1 7.06 41.92M7.06 41.92A42.51 42.51 0 0 1 6.93 41.94M5.32 42.17A42.51 42.51 0 0 1 5.08 42.2M5.08 42.2A42.51 42.51 0 0 1 4.95 42.22M4.95 42.22A42.51 42.51 0 0 1 4.74 42.24M4.74 42.24A42.51 42.51 0 0 1 4.56 42.26M4.56 42.26A42.51 42.51 0 0 1 4.45 42.27M2.11 42.45A42.51 42.51 0 0 1 1.92 42.46M1.92 42.46A42.51 42.51 0 0 1 1.76 42.47M-0.48 42.5A42.51 42.51 0 0 1 -0.74 42.5M-2.37 42.44A42.51 42.51 0 0 1 -2.51 42.43M-2.51 42.43A42.51 42.51 0 0 1 -2.61 42.43M-2.61 42.43A42.51 42.51 0 0 1 -2.78 42.41M-2.78 42.41A42.51 42.51 0 0 1 -2.92 42.41M-4.96 42.21A42.51 42.51 0 0 1 -5.08 42.2M-5.08 42.2A42.51 42.51 0 0 1 -5.21 42.19M-5.21 42.19A42.51 42.51 0 0 1 -5.35 42.17M-5.35 42.17A42.51 42.51 0 0 1 -5.54 42.14M-7.54 41.83A42.51 42.51 0 0 1 -7.63 41.82M-7.63 41.82A42.51 42.51 0 0 1 -7.85 41.78M-9.71 41.38A42.51 42.51 0 0 1 -10.79 41.11M-10.79 41.11A42.51 42.51 0 0 1 -13.98 40.14" stroke="#EE3B2F" stroke-width="1.11"/>
<path d="M5.06 -42.2A42.51 42.51 0 0 1 7.52 -41.83M7.52 -41.83A42.51 42.51 0 0 1 13.76 -40.22M13.76 -40.22A42.51 42.51 0 0 1 18.88 -38.08M18.88 -38.08A42.51 42.51 0 0 1 21.88 -36.44M33.59 -26.05A42.51 42.51 0 0 1 36.17 -22.32M40.5 -12.91A42.51 42.51 0 0 1 40.91 -11.54M40.91 -11.54A42.51 42.51 0 0 1 41.06 -10.98M41.06 -10.98A42.51 42.51 0 0 1 41.17 -10.59M41.17 -10.59A42.51 42.51 0 0 1 41.38 -9.71M41.97 -6.71A42.51 42.51 0 0 1 42.05 -6.2M42.31 -4.07A42.51 42.51 0 0 1 42.42 -2.67M42.42 -2.67A42.51 42.51 0 0 1 42.49 -1.03M42.49 -1.03A42.51 42.51 0 0 1 42.51 0.16M42.51 0.16A42.51 42.51 0 0 1 42.5 0.62M42.5 0.62A42.51 42.51 0 0 1 42.49 1.07M41.84 7.48A42.51 42.51 0 0 1 41.6 8.72M41.6 8.72A42.51 42.51 0 0 1 41.27 10.19M41.27 10.19A42.51 42.51 0 0 1 41.07 10.95M41.07 10.95A42.51 42.51 0 0 1 40.94 11.45M40.94 11.45A42.51 42.51 0 0 1 40.63 12.5M40.17 13.91A42.51 42.51 0 0 1 40.09 14.13M40.09 14.13A42.51 42.51 0 0 1 40 14.37M40 14.37A42.51 42.51 0 0 1 39.89 14.67M39.89 14.67A42.51 42.51 0 0 1 39.72 15.13M39.72 15.13A42.51 42.51 0 0 1 39.42 15.91M38.52 17.96A42.51 42.51 0 0 1 38.43 18.16M38.43 18.16A42.51 42.51 0 0 1 38.32 18.39M38.32 18.39A42.51 42.51 0 0 1 38.13 18.79M38.13 18.79A42.51 42.51 0 0 1 38.04 18.97M38.04 18.97A42.51 42.51 0 0 1 37.99 19.07M35.34 23.62A42.51 42.51 0 0 1 35.27 23.73M35.27 23.73A42.51 42.51 0 0 1 35.24 23.76M35.24 23.76A42.51 42.51 0 0 1 35.21 23.8M35.21 23.8A42.51 42.51 0 0 1 35.19 23.84M35.19 23.84A42.51 42.51 0 0 1 35.16 23.89M34.26 25.16A42.51 42.51 0 0 1 34.24 25.19M34.24 25.19A42.51 42.51 0 0 1 34.19 25.26M34.19 25.26A42.51 42.51 0 0 1 34.17 25.29M34.17 25.29A42.51 42.51 0 0 1 34.14 25.32M34.14 25.32A42.51 42.51 0 0 1 34.12 25.35M31.98 28A42.51 42.51 0 0 1 31.64 28.38M31.64 28.38A42.51 42.51 0 0 1 31.56 28.47M31.56 28.47A42.51 42.51 0 0 1 31.45 28.59M31.45 28.59A42.51 42.51 0 0 1 31.42 28.62M31.42 28.62A42.51 42.51 0 0 1 31.34 28.71M29.37 30.73A42.51 42.51 0 0 1 29.31 30.78M29.31 30.78A42.51 42.51 0 0 1 29.18 30.91M29.18 30.91A42.51 42.51 0 0 1 28.89 31.18M28.89 31.18A42.51 42.51 0 0 1 28.65 31.4M28.65 31.4A42.51 42.51 0 0 1 28.22 31.79M27.32 32.56A42.51 42.51 0 0 1 26.9 32.91M26.9 32.91A42.51 42.51 0 0 1 26.56 33.18M24.61 34.66A42.51 42.51 0 0 1 24.45 34.77M24.45 34.77A42.51 42.51 0 0 1 24.27 34.9M24.27 34.9A42.51 42.51 0 0 1 24.03 35.06M21.11 36.89A42.51 42.51 0 0 1 20.8 37.07M20.8 37.07A42.51 42.51 0 0 1 20.5 37.23M19.06 37.99A42.51 42.51 0 0 1 18.86 38.09M18.86 38.09A42.51 42.51 0 0 1 18.71 38.17M18.71 38.17A42.51 42.51 0 0 1 18.46 38.29M16.26 39.27A42.51 42.51 0 0 1 15.93 39.41M15.93 39.41A42.51 42.51 0 0 1 15.64 39.52M12.99 40.47A42.51 42.51 0 0 1 12.74 40.55M12.74 40.55A42.51 42.51 0 0 1 12.41 40.65M12.41 40.65A42.51 42.51 0 0 1 12.29 40.69M10.72 41.13A42.51 42.51 0 0 1 10.41 41.21M10.41 41.21A42.51 42.51 0 0 1 10.15 41.28M8 41.75A42.51 42.51 0 0 1 7.82 41.78M7.82 41.78A42.51 42.51 0 0 1 7.61 41.82M7.61 41.82A42.51 42.51 0 0 1 7.35 41.86M7.35 41.86A42.51 42.51 0 0 1 7.23 41.89M4.45 42.27A42.51 42.51 0 0 1 4.32 42.29M2.69 42.42A42.51 42.51 0 0 1 2.59 42.43M2.59 42.43A42.51 42.51 0 0 1 2.29 42.44M2.29 42.44A42.51 42.51 0 0 1 2.11 42.45M0.13 42.51A42.51 42.51 0 0 1 -0.06 42.51M-0.06 42.51A42.51 42.51 0 0 1 -0.21 42.51M-0.21 42.51A42.51 42.51 0 0 1 -0.48 42.5M-2.92 42.41A42.51 42.51 0 0 1 -3.07 42.39M-3.07 42.39A42.51 42.51 0 0 1 -3.17 42.39M-4.8 42.23A42.51 42.51 0 0 1 -4.96 42.21M-7.16 41.9A42.51 42.51 0 0 1 -7.33 41.87M-7.33 41.87A42.51 42.51 0 0 1 -7.54 41.83" stroke="#2E8B2E" stroke-width="1.11"/>
<path d="M43.4 -14.27A45.68 45.68 0 0 1 45.27 -6.12M23.48 39.18A45.68 45.68 0 0 1 22.04 40.02M-7.69 45.03A45.68 45.68 0 0 1 -8.43 44.9" stroke="#FAF0E6" stroke-width="4.03"/>
<path d="M45.47 -4.38A45.68 45.68 0 0 1 45.43 4.78M20.48 40.83A45.68 45.68 0 0 1 19.09 41.5M-10.43 44.48A45.68 45.68 0 0 1 -15.02 43.14" stroke="#6495ED" stroke-width="4.03"/>
<path d="M45.19 6.67A45.68 45.68 0 0 1 43.66 13.43M17.48 42.21A45.68 45.68 0 0 1 16.14 42.74" stroke="#CD5C5C" stroke-width="4.03"/>
<path d="M43.17 14.95A45.68 45.68 0 0 1 42.05 17.85M14.49 43.32A45.68 45.68 0 0 1 13.21 43.73" stroke="#BA55D3" stroke-width="4.03"/>
<path d="M41.4 19.31A45.68 45.68 0 0 1 40.03 22.01M11.52 44.21A45.68 45.68 0 0 1 10.31 44.5" stroke="#3CB371" stroke-width="4.03"/>
<path d="M39.28 23.32A45.68 45.68 0 0 1 37.78 25.68M8.59 44.87A45.68 45.68 0 0 1 7.45 45.07" stroke="#7B68EE" stroke-width="4.03"/>
<path d="M36.82 27.04A45.68 45.68 0 0 1 35.35 28.93M5.71 45.32A45.68 45.68 0 0 1 4.64 45.45" stroke="#48D1CC" stroke-width="4.03"/>
<path d="M34.37 30.09A45.68 45.68 0 0 1 32.86 31.73M2.9 45.59A45.68 45.68 0 0 1 1.89 45.64" stroke="#008080" stroke-width="4.03"/>
<path d="M31.73 32.86A45.68 45.68 0 0 1 30.33 34.16M0.14 45.68A45.68 45.68 0 0 1 -0.79 45.68" stroke="#F4A460" stroke-width="4.03"/>
<path d="M29.36 34.99A45.68 45.68 0 0 1 27.86 36.2M-2.55 45.61A45.68 45.68 0 0 1 -3.41 45.55" stroke="#6B8E23" stroke-width="4.03"/>
<path d="M0 -58.1L0 -57M6.9 -57.7L6.8 -56.6M13.8 -56.4L13.5 -55.3M20.4 -54.4L20.1 -53.3M26.8 -51.5L26.3 -50.5M32.8 -48L32.1 -47M38.3 -43.7L37.5 -42.9M43.2 -38.8L42.4 -38.1M47.6 -33.4L46.6 -32.7M51.2 -27.4L50.2 -26.9M54.1 -21.1L53.1 -20.7" stroke="#111" stroke-width="0.7"/>
</g>
<g class="t">
<text text-anchor="end" transform="translate(0 -56.3) rotate(-90)">0%</text>
<text text-anchor="end" transform="translate(6.7 -55.9) rotate(-83.1)">10%</text>
<text text-anchor="end" transform="translate(13.4 -54.7) rotate(-76.3)">20%</text>
<text text-anchor="end" transform="translate(19.8 -52.7) rotate(-69.4)">30%</text>
<text text-anchor="end" transform="translate(26 -49.9) rotate(-62.5)">40%</text>
<text text-anchor="end" transform="translate(31.8 -46.5) rotate(-55.6)">50%</text>
<text text-anchor="end" transform="translate(37.1 -42.3) rotate(-48.8)">60%</text>
<text text-anchor="end" transform="translate(41.9 -37.6) rotate(-41.9)">70%</text>
<text text-anchor="end" transform="translate(46.1 -32.3) rotate(-35)">80%</text>
<text text-anchor="end" transform="translate(49.6 -26.6) rotate(-28.2)">90%</text>
<text text-anchor="end" transform="translate(52.4 -20.4) rotate(-21.3)">100%</text>
<text text-anchor="middle" font-size="3.7" transform="translate(-33.4 61.1) rotate(-151.3)">10w-1</text>
<text text-anchor="middle" font-size="3.7" transform="translate(-48.8 49.8) rotate(-135.6)">10w-2</text>
<text text-anchor="middle" font-size="3.7" transform="translate(-60.4 34.7) rotate(-119.8)">10w-3</text>
<text text-anchor="middle" font-size="3.7" transform="translate(-67.6 17) rotate(-104.1)">10w-4</text>
<text text-anchor="middle" font-size="3.7" transform="translate(-69.7 -2) rotate(-88.4)">10w-5</text>
<text text-anchor="middle" font-size="3.7" transform="translate(-66.5 -20.8) rotate(-72.6)">Con-10w-1</text>
<text text-anchor="middle" font-size="3.7" transform="translate(-58.4 -38.1) rotate(-56.9)">Con-10w-2</text>
<text text-anchor="middle" font-size="3.7" transform="translate(-45.9 -52.5) rotate(-41.1)">Con-10w-3</text>
<text text-anchor="middle" font-size="3.7" transform="translate(-29.9 -62.9) rotate(-25.4)">Con-10w-4</text>
<text text-anchor="middle" font-size="3.7" transform="translate(-11.7 -68.7) rotate(-9.7)">Con-10w-5</text>
</g>
</g>
<text x="575.4" y="538.96" font-size="4.88" class="k" textLength="28.2" lengthAdjust="spacingAndGlyphs">Lactobacillus</text>
<text x="600" y="579.57" font-size="4.92" class="k" textLength="70" lengthAdjust="spacingAndGlyphs">unclassified_f_Lachnospiraceae</text>
<text x="601" y="596.18" font-size="4.93" class="k" textLength="17" lengthAdjust="spacingAndGlyphs">Bacillus</text>
<text x="599" y="611.18" font-size="4.95" class="k" textLength="57" lengthAdjust="spacingAndGlyphs">norank_f_Muribaculaceae</text>
<text x="596.4" y="621.37" font-size="4.92" class="k" textLength="76.6" lengthAdjust="spacingAndGlyphs">Lachnospiraceae_NK4A136_group</text>
<text x="594" y="627.79" font-size="4.97" class="k" textLength="90" lengthAdjust="spacingAndGlyphs">norank_f_norank_o_Clostridia_UCG-014</text>
<text x="590.4" y="633.95" font-size="4.86" class="k" textLength="29.2" lengthAdjust="spacingAndGlyphs">Alloprevotella</text>
<text x="586.4" y="639.75" font-size="4.85" class="k" textLength="25.6" lengthAdjust="spacingAndGlyphs">Bacteroides</text>
<text x="583" y="644.58" font-size="4.95" class="k" textLength="61.4" lengthAdjust="spacingAndGlyphs">Lachnospiraceae_UCG-006</text>
<text x="578" y="650.18" font-size="4.95" class="k" textLength="56.4" lengthAdjust="spacingAndGlyphs">Prevotellaceae_UCG-001</text>
<text x="453.4" y="695.1" font-size="13.6" class="s" font-weight="bold" fill="#000">O</text>
<g transform="translate(532 760.9)">
<g class="rb">
<path class="c0" d="M0 -41.9A41.9 41.9 0 0 1 7.4 -41.3Q0 0 -21.2 38.2A43.6 43.6 0 0 1 -25 35.8Q0 0 0 -41.9Z"/>
<path class="c0" d="M8.5 -41A41.9 41.9 0 0 1 13.3 -39.8Q0 0 -30.3 31.4A43.6 43.6 0 0 1 -33.8 27.6Q0 0 8.5 -41Z"/>
<path class="c0" d="M15.2 -39.1A41.9 41.9 0 0 1 18.9 -37.4Q0 0 -37.9 21.7A43.6 43.6 0 0 1 -39.6 18.3Q0 0 15.2 -39.1Z"/>
<path class="c0" d="M22.3 -35.5A41.9 41.9 0 0 1 26.4 -32.6Q0 0 -42.4 10.4A43.6 43.6 0 0 1 -43.2 6.6Q0 0 22.3 -35.5Z"/>
<path class="c0" d="M27.8 -31.4A41.9 41.9 0 0 1 30.6 -28.6Q0 0 -43.6 -1.5A43.6 43.6 0 0 1 -43.4 -4.9Q0 0 27.8 -31.4Z"/>
<path class="c0" d="M7.4 -41.3A41.9 41.9 0 0 1 8.5 -41Q0 0 -41.9 -12.3A43.6 43.6 0 0 1 -41.4 -13.9Q0 0 7.4 -41.3Z"/>
<path class="c0" d="M13.3 -39.8A41.9 41.9 0 0 1 15.2 -39.1Q0 0 -37.8 -21.9A43.6 43.6 0 0 1 -36.4 -24Q0 0 13.3 -39.8Z"/>
<path class="c0" d="M18.9 -37.4A41.9 41.9 0 0 1 22.3 -35.5Q0 0 -29.8 -31.9A43.6 43.6 0 0 1 -27 -34.3Q0 0 18.9 -37.4Z"/>
<path class="c0" d="M26.4 -32.6A41.9 41.9 0 0 1 27.8 -31.4Q0 0 -21.5 -38A43.6 43.6 0 0 1 -20 -38.8Q0 0 26.4 -32.6Z"/>
<path class="c0" d="M30.6 -28.6A41.9 41.9 0 0 1 31 -28.2Q0 0 -12 -42A43.6 43.6 0 0 1 -11.2 -42.2Q0 0 30.6 -28.6Z"/>
<path class="c1" d="M32.4 -26.6A41.9 41.9 0 0 1 33.1 -25.7Q0 0 -26.2 34.9A43.6 43.6 0 0 1 -26.7 34.5Q0 0 32.4 -26.6Z"/>
<path class="c1" d="M33.6 -25.1A41.9 41.9 0 0 1 34.1 -24.4Q0 0 -33.8 27.6A43.6 43.6 0 0 1 -34.4 26.9Q0 0 33.6 -25.1Z"/>
<path class="c1" d="M34.5 -23.8A41.9 41.9 0 0 1 35.1 -23Q0 0 -37.4 22.5A43.6 43.6 0 0 1 -37.9 21.7Q0 0 34.5 -23.8Z"/>
<path class="c1" d="M35.7 -21.9A41.9 41.9 0 0 1 36.8 -20.1Q0 0 -42 12A43.6 43.6 0 0 1 -42.4 10.4Q0 0 35.7 -21.9Z"/>
<path class="c1" d="M37.4 -18.9A41.9 41.9 0 0 1 38 -17.7Q0 0 -43.6 -0.3A43.6 43.6 0 0 1 -43.6 -1.5Q0 0 37.4 -18.9Z"/>
<path class="c1" d="M33.1 -25.7A41.9 41.9 0 0 1 33.6 -25.1Q0 0 -42.4 -10.6A43.6 43.6 0 0 1 -42 -11.8Q0 0 33.1 -25.7Z"/>
<path class="c1" d="M34.1 -24.4A41.9 41.9 0 0 1 34.5 -23.8Q0 0 -38.2 -21.2A43.6 43.6 0 0 1 -37.8 -21.9Q0 0 34.1 -24.4Z"/>
<path class="c1" d="M35.1 -23A41.9 41.9 0 0 1 35.7 -21.9Q0 0 -30.7 -31A43.6 43.6 0 0 1 -29.8 -31.9Q0 0 35.1 -23Z"/>
<path class="c1" d="M36.8 -20.1A41.9 41.9 0 0 1 37.4 -18.9Q0 0 -22.5 -37.4A43.6 43.6 0 0 1 -21.5 -38Q0 0 36.8 -20.1Z"/>
<path class="c1" d="M38 -17.7A41.9 41.9 0 0 1 38.6 -16.4Q0 0 -11.2 -42.2A43.6 43.6 0 0 1 -9.2 -42.7Q0 0 38 -17.7Z"/>
<path class="c2" d="M39.3 -14.7A41.9 41.9 0 0 1 40.1 -12.2Q0 0 -25 35.8A43.6 43.6 0 0 1 -26.2 34.9Q0 0 39.3 -14.7Z"/>
<path class="c2" d="M40.1 -12.2A41.9 41.9 0 0 1 40.2 -11.8Q0 0 -34.4 26.9A43.6 43.6 0 0 1 -34.7 26.5Q0 0 40.1 -12.2Z"/>
<path class="c2" d="M40.2 -11.8A41.9 41.9 0 0 1 40.4 -11.1Q0 0 -39.6 18.3A43.6 43.6 0 0 1 -39.9 17.7Q0 0 40.2 -11.8Z"/>
<path class="c2" d="M40.4 -11.1A41.9 41.9 0 0 1 40.8 -9.5Q0 0 -43.2 6.6A43.6 43.6 0 0 1 -43.3 5.3Q0 0 40.4 -11.1Z"/>
<path class="c2" d="M40.8 -9.5A41.9 41.9 0 0 1 41.1 -8.3Q0 0 -43.6 0.8A43.6 43.6 0 0 1 -43.6 -0.3Q0 0 40.8 -9.5Z"/>
<path class="c2" d="M41.1 -8.3A41.9 41.9 0 0 1 41.2 -8Q0 0 -42 -11.8A43.6 43.6 0 0 1 -41.9 -12.3Q0 0 41.1 -8.3Z"/>
<path class="c2" d="M41.2 -8A41.9 41.9 0 0 1 41.3 -7.2Q0 0 -36.4 -24A43.6 43.6 0 0 1 -35.9 -24.8Q0 0 41.2 -8Z"/>
<path class="c2" d="M41.3 -7.2A41.9 41.9 0 0 1 41.5 -6.1Q0 0 -31.4 -30.3A43.6 43.6 0 0 1 -30.7 -31Q0 0 41.3 -7.2Z"/>
<path class="c2" d="M41.5 -6.1A41.9 41.9 0 0 1 41.7 -4.3Q0 0 -20 -38.8A43.6 43.6 0 0 1 -18.5 -39.5Q0 0 41.5 -6.1Z"/>
<path class="c2" d="M41.7 -4.3A41.9 41.9 0 0 1 41.8 -3.7Q0 0 -9.2 -42.7A43.6 43.6 0 0 1 -8.5 -42.8Q0 0 41.7 -4.3Z"/>
<path class="c3" d="M41.9 0.8A41.9 41.9 0 0 1 41.9 1.8Q0 0 -26.7 34.5A43.6 43.6 0 0 1 -27.2 34.1Q0 0 41.9 0.8Z"/>
<path class="c3" d="M41.9 1.8A41.9 41.9 0 0 1 41.8 2.6Q0 0 -34.7 26.5A43.6 43.6 0 0 1 -35.2 25.9Q0 0 41.9 1.8Z"/>
<path class="c3" d="M41.8 2.6A41.9 41.9 0 0 1 41.7 4Q0 0 -39.9 17.7A43.6 43.6 0 0 1 -40.4 16.5Q0 0 41.8 2.6Z"/>
<path class="c3" d="M41.7 4A41.9 41.9 0 0 1 41.7 4.8Q0 0 -43.3 5.3A43.6 43.6 0 0 1 -43.4 4.7Q0 0 41.7 4Z"/>
<path class="c3" d="M41.7 4.8A41.9 41.9 0 0 1 41.6 5.5Q0 0 -43.4 -4.9A43.6 43.6 0 0 1 -43.3 -5.5Q0 0 41.7 4.8Z"/>
<path class="c3" d="M41.9 -1.8A41.9 41.9 0 0 1 41.9 -1.2Q0 0 -41.4 -13.9A43.6 43.6 0 0 1 -41.1 -14.7Q0 0 41.9 -1.8Z"/>
<path class="c3" d="M41.9 -1.2L41.9 -1.1Q0 0 -35.9 -24.8L-35.8 -25Q0 0 41.9 -1.2Z"/>
<path class="c3" d="M41.9 -1.1A41.9 41.9 0 0 1 41.9 -0.5Q0 0 -27 -34.3A43.6 43.6 0 0 1 -26.7 -34.6Q0 0 41.9 -1.1Z"/>
<path class="c3" d="M41.9 -0.5A41.9 41.9 0 0 1 41.9 -0.1Q0 0 -18.5 -39.5A43.6 43.6 0 0 1 -18.2 -39.7Q0 0 41.9 -0.5Z"/>
<path class="c3" d="M41.9 -0.1A41.9 41.9 0 0 1 41.9 0.8Q0 0 -8.5 -42.8A43.6 43.6 0 0 1 -7.2 -43Q0 0 41.9 -0.1Z"/>
<path class="c4" d="M41.4 6.9A41.9 41.9 0 0 1 41.3 7.1Q0 0 -27.2 34.1A43.6 43.6 0 0 1 -27.3 34Q0 0 41.4 6.9Z"/>
<path class="c4" d="M41.3 7.1A41.9 41.9 0 0 1 41.3 7.5Q0 0 -35.2 25.9A43.6 43.6 0 0 1 -35.4 25.6Q0 0 41.3 7.1Z"/>
<path class="c4" d="M41.3 7.5A41.9 41.9 0 0 1 41.2 7.8Q0 0 -40.4 16.5A43.6 43.6 0 0 1 -40.5 16.2Q0 0 41.3 7.5Z"/>
<path class="c4" d="M41.2 7.8L41.2 7.9Q0 0 -43.4 4.7L-43.4 4.6Q0 0 41.2 7.8Z"/>
<path class="c4" d="M41.2 7.9A41.9 41.9 0 0 1 41.1 8.2Q0 0 -43.3 -5.5A43.6 43.6 0 0 1 -43.3 -5.8Q0 0 41.2 7.9Z"/>
<path class="c4" d="M41.1 8.2A41.9 41.9 0 0 1 41 8.8Q0 0 -41.1 -14.7A43.6 43.6 0 0 1 -40.8 -15.6Q0 0 41.1 8.2Z"/>
<path class="c4" d="M41 8.8A41.9 41.9 0 0 1 40.9 9.4Q0 0 -35.8 -25A43.6 43.6 0 0 1 -35.3 -25.6Q0 0 41 8.8Z"/>
<path class="c4" d="M40.9 9.4A41.9 41.9 0 0 1 40.6 10.6Q0 0 -26.7 -34.6A43.6 43.6 0 0 1 -25.7 -35.2Q0 0 40.9 9.4Z"/>
<path class="c4" d="M40.6 10.6A41.9 41.9 0 0 1 40.5 10.8Q0 0 -18.2 -39.7A43.6 43.6 0 0 1 -17.9 -39.8Q0 0 40.6 10.6Z"/>
<path class="c4" d="M40.5 10.8A41.9 41.9 0 0 1 40.3 11.6Q0 0 -7.2 -43A43.6 43.6 0 0 1 -6.1 -43.2Q0 0 40.5 10.8Z"/>
<path class="c5" d="M39.9 13A41.9 41.9 0 0 1 39.7 13.5Q0 0 -27.3 34A43.6 43.6 0 0 1 -27.6 33.8Q0 0 39.9 13Z"/>
<path class="c5" d="M39.7 13.5A41.9 41.9 0 0 1 39.6 13.8Q0 0 -35.4 25.6A43.6 43.6 0 0 1 -35.6 25.3Q0 0 39.7 13.5Z"/>
<path class="c5" d="M39.6 13.8A41.9 41.9 0 0 1 39.4 14.4Q0 0 -40.5 16.2A43.6 43.6 0 0 1 -40.8 15.6Q0 0 39.6 13.8Z"/>
<path class="c5" d="M39.4 14.4A41.9 41.9 0 0 1 39.1 15.1Q0 0 -43.4 4.6A43.6 43.6 0 0 1 -43.5 4Q0 0 39.4 14.4Z"/>
<path class="c5" d="M39.1 15.1A41.9 41.9 0 0 1 39 15.5Q0 0 -43.3 -5.8A43.6 43.6 0 0 1 -43.2 -6.1Q0 0 39.1 15.1Z"/>
<path class="c5" d="M39 15.5L39 15.5Q0 0 -40.8 -15.6L-40.8 -15.6Q0 0 39 15.5Z"/>
<path class="c5" d="M39 15.5L39 15.5Q0 0 -35.3 -25.6L-35.3 -25.6Q0 0 39 15.5Z"/>
<path class="c5" d="M39 15.5L38.9 15.5Q0 0 -25.7 -35.2L-25.7 -35.3Q0 0 39 15.5Z"/>
<path class="c5" d="M38.9 15.5L38.9 15.6Q0 0 -17.9 -39.8L-17.9 -39.8Q0 0 38.9 15.5Z"/>
<path class="c5" d="M38.9 15.6L38.9 15.6Q0 0 -6.1 -43.2L-6.1 -43.2Q0 0 38.9 15.6Z"/>
<path class="c6" d="M38 17.6A41.9 41.9 0 0 1 37.9 18Q0 0 -27.6 33.8A43.6 43.6 0 0 1 -27.8 33.7Q0 0 38 17.6Z"/>
<path class="c6" d="M37.9 18L37.8 18.2Q0 0 -35.6 25.3L-35.7 25.1Q0 0 37.9 18Z"/>
<path class="c6" d="M37.8 18.2A41.9 41.9 0 0 1 37.7 18.4Q0 0 -40.8 15.6A43.6 43.6 0 0 1 -40.8 15.4Q0 0 37.8 18.2Z"/>
<path class="c6" d="M37.7 18.4L37.6 18.5Q0 0 -43.5 4L-43.5 3.9Q0 0 37.7 18.4Z"/>
<path class="c6" d="M37.6 18.5A41.9 41.9 0 0 1 37.2 19.4Q0 0 -43.2 -6.1A43.6 43.6 0 0 1 -43.1 -6.9Q0 0 37.6 18.5Z"/>
<path class="c6" d="M38.3 17A41.9 41.9 0 0 1 38.3 17.2Q0 0 -40.8 -15.6A43.6 43.6 0 0 1 -40.6 -15.9Q0 0 38.3 17Z"/>
<path class="c6" d="M38.3 17.2L38.2 17.2Q0 0 -35.3 -25.6L-35.3 -25.7Q0 0 38.3 17.2Z"/>
<path class="c6" d="M38.2 17.2L38.2 17.3Q0 0 -25.7 -35.3L-25.6 -35.3Q0 0 38.2 17.2Z"/>
<path class="c6" d="M38.2 17.3A41.9 41.9 0 0 1 38.1 17.5Q0 0 -17.9 -39.8A43.6 43.6 0 0 1 -17.7 -39.9Q0 0 38.2 17.3Z"/>
<path class="c6" d="M38.1 17.5L38 17.6Q0 0 -6.1 -43.2L-5.9 -43.2Q0 0 38.1 17.5Z"/>
<path class="c7" d="M36.6 20.5L36.6 20.5Q0 0 -27.8 33.7L-27.8 33.7Q0 0 36.6 20.5Z"/>
<path class="c7" d="M36.6 20.5L36.6 20.5Q0 0 -35.7 25.1L-35.7 25.1Q0 0 36.6 20.5Z"/>
<path class="c7" d="M36.6 20.5L36.5 20.5Q0 0 -40.8 15.4L-40.8 15.4Q0 0 36.6 20.5Z"/>
<path class="c7" d="M36.5 20.5L36.5 20.6Q0 0 -43.5 3.9L-43.5 3.9Q0 0 36.5 20.5Z"/>
<path class="c7" d="M36.5 20.6L36.5 20.6Q0 0 -43.1 -6.9L-43.1 -6.9Q0 0 36.5 20.6Z"/>
<path class="c7" d="M36.5 20.6A41.9 41.9 0 0 1 36.2 21.2Q0 0 -40.6 -15.9A43.6 43.6 0 0 1 -40.3 -16.8Q0 0 36.5 20.6Z"/>
<path class="c7" d="M36.2 21.2A41.9 41.9 0 0 1 35.9 21.7Q0 0 -35.3 -25.7A43.6 43.6 0 0 1 -34.8 -26.3Q0 0 36.2 21.2Z"/>
<path class="c7" d="M35.9 21.7A41.9 41.9 0 0 1 35.7 21.9Q0 0 -25.6 -35.3A43.6 43.6 0 0 1 -25.4 -35.5Q0 0 35.9 21.7Z"/>
<path class="c7" d="M35.7 21.9A41.9 41.9 0 0 1 35.6 22.2Q0 0 -17.7 -39.9A43.6 43.6 0 0 1 -17.5 -40Q0 0 35.7 21.9Z"/>
<path class="c7" d="M35.6 22.2A41.9 41.9 0 0 1 35.4 22.4Q0 0 -5.9 -43.2A43.6 43.6 0 0 1 -5.5 -43.3Q0 0 35.6 22.2Z"/>
<path class="c8" d="M34.7 23.6A41.9 41.9 0 0 1 34.5 23.8Q0 0 -27.8 33.7A43.6 43.6 0 0 1 -27.9 33.5Q0 0 34.7 23.6Z"/>
<path class="c8" d="M34.5 23.8L34.4 24Q0 0 -35.7 25.1L-35.8 25Q0 0 34.5 23.8Z"/>
<path class="c8" d="M34.4 24A41.9 41.9 0 0 1 34.2 24.2Q0 0 -40.8 15.4A43.6 43.6 0 0 1 -40.9 15.1Q0 0 34.4 24Z"/>
<path class="c8" d="M34.2 24.2A41.9 41.9 0 0 1 34 24.5Q0 0 -43.5 3.9A43.6 43.6 0 0 1 -43.5 3.6Q0 0 34.2 24.2Z"/>
<path class="c8" d="M34 24.5A41.9 41.9 0 0 1 33.9 24.6Q0 0 -43.1 -6.9A43.6 43.6 0 0 1 -43.1 -7.1Q0 0 34 24.5Z"/>
<path class="c8" d="M33.9 24.6L33.9 24.7Q0 0 -40.3 -16.8L-40.2 -17Q0 0 33.9 24.6Z"/>
<path class="c8" d="M33.9 24.7L33.8 24.8Q0 0 -34.8 -26.3L-34.8 -26.4Q0 0 33.9 24.7Z"/>
<path class="c8" d="M33.8 24.8A41.9 41.9 0 0 1 33.7 25Q0 0 -25.4 -35.5A43.6 43.6 0 0 1 -25.3 -35.6Q0 0 33.8 24.8Z"/>
<path class="c8" d="M33.7 25L33.6 25.1Q0 0 -17.5 -40L-17.4 -40Q0 0 33.7 25Z"/>
<path class="c8" d="M33.6 25.1L33.6 25.1Q0 0 -5.5 -43.3L-5.4 -43.3Q0 0 33.6 25.1Z"/>
<path class="c9" d="M32 27.1L32 27.1Q0 0 -27.9 33.5L-27.9 33.5Q0 0 32 27.1Z"/>
<path class="c9" d="M32 27.1L32 27.1Q0 0 -35.8 25L-35.9 24.9Q0 0 32 27.1Z"/>
<path class="c9" d="M32 27.1L31.9 27.2Q0 0 -40.9 15.1L-41 15.1Q0 0 32 27.1Z"/>
<path class="c9" d="M31.9 27.2L31.9 27.2Q0 0 -43.5 3.6L-43.5 3.6Q0 0 31.9 27.2Z"/>
<path class="c9" d="M31.9 27.2L31.8 27.3Q0 0 -43.1 -7.1L-43.1 -7.2Q0 0 31.9 27.2Z"/>
<path class="c9" d="M32.7 26.3A41.9 41.9 0 0 1 32.4 26.6Q0 0 -40.2 -17A43.6 43.6 0 0 1 -40 -17.5Q0 0 32.7 26.3Z"/>
<path class="c9" d="M32.4 26.6L32.3 26.7Q0 0 -34.8 -26.4L-34.6 -26.5Q0 0 32.4 26.6Z"/>
<path class="c9" d="M32.3 26.7A41.9 41.9 0 0 1 32.2 26.9Q0 0 -25.3 -35.6A43.6 43.6 0 0 1 -25.1 -35.7Q0 0 32.3 26.7Z"/>
<path class="c9" d="M32.2 26.9L32.1 27Q0 0 -17.4 -40L-17.3 -40.1Q0 0 32.2 26.9Z"/>
<path class="c9" d="M32.1 27L32 27.1Q0 0 -5.4 -43.3L-5.3 -43.3Q0 0 32.1 27Z"/>
<path class="c10" d="M31.1 28.2A41.9 41.9 0 0 1 30.8 28.4Q0 0 -27.9 33.5A43.6 43.6 0 0 1 -28.1 33.4Q0 0 31.1 28.2Z"/>
<path class="c10" d="M30.8 28.4A41.9 41.9 0 0 1 30.6 28.7Q0 0 -41 15.1A43.6 43.6 0 0 1 -41.1 14.8Q0 0 30.8 28.4Z"/>
<path class="c10" d="M30.6 28.7L30.4 28.8Q0 0 -43.5 3.6L-43.5 3.4Q0 0 30.6 28.7Z"/>
<path class="c10" d="M30.4 28.8A41.9 41.9 0 0 1 30.2 29.1Q0 0 -40 -17.5A43.6 43.6 0 0 1 -39.8 -18Q0 0 30.4 28.8Z"/>
<path class="c10" d="M30.2 29.1A41.9 41.9 0 0 1 30 29.2Q0 0 -34.6 -26.5A43.6 43.6 0 0 1 -34.5 -26.8Q0 0 30.2 29.1Z"/>
<path class="c10" d="M30 29.2L29.9 29.3Q0 0 -17.3 -40.1L-17.2 -40.1Q0 0 30 29.2Z"/>
<path class="c10" d="M29.9 29.3A41.9 41.9 0 0 1 29.8 29.4Q0 0 -5.3 -43.3A43.6 43.6 0 0 1 -5.1 -43.4Q0 0 29.9 29.3Z"/>
<path class="c0" d="M28.7 30.6A41.9 41.9 0 0 1 28.4 30.8Q0 0 -28.1 33.4A43.6 43.6 0 0 1 -28.3 33.2Q0 0 28.7 30.6Z"/>
<path class="c0" d="M28.4 30.8A41.9 41.9 0 0 1 28.2 31Q0 0 -41.1 14.8A43.6 43.6 0 0 1 -41.2 14.5Q0 0 28.4 30.8Z"/>
<path class="c0" d="M28.2 31A41.9 41.9 0 0 1 27.9 31.3Q0 0 -43.1 -7.2A43.6 43.6 0 0 1 -43 -7.5Q0 0 28.2 31Z"/>
<path class="c0" d="M27.9 31.3A41.9 41.9 0 0 1 27.6 31.5Q0 0 -34.5 -26.8A43.6 43.6 0 0 1 -34.2 -27.1Q0 0 27.9 31.3Z"/>
<path class="c0" d="M27.6 31.5A41.9 41.9 0 0 1 27.5 31.7Q0 0 -25.1 -35.7A43.6 43.6 0 0 1 -24.9 -35.9Q0 0 27.6 31.5Z"/>
<path class="c1" d="M25.9 33A41.9 41.9 0 0 1 25.6 33.2Q0 0 -28.3 33.2A43.6 43.6 0 0 1 -28.4 33.1Q0 0 25.9 33Z"/>
<path class="c1" d="M25.6 33.2L25.5 33.3Q0 0 -35.9 24.9L-36 24.7Q0 0 25.6 33.2Z"/>
<path class="c1" d="M25.5 33.3A41.9 41.9 0 0 1 25.3 33.4Q0 0 -43.5 3.4A43.6 43.6 0 0 1 -43.5 3.2Q0 0 25.5 33.3Z"/>
<path class="c1" d="M25.3 33.4A41.9 41.9 0 0 1 25 33.6Q0 0 -43 -7.5A43.6 43.6 0 0 1 -42.9 -7.8Q0 0 25.3 33.4Z"/>
<path class="c1" d="M26.2 32.7L26.1 32.8Q0 0 -24.9 -35.9L-24.8 -35.9Q0 0 26.2 32.7Z"/>
<path class="c1" d="M26.1 32.8A41.9 41.9 0 0 1 25.9 33Q0 0 -17.2 -40.1A43.6 43.6 0 0 1 -17 -40.2Q0 0 26.1 32.8Z"/>
<path class="c2" d="M23.7 34.6L23.6 34.7Q0 0 -36 24.7L-36 24.6Q0 0 23.7 34.6Z"/>
<path class="c2" d="M23.6 34.7A41.9 41.9 0 0 1 23.4 34.8Q0 0 -41.2 14.5A43.6 43.6 0 0 1 -41.2 14.3Q0 0 23.6 34.7Z"/>
<path class="c2" d="M23.4 34.8A41.9 41.9 0 0 1 23.2 34.9Q0 0 -43.5 3.2A43.6 43.6 0 0 1 -43.5 3Q0 0 23.4 34.8Z"/>
<path class="c2" d="M23.2 34.9L23.1 35Q0 0 -42.9 -7.8L-42.9 -8Q0 0 23.2 34.9Z"/>
<path class="c2" d="M23.1 35A41.9 41.9 0 0 1 22.9 35.2Q0 0 -34.2 -27.1A43.6 43.6 0 0 1 -34 -27.4Q0 0 23.1 35Z"/>
<path class="c2" d="M22.9 35.2L22.7 35.2Q0 0 -24.8 -35.9L-24.6 -36Q0 0 22.9 35.2Z"/>
<path class="c2" d="M22.7 35.2L22.5 35.4Q0 0 -17 -40.2L-16.8 -40.3Q0 0 22.7 35.2Z"/>
<path class="c3" d="M21.2 36.2A41.9 41.9 0 0 1 20.9 36.3Q0 0 -28.4 33.1A43.6 43.6 0 0 1 -28.6 33Q0 0 21.2 36.2Z"/>
<path class="c3" d="M20.9 36.3A41.9 41.9 0 0 1 20.7 36.5Q0 0 -36 24.6A43.6 43.6 0 0 1 -36.2 24.4Q0 0 20.9 36.3Z"/>
<path class="c3" d="M20.7 36.5L20.6 36.5Q0 0 -42.9 -8L-42.9 -8.1Q0 0 20.7 36.5Z"/>
<path class="c3" d="M20.6 36.5A41.9 41.9 0 0 1 20.4 36.6Q0 0 -39.8 -18A43.6 43.6 0 0 1 -39.7 -18.2Q0 0 20.6 36.5Z"/>
<path class="c3" d="M20.4 36.6A41.9 41.9 0 0 1 20.2 36.8Q0 0 -16.8 -40.3A43.6 43.6 0 0 1 -16.6 -40.4Q0 0 20.4 36.6Z"/>
<path class="c3" d="M20.2 36.8A41.9 41.9 0 0 1 20 36.8Q0 0 -5.1 -43.4A43.6 43.6 0 0 1 -4.8 -43.4Q0 0 20.2 36.8Z"/>
<path class="c4" d="M18 37.9A41.9 41.9 0 0 1 17.6 38Q0 0 -28.6 33A43.6 43.6 0 0 1 -28.7 32.9Q0 0 18 37.9Z"/>
<path class="c4" d="M17.6 38L17.5 38.1Q0 0 -42.9 -8.1L-42.9 -8.3Q0 0 17.6 38Z"/>
<path class="c4" d="M18.6 37.6A41.9 41.9 0 0 1 18.4 37.7Q0 0 -24.6 -36A43.6 43.6 0 0 1 -24.5 -36.1Q0 0 18.6 37.6Z"/>
<path class="c4" d="M18.4 37.7A41.9 41.9 0 0 1 18 37.9Q0 0 -4.8 -43.4A43.6 43.6 0 0 1 -4.1 -43.5Q0 0 18.4 37.7Z"/>
<path class="c5" d="M16 38.8L15.8 38.8Q0 0 -28.7 32.9L-28.8 32.8Q0 0 16 38.8Z"/>
<path class="c5" d="M15.8 38.8L15.7 38.9Q0 0 -43.5 3L-43.5 2.9Q0 0 15.8 38.8Z"/>
<path class="c5" d="M15.7 38.9A41.9 41.9 0 0 1 15.5 38.9Q0 0 -42.9 -8.3A43.6 43.6 0 0 1 -42.8 -8.5Q0 0 15.7 38.9Z"/>
<path class="c5" d="M15.5 38.9A41.9 41.9 0 0 1 15.3 39Q0 0 -39.7 -18.2A43.6 43.6 0 0 1 -39.5 -18.5Q0 0 15.5 38.9Z"/>
<path class="c5" d="M15.3 39L15.3 39.1Q0 0 -34 -27.4L-33.9 -27.4Q0 0 15.3 39Z"/>
<path class="c5" d="M15.3 39.1L15.1 39.1Q0 0 -16.6 -40.4L-16.5 -40.4Q0 0 15.3 39.1Z"/>
<path class="c5" d="M15.1 39.1A41.9 41.9 0 0 1 14.9 39.2Q0 0 -4.1 -43.5A43.6 43.6 0 0 1 -3.8 -43.5Q0 0 15.1 39.1Z"/>
<path class="c6" d="M13.4 39.7L13.2 39.8Q0 0 -28.8 32.8L-28.9 32.7Q0 0 13.4 39.7Z"/>
<path class="c6" d="M13.2 39.8L13.1 39.8Q0 0 -36.2 24.4L-36.3 24.3Q0 0 13.2 39.8Z"/>
<path class="c6" d="M13.1 39.8A41.9 41.9 0 0 1 12.8 39.9Q0 0 -43.5 2.9A43.6 43.6 0 0 1 -43.6 2.7Q0 0 13.1 39.8Z"/>
<path class="c6" d="M12.8 39.9A41.9 41.9 0 0 1 12.7 40Q0 0 -39.5 -18.5A43.6 43.6 0 0 1 -39.4 -18.7Q0 0 12.8 39.9Z"/>
<path class="c6" d="M12.7 40A41.9 41.9 0 0 1 12.5 40Q0 0 -33.9 -27.4A43.6 43.6 0 0 1 -33.8 -27.6Q0 0 12.7 40Z"/>
<path class="c6" d="M12.5 40L12.4 40.1Q0 0 -16.5 -40.4L-16.4 -40.5Q0 0 12.5 40Z"/>
<path class="c7" d="M10.2 40.7L10 40.7Q0 0 -28.9 32.7L-29 32.7Q0 0 10.2 40.7Z"/>
<path class="c7" d="M10 40.7L9.9 40.7Q0 0 -41.2 14.3L-41.3 14.2Q0 0 10 40.7Z"/>
<path class="c7" d="M10.8 40.5L10.8 40.5Q0 0 -39.4 -18.7L-39.4 -18.8Q0 0 10.8 40.5Z"/>
<path class="c7" d="M10.8 40.5A41.9 41.9 0 0 1 10.6 40.6Q0 0 -33.8 -27.6A43.6 43.6 0 0 1 -33.6 -27.8Q0 0 10.8 40.5Z"/>
<path class="c7" d="M10.6 40.6L10.4 40.6Q0 0 -24.5 -36.1L-24.3 -36.2Q0 0 10.6 40.6Z"/>
<path class="c7" d="M10.4 40.6L10.3 40.6Q0 0 -16.4 -40.5L-16.3 -40.5Q0 0 10.4 40.6Z"/>
<path class="c7" d="M10.3 40.6A41.9 41.9 0 0 1 10.2 40.7Q0 0 -3.8 -43.5A43.6 43.6 0 0 1 -3.6 -43.5Q0 0 10.3 40.6Z"/>
<path class="c8" d="M8.3 41.1L8.2 41.1Q0 0 -29 32.7L-29 32.6Q0 0 8.3 41.1Z"/>
<path class="c8" d="M8.2 41.1L8 41.1Q0 0 -36.3 24.3L-36.4 24.1Q0 0 8.2 41.1Z"/>
<path class="c8" d="M8 41.1A41.9 41.9 0 0 1 7.8 41.2Q0 0 -41.3 14.2A43.6 43.6 0 0 1 -41.3 14Q0 0 8 41.1Z"/>
<path class="c8" d="M7.8 41.2L7.6 41.2Q0 0 -24.3 -36.2L-24.2 -36.3Q0 0 7.8 41.2Z"/>
<path class="c8" d="M7.6 41.2A41.9 41.9 0 0 1 7.4 41.3Q0 0 -3.6 -43.5A43.6 43.6 0 0 1 -3.3 -43.5Q0 0 7.6 41.2Z"/>
<path class="c9" d="M5.8 41.5L5.7 41.5Q0 0 -29 32.6L-29.1 32.6Q0 0 5.8 41.5Z"/>
<path class="c9" d="M5.7 41.5L5.5 41.6Q0 0 -36.4 24.1L-36.5 24Q0 0 5.7 41.5Z"/>
<path class="c9" d="M5.5 41.6L5.3 41.6Q0 0 -43.6 2.7L-43.6 2.6Q0 0 5.5 41.6Z"/>
<path class="c9" d="M5.3 41.6A41.9 41.9 0 0 1 5.2 41.6Q0 0 -39.4 -18.8A43.6 43.6 0 0 1 -39.3 -19Q0 0 5.3 41.6Z"/>
<path class="c9" d="M5.2 41.6L5 41.6Q0 0 -33.6 -27.8L-33.6 -27.9Q0 0 5.2 41.6Z"/>
<path class="c9" d="M5 41.6L5 41.6Q0 0 -16.3 -40.5L-16.2 -40.5Q0 0 5 41.6Z"/>
<path class="c10" d="M2.9 41.8L2.7 41.8Q0 0 -29.1 32.6L-29.1 32.5Q0 0 2.9 41.8Z"/>
<path class="c10" d="M2.7 41.8L2.6 41.8Q0 0 -42.8 -8.5L-42.8 -8.6Q0 0 2.7 41.8Z"/>
<path class="c10" d="M3.4 41.8A41.9 41.9 0 0 1 3.2 41.8Q0 0 -39.3 -19A43.6 43.6 0 0 1 -39.2 -19.3Q0 0 3.4 41.8Z"/>
<path class="c10" d="M3.2 41.8L3.1 41.8Q0 0 -24.2 -36.3L-24.1 -36.4Q0 0 3.2 41.8Z"/>
<path class="c10" d="M3.1 41.8A41.9 41.9 0 0 1 2.9 41.8Q0 0 -3.3 -43.5A43.6 43.6 0 0 1 -3 -43.5Q0 0 3.1 41.8Z"/>
<path class="c0" d="M1 41.9A41.9 41.9 0 0 1 0.7 41.9Q0 0 -29.1 32.5A43.6 43.6 0 0 1 -29.2 32.4Q0 0 1 41.9Z"/>
<path class="c0" d="M0.7 41.9L0.6 41.9Q0 0 -42.8 -8.6L-42.8 -8.7Q0 0 0.7 41.9Z"/>
<path class="c0" d="M0.6 41.9A41.9 41.9 0 0 1 0.3 41.9Q0 0 -16.2 -40.5A43.6 43.6 0 0 1 -16 -40.6Q0 0 0.6 41.9Z"/>
<path class="c0" d="M0.3 41.9L0.2 41.9Q0 0 -3 -43.5L-2.8 -43.6Q0 0 0.3 41.9Z"/>
<path class="c1" d="M-1.4 41.9L-1.5 41.9Q0 0 -36.5 24L-36.6 23.8Q0 0 -1.4 41.9Z"/>
<path class="c1" d="M-1.5 41.9L-1.7 41.9Q0 0 -41.3 14L-41.4 13.9Q0 0 -1.5 41.9Z"/>
<path class="c1" d="M-1.7 41.9L-1.8 41.9Q0 0 -42.8 -8.7L-42.7 -8.8Q0 0 -1.7 41.9Z"/>
<path class="c1" d="M-1.8 41.9L-1.9 41.9Q0 0 -39.2 -19.3L-39.1 -19.4Q0 0 -1.8 41.9Z"/>
<path class="c1" d="M-1.9 41.9A41.9 41.9 0 0 1 -2.1 41.9Q0 0 -2.8 -43.6A43.6 43.6 0 0 1 -2.5 -43.6Q0 0 -1.9 41.9Z"/>
<path class="c2" d="M-3.9 41.7L-4 41.7Q0 0 -36.6 23.8L-36.6 23.7Q0 0 -3.9 41.7Z"/>
<path class="c2" d="M-4 41.7L-4.2 41.7Q0 0 -43.6 2.6L-43.6 2.5Q0 0 -4 41.7Z"/>
<path class="c2" d="M-4.2 41.7L-4.3 41.7Q0 0 -42.7 -8.8L-42.7 -9Q0 0 -4.2 41.7Z"/>
<path class="c2" d="M-3.7 41.8L-3.8 41.8Q0 0 -39.1 -19.4L-39 -19.6Q0 0 -3.7 41.8Z"/>
<path class="c2" d="M-3.8 41.8L-3.9 41.7Q0 0 -24.1 -36.4L-24 -36.5Q0 0 -3.8 41.8Z"/>
<path class="c3" d="M-5.9 41.5L-6 41.5Q0 0 -29.2 32.4L-29.3 32.4Q0 0 -5.9 41.5Z"/>
<path class="c3" d="M-6 41.5L-6.1 41.5Q0 0 -41.4 13.9L-41.4 13.7Q0 0 -6 41.5Z"/>
<path class="c3" d="M-6.1 41.5L-6.3 41.5Q0 0 -43.6 2.5L-43.6 2.4Q0 0 -6.1 41.5Z"/>
<path class="c3" d="M-6.3 41.5L-6.4 41.4Q0 0 -33.6 -27.9L-33.4 -28Q0 0 -6.3 41.5Z"/>
<path class="c3" d="M-6.4 41.4L-6.5 41.4Q0 0 -24 -36.5L-23.9 -36.5Q0 0 -6.4 41.4Z"/>
<path class="c3" d="M-6.5 41.4L-6.6 41.4Q0 0 -2.5 -43.6L-2.4 -43.6Q0 0 -6.5 41.4Z"/>
<path class="c4" d="M-8.2 41.1L-8.3 41.1Q0 0 -41.4 13.7L-41.5 13.7Q0 0 -8.2 41.1Z"/>
<path class="c4" d="M-8.3 41.1L-8.4 41.1Q0 0 -42.7 -9L-42.7 -9.1Q0 0 -8.3 41.1Z"/>
<path class="c4" d="M-8.4 41.1L-8.5 41.1Q0 0 -39 -19.6L-38.9 -19.7Q0 0 -8.4 41.1Z"/>
<path class="c4" d="M-8.5 41.1A41.9 41.9 0 0 1 -8.7 41Q0 0 -16 -40.6A43.6 43.6 0 0 1 -15.9 -40.7Q0 0 -8.5 41.1Z"/>
<path class="c4" d="M-8.7 41L-8.8 41Q0 0 -2.4 -43.6L-2.3 -43.6Q0 0 -8.7 41Z"/>
<path class="c5" d="M-10.7 40.5L-10.9 40.5Q0 0 -41.5 13.7L-41.5 13.5Q0 0 -10.7 40.5Z"/>
<path class="c5" d="M-10.9 40.5L-11 40.5Q0 0 -43.6 2.4L-43.6 2.3Q0 0 -10.9 40.5Z"/>
<path class="c5" d="M-10.4 40.6A41.9 41.9 0 0 1 -10.6 40.6Q0 0 -33.4 -28A43.6 43.6 0 0 1 -33.3 -28.2Q0 0 -10.4 40.6Z"/>
<path class="c5" d="M-10.6 40.6L-10.7 40.5Q0 0 -23.9 -36.5L-23.8 -36.6Q0 0 -10.6 40.6Z"/>
<path class="c6" d="M-12.6 40L-12.6 40Q0 0 -41.5 13.5L-41.5 13.4Q0 0 -12.6 40Z"/>
<path class="c6" d="M-12.6 40L-12.7 40Q0 0 -43.6 2.3L-43.6 2.2Q0 0 -12.6 40Z"/>
<path class="c6" d="M-12.7 40L-12.8 39.9Q0 0 -42.7 -9.1L-42.7 -9.1Q0 0 -12.7 40Z"/>
<path class="c6" d="M-12.8 39.9L-12.9 39.9Q0 0 -38.9 -19.7L-38.9 -19.9Q0 0 -12.8 39.9Z"/>
<path class="c6" d="M-12.9 39.9L-13 39.9Q0 0 -33.3 -28.2L-33.2 -28.4Q0 0 -12.9 39.9Z"/>
<path class="c6" d="M-13 39.9L-13.1 39.8Q0 0 -23.8 -36.6L-23.7 -36.6Q0 0 -13 39.9Z"/>
<path class="c6" d="M-13.1 39.8L-13.2 39.8Q0 0 -2.3 -43.6L-2.2 -43.6Q0 0 -13.1 39.8Z"/>
<path class="c8" d="M-15.3 39A41.9 41.9 0 0 1 -16.2 38.7Q0 0 -33.2 -28.4A43.6 43.6 0 0 1 -32.4 -29.3Q0 0 -15.3 39Z"/>
<path class="c8" d="M-16.2 38.7A41.9 41.9 0 0 1 -18.9 37.4Q0 0 -15.9 -40.7A43.6 43.6 0 0 1 -13.4 -41.5Q0 0 -16.2 38.7Z"/>
</g>
<g fill="none">
<path d="M-32.33 58.32A66.68 66.68 0 0 1 -44.71 49.48M-46.32 47.97A66.68 66.68 0 0 1 -55.99 36.22M-57.16 34.34A66.68 66.68 0 0 1 -63.46 20.5M-64.1 18.38A66.68 66.68 0 0 1 -66.6 3.37M-66.67 1.16A66.68 66.68 0 0 1 -65.2 -13.98M0 -60.41A60.41 60.41 0 0 1 10.72 -59.45M12.29 -59.14A60.41 60.41 0 0 1 19.18 -57.28M21.93 -56.28A60.41 60.41 0 0 1 27.29 -53.89M32.17 -51.13A60.41 60.41 0 0 1 37.99 -46.96M40.04 -45.22A60.41 60.41 0 0 1 44.1 -41.28M46.74 -38.26A60.41 60.41 0 0 1 47.69 -37.08M48.42 -36.11A60.41 60.41 0 0 1 49.13 -35.14M49.72 -34.31A60.41 60.41 0 0 1 50.5 -33.14M51.48 -31.6A60.41 60.41 0 0 1 53.04 -28.91M53.94 -27.19A60.41 60.41 0 0 1 54.78 -25.45M56.58 -21.15A60.41 60.41 0 0 1 57.79 -17.59M57.79 -17.59A60.41 60.41 0 0 1 57.97 -16.99M57.97 -16.99A60.41 60.41 0 0 1 58.25 -16.01M58.25 -16.01A60.41 60.41 0 0 1 58.82 -13.74M58.82 -13.74A60.41 60.41 0 0 1 59.21 -11.96M60.4 1.09A60.41 60.41 0 0 1 60.35 2.63M60.35 2.63A60.41 60.41 0 0 1 60.29 3.71M60.29 3.71A60.41 60.41 0 0 1 60.13 5.81M60.13 5.81A60.41 60.41 0 0 1 60.01 6.93M60.01 6.93A60.41 60.41 0 0 1 59.87 7.99M59.58 9.97A60.41 60.41 0 0 1 59.52 10.28M59.52 10.28A60.41 60.41 0 0 1 59.44 10.75M59.44 10.75A60.41 60.41 0 0 1 59.35 11.23M59.35 11.23A60.41 60.41 0 0 1 59.32 11.39M59.32 11.39A60.41 60.41 0 0 1 59.25 11.74M57.45 18.67A60.41 60.41 0 0 1 57.21 19.4M57.21 19.4A60.41 60.41 0 0 1 57.02 19.94M57.02 19.94A60.41 60.41 0 0 1 56.73 20.75M56.73 20.75A60.41 60.41 0 0 1 56.33 21.8M56.33 21.8A60.41 60.41 0 0 1 56.14 22.29M54.8 25.4A60.41 60.41 0 0 1 54.54 25.96M54.54 25.96A60.41 60.41 0 0 1 54.45 26.16M54.45 26.16A60.41 60.41 0 0 1 54.31 26.45M54.31 26.45A60.41 60.41 0 0 1 54.2 26.66M54.2 26.66A60.41 60.41 0 0 1 53.58 27.89M52.73 29.47A60.41 60.41 0 0 1 52.7 29.51M52.7 29.51A60.41 60.41 0 0 1 52.68 29.56M52.68 29.56A60.41 60.41 0 0 1 52.65 29.6M52.65 29.6A60.41 60.41 0 0 1 52.64 29.64M52.64 29.64A60.41 60.41 0 0 1 52.62 29.67M49.96 33.95A60.41 60.41 0 0 1 49.7 34.33M49.7 34.33A60.41 60.41 0 0 1 49.56 34.53M49.56 34.53A60.41 60.41 0 0 1 49.31 34.89M49.31 34.89A60.41 60.41 0 0 1 49.05 35.25M49.05 35.25A60.41 60.41 0 0 1 48.87 35.5M46.15 38.98A60.41 60.41 0 0 1 46.12 39.01M46.12 39.01A60.41 60.41 0 0 1 46.06 39.08M46.06 39.08A60.41 60.41 0 0 1 46.01 39.13M46.01 39.13A60.41 60.41 0 0 1 45.95 39.21M45.95 39.21A60.41 60.41 0 0 1 45.86 39.31M44.75 40.58A60.41 60.41 0 0 1 44.39 40.96M44.39 40.96A60.41 60.41 0 0 1 44.07 41.31M44.07 41.31A60.41 60.41 0 0 1 43.87 41.53M41.34 44.05A60.41 60.41 0 0 1 40.94 44.41M40.94 44.41A60.41 60.41 0 0 1 40.59 44.73M40.59 44.73A60.41 60.41 0 0 1 40.19 45.1M37.31 47.51A60.41 60.41 0 0 1 36.91 47.82M36.91 47.82A60.41 60.41 0 0 1 36.72 47.96M36.72 47.96A60.41 60.41 0 0 1 36.44 48.18M36.44 48.18A60.41 60.41 0 0 1 36.05 48.47M34.16 49.82A60.41 60.41 0 0 1 33.98 49.94M33.98 49.94A60.41 60.41 0 0 1 33.73 50.11M33.73 50.11A60.41 60.41 0 0 1 33.45 50.3M33.45 50.3A60.41 60.41 0 0 1 33.21 50.46M30.47 52.16A60.41 60.41 0 0 1 30.15 52.34M30.15 52.34A60.41 60.41 0 0 1 29.84 52.52M29.84 52.52A60.41 60.41 0 0 1 29.65 52.63M25.92 54.56A60.41 60.41 0 0 1 25.42 54.8M25.42 54.8A60.41 60.41 0 0 1 25.15 54.92M23.02 55.84A60.41 60.41 0 0 1 22.8 55.94M22.8 55.94A60.41 60.41 0 0 1 22.67 55.99M22.67 55.99A60.41 60.41 0 0 1 22.39 56.1M19.31 57.24A60.41 60.41 0 0 1 19.07 57.31M19.07 57.31A60.41 60.41 0 0 1 18.9 57.37M18.9 57.37A60.41 60.41 0 0 1 18.49 57.51M14.64 58.6A60.41 60.41 0 0 1 14.43 58.66M14.43 58.66A60.41 60.41 0 0 1 14.24 58.7M11.97 59.21A60.41 60.41 0 0 1 11.82 59.24M11.82 59.24A60.41 60.41 0 0 1 11.59 59.28M11.59 59.28A60.41 60.41 0 0 1 11.21 59.36M8.38 59.82A60.41 60.41 0 0 1 8.19 59.85M8.19 59.85A60.41 60.41 0 0 1 7.92 59.88M7.92 59.88A60.41 60.41 0 0 1 7.67 59.92M4.15 60.26A60.41 60.41 0 0 1 3.92 60.28M3.92 60.28A60.41 60.41 0 0 1 3.71 60.29M1.39 60.39A60.41 60.41 0 0 1 1.07 60.4M1.07 60.4A60.41 60.41 0 0 1 0.81 60.4M-2 60.37A60.41 60.41 0 0 1 -2.23 60.36M-2.23 60.36A60.41 60.41 0 0 1 -2.41 60.36M-2.41 60.36A60.41 60.41 0 0 1 -2.57 60.35M-5.61 60.14A60.41 60.41 0 0 1 -5.81 60.13M-5.81 60.13A60.41 60.41 0 0 1 -6.02 60.1M-6.02 60.1A60.41 60.41 0 0 1 -6.25 60.08M-8.55 59.8A60.41 60.41 0 0 1 -8.66 59.78M-8.66 59.78A60.41 60.41 0 0 1 -8.85 59.75M-8.85 59.75A60.41 60.41 0 0 1 -9.01 59.73M-11.77 59.25A60.41 60.41 0 0 1 -11.92 59.22M-11.92 59.22A60.41 60.41 0 0 1 -12.09 59.18M-15.42 58.4A60.41 60.41 0 0 1 -15.67 58.34M-15.67 58.34A60.41 60.41 0 0 1 -15.88 58.28M-18.1 57.63A60.41 60.41 0 0 1 -18.22 57.59M-18.22 57.59A60.41 60.41 0 0 1 -18.3 57.57M-18.3 57.57A60.41 60.41 0 0 1 -18.44 57.52" stroke="#2E8B2E" stroke-width="3.75"/>
<path d="M-22.24 40.12A45.87 45.87 0 0 1 -30.75 34.04M-31.87 33A45.87 45.87 0 0 1 -38.52 24.92M-39.32 23.63A45.87 45.87 0 0 1 -43.65 14.1M-44.1 12.64A45.87 45.87 0 0 1 -45.81 2.32M-45.87 0.8A45.87 45.87 0 0 1 -44.85 -9.62" stroke="#2E8B2E" stroke-width="4.05"/>
<path d="M-29.28 52.83A60.41 60.41 0 0 1 -34.54 49.56M-38.91 46.2A60.41 60.41 0 0 1 -39.15 46M-41.96 43.45A60.41 60.41 0 0 1 -46.84 38.14M-52.42 30.02A60.41 60.41 0 0 1 -54.83 25.34M-56.82 20.5A60.41 60.41 0 0 1 -56.96 20.1M-58.67 14.39A60.41 60.41 0 0 1 -59.72 9.09M-60.37 -2.08A60.41 60.41 0 0 1 -60.02 -6.79M-59.58 -9.94A60.41 60.41 0 0 1 -59.5 -10.39M-57.97 -16.99A60.41 60.41 0 0 1 -57.26 -19.24M-52.24 -30.32A60.41 60.41 0 0 1 -50.43 -33.25M-47.68 -37.09A60.41 60.41 0 0 1 -47.32 -37.55M-41.27 -44.11A60.41 60.41 0 0 1 -37.43 -47.41M-34.68 -49.46A60.41 60.41 0 0 1 -34.45 -49.62M-29.7 -52.6A60.41 60.41 0 0 1 -27.72 -53.67M-22.45 -56.08A60.41 60.41 0 0 1 -22.19 -56.18M-16.65 -58.07A60.41 60.41 0 0 1 -15.47 -58.39M0 -66.68A66.68 66.68 0 0 1 49.32 -44.88M45.63 48.62A66.68 66.68 0 0 1 43.69 50.38M1.53 66.67A66.68 66.68 0 0 1 0.35 66.68" stroke="#B0C4DE" stroke-width="3.75"/>
<path d="M-34.54 49.56A60.41 60.41 0 0 1 -36.29 48.29M-47.6 37.18A60.41 60.41 0 0 1 -47.99 36.69M-54.83 25.34A60.41 60.41 0 0 1 -55.21 24.5M-56.96 20.1A60.41 60.41 0 0 1 -57.05 19.84M-59.72 9.09A60.41 60.41 0 0 1 -59.96 7.34M-60.4 1.05A60.41 60.41 0 0 1 -60.4 -0.47M-58.15 -16.35A60.41 60.41 0 0 1 -57.97 -16.99M-50.43 -33.25A60.41 60.41 0 0 1 -49.69 -34.35M-47.32 -37.55A60.41 60.41 0 0 1 -47.06 -37.86M-43.45 -41.96A60.41 60.41 0 0 1 -42.46 -42.96M-27.72 -53.67A60.41 60.41 0 0 1 -25.65 -54.69M-12.78 -59.04A60.41 60.41 0 0 1 -11.69 -59.26M62.46 -23.35A66.68 66.68 0 0 1 66.42 -5.93M37.71 54.99A66.68 66.68 0 0 1 35.83 56.24M-5.85 66.43A66.68 66.68 0 0 1 -6.9 66.33" stroke="#6495ED" stroke-width="3.75"/>
<path d="M-36.29 48.29A60.41 60.41 0 0 1 -36.98 47.76M-39.15 46A60.41 60.41 0 0 1 -39.37 45.82M-46.84 38.14A60.41 60.41 0 0 1 -47.6 37.18M-51.78 31.11A60.41 60.41 0 0 1 -52.42 30.02M-58.07 16.65A60.41 60.41 0 0 1 -58.67 14.39M-60.22 4.7A60.41 60.41 0 0 1 -60.24 4.43M-60.4 -0.47A60.41 60.41 0 0 1 -60.37 -2.08M-59.5 -10.39A60.41 60.41 0 0 1 -59.43 -10.79M-58.61 -14.61A60.41 60.41 0 0 1 -58.15 -16.35M-52.83 -29.28A60.41 60.41 0 0 1 -52.24 -30.32M-42.46 -42.96A60.41 60.41 0 0 1 -41.27 -44.11M-31.11 -51.78A60.41 60.41 0 0 1 -29.7 -52.6M-23.84 -55.5A60.41 60.41 0 0 1 -23.53 -55.64M-15.47 -58.39A60.41 60.41 0 0 1 -12.78 -59.04M-3.89 -60.28A60.41 60.41 0 0 1 -3.5 -60.3M51.6 -42.24A66.68 66.68 0 0 1 61.34 -26.16M41.72 52.02A66.68 66.68 0 0 1 39.8 53.51M-2.21 66.65A66.68 66.68 0 0 1 -3.3 66.6" stroke="#FAF0E6" stroke-width="3.75"/>
<path d="M-36.98 47.76A60.41 60.41 0 0 1 -37.68 47.22M-47.99 36.69A60.41 60.41 0 0 1 -48.65 35.81M-49.88 34.06A60.41 60.41 0 0 1 -50.09 33.76M-55.21 24.5A60.41 60.41 0 0 1 -55.95 22.77M-59.96 7.34A60.41 60.41 0 0 1 -60.05 6.5M-60.02 -6.79A60.41 60.41 0 0 1 -59.92 -7.67M-57.26 -19.24A60.41 60.41 0 0 1 -56.88 -20.34M-55.05 -24.87A60.41 60.41 0 0 1 -54.91 -25.18M-37.43 -47.41A60.41 60.41 0 0 1 -36.9 -47.82M-25.65 -54.69A60.41 60.41 0 0 1 -25.13 -54.93M-23.29 -55.73A60.41 60.41 0 0 1 -22.93 -55.88M-11.69 -59.26A60.41 60.41 0 0 1 -10 -59.57M-7 -60A60.41 60.41 0 0 1 -6.63 -60.04M66.63 -2.79A66.68 66.68 0 0 1 66.1 8.82M33.64 57.58A66.68 66.68 0 0 1 31.81 58.61M-9.44 66.01A66.68 66.68 0 0 1 -10.47 65.86" stroke="#CD5C5C" stroke-width="3.75"/>
<path d="M-37.82 47.1A60.41 60.41 0 0 1 -38.16 46.82M-48.93 35.42A60.41 60.41 0 0 1 -49.27 34.95M-56.12 22.35A60.41 60.41 0 0 1 -56.4 21.63M-60.07 6.38A60.41 60.41 0 0 1 -60.15 5.54M-59.88 -7.97A60.41 60.41 0 0 1 -59.82 -8.41M-54.91 -25.18A60.41 60.41 0 0 1 -54.72 -25.58M-46.29 -38.81A60.41 60.41 0 0 1 -46.06 -39.08M-5.74 -60.13A60.41 60.41 0 0 1 -5.24 -60.18M63.42 20.61A66.68 66.68 0 0 1 61.91 24.76M25.42 61.65A66.68 66.68 0 0 1 23.73 62.32M-16.51 64.61A66.68 66.68 0 0 1 -17.53 64.34" stroke="#3CB371" stroke-width="3.75"/>
<path d="M-38.16 46.82A60.41 60.41 0 0 1 -38.43 46.6M-56.4 21.63A60.41 60.41 0 0 1 -56.5 21.36M-60.27 4.07A60.41 60.41 0 0 1 -60.29 3.75M-59.82 -8.41A60.41 60.41 0 0 1 -59.65 -9.55M-56.4 -21.63A60.41 60.41 0 0 1 -56.25 -22.01M-54.72 -25.58A60.41 60.41 0 0 1 -54.58 -25.88M-46.97 -37.98A60.41 60.41 0 0 1 -46.75 -38.25M-24.82 -55.07A60.41 60.41 0 0 1 -24.56 -55.19M60.97 27.02A66.68 66.68 0 0 1 59.15 30.79M21.32 63.19A66.68 66.68 0 0 1 19.7 63.71M-19.98 63.62A66.68 66.68 0 0 1 -20.98 63.3" stroke="#7B68EE" stroke-width="3.75"/>
<path d="M-38.46 46.58A60.41 60.41 0 0 1 -38.66 46.41M-56.52 21.32A60.41 60.41 0 0 1 -56.66 20.95M-57.11 19.67A60.41 60.41 0 0 1 -57.22 19.35M-60.17 5.34A60.41 60.41 0 0 1 -60.2 5M-45.93 -39.24A60.41 60.41 0 0 1 -44.82 -40.5M-35.17 -49.11A60.41 60.41 0 0 1 -34.95 -49.27M-21.94 -56.28A60.41 60.41 0 0 1 -18.57 -57.48M-4.95 -60.2A60.41 60.41 0 0 1 -4.58 -60.23M55.15 37.48A66.68 66.68 0 0 1 53.4 39.95M13.22 65.36A66.68 66.68 0 0 1 11.78 65.63M-24.33 62.09A66.68 66.68 0 0 1 -30.07 59.52" stroke="#008080" stroke-width="3.75"/>
<path d="M-38.68 46.4A60.41 60.41 0 0 1 -38.91 46.2M-56.68 20.89A60.41 60.41 0 0 1 -56.82 20.5M-55.33 -24.23A60.41 60.41 0 0 1 -55.05 -24.87M-54.35 -26.36A60.41 60.41 0 0 1 -54.21 -26.65M-47.95 -36.74A60.41 60.41 0 0 1 -47.68 -37.09M-7.3 -59.96A60.41 60.41 0 0 1 -7 -60M-4.58 -60.23A60.41 60.41 0 0 1 -4.14 -60.26M49.4 44.79A66.68 66.68 0 0 1 47.47 46.84M5.35 66.47A66.68 66.68 0 0 1 4.09 66.56" stroke="#6B8E23" stroke-width="3.75"/>
<path d="M-39.53 45.68A60.41 60.41 0 0 1 -39.77 45.47M-48.65 35.81A60.41 60.41 0 0 1 -48.93 35.42M-55.95 22.77A60.41 60.41 0 0 1 -56.12 22.35M-59.92 -7.67A60.41 60.41 0 0 1 -59.88 -7.97M-56.88 -20.34A60.41 60.41 0 0 1 -56.42 -21.57M-54 -27.07A60.41 60.41 0 0 1 -53.88 -27.31M-49.54 -34.56A60.41 60.41 0 0 1 -48.9 -35.46M-36.9 -47.82A60.41 60.41 0 0 1 -35.62 -48.78M-34.1 -49.86A60.41 60.41 0 0 1 -33.87 -50.02M-25.13 -54.93A60.41 60.41 0 0 1 -24.84 -55.06M-22.19 -56.18A60.41 60.41 0 0 1 -21.94 -56.28M-10 -59.57A60.41 60.41 0 0 1 -8.48 -59.81M-6.63 -60.04A60.41 60.41 0 0 1 -5.74 -60.13M65.77 11.01A66.68 66.68 0 0 1 64.1 18.38M29.53 59.79A66.68 66.68 0 0 1 27.77 60.63M-12.99 65.41A66.68 66.68 0 0 1 -14.02 65.19" stroke="#BA55D3" stroke-width="3.75"/>
<path d="M-28.08 50.66A57.92 57.92 0 0 1 -38.83 42.98M-40.24 41.67A57.92 57.92 0 0 1 -48.63 31.46M-49.65 29.83A57.92 57.92 0 0 1 -55.12 17.8M-55.68 15.97A57.92 57.92 0 0 1 -57.85 2.93M-57.92 1.01A57.92 57.92 0 0 1 -56.64 -12.14M-56.2 -14.01A57.92 57.92 0 0 1 -51.56 -26.39M-50.66 -28.08A57.92 57.92 0 0 1 -42.98 -38.83M-41.67 -40.24A57.92 57.92 0 0 1 -31.46 -48.63M-29.83 -49.65A57.92 57.92 0 0 1 -17.8 -55.12M-15.97 -55.68A57.92 57.92 0 0 1 -2.93 -57.85" stroke="#2a2a2a" stroke-width="1.2"/>
<path d="M-50.33 33.4A60.41 60.41 0 0 1 -50.48 33.17M-55.65 -23.48A60.41 60.41 0 0 1 -55.33 -24.23M-54.5 -26.06A60.41 60.41 0 0 1 -54.35 -26.36M-48.11 -36.53A60.41 60.41 0 0 1 -47.95 -36.74M-34.95 -49.27A60.41 60.41 0 0 1 -34.68 -49.46M51.97 41.78A66.68 66.68 0 0 1 50.63 43.4M9.25 66.04A66.68 66.68 0 0 1 7.9 66.21" stroke="#F4A460" stroke-width="3.75"/>
<path d="M-64.7 -16.13A66.68 66.68 0 0 1 -59.36 -30.38M-58.32 -32.33A66.68 66.68 0 0 1 -49.48 -44.71M-47.97 -46.32A66.68 66.68 0 0 1 -36.22 -55.99M-34.34 -57.16A66.68 66.68 0 0 1 -20.5 -63.46M-18.38 -64.1A66.68 66.68 0 0 1 -3.37 -66.6M10.72 -59.45A60.41 60.41 0 0 1 12.29 -59.14M19.18 -57.28A60.41 60.41 0 0 1 21.93 -56.28M27.29 -53.89A60.41 60.41 0 0 1 32.17 -51.13M37.99 -46.96A60.41 60.41 0 0 1 40.04 -45.22M44.1 -41.28A60.41 60.41 0 0 1 44.68 -40.65M47.69 -37.08A60.41 60.41 0 0 1 48.42 -36.11M49.13 -35.14A60.41 60.41 0 0 1 49.72 -34.31M50.5 -33.14A60.41 60.41 0 0 1 51.48 -31.6M53.04 -28.91A60.41 60.41 0 0 1 53.94 -27.19M54.78 -25.45A60.41 60.41 0 0 1 55.56 -23.7M59.21 -11.96A60.41 60.41 0 0 1 59.3 -11.51M59.3 -11.51A60.41 60.41 0 0 1 59.5 -10.4M59.5 -10.4A60.41 60.41 0 0 1 59.75 -8.86M59.75 -8.86A60.41 60.41 0 0 1 60.09 -6.13M60.09 -6.13A60.41 60.41 0 0 1 60.17 -5.37M60.35 -2.53A60.41 60.41 0 0 1 60.38 -1.74M60.38 -1.74A60.41 60.41 0 0 1 60.39 -1.52M60.39 -1.52A60.41 60.41 0 0 1 60.4 -0.78M60.4 -0.78A60.41 60.41 0 0 1 60.4 -0.1M60.4 -0.1A60.41 60.41 0 0 1 60.4 1.09M59.25 11.74A60.41 60.41 0 0 1 59.07 12.62M59.07 12.62A60.41 60.41 0 0 1 58.87 13.53M58.87 13.53A60.41 60.41 0 0 1 58.45 15.25M58.45 15.25A60.41 60.41 0 0 1 58.35 15.62M58.35 15.62A60.41 60.41 0 0 1 58.07 16.65M56.14 22.29A60.41 60.41 0 0 1 56.12 22.33M56.12 22.33A60.41 60.41 0 0 1 56.12 22.35M56.12 22.35A60.41 60.41 0 0 1 56.11 22.38M56.11 22.38A60.41 60.41 0 0 1 56.1 22.4M56.1 22.4A60.41 60.41 0 0 1 56.09 22.43M55.23 24.47A60.41 60.41 0 0 1 55.11 24.73M55.11 24.73A60.41 60.41 0 0 1 55.08 24.81M55.08 24.81A60.41 60.41 0 0 1 55.01 24.94M55.01 24.94A60.41 60.41 0 0 1 54.88 25.25M54.88 25.25A60.41 60.41 0 0 1 54.8 25.4M52.62 29.67A60.41 60.41 0 0 1 52.15 30.48M52.15 30.48A60.41 60.41 0 0 1 51.7 31.24M51.7 31.24A60.41 60.41 0 0 1 51.48 31.61M51.48 31.61A60.41 60.41 0 0 1 51.26 31.95M51.26 31.95A60.41 60.41 0 0 1 51.06 32.28M48.87 35.5A60.41 60.41 0 0 1 48.79 35.62M48.79 35.62A60.41 60.41 0 0 1 48.7 35.74M48.7 35.74A60.41 60.41 0 0 1 48.52 35.98M48.52 35.98A60.41 60.41 0 0 1 48.43 36.1M48.43 36.1A60.41 60.41 0 0 1 48.37 36.18M47.08 37.85A60.41 60.41 0 0 1 46.73 38.28M46.73 38.28A60.41 60.41 0 0 1 46.58 38.46M46.58 38.46A60.41 60.41 0 0 1 46.35 38.74M46.35 38.74A60.41 60.41 0 0 1 46.23 38.87M46.23 38.87A60.41 60.41 0 0 1 46.15 38.98M43.87 41.53A60.41 60.41 0 0 1 43.54 41.87M43.54 41.87A60.41 60.41 0 0 1 43.29 42.13M43.29 42.13A60.41 60.41 0 0 1 43.14 42.28M43.14 42.28A60.41 60.41 0 0 1 43 42.43M40.19 45.1A60.41 60.41 0 0 1 39.81 45.43M39.81 45.43A60.41 60.41 0 0 1 39.58 45.63M37.8 47.12A60.41 60.41 0 0 1 37.63 47.25M37.63 47.25A60.41 60.41 0 0 1 37.31 47.51M33.21 50.46A60.41 60.41 0 0 1 32.92 50.64M32.92 50.64A60.41 60.41 0 0 1 32.71 50.79M32.71 50.79A60.41 60.41 0 0 1 32.45 50.95M29.65 52.63A60.41 60.41 0 0 1 29.45 52.74M29.45 52.74A60.41 60.41 0 0 1 29.04 52.97M29.04 52.97A60.41 60.41 0 0 1 28.81 53.09M26.75 54.16A60.41 60.41 0 0 1 26.48 54.29M26.48 54.29A60.41 60.41 0 0 1 25.92 54.56M22.39 56.1A60.41 60.41 0 0 1 22.1 56.22M22.1 56.22A60.41 60.41 0 0 1 21.98 56.26M21.98 56.26A60.41 60.41 0 0 1 21.81 56.33M21.81 56.33A60.41 60.41 0 0 1 21.49 56.45M18.49 57.51A60.41 60.41 0 0 1 18.27 57.58M18.27 57.58A60.41 60.41 0 0 1 18 57.66M18 57.66A60.41 60.41 0 0 1 17.85 57.71M15.62 58.35A60.41 60.41 0 0 1 15.49 58.38M15.49 58.38A60.41 60.41 0 0 1 15.24 58.45M15.24 58.45A60.41 60.41 0 0 1 14.99 58.51M14.99 58.51A60.41 60.41 0 0 1 14.83 58.56M14.83 58.56A60.41 60.41 0 0 1 14.64 58.6M11.21 59.36A60.41 60.41 0 0 1 10.93 59.41M10.93 59.41A60.41 60.41 0 0 1 10.67 59.46M7.67 59.92A60.41 60.41 0 0 1 7.45 59.94M7.45 59.94A60.41 60.41 0 0 1 7.27 59.97M7.27 59.97A60.41 60.41 0 0 1 7.16 59.98M4.85 60.21A60.41 60.41 0 0 1 4.63 60.23M4.63 60.23A60.41 60.41 0 0 1 4.45 60.24M4.45 60.24A60.41 60.41 0 0 1 4.15 60.26M0.81 60.4A60.41 60.41 0 0 1 0.49 60.4M0.49 60.4A60.41 60.41 0 0 1 0.32 60.4M-2.57 60.35A60.41 60.41 0 0 1 -2.72 60.34M-2.72 60.34A60.41 60.41 0 0 1 -2.99 60.33M-5.3 60.17A60.41 60.41 0 0 1 -5.48 60.16M-5.48 60.16A60.41 60.41 0 0 1 -5.61 60.14M-9.01 59.73A60.41 60.41 0 0 1 -9.2 59.7M-9.2 59.7A60.41 60.41 0 0 1 -9.38 59.67M-9.38 59.67A60.41 60.41 0 0 1 -9.49 59.66M-12.09 59.18A60.41 60.41 0 0 1 -12.27 59.15M-12.27 59.15A60.41 60.41 0 0 1 -12.58 59.08M-12.58 59.08A60.41 60.41 0 0 1 -12.7 59.05M-14.96 58.52A60.41 60.41 0 0 1 -15.25 58.45M-15.25 58.45A60.41 60.41 0 0 1 -15.42 58.4M-18.44 57.52A60.41 60.41 0 0 1 -18.59 57.47M-18.59 57.47A60.41 60.41 0 0 1 -18.75 57.42M-18.75 57.42A60.41 60.41 0 0 1 -18.93 57.36M-18.93 57.36A60.41 60.41 0 0 1 -19 57.34M-22.04 56.24A60.41 60.41 0 0 1 -23.36 55.71M-23.36 55.71A60.41 60.41 0 0 1 -27.24 53.92" stroke="#EE3B2F" stroke-width="3.75"/>
<path d="M-44.51 -11.1A45.87 45.87 0 0 1 -40.84 -20.9M-40.12 -22.24A45.87 45.87 0 0 1 -34.04 -30.75M-33 -31.87A45.87 45.87 0 0 1 -24.92 -38.52M-23.63 -39.32A45.87 45.87 0 0 1 -14.1 -43.65M-12.64 -44.1A45.87 45.87 0 0 1 -2.32 -45.81" stroke="#EE3B2F" stroke-width="4.05"/>
<path d="M-56.25 -22.01A60.41 60.41 0 0 1 -55.74 -23.29M-48.83 -35.56A60.41 60.41 0 0 1 -48.21 -36.39M-46.75 -38.25A60.41 60.41 0 0 1 -46.56 -38.48M-35.49 -48.88A60.41 60.41 0 0 1 -35.17 -49.11M-24.56 -55.19A60.41 60.41 0 0 1 -24.25 -55.32M-8.19 -59.85A60.41 60.41 0 0 1 -7.64 -59.92M-5.24 -60.18A60.41 60.41 0 0 1 -4.95 -60.2M58.21 32.53A66.68 66.68 0 0 1 56.37 35.63M17.24 64.42A66.68 66.68 0 0 1 15.72 64.8" stroke="#48D1CC" stroke-width="3.75"/>
<path d="M0 -45.87A45.87 45.87 0 0 1 33.93 -30.87M31.39 33.45A45.87 45.87 0 0 1 30.06 34.66M1.05 45.86A45.87 45.87 0 0 1 0.24 45.87" stroke="#B0C4DE" stroke-width="4.05"/>
<path d="M0 -42.68A42.68 42.68 0 0 1 7.57 -42.01M8.69 -41.79A42.68 42.68 0 0 1 13.55 -40.48M15.5 -39.77A42.68 42.68 0 0 1 19.28 -38.08M22.73 -36.13A42.68 42.68 0 0 1 26.85 -33.18M28.3 -31.96A42.68 42.68 0 0 1 31.16 -29.17M33.03 -27.03A42.68 42.68 0 0 1 33.7 -26.2M34.22 -25.52A42.68 42.68 0 0 1 34.72 -24.83M35.13 -24.24A42.68 42.68 0 0 1 35.69 -23.42M36.38 -22.33A42.68 42.68 0 0 1 37.48 -20.43M38.11 -19.21A42.68 42.68 0 0 1 38.71 -17.99M39.98 -14.95A42.68 42.68 0 0 1 40.83 -12.43M40.83 -12.43A42.68 42.68 0 0 1 40.96 -12.01M40.96 -12.01A42.68 42.68 0 0 1 41.16 -11.31M41.16 -11.31A42.68 42.68 0 0 1 41.56 -9.71M41.56 -9.71A42.68 42.68 0 0 1 41.84 -8.45M42.68 0.77A42.68 42.68 0 0 1 42.64 1.86M42.64 1.86A42.68 42.68 0 0 1 42.6 2.62M42.6 2.62A42.68 42.68 0 0 1 42.49 4.1M42.49 4.1A42.68 42.68 0 0 1 42.4 4.89M42.4 4.89A42.68 42.68 0 0 1 42.31 5.65M42.1 7.04A42.68 42.68 0 0 1 42.06 7.26M42.06 7.26A42.68 42.68 0 0 1 42 7.59M42 7.59A42.68 42.68 0 0 1 41.94 7.94M41.94 7.94A42.68 42.68 0 0 1 41.92 8.05M41.92 8.05A42.68 42.68 0 0 1 41.87 8.3M40.59 13.19A42.68 42.68 0 0 1 40.42 13.71M40.42 13.71A42.68 42.68 0 0 1 40.29 14.09M40.29 14.09A42.68 42.68 0 0 1 40.09 14.66M40.09 14.66A42.68 42.68 0 0 1 39.81 15.4M39.81 15.4A42.68 42.68 0 0 1 39.67 15.75M38.72 17.95A42.68 42.68 0 0 1 38.54 18.34M38.54 18.34A42.68 42.68 0 0 1 38.47 18.48M38.47 18.48A42.68 42.68 0 0 1 38.37 18.69M38.37 18.69A42.68 42.68 0 0 1 38.3 18.84M38.3 18.84A42.68 42.68 0 0 1 37.86 19.71M37.26 20.82A42.68 42.68 0 0 1 37.24 20.85M37.24 20.85A42.68 42.68 0 0 1 37.22 20.89M37.22 20.89A42.68 42.68 0 0 1 37.21 20.92M37.21 20.92A42.68 42.68 0 0 1 37.19 20.94M37.19 20.94A42.68 42.68 0 0 1 37.18 20.97M35.3 23.99A42.68 42.68 0 0 1 35.12 24.26M35.12 24.26A42.68 42.68 0 0 1 35.02 24.4M35.02 24.4A42.68 42.68 0 0 1 34.84 24.65M34.84 24.65A42.68 42.68 0 0 1 34.66 24.91M34.66 24.91A42.68 42.68 0 0 1 34.53 25.09M32.61 27.54A42.68 42.68 0 0 1 32.59 27.56M32.59 27.56A42.68 42.68 0 0 1 32.55 27.62M32.55 27.62A42.68 42.68 0 0 1 32.51 27.65M32.51 27.65A42.68 42.68 0 0 1 32.47 27.71M32.47 27.71A42.68 42.68 0 0 1 32.41 27.78M31.62 28.67A42.68 42.68 0 0 1 31.37 28.95M31.37 28.95A42.68 42.68 0 0 1 31.14 29.19M31.14 29.19A42.68 42.68 0 0 1 31 29.34M29.21 31.12A42.68 42.68 0 0 1 28.93 31.38M28.93 31.38A42.68 42.68 0 0 1 28.68 31.61M28.68 31.61A42.68 42.68 0 0 1 28.4 31.87M26.36 33.57A42.68 42.68 0 0 1 26.08 33.79M26.08 33.79A42.68 42.68 0 0 1 25.95 33.89M25.95 33.89A42.68 42.68 0 0 1 25.75 34.04M25.75 34.04A42.68 42.68 0 0 1 25.47 34.25M24.14 35.2A42.68 42.68 0 0 1 24.01 35.29M24.01 35.29A42.68 42.68 0 0 1 23.83 35.41M23.83 35.41A42.68 42.68 0 0 1 23.64 35.54M23.64 35.54A42.68 42.68 0 0 1 23.47 35.65M21.53 36.85A42.68 42.68 0 0 1 21.31 36.98M21.31 36.98A42.68 42.68 0 0 1 21.08 37.11M21.08 37.11A42.68 42.68 0 0 1 20.95 37.19M18.32 38.55A42.68 42.68 0 0 1 17.96 38.72M17.96 38.72A42.68 42.68 0 0 1 17.77 38.81M16.27 39.46A42.68 42.68 0 0 1 16.11 39.53M16.11 39.53A42.68 42.68 0 0 1 16.02 39.56M16.02 39.56A42.68 42.68 0 0 1 15.82 39.64M13.64 40.44A42.68 42.68 0 0 1 13.48 40.5M13.48 40.5A42.68 42.68 0 0 1 13.35 40.54M13.35 40.54A42.68 42.68 0 0 1 13.06 40.64M10.34 41.41A42.68 42.68 0 0 1 10.2 41.45M10.2 41.45A42.68 42.68 0 0 1 10.06 41.48M8.46 41.84A42.68 42.68 0 0 1 8.35 41.86M8.35 41.86A42.68 42.68 0 0 1 8.19 41.89M8.19 41.89A42.68 42.68 0 0 1 7.92 41.94M5.92 42.27A42.68 42.68 0 0 1 5.79 42.29M5.79 42.29A42.68 42.68 0 0 1 5.6 42.31M5.6 42.31A42.68 42.68 0 0 1 5.42 42.34M2.93 42.58A42.68 42.68 0 0 1 2.77 42.59M2.77 42.59A42.68 42.68 0 0 1 2.62 42.6M0.98 42.67A42.68 42.68 0 0 1 0.76 42.68M0.76 42.68A42.68 42.68 0 0 1 0.58 42.68M-1.41 42.66A42.68 42.68 0 0 1 -1.57 42.65M-1.57 42.65A42.68 42.68 0 0 1 -1.7 42.65M-1.7 42.65A42.68 42.68 0 0 1 -1.82 42.64M-3.97 42.5A42.68 42.68 0 0 1 -4.1 42.49M-4.1 42.49A42.68 42.68 0 0 1 -4.25 42.47M-4.25 42.47A42.68 42.68 0 0 1 -4.41 42.45M-6.04 42.25A42.68 42.68 0 0 1 -6.12 42.24M-6.12 42.24A42.68 42.68 0 0 1 -6.25 42.22M-6.25 42.22A42.68 42.68 0 0 1 -6.37 42.21M-8.32 41.87A42.68 42.68 0 0 1 -8.42 41.84M-8.42 41.84A42.68 42.68 0 0 1 -8.54 41.82M-10.9 41.27A42.68 42.68 0 0 1 -11.07 41.22M-11.07 41.22A42.68 42.68 0 0 1 -11.22 41.18M-12.79 40.72A42.68 42.68 0 0 1 -12.88 40.69M-12.88 40.69A42.68 42.68 0 0 1 -12.93 40.68M-12.93 40.68A42.68 42.68 0 0 1 -13.03 40.65" stroke="#2E8B2E" stroke-width="1.11"/>
<path d="M7.57 -42.01A42.68 42.68 0 0 1 8.69 -41.79M13.55 -40.48A42.68 42.68 0 0 1 15.5 -39.77M19.28 -38.08A42.68 42.68 0 0 1 22.73 -36.13M26.85 -33.18A42.68 42.68 0 0 1 28.3 -31.96M31.16 -29.17A42.68 42.68 0 0 1 31.57 -28.73M33.7 -26.2A42.68 42.68 0 0 1 34.22 -25.52M34.72 -24.83A42.68 42.68 0 0 1 35.13 -24.24M35.69 -23.42A42.68 42.68 0 0 1 36.38 -22.33M37.48 -20.43A42.68 42.68 0 0 1 38.11 -19.21M38.71 -17.99A42.68 42.68 0 0 1 39.26 -16.75M41.84 -8.45A42.68 42.68 0 0 1 41.9 -8.13M41.9 -8.13A42.68 42.68 0 0 1 42.05 -7.35M42.05 -7.35A42.68 42.68 0 0 1 42.22 -6.26M42.22 -6.26A42.68 42.68 0 0 1 42.46 -4.33M42.46 -4.33A42.68 42.68 0 0 1 42.51 -3.79M42.65 -1.79A42.68 42.68 0 0 1 42.67 -1.23M42.67 -1.23A42.68 42.68 0 0 1 42.67 -1.08M42.67 -1.08A42.68 42.68 0 0 1 42.68 -0.55M42.68 -0.55A42.68 42.68 0 0 1 42.68 -0.07M42.68 -0.07A42.68 42.68 0 0 1 42.68 0.77M41.87 8.3A42.68 42.68 0 0 1 41.74 8.91M41.74 8.91A42.68 42.68 0 0 1 41.6 9.56M41.6 9.56A42.68 42.68 0 0 1 41.3 10.78M41.3 10.78A42.68 42.68 0 0 1 41.23 11.04M41.23 11.04A42.68 42.68 0 0 1 41.03 11.77M39.67 15.75A42.68 42.68 0 0 1 39.66 15.78M39.66 15.78A42.68 42.68 0 0 1 39.65 15.79M39.65 15.79A42.68 42.68 0 0 1 39.65 15.82M39.65 15.82A42.68 42.68 0 0 1 39.64 15.83M39.64 15.83A42.68 42.68 0 0 1 39.63 15.85M39.02 17.29A42.68 42.68 0 0 1 38.94 17.47M38.94 17.47A42.68 42.68 0 0 1 38.92 17.53M38.92 17.53A42.68 42.68 0 0 1 38.87 17.63M38.87 17.63A42.68 42.68 0 0 1 38.78 17.84M38.78 17.84A42.68 42.68 0 0 1 38.72 17.95M37.18 20.97A42.68 42.68 0 0 1 36.85 21.54M36.85 21.54A42.68 42.68 0 0 1 36.53 22.07M36.53 22.07A42.68 42.68 0 0 1 36.37 22.33M36.37 22.33A42.68 42.68 0 0 1 36.22 22.58M36.22 22.58A42.68 42.68 0 0 1 36.08 22.81M34.53 25.09A42.68 42.68 0 0 1 34.47 25.17M34.47 25.17A42.68 42.68 0 0 1 34.41 25.25M34.41 25.25A42.68 42.68 0 0 1 34.28 25.43M34.28 25.43A42.68 42.68 0 0 1 34.22 25.51M34.22 25.51A42.68 42.68 0 0 1 34.18 25.57M33.26 26.75A42.68 42.68 0 0 1 33.02 27.05M33.02 27.05A42.68 42.68 0 0 1 32.91 27.18M32.91 27.18A42.68 42.68 0 0 1 32.75 27.37M32.75 27.37A42.68 42.68 0 0 1 32.67 27.47M32.67 27.47A42.68 42.68 0 0 1 32.61 27.54M31 29.34A42.68 42.68 0 0 1 30.77 29.58M30.77 29.58A42.68 42.68 0 0 1 30.59 29.77M30.59 29.77A42.68 42.68 0 0 1 30.49 29.87M30.49 29.87A42.68 42.68 0 0 1 30.38 29.98M28.4 31.87A42.68 42.68 0 0 1 28.13 32.1M28.13 32.1A42.68 42.68 0 0 1 27.97 32.25M26.71 33.3A42.68 42.68 0 0 1 26.59 33.39M26.59 33.39A42.68 42.68 0 0 1 26.36 33.57M23.47 35.65A42.68 42.68 0 0 1 23.26 35.79M23.26 35.79A42.68 42.68 0 0 1 23.11 35.89M23.11 35.89A42.68 42.68 0 0 1 22.93 36M20.95 37.19A42.68 42.68 0 0 1 20.81 37.27M20.81 37.27A42.68 42.68 0 0 1 20.52 37.43M20.52 37.43A42.68 42.68 0 0 1 20.36 37.52M18.9 38.27A42.68 42.68 0 0 1 18.71 38.36M18.71 38.36A42.68 42.68 0 0 1 18.32 38.55M15.82 39.64A42.68 42.68 0 0 1 15.62 39.72M15.62 39.72A42.68 42.68 0 0 1 15.53 39.76M15.53 39.76A42.68 42.68 0 0 1 15.41 39.8M15.41 39.8A42.68 42.68 0 0 1 15.19 39.89M13.06 40.64A42.68 42.68 0 0 1 12.91 40.68M12.91 40.68A42.68 42.68 0 0 1 12.72 40.75M12.72 40.75A42.68 42.68 0 0 1 12.61 40.78M11.04 41.23A42.68 42.68 0 0 1 10.95 41.26M10.95 41.26A42.68 42.68 0 0 1 10.77 41.3M10.77 41.3A42.68 42.68 0 0 1 10.59 41.35M10.59 41.35A42.68 42.68 0 0 1 10.48 41.38M10.48 41.38A42.68 42.68 0 0 1 10.34 41.41M7.92 41.94A42.68 42.68 0 0 1 7.72 41.98M7.72 41.98A42.68 42.68 0 0 1 7.54 42.01M5.42 42.34A42.68 42.68 0 0 1 5.26 42.36M5.26 42.36A42.68 42.68 0 0 1 5.14 42.37M5.14 42.37A42.68 42.68 0 0 1 5.06 42.38M3.43 42.55A42.68 42.68 0 0 1 3.27 42.56M3.27 42.56A42.68 42.68 0 0 1 3.15 42.57M3.15 42.57A42.68 42.68 0 0 1 2.93 42.58M0.58 42.68A42.68 42.68 0 0 1 0.35 42.68M0.35 42.68A42.68 42.68 0 0 1 0.23 42.68M-1.82 42.64A42.68 42.68 0 0 1 -1.92 42.64M-1.92 42.64A42.68 42.68 0 0 1 -2.11 42.63M-3.75 42.52A42.68 42.68 0 0 1 -3.87 42.51M-3.87 42.51A42.68 42.68 0 0 1 -3.97 42.5M-6.37 42.21A42.68 42.68 0 0 1 -6.5 42.19M-6.5 42.19A42.68 42.68 0 0 1 -6.63 42.17M-6.63 42.17A42.68 42.68 0 0 1 -6.7 42.15M-8.54 41.82A42.68 42.68 0 0 1 -8.67 41.79M-8.67 41.79A42.68 42.68 0 0 1 -8.89 41.75M-8.89 41.75A42.68 42.68 0 0 1 -8.97 41.73M-10.57 41.35A42.68 42.68 0 0 1 -10.78 41.3M-10.78 41.3A42.68 42.68 0 0 1 -10.9 41.27M-13.03 40.65A42.68 42.68 0 0 1 -13.13 40.61M-13.13 40.61A42.68 42.68 0 0 1 -13.25 40.57M-13.25 40.57A42.68 42.68 0 0 1 -13.38 40.53M-13.38 40.53A42.68 42.68 0 0 1 -13.43 40.52M-15.57 39.74A42.68 42.68 0 0 1 -16.51 39.36M-16.51 39.36A42.68 42.68 0 0 1 -19.25 38.1" stroke="#EE3B2F" stroke-width="1.11"/>
<path d="M35.5 -29.06A45.87 45.87 0 0 1 42.2 -18M28.7 35.78A45.87 45.87 0 0 1 27.38 36.81M-1.52 45.85A45.87 45.87 0 0 1 -2.27 45.82" stroke="#FAF0E6" stroke-width="4.05"/>
<path d="M42.97 -16.07A45.87 45.87 0 0 1 45.69 -4.08M25.94 37.83A45.87 45.87 0 0 1 24.65 38.69M-4.03 45.7A45.87 45.87 0 0 1 -4.74 45.63" stroke="#6495ED" stroke-width="4.05"/>
<path d="M45.83 -1.92A45.87 45.87 0 0 1 45.47 6.07M23.14 39.61A45.87 45.87 0 0 1 21.88 40.32M-6.49 45.41A45.87 45.87 0 0 1 -7.21 45.3" stroke="#CD5C5C" stroke-width="4.05"/>
<path d="M45.24 7.57A45.87 45.87 0 0 1 44.1 12.64M20.32 41.13A45.87 45.87 0 0 1 19.1 41.71M-8.94 44.99A45.87 45.87 0 0 1 -9.64 44.85" stroke="#BA55D3" stroke-width="4.05"/>
<path d="M43.63 14.18A45.87 45.87 0 0 1 42.59 17.04M17.49 42.41A45.87 45.87 0 0 1 16.32 42.87M-11.36 44.44A45.87 45.87 0 0 1 -12.06 44.26" stroke="#3CB371" stroke-width="4.05"/>
<path d="M41.94 18.59A45.87 45.87 0 0 1 40.69 21.18M14.66 43.47A45.87 45.87 0 0 1 13.55 43.83M-13.75 43.77A45.87 45.87 0 0 1 -14.43 43.54" stroke="#7B68EE" stroke-width="4.05"/>
<path d="M40.04 22.38A45.87 45.87 0 0 1 38.78 24.51M11.86 44.31A45.87 45.87 0 0 1 10.81 44.58" stroke="#48D1CC" stroke-width="4.05"/>
<path d="M37.94 25.78A45.87 45.87 0 0 1 36.73 27.48M9.09 44.96A45.87 45.87 0 0 1 8.1 45.15M-16.74 42.71A45.87 45.87 0 0 1 -20.68 40.95" stroke="#008080" stroke-width="4.05"/>
<path d="M35.75 28.74A45.87 45.87 0 0 1 34.83 29.85M6.36 45.43A45.87 45.87 0 0 1 5.44 45.55" stroke="#F4A460" stroke-width="4.05"/>
<path d="M33.98 30.81A45.87 45.87 0 0 1 32.65 32.22M3.68 45.73A45.87 45.87 0 0 1 2.81 45.79" stroke="#6B8E23" stroke-width="4.05"/>
<path d="M44.75 -36.62A57.82 57.82 0 0 1 53.19 -22.69M54.16 -20.25A57.82 57.82 0 0 1 57.59 -5.14" stroke="#222" stroke-width="1.22"/>
<path d="M0 -58.3L0 -57.2M4.9 -58.1L4.8 -57M9.7 -57.5L9.5 -56.4M14.4 -56.5L14.1 -55.4M19.1 -55.1L18.7 -54.1M23.6 -53.3L23.1 -52.3M27.9 -51.2L27.4 -50.2M32.1 -48.7L31.5 -47.8M36 -45.9L35.4 -45M39.7 -42.7L39 -41.9M43.1 -39.3L42.3 -38.5" stroke="#111" stroke-width="0.7"/>
</g>
<g class="t">
<text text-anchor="end" transform="translate(0 -56.5) rotate(-90)">0%</text>
<text text-anchor="end" transform="translate(4.7 -56.3) rotate(-85.2)">10%</text>
<text text-anchor="end" transform="translate(9.4 -55.7) rotate(-80.5)">20%</text>
<text text-anchor="end" transform="translate(14 -54.8) rotate(-75.7)">30%</text>
<text text-anchor="end" transform="translate(18.5 -53.4) rotate(-70.9)">40%</text>
<text text-anchor="end" transform="translate(22.8 -51.7) rotate(-66.2)">50%</text>
<text text-anchor="end" transform="translate(27.1 -49.6) rotate(-61.4)">60%</text>
<text text-anchor="end" transform="translate(31.1 -47.2) rotate(-56.6)">70%</text>
<text text-anchor="end" transform="translate(34.9 -44.4) rotate(-51.8)">80%</text>
<text text-anchor="end" transform="translate(38.5 -41.4) rotate(-47.1)">90%</text>
<text text-anchor="end" transform="translate(41.8 -38) rotate(-42.3)">100%</text>
<text text-anchor="end" font-size="0.9" transform="translate(45.1 -36.9) rotate(-39.3)">0%</text>
<text text-anchor="end" font-size="0.9" transform="translate(47.2 -34.3) rotate(-36.1)">20%</text>
<text text-anchor="end" font-size="0.9" transform="translate(49 -31.6) rotate(-32.8)">40%</text>
<text text-anchor="end" font-size="0.9" transform="translate(50.7 -28.8) rotate(-29.6)">60%</text>
<text text-anchor="end" font-size="0.9" transform="translate(52.3 -25.9) rotate(-26.3)">80%</text>
<text text-anchor="end" font-size="0.9" transform="translate(53.7 -22.9) rotate(-23.1)">100%</text>
<text text-anchor="end" font-size="0.9" transform="translate(54.6 -20.4) rotate(-20.5)">0%</text>
<text text-anchor="end" font-size="0.9" transform="translate(55.7 -17.5) rotate(-17.4)">20%</text>
<text text-anchor="end" font-size="0.9" transform="translate(56.5 -14.4) rotate(-14.3)">40%</text>
<text text-anchor="end" font-size="0.9" transform="translate(57.2 -11.4) rotate(-11.3)">60%</text>
<text text-anchor="end" font-size="0.9" transform="translate(57.7 -8.3) rotate(-8.2)">80%</text>
<text text-anchor="end" font-size="0.9" transform="translate(58.1 -5.2) rotate(-5.1)">100%</text>
<text text-anchor="middle" font-size="3.7" transform="translate(-40.7 56.9) rotate(-144.4)">15w-1</text>
<text text-anchor="middle" font-size="3.7" transform="translate(-54 44.5) rotate(-129.4)">15w-2</text>
<text text-anchor="middle" font-size="3.7" transform="translate(-63.7 29) rotate(-114.4)">15w-3</text>
<text text-anchor="middle" font-size="3.7" transform="translate(-69 11.5) rotate(-99.4)">15w-4</text>
<text text-anchor="middle" font-size="3.7" transform="translate(-69.6 -6.8) rotate(-84.4)">15w-5</text>
<text text-anchor="middle" font-size="3.7" transform="translate(-65.5 -24.6) rotate(-69.4)">Con-15w-1</text>
<text text-anchor="middle" font-size="3.7" transform="translate(-56.9 -40.7) rotate(-54.4)">Con-15w-2</text>
<text text-anchor="middle" font-size="3.7" transform="translate(-44.5 -54) rotate(-39.4)">Con-15w-3</text>
<text text-anchor="middle" font-size="3.7" transform="translate(-29 -63.7) rotate(-24.4)">Con-15w-4</text>
<text text-anchor="middle" font-size="3.7" transform="translate(-11.5 -69) rotate(-9.4)">Con-15w-5</text>
</g>
</g>
<text x="564.4" y="698.98" font-size="4.95" class="k" textLength="28.6" lengthAdjust="spacingAndGlyphs">Lactobacillus</text>
<text x="591.6" y="726.18" font-size="4.95" class="k" textLength="70.4" lengthAdjust="spacingAndGlyphs">unclassified_f_Lachnospiraceae</text>
<text x="599.6" y="746.18" font-size="4.94" class="k" textLength="56.8" lengthAdjust="spacingAndGlyphs">norank_f_Muribaculaceae</text>
<text x="601.6" y="766.18" font-size="4.93" class="k" textLength="76.8" lengthAdjust="spacingAndGlyphs">Lachnospiraceae_NK4A136_group</text>
<text x="601" y="778.13" font-size="4.82" class="k" textLength="16.6" lengthAdjust="spacingAndGlyphs">Bacillus</text>
<text x="598" y="786.75" font-size="4.85" class="k" textLength="25.6" lengthAdjust="spacingAndGlyphs">Bacteroides</text>
<text x="595.6" y="793.58" font-size="4.95" class="k" textLength="61.4" lengthAdjust="spacingAndGlyphs">Lachnospiraceae_UCG-006</text>
<text x="591.6" y="798.99" font-size="4.98" class="k" textLength="26" lengthAdjust="spacingAndGlyphs">Odoribacter</text>
<text x="588" y="804.78" font-size="4.93" class="k" textLength="29.6" lengthAdjust="spacingAndGlyphs">Alloprevotella</text>
<text x="584.6" y="810.8" font-size="5" class="k" textLength="32.8" lengthAdjust="spacingAndGlyphs">Enterorhabdus</text>
</svg>
</body></html>
